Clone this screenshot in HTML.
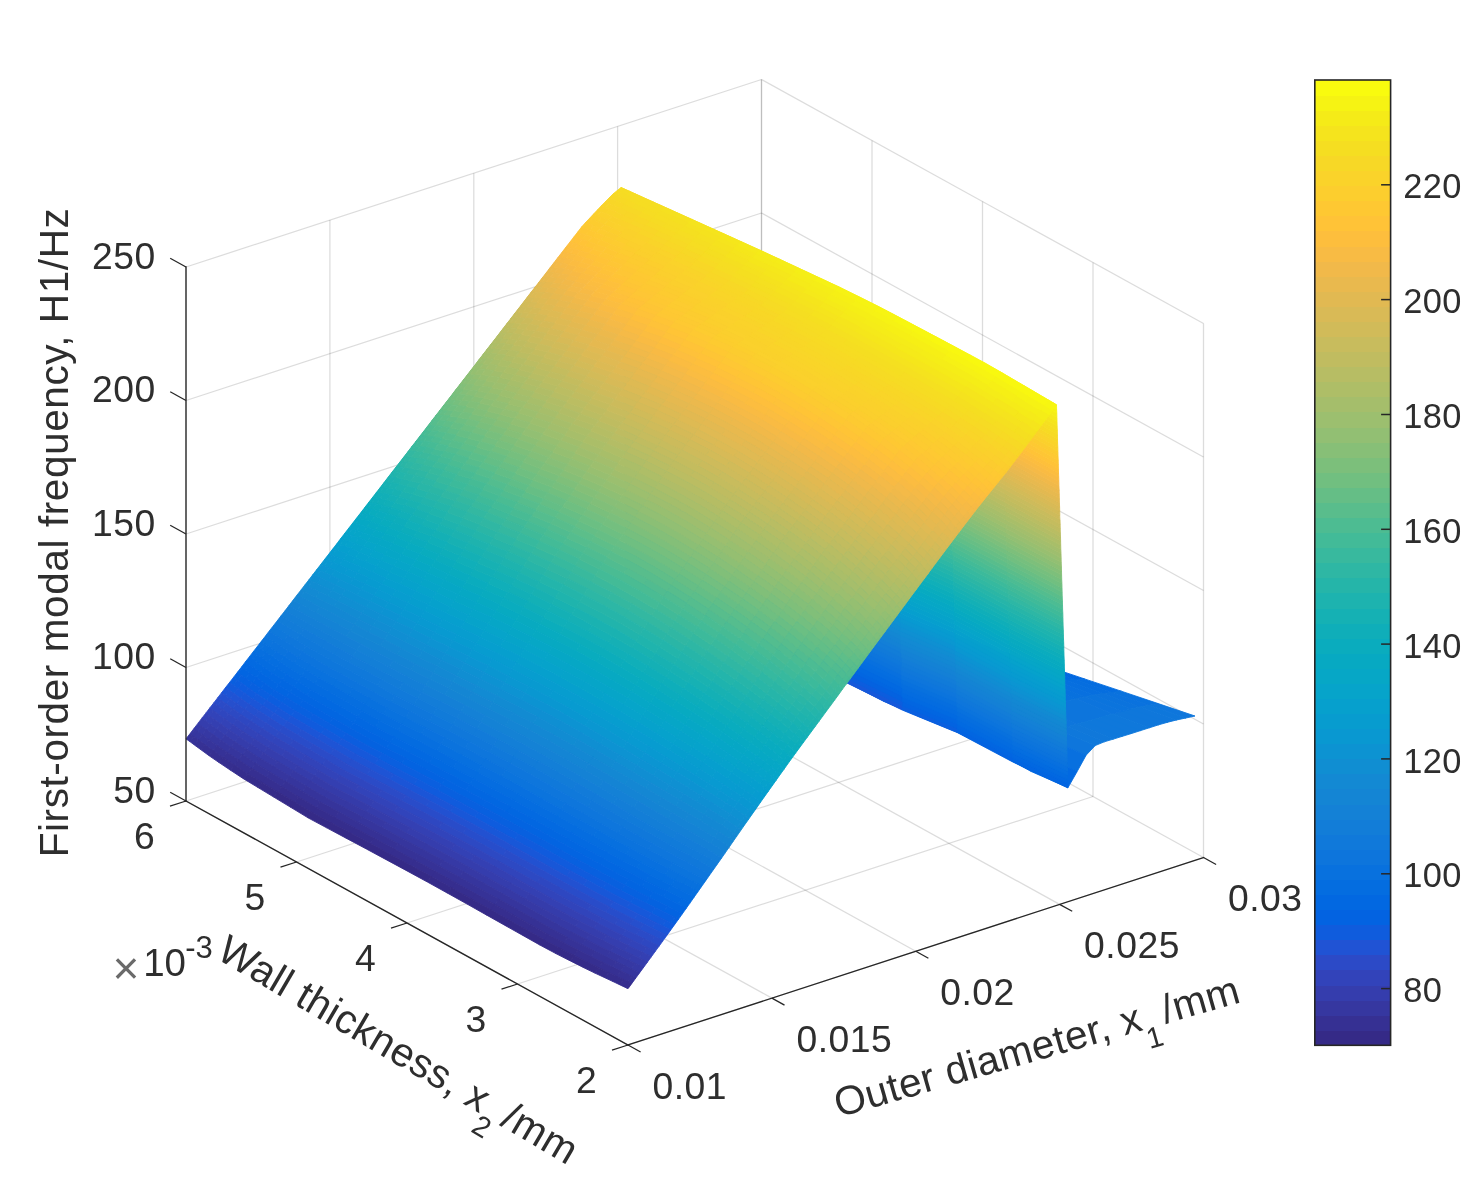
<!DOCTYPE html>
<html lang="en"><head><meta charset="utf-8"><title>First-order modal frequency surface</title>
<style>html,body{margin:0;padding:0;background:#fff}body{width:1483px;height:1185px;overflow:hidden}</style>
</head><body>
<svg width="1483" height="1185" viewBox="0 0 1483 1185" style="display:block" role="img" aria-label="3D surface plot of first-order modal frequency versus outer diameter and wall thickness">
<rect x="0" y="0" width="1483" height="1185" fill="#ffffff"/>
<g stroke="#262626" stroke-opacity="0.16" stroke-width="1.25" fill="none" stroke-linecap="butt">
<path d="M186.0 801.0L628.0 1045.0"/>
<path d="M186.0 801.0L761.5 613.5"/>
<path d="M186.0 801.0L186.0 267.0"/>
<path d="M761.5 613.5L761.5 79.5"/>
<path d="M329.9 754.1L771.9 998.1"/>
<path d="M296.5 862.0L872.0 674.5"/>
<path d="M329.9 754.1L329.9 220.1"/>
<path d="M186.0 667.5L761.5 480.0"/>
<path d="M872.0 674.5L872.0 140.5"/>
<path d="M761.5 480.0L1203.5 724.0"/>
<path d="M473.8 707.2L915.8 951.2"/>
<path d="M407.0 923.0L982.5 735.5"/>
<path d="M473.8 707.2L473.8 173.2"/>
<path d="M186.0 534.0L761.5 346.5"/>
<path d="M982.5 735.5L982.5 201.5"/>
<path d="M761.5 346.5L1203.5 590.5"/>
<path d="M617.6 660.4L1059.6 904.4"/>
<path d="M517.5 984.0L1093.0 796.5"/>
<path d="M617.6 660.4L617.6 126.4"/>
<path d="M186.0 400.5L761.5 213.0"/>
<path d="M1093.0 796.5L1093.0 262.5"/>
<path d="M761.5 213.0L1203.5 457.0"/>
<path d="M761.5 613.5L1203.5 857.5"/>
<path d="M628.0 1045.0L1203.5 857.5"/>
<path d="M761.5 613.5L761.5 79.5"/>
<path d="M186.0 267.0L761.5 79.5"/>
<path d="M1203.5 857.5L1203.5 323.5"/>
<path d="M761.5 79.5L1203.5 323.5"/>
</g>
<g stroke-width="0.9" stroke-linejoin="round">
<path d="M743.9 565.1l9.1 2.4l36.8 12.4l-9 -2.1z" fill="#352b89" stroke="#352b89"/>
<path d="M780.8 577.8l9 2.1l36.9 12.3l-9.1 -1.6z" fill="#363297" stroke="#363297"/>
<path d="M817.6 590.6l9.1 1.6l36.8 12.4l-9.1 -1.3zM716.7 558.7l9.1 1.9l36.8 13.4l-9.1 -1.5z" fill="#3639a5" stroke="#3639a5"/>
<path d="M854.4 603.3l9.1 1.3l36.8 12.4l-9 -1z" fill="#3440b3" stroke="#3440b3"/>
<path d="M891.3 616l9 1l36.9 12.4l-9.1 -0.6zM836.3 601l9.1 1l36.8 13.1l-9.1 -0.6zM626 577.6l9.1 -11.6l36.8 17.1l-9.1 12z" fill="#2e47c1" stroke="#2e47c1"/>
<path d="M928.1 628.8l9.1 0.6l36.8 12.4l-9.1 -0.3zM873.1 614.5l9.1 0.6l36.8 13.1l-9 -0.3zM818.1 599.8l9.1 0.4l36.8 13.8l-9 0.1zM763.2 584.1l9 0.8l36.9 14.6l-9.1 -0.5z" fill="#2450cf" stroke="#2450cf"/>
<path d="M964.9 641.5l9.1 0.3l36.8 12.3l-9 0.2zM745 582.4l9.1 0.9l36.8 15.3l-9 -0.5zM708.7 600.3l9.1 -12.8l36.8 16.8l-9 13.1z" fill="#135adb" stroke="#135adb"/>
<path d="M1001.8 654.3l9 -0.2l36.9 12.4l-9.1 0.5zM937.7 641.7l9.1 -0.3l36.8 13.7l-9.1 0.8zM772.8 597.5l9.1 0.6l36.8 15.6l-9.1 -0.2z" fill="#0462e0" stroke="#0462e0"/>
<path d="M1038.6 667l9.1 -0.5l36.8 12.4l-9.1 0.6zM892.9 687.1l9.1 -14.7l36.8 15.4l-9.1 14.9z" fill="#0268e1" stroke="#0268e1"/>
<path d="M1075.4 679.5l9.1 -0.6l36.8 12.3l-9 1.2zM1002.3 670.7l9.1 -1.4l36.8 13.2l-9.1 1.6zM929.2 661.5l9.1 -1l36.8 14.4l-9.1 1.2z" fill="#056de0" stroke="#056de0"/>
<path d="M1112.3 692.4l9 -1.2l36.9 12.4l-9.1 1.7zM1030.1 685.7l9 -1.6l36.9 14.7l-9.1 2.1zM957 677.4l9 -1.3l36.9 14.2l-9.1 1.4z" fill="#0972de" stroke="#0972de"/>
<path d="M1149.1 705.3l9.1 -1.7l36.8 12.4l-9.1 2zM1030.6 708.8l9.1 -1.9l36.8 17.4l-9 2.5zM1021.5 711.8l9.1 -3l36.9 18l-9.1 3.5zM1049.3 739.6l9.1 -9.3l36.8 15.3l-9.1 9.6z" fill="#0e76dc" stroke="#0e76dc"/>
<path d="M734.9 562.6l9 2.5l36.9 12.7l-9.1 -2.1z" fill="#363093" stroke="#363093"/>
<path d="M771.7 575.7l9.1 2.1l36.8 12.8l-9.1 -1.7z" fill="#3637a0" stroke="#3637a0"/>
<path d="M808.5 588.9l9.1 1.7l36.8 12.7l-9 -1.3zM707.6 557.2l9.1 1.5l36.8 13.8l-9 -1.1z" fill="#353dad" stroke="#353dad"/>
<path d="M845.4 602l9 1.3l36.9 12.7l-9.1 -0.9zM689.5 554.2l9.1 1.6l36.8 14.5l-9.1 -1.1z" fill="#3144bb" stroke="#3144bb"/>
<path d="M882.2 615.1l9.1 0.9l36.8 12.8l-9.1 -0.6zM827.2 600.2l9.1 0.8l36.8 13.5l-9.1 -0.5zM772.2 584.9l9.1 0.7l36.8 14.2l-9 -0.3z" fill="#294cc9" stroke="#294cc9"/>
<path d="M919 628.2l9.1 0.6l36.8 12.7l-9 -0.2zM864 614l9.1 0.5l36.9 13.4l-9.1 0zM754.1 583.3l9.1 0.8l36.8 14.9l-9.1 -0.4zM773.3 647.6l9.1 -13.1l36.8 17.2l-9 13.4z" fill="#1e54d5" stroke="#1e54d5"/>
<path d="M955.9 641.3l9 0.2l36.9 12.8l-9.1 0.3zM836.8 614l9.1 0.1l36.8 14.5l-9 0.3zM736 581.4l9 1l36.9 15.7l-9.1 -0.6zM745.6 617.4l9 -13.1l36.9 16.8l-9.1 13.4z" fill="#0c5dde" stroke="#0c5dde"/>
<path d="M992.7 654.6l9.1 -0.3l36.8 12.7l-9.1 0.4zM928.6 642.5l9.1 -0.8l36.8 14.2l-9 1.2zM754.6 604.3l9.1 -6.3l36.8 16.4l-9 6.7zM819.2 651.7l9.1 -13.9l36.8 16.8l-9 14.2zM920.7 717.2l9 -14.5l36.9 14.9l-9.1 14.7z" fill="#0364e1" stroke="#0364e1"/>
<path d="M1029.5 667.4l9.1 -0.4l36.8 12.5l-9 0.7zM956.4 658.3l9.1 -1.2l36.8 13.6l-9.1 1.5zM828.3 637.8l9.1 -7l36.8 16.4l-9.1 7.4z" fill="#026ae1" stroke="#026ae1"/>
<path d="M1066.4 680.2l9 -0.7l36.9 12.9l-9.1 1.1zM920.1 662.5l9.1 -1l36.8 14.6l-9 1.3z" fill="#066edf" stroke="#066edf"/>
<path d="M1103.2 693.5l9.1 -1.1l36.8 12.9l-9.1 1.7zM1021 687.3l9.1 -1.6l36.8 15.2l-9.1 2zM947.9 679.7l9.1 -2.3l36.8 14.3l-9.1 2.5z" fill="#0a72de" stroke="#0a72de"/>
<path d="M1140 707l9.1 -1.7l36.8 12.7l-9 1.9z" fill="#0e77db" stroke="#0e77db"/>
<path d="M725.8 560.6l9.1 2l36.8 13.1l-9.1 -1.7z" fill="#36359d" stroke="#36359d"/>
<path d="M762.6 574l9.1 1.7l36.8 13.2l-9 -1.4z" fill="#353ba9" stroke="#353ba9"/>
<path d="M799.5 587.5l9 1.4l36.9 13.1l-9.1 -1zM698.6 555.8l9 1.4l36.9 14.2l-9.1 -1.1z" fill="#3341b5" stroke="#3341b5"/>
<path d="M910 627.9l9 0.3l36.9 13.1l-9.1 0.1zM699.1 565.4l9.1 1.3l36.8 15.7l-9 -1zM653.2 548.8l9.1 0.6l36.8 16l-9.1 -0.2zM644.1 554l9.1 -5.2l36.8 16.4l-9 5.6zM810.2 665.1l9 -13.4l36.9 17.1l-9.1 13.8z" fill="#1658da" stroke="#1658da"/>
<path d="M946.8 641.4l9.1 -0.1l36.8 13.3l-9.1 0.5z" fill="#0860df" stroke="#0860df"/>
<path d="M983.6 655.1l9.1 -0.5l36.8 12.8l-9 0.9zM919.6 643.2l9 -0.7l36.9 14.6l-9.1 1.2zM809.6 613.5l9.1 0.2l36.8 15.7l-9 0.2zM791.5 621.1l9 -6.7l36.9 16.4l-9.1 7zM856.1 668.8l9 -14.2l36.9 17.8l-9.1 14.7zM957.5 732.3l9.1 -14.7l36.8 18.5l-9.1 15.2z" fill="#0266e1" stroke="#0266e1"/>
<path d="M1020.5 668.3l9 -0.9l36.9 12.8l-9.1 1zM947.3 659.4l9.1 -1.1l36.8 13.9l-9 1.3zM865.1 654.6l9.1 -7.4l36.8 17.4l-9 7.8z" fill="#036be0" stroke="#036be0"/>
<path d="M1057.3 681.2l9.1 -1l36.8 13.3l-9.1 1.5zM984.2 673.5l9 -1.3l36.9 13.5l-9.1 1.6zM911 664.6l9.1 -2.1l36.9 14.9l-9.1 2.3zM1003.4 736.1l9.1 -15.6l36.8 19.1l-9.1 16.2z" fill="#076fdf" stroke="#076fdf"/>
<path d="M1094.1 695l9.1 -1.5l36.8 13.5l-9 2.1zM1011.9 688.8l9.1 -1.5l36.8 15.6l-9 2.1zM975.6 702.5l9.1 -8.3l36.8 17.6l-9 8.7z" fill="#0b73dd" stroke="#0b73dd"/>
<path d="M1131 709.1l9 -2.1l36.9 12.9l-9.1 2.3zM1121.9 711.3l9.1 -2.2l36.8 13.1l-9.1 2.6zM1112.8 714l9.1 -2.7l36.8 13.5l-9.1 2.9z" fill="#0f77db" stroke="#0f77db"/>
<path d="M753.5 572.5l9.1 1.5l36.9 13.5l-9.1 -1.1z" fill="#343fb1" stroke="#343fb1"/>
<path d="M790.4 586.4l9.1 1.1l36.8 13.5l-9.1 -0.8z" fill="#3045bd" stroke="#3045bd"/>
<path d="M900.9 627.9l9.1 0l36.8 13.5l-9.1 0.3zM690 565.2l9.1 0.2l36.9 16l-9.1 0.2zM681 570.8l9 -5.6l36.9 16.4l-9.1 5.9z" fill="#0e5cde" stroke="#0e5cde"/>
<path d="M974.5 655.9l9.1 -0.8l36.9 13.2l-9.1 1zM910.5 643.9l9.1 -0.7l36.8 15.1l-9.1 1.1zM855.5 629.4l9.1 -0.2l36.8 15.3l-9 0.6zM800.5 614.4l9.1 -0.9l36.9 16.1l-9.1 1.2zM994.3 751.3l9.1 -15.2l36.8 19.7l-9 15.7z" fill="#0267e1" stroke="#0267e1"/>
<path d="M1011.4 669.3l9.1 -1l36.8 12.9l-9.1 1.3zM938.3 660.5l9 -1.1l36.9 14.1l-9.1 1.4zM883.3 645.6l9.1 -0.5l36.8 16.4l-9.1 1zM874.2 647.2l9.1 -1.6l36.8 16.9l-9.1 2.1zM929.7 702.7l9.1 -14.9l36.8 14.7l-9 15.1z" fill="#046ce0" stroke="#046ce0"/>
<path d="M1048.2 682.5l9.1 -1.3l36.8 13.8l-9.1 1.7zM966 676.1l9.1 -1.2l36.8 13.9l-9 1.5zM1040.2 755.8l9.1 -16.2l36.8 15.6l-9 16.4z" fill="#0870df" stroke="#0870df"/>
<path d="M1085 696.7l9.1 -1.7l36.9 14.1l-9.1 2.2zM1002.9 690.3l9 -1.5l36.9 16.2l-9.1 1.9z" fill="#0b74dd" stroke="#0b74dd"/>
<path d="M744.5 571.4l9 1.1l36.9 13.9l-9.1 -0.8z" fill="#3342b7" stroke="#3342b7"/>
<path d="M781.3 585.6l9.1 0.8l36.8 13.8l-9.1 -0.4zM680.4 552.7l9.1 1.5l36.8 15l-9 -1.2z" fill="#2d49c3" stroke="#2d49c3"/>
<path d="M855 614.1l9 -0.1l36.9 13.9l-9.1 0.4zM800 599l9.1 0.5l36.8 14.6l-9.1 -0.1z" fill="#1857d8" stroke="#1857d8"/>
<path d="M891.8 628.3l9.1 -0.4l36.8 13.8l-9.1 0.8zM781.9 598.1l9 0.5l36.9 15.3l-9.1 -0.2zM883.8 701.4l9.1 -14.3l36.8 15.6l-9 14.5z" fill="#0a5fdf" stroke="#0a5fdf"/>
<path d="M965.5 657.1l9 -1.2l36.9 13.4l-9.1 1.4zM901.4 644.5l9.1 -0.6l36.8 15.5l-9 1.1zM846.5 629.6l9 -0.2l36.9 15.7l-9.1 0.5zM1031.2 771.5l9 -15.7l36.9 15.8l-9.1 16z" fill="#0269e1" stroke="#0269e1"/>
<path d="M1039.1 684.1l9.1 -1.6l36.8 14.2l-9 2.1zM938.8 687.8l9.1 -8.1l36.8 14.5l-9.1 8.3z" fill="#0871de" stroke="#0871de"/>
<path d="M1076 698.8l9 -2.1l36.9 14.6l-9.1 2.7zM993.8 691.7l9.1 -1.4l36.8 16.6l-9.1 1.9zM1012.5 720.5l9 -8.7l36.9 18.5l-9.1 9.3z" fill="#0c74dd" stroke="#0c74dd"/>
<path d="M735.4 570.3l9.1 1.1l36.8 14.2l-9.1 -0.7z" fill="#2f46bf" stroke="#2f46bf"/>
<path d="M809.1 599.5l9 0.3l36.9 14.3l-9.1 0zM708.2 566.7l9.1 1.3l36.8 15.3l-9.1 -0.9zM662.3 549.4l9.1 1.6l36.8 15.7l-9.1 -1.3z" fill="#2053d4" stroke="#2053d4"/>
<path d="M845.9 614.1l9.1 0l36.8 14.2l-9.1 0.3zM790.9 598.6l9.1 0.4l36.8 15l-9 -0.1zM847 682.6l9.1 -13.8l36.8 18.3l-9.1 14.3z" fill="#105bdd" stroke="#105bdd"/>
<path d="M882.7 628.6l9.1 -0.3l36.8 14.2l-9 0.7zM827.8 613.9l9 0.1l36.9 14.9l-9.1 0.3zM726.9 581.6l9.1 -0.2l36.8 16.1l-9.1 0.5zM717.8 587.5l9.1 -5.9l36.8 16.4l-9.1 6.3zM782.4 634.5l9.1 -13.4l36.8 16.7l-9.1 13.9z" fill="#0661e0" stroke="#0661e0"/>
<path d="M993.2 672.2l9.1 -1.5l36.8 13.4l-9 1.6zM902 672.4l9 -7.8l36.9 15.1l-9.1 8.1zM966.6 717.6l9 -15.1l36.9 18l-9.1 15.6z" fill="#056ee0" stroke="#056ee0"/>
<path d="M1066.9 700.9l9.1 -2.1l36.8 15.2l-9.1 2.6zM1057.8 702.9l9.1 -2l36.8 15.7l-9 2.6zM1048.8 705l9 -2.1l36.9 16.3l-9.1 2.6zM1039.7 706.9l9.1 -1.9l36.8 16.8l-9.1 2.5zM984.7 694.2l9.1 -2.5l36.8 17.1l-9.1 3z" fill="#0d75dc" stroke="#0d75dc"/>
<path d="M1103.7 716.6l9.1 -2.6l36.8 13.7l-9 2.9zM1094.7 719.2l9 -2.6l36.9 14l-9.1 2.9zM1085.6 721.8l9.1 -2.6l36.8 14.3l-9.1 2.8zM1076.5 724.3l9.1 -2.5l36.8 14.5l-9 2.8zM1058.4 730.3l9.1 -3.5l36.8 15l-9.1 3.8z" fill="#0f78db" stroke="#0f78db"/>
<path d="M726.3 569.2l9.1 1.1l36.8 14.6l-9 -0.8zM662.8 595.1l9.1 -12l36.8 17.2l-9 12.3z" fill="#2c4ac5" stroke="#2c4ac5"/>
<path d="M873.7 628.9l9 -0.3l36.9 14.6l-9.1 0.7zM818.7 613.7l9.1 0.2l36.8 15.3l-9.1 0.2z" fill="#0363e1" stroke="#0363e1"/>
<path d="M717.3 568l9 1.2l36.9 14.9l-9.1 -0.8z" fill="#264fcd" stroke="#264fcd"/>
<path d="M864.6 629.2l9.1 -0.3l36.8 15l-9.1 0.6zM763.7 598l9.1 -0.5l36.8 16l-9.1 0.9z" fill="#0265e1" stroke="#0265e1"/>
<path d="M975.1 674.9l9.1 -1.4l36.8 13.8l-9.1 1.5z" fill="#0770df" stroke="#0770df"/>
<path d="M671.4 551l9 1.7l36.9 15.3l-9.1 -1.3zM699.7 612.6l9 -12.3l36.9 17.1l-9.1 12.7z" fill="#274dcb" stroke="#274dcb"/>
<path d="M892.4 645.1l9 -0.6l36.9 16l-9.1 1zM837.4 630.8l9.1 -1.2l36.8 16l-9.1 1.6z" fill="#036ae1" stroke="#036ae1"/>
<path d="M1067.5 726.8l9 -2.5l36.9 14.8l-9.1 2.7z" fill="#1078da" stroke="#1078da"/>
<path d="M635.1 566l9 -12l36.9 16.8l-9.1 12.3zM736.5 630.1l9.1 -12.7l36.8 17.1l-9.1 13.1z" fill="#2251d1" stroke="#2251d1"/>
<path d="M671.9 583.1l9.1 -12.3l36.8 16.7l-9.1 12.8z" fill="#1b55d7" stroke="#1b55d7"/>
<path d="M625.9 573.7l0.1 4.3l55.2 26.2l0 -4.3z" fill="#3045bd" stroke="#3045bd"/>
<path d="M681.2 599.9l0 4.3l55.3 26.3l-0.1 -4.4zM625.9 569.3l0 4.4l55.3 26.2l-0.1 -4.4z" fill="#2c4ac5" stroke="#2c4ac5"/>
<path d="M736.4 626.1l0.1 4.4l55.3 26.3l-0.1 -4.4zM681.1 595.5l0.1 4.4l55.2 26.2l0 -4.4zM625.8 565l0.1 4.3l55.2 26.2l0 -4.3z" fill="#264fcd" stroke="#264fcd"/>
<path d="M791.7 652.4l0.1 4.4l55.2 26.2l-0.1 -4.4zM736.4 621.7l0 4.4l55.3 26.3l-0.1 -4.4z" fill="#2053d4" stroke="#2053d4"/>
<path d="M846.9 678.6l0.1 4.4l55.2 27l-0.1 -4.4zM791.6 648l0.1 4.4l55.2 26.2l-0.1 -4.4zM736.3 617.4l0.1 4.3l55.2 26.3l-0.1 -4.4z" fill="#1658da" stroke="#1658da"/>
<path d="M902.1 705.6l0.1 4.4l55.3 22.7l-0.1 -4.3z" fill="#0a5fdf" stroke="#0a5fdf"/>
<path d="M957.4 728.4l0.1 4.3l55.3 29.3l-0.2 -4.4zM902 701.2l0.1 4.4l55.3 22.8l-0.1 -4.3z" fill="#0363e1" stroke="#0363e1"/>
<path d="M1012.6 757.6l0.2 4.4l55.2 26l-0.1 -4.3z" fill="#0265e1" stroke="#0265e1"/>
<path d="M846.8 674.2l0.1 4.4l55.2 27l-0.1 -4.4zM791.5 643.6l0.1 4.4l55.2 26.2l-0.1 -4.4zM736.2 613l0.1 4.4l55.2 26.2l-0.1 -4.4zM680.9 582.5l0.1 4.3l55.2 26.2l-0.1 -4.4zM625.7 552l0 4.3l55.2 26.2l0 -4.4z" fill="#0c5dde" stroke="#0c5dde"/>
<path d="M957.3 724.1l0.1 4.3l55.2 29.2l-0.1 -4.3zM901.9 696.8l0.1 4.4l55.3 22.9l-0.1 -4.4zM846.6 665.4l0.1 4.4l55.2 27l-0.1 -4.4zM791.3 634.8l0.1 4.4l55.2 26.2l-0.1 -4.4zM736.1 604.2l0 4.4l55.2 26.2l0 -4.4zM680.8 573.7l0.1 4.4l55.2 26.1l-0.1 -4.3zM625.6 543.3l0 4.3l55.2 26.1l-0.1 -4.3z" fill="#0266e1" stroke="#0266e1"/>
<path d="M1012.5 753.3l0.1 4.3l55.3 26.1l-0.2 -4.2z" fill="#0268e1" stroke="#0268e1"/>
<path d="M681.1 591.2l0 4.3l55.3 26.2l-0.1 -4.3zM625.8 560.6l0 4.4l55.3 26.2l-0.1 -4.4z" fill="#1e54d5" stroke="#1e54d5"/>
<path d="M846.7 669.8l0.1 4.4l55.2 27l-0.1 -4.4zM791.4 639.2l0.1 4.4l55.2 26.2l-0.1 -4.4zM736.1 608.6l0.1 4.4l55.2 26.2l-0.1 -4.4zM680.9 578.1l0 4.4l55.2 26.1l0 -4.4zM625.6 547.6l0.1 4.4l55.2 26.1l-0.1 -4.4z" fill="#0462e0" stroke="#0462e0"/>
<path d="M957.2 719.7l0.1 4.4l55.2 29.2l-0.1 -4.3zM901.8 692.4l0.1 4.4l55.3 22.9l-0.1 -4.3z" fill="#026ae1" stroke="#026ae1"/>
<path d="M1012.4 749l0.1 4.3l55.2 26.2l-0.1 -4.3z" fill="#036be0" stroke="#036be0"/>
<path d="M681 586.8l0.1 4.4l55.2 26.2l-0.1 -4.4zM625.7 556.3l0.1 4.3l55.2 26.2l-0.1 -4.3z" fill="#135adb" stroke="#135adb"/>
<path d="M957.1 715.4l0.1 4.3l55.2 29.3l-0.1 -4.3zM901.7 688l0.1 4.4l55.3 23l-0.1 -4.3zM846.5 656.6l0.1 4.4l55.2 27l-0.1 -4.4zM791.2 626l0.1 4.4l55.1 26.2l0 -4.4zM735.9 595.5l0.1 4.4l55.2 26.1l-0.1 -4.4zM680.7 565l0 4.4l55.2 26.1l-0.1 -4.4zM625.4 534.6l0.1 4.4l55.2 26l-0.1 -4.3z" fill="#046ce0" stroke="#046ce0"/>
<path d="M1012.3 744.7l0.1 4.3l55.2 26.2l-0.1 -4.2zM846.4 652.2l0 4.4l55.2 27l-0.1 -4.4z" fill="#056ee0" stroke="#056ee0"/>
<path d="M846.5 661l0.1 4.4l55.2 27l-0.1 -4.4zM791.3 630.4l0 4.4l55.2 26.2l-0.1 -4.4zM736 599.9l0.1 4.3l55.2 26.2l-0.1 -4.4zM680.7 569.4l0.1 4.3l55.2 26.2l-0.1 -4.4zM625.5 539l0.1 4.3l55.1 26.1l0 -4.4z" fill="#0269e1" stroke="#0269e1"/>
<path d="M957 711.1l0.1 4.3l55.2 29.3l-0.1 -4.4zM901.6 683.6l0.1 4.4l55.3 23.1l-0.2 -4.4zM791.1 621.6l0.1 4.4l55.2 26.2l-0.1 -4.4zM735.8 591.1l0.1 4.4l55.2 26.1l-0.1 -4.4zM680.6 560.7l0.1 4.3l55.1 26.1l0 -4.4zM625.4 530.3l0 4.3l55.2 26.1l-0.1 -4.4z" fill="#066edf" stroke="#066edf"/>
<path d="M1012.2 740.3l0.1 4.4l55.2 26.3l-0.1 -4.3zM846.3 647.8l0.1 4.4l55.1 27l-0.1 -4.3z" fill="#0870df" stroke="#0870df"/>
<path d="M956.8 706.7l0.2 4.4l55.2 29.2l-0.2 -4.3zM901.5 679.2l0.1 4.4l55.2 23.1l-0.1 -4.3zM791 617.2l0.1 4.4l55.2 26.2l-0.1 -4.4zM735.8 586.7l0 4.4l55.2 26.1l-0.1 -4.4zM680.5 556.3l0.1 4.4l55.2 26l-0.1 -4.3zM625.3 525.9l0.1 4.4l55.1 26l0 -4.3z" fill="#0871de" stroke="#0871de"/>
<path d="M1012 736l0.2 4.3l55.2 26.4l-0.2 -4.2zM846.2 643.4l0.1 4.4l55.1 27.1l-0.1 -4.4z" fill="#0b73dd" stroke="#0b73dd"/>
<path d="M956.7 702.4l0.1 4.3l55.2 29.3l-0.1 -4.3zM901.4 674.9l0.1 4.3l55.2 23.2l-0.1 -4.3zM790.9 612.8l0.1 4.4l55.2 26.2l-0.1 -4.4zM735.7 582.4l0.1 4.3l55.1 26.1l-0.1 -4.4zM680.5 552l0 4.3l55.2 26.1l-0.1 -4.4zM625.3 521.6l0 4.3l55.2 26.1l-0.1 -4.4z" fill="#0b74dd" stroke="#0b74dd"/>
<path d="M1011.9 731.7l0.1 4.3l55.2 26.5l-0.1 -4.3zM846.1 639l0.1 4.4l55.1 27.1l-0.1 -4.4z" fill="#0d75dc" stroke="#0d75dc"/>
<path d="M956.6 698.1l0.1 4.3l55.2 29.3l-0.1 -4.3zM901.3 670.5l0.1 4.4l55.2 23.2l-0.1 -4.4zM790.8 608.4l0.1 4.4l55.2 26.2l-0.1 -4.4zM735.6 578l0.1 4.4l55.1 26l0 -4.4zM680.4 547.6l0.1 4.4l55.1 26l-0.1 -4.4zM625.2 517.3l0.1 4.3l55.1 26l-0.1 -4.4z" fill="#0e76dc" stroke="#0e76dc"/>
<path d="M1011.8 727.4l0.1 4.3l55.2 26.5l-0.1 -4.3z" fill="#0f77db" stroke="#0f77db"/>
<path d="M956.5 693.7l0.1 4.4l55.2 29.3l-0.1 -4.3zM901.2 666.1l0.1 4.4l55.2 23.2l-0.1 -4.3zM790.8 604l0 4.4l55.2 26.2l-0.1 -4.4zM735.5 573.6l0.1 4.4l55.2 26l-0.1 -4.3zM680.3 543.2l0.1 4.4l55.1 26l0 -4.4z" fill="#1078da" stroke="#1078da"/>
<path d="M1011.7 723.1l0.1 4.3l55.2 26.5l-0.2 -4.2z" fill="#117ada" stroke="#117ada"/>
<path d="M956.4 689.4l0.1 4.3l55.2 29.4l-0.1 -4.4zM901.1 661.7l0.1 4.4l55.2 23.3l-0.1 -4.3zM790.7 599.7l0.1 4.3l55.1 26.2l-0.1 -4.4zM735.5 569.2l0 4.4l55.2 26.1l-0.1 -4.4zM680.3 538.9l0 4.3l55.2 26l-0.1 -4.4z" fill="#117bd9" stroke="#117bd9"/>
<path d="M1011.6 718.7l0.1 4.4l55.1 26.6l-0.1 -4.3z" fill="#127cd8" stroke="#127cd8"/>
<path d="M846 634.6l0.1 4.4l55.1 27.1l-0.1 -4.4zM625.2 512.9l0 4.4l55.1 25.9l0 -4.3z" fill="#0f78db" stroke="#0f78db"/>
<path d="M956.3 685.1l0.1 4.3l55.2 29.3l-0.2 -4.3zM901 657.3l0.1 4.4l55.2 23.4l-0.1 -4.3zM790.6 595.3l0.1 4.4l55.1 26.1l-0.1 -4.4zM735.4 564.8l0.1 4.4l55.1 26.1l-0.1 -4.4z" fill="#137dd8" stroke="#137dd8"/>
<path d="M1011.4 714.4l0.2 4.3l55.1 26.7l-0.1 -4.2zM845.7 621.4l0.1 4.4l55.1 27.1l-0.1 -4.4zM735.3 560.5l0.1 4.3l55.1 26.1l-0.1 -4.4zM680.2 530.2l0 4.3l55.1 26l-0.1 -4.4zM625 499.9l0.1 4.3l55.1 26l-0.1 -4.4z" fill="#137fd7" stroke="#137fd7"/>
<path d="M845.9 630.2l0.1 4.4l55.1 27.1l-0.1 -4.4zM625.1 508.6l0.1 4.3l55.1 26l-0.1 -4.4z" fill="#117ad9" stroke="#117ad9"/>
<path d="M956.2 680.8l0.1 4.3l55.1 29.3l-0.1 -4.3zM900.9 652.9l0.1 4.4l55.2 23.5l-0.1 -4.4zM790.5 590.9l0.1 4.4l55.1 26.1l-0.1 -4.4z" fill="#1480d6" stroke="#1480d6"/>
<path d="M1011.3 710.1l0.1 4.3l55.2 26.8l-0.1 -4.3z" fill="#1481d6" stroke="#1481d6"/>
<path d="M845.8 625.8l0.1 4.4l55.1 27.1l-0.1 -4.4zM680.2 534.5l0.1 4.4l55.1 25.9l-0.1 -4.3zM625.1 504.2l0 4.4l55.1 25.9l0 -4.3z" fill="#127dd8" stroke="#127dd8"/>
<path d="M956.1 676.4l0.1 4.4l55.1 29.3l-0.1 -4.3zM900.8 648.5l0.1 4.4l55.2 23.5l-0.1 -4.3zM845.6 617l0.1 4.4l55.1 27.1l-0.1 -4.4zM790.4 586.5l0.1 4.4l55.1 26.1l-0.1 -4.4zM735.2 556.1l0.1 4.4l55.1 26l-0.1 -4.4zM680.1 525.8l0.1 4.4l55 25.9l0 -4.4zM624.9 495.6l0.1 4.3l55.1 25.9l-0.1 -4.4z" fill="#1482d5" stroke="#1482d5"/>
<path d="M1011.2 705.8l0.1 4.3l55.2 26.8l-0.2 -4.3zM956 672.1l0.1 4.3l55.1 29.4l-0.1 -4.4zM845.5 612.6l0.1 4.4l55.1 27.1l-0.1 -4.4zM790.3 582.1l0.1 4.4l55.1 26.1l-0.1 -4.4zM735.2 551.7l0 4.4l55.1 26l0 -4.4zM680 521.4l0.1 4.4l55.1 25.9l-0.1 -4.4zM624.9 491.2l0 4.4l55.1 25.8l0 -4.3z" fill="#1484d4" stroke="#1484d4"/>
<path d="M1011.1 701.4l0.1 4.4l55.1 26.8l-0.1 -4.2z" fill="#1486d3" stroke="#1486d3"/>
<path d="M900.7 644.1l0.1 4.4l55.2 23.6l-0.1 -4.3z" fill="#1485d4" stroke="#1485d4"/>
<path d="M955.9 667.8l0.1 4.3l55.1 29.3l-0.1 -4.3zM845.4 608.2l0.1 4.4l55.1 27.1l-0.1 -4.4zM790.3 577.7l0 4.4l55.1 26.1l0 -4.4zM735.1 547.3l0.1 4.4l55.1 26l-0.1 -4.4zM680 517.1l0 4.3l55.1 25.9l-0.1 -4.3zM624.8 486.9l0.1 4.3l55.1 25.9l-0.1 -4.4z" fill="#1487d3" stroke="#1487d3"/>
<path d="M1011 697.1l0.1 4.3l55.1 27l-0.1 -4.3zM900.6 639.7l0.1 4.4l55.2 23.7l-0.2 -4.4z" fill="#1388d3" stroke="#1388d3"/>
<path d="M955.7 663.4l0.2 4.4l55.1 29.3l-0.2 -4.3zM900.5 635.3l0.1 4.4l55.1 23.7l-0.1 -4.3zM845.4 603.8l0 4.4l55.1 27.1l-0.1 -4.4zM790.2 573.3l0.1 4.4l55.1 26.1l-0.1 -4.4zM735 543l0.1 4.3l55.1 26l-0.1 -4.4zM679.9 512.7l0.1 4.4l55 25.9l0 -4.4zM624.8 482.5l0 4.4l55.1 25.8l-0.1 -4.3z" fill="#138ad3" stroke="#138ad3"/>
<path d="M1010.9 692.8l0.2 4.3l55.1 27l-0.1 -4.2z" fill="#128bd2" stroke="#128bd2"/>
<path d="M955.6 659.1l0.1 4.3l55.1 29.4l-0.1 -4.3zM900.4 630.9l0.1 4.4l55.1 23.8l-0.1 -4.3zM845.3 599.4l0.1 4.4l55 27.1l-0.1 -4.4zM790.1 568.9l0.1 4.4l55.1 26.1l-0.1 -4.4zM735 538.6l0 4.4l55.1 25.9l-0.1 -4.4zM679.8 508.4l0.1 4.3l55.1 25.9l-0.1 -4.4zM624.7 478.2l0.1 4.3l55 25.9l0 -4.4z" fill="#118dd2" stroke="#118dd2"/>
<path d="M1010.7 688.5l0.1 4.3l55.2 27.1l-0.2 -4.3z" fill="#108fd2" stroke="#108fd2"/>
<path d="M955.5 654.8l0.1 4.3l55.1 29.4l-0.1 -4.3zM900.3 626.5l0.1 4.4l55.1 23.9l-0.1 -4.4zM845.2 595l0.1 4.4l55 27.1l-0.1 -4.4zM790 564.5l0.1 4.4l55.1 26.1l-0.1 -4.4zM734.9 534.2l0.1 4.4l55 25.9l-0.1 -4.4zM679.8 504l0 4.4l55.1 25.8l-0.1 -4.4z" fill="#0f90d2" stroke="#0f90d2"/>
<path d="M1010.6 684.2l0.1 4.3l55.1 27.1l-0.1 -4.2z" fill="#0d92d2" stroke="#0d92d2"/>
<path d="M955.4 650.4l0.1 4.4l55.1 29.4l-0.1 -4.4zM900.2 622.1l0.1 4.4l55.1 23.9l-0.1 -4.3zM845.1 590.6l0.1 4.4l55 27.1l-0.1 -4.4zM789.9 560.1l0.1 4.4l55.1 26.1l-0.1 -4.4zM734.8 529.8l0.1 4.4l55 25.9l-0.1 -4.4zM679.7 499.7l0.1 4.3l55 25.8l-0.1 -4.3z" fill="#0c93d2" stroke="#0c93d2"/>
<path d="M1010.5 679.8l0.1 4.4l55.1 27.2l-0.1 -4.3z" fill="#0b95d2" stroke="#0b95d2"/>
<path d="M955.3 646.1l0.1 4.3l55.1 29.4l-0.1 -4.3zM900.1 617.7l0.1 4.4l55.1 24l-0.1 -4.3zM845 586.2l0.1 4.4l55 27.1l-0.1 -4.4zM789.8 555.7l0.1 4.4l55.1 26.1l-0.1 -4.4zM734.7 525.5l0.1 4.3l55 25.9l0 -4.4zM679.6 495.3l0.1 4.4l55 25.8l0 -4.4z" fill="#0a97d1" stroke="#0a97d1"/>
<path d="M1010.4 675.5l0.1 4.3l55.1 27.3l-0.2 -4.3z" fill="#0998d1" stroke="#0998d1"/>
<path d="M955.2 641.8l0.1 4.3l55.1 29.4l-0.1 -4.3zM900 613.3l0.1 4.4l55.1 24.1l-0.1 -4.3zM844.9 581.8l0.1 4.4l55 27.1l-0.1 -4.4zM789.8 551.3l0 4.4l55.1 26.1l-0.1 -4.4zM734.7 521.1l0 4.4l55.1 25.8l-0.1 -4.4zM679.6 490.9l0 4.4l55.1 25.8l-0.1 -4.4z" fill="#089ad1" stroke="#089ad1"/>
<path d="M1010.3 671.2l0.1 4.3l55 27.3l-0.1 -4.2z" fill="#079bd0" stroke="#079bd0"/>
<path d="M955.1 637.5l0.1 4.3l55.1 29.4l-0.2 -4.3zM899.9 608.9l0.1 4.4l55.1 24.2l-0.1 -4.4zM844.8 577.4l0.1 4.4l55 27.1l-0.1 -4.4zM789.7 546.9l0.1 4.4l55 26.1l-0.1 -4.4zM734.6 516.7l0.1 4.4l55 25.8l-0.1 -4.3zM679.5 486.6l0.1 4.3l55 25.8l-0.1 -4.4zM624.4 456.5l0.1 4.3l55 25.8l-0.1 -4.4z" fill="#079cd0" stroke="#079cd0"/>
<path d="M1010.1 666.9l0.2 4.3l55 27.4l-0.1 -4.3z" fill="#079dcf" stroke="#079dcf"/>
<path d="M955 633.1l0.1 4.4l55 29.4l-0.1 -4.4zM679.4 482.2l0.1 4.4l55 25.7l-0.1 -4.4zM624.4 452.2l0 4.3l55 25.7l0 -4.3z" fill="#069ece" stroke="#069ece"/>
<path d="M1010 662.5l0.1 4.4l55.1 27.4l-0.1 -4.2zM899.8 604.5l0.1 4.4l55.1 24.2l-0.1 -4.3zM844.7 573l0.1 4.4l55 27.1l-0.1 -4.4zM789.6 542.6l0.1 4.3l55 26.1l-0.1 -4.4zM734.5 512.3l0.1 4.4l55 25.9l-0.1 -4.4z" fill="#069fce" stroke="#069fce"/>
<path d="M624.7 473.9l0 4.3l55.1 25.8l-0.1 -4.3z" fill="#0f8fd2" stroke="#0f8fd2"/>
<path d="M954.9 628.8l0.1 4.3l55 29.4l-0.1 -4.3zM844.6 568.6l0.1 4.4l55 27.1l-0.1 -4.4zM679.4 477.9l0 4.3l55 25.7l0 -4.3zM624.3 447.8l0.1 4.4l55 25.7l-0.1 -4.4z" fill="#06a0cd" stroke="#06a0cd"/>
<path d="M1009.9 658.2l0.1 4.3l55.1 27.6l-0.2 -4.3z" fill="#06a2cc" stroke="#06a2cc"/>
<path d="M624.6 469.5l0.1 4.4l55 25.8l-0.1 -4.4z" fill="#0d93d2" stroke="#0d93d2"/>
<path d="M899.7 600.1l0.1 4.4l55.1 24.3l-0.1 -4.3zM789.5 538.2l0.1 4.4l55 26l-0.1 -4.4zM734.4 507.9l0.1 4.4l55 25.9l-0.1 -4.4z" fill="#06a1cc" stroke="#06a1cc"/>
<path d="M954.8 624.5l0.1 4.3l55 29.4l-0.1 -4.3zM844.5 564.2l0.1 4.4l55 27.1l-0.1 -4.4zM679.3 473.5l0.1 4.4l55 25.7l-0.1 -4.4zM624.3 443.5l0 4.3l55 25.7l-0.1 -4.3z" fill="#06a3cb" stroke="#06a3cb"/>
<path d="M1009.8 653.9l0.1 4.3l55 27.6l-0.1 -4.2z" fill="#06a4ca" stroke="#06a4ca"/>
<path d="M624.6 465.2l0 4.3l55 25.8l0 -4.4z" fill="#0a96d1" stroke="#0a96d1"/>
<path d="M899.6 595.7l0.1 4.4l55.1 24.4l-0.2 -4.4zM789.4 533.8l0.1 4.4l55 26l-0.1 -4.4zM734.4 503.6l0 4.3l55 25.9l0 -4.4z" fill="#06a3ca" stroke="#06a3ca"/>
<path d="M954.6 620.1l0.2 4.4l55 29.4l-0.1 -4.3zM844.4 559.8l0.1 4.4l55 27.1l-0.1 -4.4zM734.3 499.2l0.1 4.4l55 25.8l-0.1 -4.4zM679.2 469.2l0.1 4.3l55 25.7l-0.1 -4.4zM624.2 439.2l0.1 4.3l54.9 25.7l0 -4.4z" fill="#06a5c9" stroke="#06a5c9"/>
<path d="M1009.7 649.6l0.1 4.3l55 27.7l-0.1 -4.3zM624.2 434.8l0 4.4l55 25.6l-0.1 -4.4z" fill="#06a6c7" stroke="#06a6c7"/>
<path d="M624.5 460.9l0.1 4.4l55 25.7l-0.1 -4.3z" fill="#0899d1" stroke="#0899d1"/>
<path d="M899.5 591.3l0.1 4.4l55 24.4l-0.1 -4.3zM789.4 529.4l0 4.4l55 26l-0.1 -4.4z" fill="#06a5c8" stroke="#06a5c8"/>
<path d="M954.5 615.8l0.1 4.3l55.1 29.5l-0.2 -4.3zM844.3 555.4l0.1 4.4l55 27.1l-0.1 -4.4zM734.2 494.8l0.1 4.4l55 25.8l-0.1 -4.4zM679.2 464.8l0 4.4l55 25.6l-0.1 -4.4z" fill="#06a6c6" stroke="#06a6c6"/>
<path d="M1009.5 645.3l0.2 4.3l55 27.7l-0.1 -4.3z" fill="#06a7c5" stroke="#06a7c5"/>
<path d="M899.4 586.9l0.1 4.4l55 24.5l-0.1 -4.3zM789.3 525l0.1 4.4l54.9 26l-0.1 -4.4z" fill="#06a7c6" stroke="#06a7c6"/>
<path d="M954.4 611.5l0.1 4.3l55 29.5l-0.1 -4.4zM899.3 582.5l0.1 4.4l55 24.6l-0.1 -4.3zM844.2 551l0.1 4.4l55 27.1l-0.1 -4.4zM734.1 490.4l0.1 4.4l55 25.8l-0.1 -4.4zM679.1 460.4l0.1 4.4l54.9 25.6l0 -4.3zM624.1 430.5l0.1 4.3l54.9 25.6l0 -4.3z" fill="#06a8c4" stroke="#06a8c4"/>
<path d="M1009.4 640.9l0.1 4.4l55.1 27.7l-0.2 -4.2zM624.1 426.1l0 4.4l55 25.6l-0.1 -4.4z" fill="#07a9c2" stroke="#07a9c2"/>
<path d="M954.3 607.2l0.1 4.3l55 29.4l-0.1 -4.3zM899.2 578.1l0.1 4.4l55 24.7l-0.1 -4.4zM844.2 546.6l0 4.4l55 27.1l-0.1 -4.4zM734.1 486.1l0 4.3l55 25.8l-0.1 -4.4zM679.1 456.1l0 4.3l55 25.7l-0.1 -4.4z" fill="#07aac1" stroke="#07aac1"/>
<path d="M1009.3 636.6l0.1 4.3l55 27.9l-0.1 -4.3zM789.1 516.2l0.1 4.4l55 26l-0.1 -4.4z" fill="#08aac0" stroke="#08aac0"/>
<path d="M954.2 602.8l0.1 4.4l55 29.4l-0.1 -4.3zM899.1 573.7l0.1 4.4l55 24.7l-0.1 -4.3zM844.1 542.2l0.1 4.4l54.9 27.1l-0.1 -4.4zM789 511.8l0.1 4.4l55 26l-0.1 -4.4zM734 481.7l0.1 4.4l54.9 25.7l-0.1 -4.4zM679 451.7l0.1 4.4l54.9 25.6l-0.1 -4.4z" fill="#09acbe" stroke="#09acbe"/>
<path d="M1009.2 632.3l0.1 4.3l55 27.9l-0.1 -4.2z" fill="#0aacbe" stroke="#0aacbe"/>
<path d="M789.2 520.6l0.1 4.4l54.9 26l0 -4.4z" fill="#07a9c3" stroke="#07a9c3"/>
<path d="M954.1 598.5l0.1 4.3l55 29.5l-0.1 -4.3zM623.9 417.5l0.1 4.3l54.9 25.6l0 -4.4z" fill="#0badbc" stroke="#0badbc"/>
<path d="M1009.1 628l0.1 4.3l55 28l-0.2 -4.3z" fill="#0dadbb" stroke="#0dadbb"/>
<path d="M899 569.3l0.1 4.4l55 24.8l-0.1 -4.3zM844 537.8l0.1 4.4l54.9 27.1l-0.1 -4.4zM788.9 507.4l0.1 4.4l55 26l-0.1 -4.4zM733.9 477.3l0.1 4.4l54.9 25.7l0 -4.4zM678.9 447.4l0.1 4.3l54.9 25.6l-0.1 -4.4z" fill="#0cadbb" stroke="#0cadbb"/>
<path d="M954 594.2l0.1 4.3l55 29.5l-0.1 -4.4zM623.9 413.1l0 4.4l55 25.5l-0.1 -4.4z" fill="#0faeb9" stroke="#0faeb9"/>
<path d="M1009 623.6l0.1 4.4l54.9 28l-0.1 -4.2z" fill="#11afb8" stroke="#11afb8"/>
<path d="M898.9 564.9l0.1 4.4l55 24.9l-0.1 -4.4zM843.9 533.4l0.1 4.4l54.9 27.1l-0.1 -4.4zM788.9 503l0 4.4l55 26l-0.1 -4.4zM733.9 472.9l0.1 4.4l55 25.7l-0.1 -4.4zM678.9 443l0 4.4l54.9 25.5l0 -4.3z" fill="#10afb9" stroke="#10afb9"/>
<path d="M953.9 589.8l0.1 4.4l55 29.4l-0.2 -4.3zM678.8 438.6l0.1 4.4l54.9 25.6l-0.1 -4.4zM623.8 408.8l0.1 4.3l54.9 25.5l-0.1 -4.3z" fill="#13b0b6" stroke="#13b0b6"/>
<path d="M1008.8 619.3l0.2 4.3l54.9 28.2l-0.1 -4.3z" fill="#15b0b5" stroke="#15b0b5"/>
<path d="M898.8 560.5l0.1 4.4l55 24.9l-0.1 -4.3zM843.8 529l0.1 4.4l54.9 27.1l-0.1 -4.4zM788.8 498.6l0.1 4.4l54.9 26l-0.1 -4.4zM733.8 468.6l0 4.3l55 25.7l-0.1 -4.4z" fill="#14b0b5" stroke="#14b0b5"/>
<path d="M953.8 585.5l0.1 4.3l54.9 29.5l-0.1 -4.3zM678.7 434.3l0.1 4.3l54.9 25.6l-0.1 -4.4zM623.8 404.4l0 4.4l54.9 25.5l0 -4.4z" fill="#17b1b3" stroke="#17b1b3"/>
<path d="M1008.7 615l0.1 4.3l55 28.2l-0.1 -4.3z" fill="#19b2b1" stroke="#19b2b1"/>
<path d="M898.7 556.1l0.1 4.4l55 25l-0.1 -4.3zM843.7 524.6l0.1 4.4l54.9 27.1l-0.1 -4.4zM788.7 494.2l0.1 4.4l54.9 26l-0.1 -4.4zM733.7 464.2l0.1 4.4l54.9 25.6l-0.1 -4.3z" fill="#18b1b2" stroke="#18b1b2"/>
<path d="M953.7 581.2l0.1 4.3l54.9 29.5l-0.1 -4.3zM678.7 429.9l0 4.4l54.9 25.5l0 -4.4zM623.7 400.1l0.1 4.3l54.9 25.5l-0.1 -4.3z" fill="#1cb2b0" stroke="#1cb2b0"/>
<path d="M1008.6 610.7l0.1 4.3l55 28.2l-0.2 -4.2zM898.6 551.7l0.1 4.4l55 25.1l-0.1 -4.4zM843.6 520.2l0.1 4.4l54.9 27.1l-0.1 -4.4zM788.6 489.9l0.1 4.3l54.9 26l-0.1 -4.4zM733.6 459.8l0.1 4.4l54.9 25.7l-0.1 -4.4z" fill="#1db3af" stroke="#1db3af"/>
<path d="M624 421.8l0.1 4.3l54.9 25.6l-0.1 -4.3z" fill="#09abbf" stroke="#09abbf"/>
<path d="M953.5 576.8l0.1 4.4l54.9 29.5l-0.1 -4.3zM678.6 425.6l0.1 4.3l54.9 25.5l-0.1 -4.4z" fill="#21b4ac" stroke="#21b4ac"/>
<path d="M1008.5 606.4l0.1 4.3l54.9 28.3l-0.1 -4.3zM898.5 547.3l0.1 4.4l55 25.1l-0.2 -4.3zM843.5 515.8l0.1 4.4l54.9 27.1l-0.1 -4.4zM788.5 485.5l0.1 4.4l54.9 25.9l-0.1 -4.4zM733.6 455.4l0 4.4l54.9 25.7l-0.1 -4.4z" fill="#22b4ac" stroke="#22b4ac"/>
<path d="M953.4 572.5l0.2 4.3l54.9 29.6l-0.1 -4.4zM678.5 421.2l0.1 4.4l54.9 25.4l-0.1 -4.3z" fill="#26b5a9" stroke="#26b5a9"/>
<path d="M1008.4 602l0.1 4.4l54.9 28.3l-0.1 -4.2zM898.4 542.9l0.1 4.4l54.9 25.2l-0.1 -4.3zM843.4 511.4l0.1 4.4l54.9 27.1l-0.1 -4.4zM788.4 481.1l0.1 4.4l54.9 25.9l-0.1 -4.4zM733.5 451l0.1 4.4l54.8 25.7l0 -4.4z" fill="#27b5a8" stroke="#27b5a8"/>
<path d="M953.3 568.2l0.1 4.3l55 29.5l-0.2 -4.3zM678.5 416.9l0 4.3l54.9 25.5l-0.1 -4.4z" fill="#2bb6a5" stroke="#2bb6a5"/>
<path d="M1008.2 597.7l0.2 4.3l54.9 28.5l-0.2 -4.3zM898.3 538.5l0.1 4.4l54.9 25.3l-0.1 -4.3zM843.3 507l0.1 4.4l54.9 27.1l-0.1 -4.4zM788.4 476.7l0 4.4l54.9 25.9l-0.1 -4.4zM733.4 446.7l0.1 4.3l54.9 25.7l-0.1 -4.4z" fill="#2db7a5" stroke="#2db7a5"/>
<path d="M953.2 563.9l0.1 4.3l54.9 29.5l-0.1 -4.3zM678.4 412.5l0.1 4.4l54.8 25.4l0 -4.4z" fill="#31b8a2" stroke="#31b8a2"/>
<path d="M1008.1 593.4l0.1 4.3l54.9 28.5l-0.1 -4.3zM898.2 534.1l0.1 4.4l54.9 25.4l-0.1 -4.4zM843.2 502.6l0.1 4.4l54.9 27.1l-0.1 -4.4zM788.3 472.3l0.1 4.4l54.8 25.9l0 -4.4zM733.3 442.3l0.1 4.4l54.9 25.6l-0.1 -4.4z" fill="#33b8a1" stroke="#33b8a1"/>
<path d="M953.1 559.5l0.1 4.4l54.9 29.5l-0.1 -4.3zM623.4 378.4l0.1 4.4l54.8 25.3l0 -4.3z" fill="#36b99f" stroke="#36b99f"/>
<path d="M1008 589.1l0.1 4.3l54.9 28.5l-0.1 -4.2zM898.1 529.7l0.1 4.4l54.9 25.4l-0.1 -4.3zM843.1 498.2l0 4.4l54.9 27.1l-0.1 -4.4zM788.2 467.9l0.1 4.4l54.9 25.9l-0.1 -4.4z" fill="#39b99d" stroke="#39b99d"/>
<path d="M953 555.2l0.1 4.3l54.9 29.6l-0.1 -4.4zM623.4 374.1l0 4.3l54.9 25.4l-0.1 -4.4z" fill="#3cba9b" stroke="#3cba9b"/>
<path d="M1007.9 584.7l0.1 4.4l54.9 28.6l-0.1 -4.3zM843.1 493.8l0.1 4.4l54.8 27.1l-0.1 -4.4zM788.1 463.5l0.1 4.4l54.9 25.9l-0.1 -4.4z" fill="#3fba99" stroke="#3fba99"/>
<path d="M623.7 395.8l0 4.3l54.9 25.5l-0.1 -4.4z" fill="#1fb4ad" stroke="#1fb4ad"/>
<path d="M898 525.3l0.1 4.4l54.9 25.5l-0.1 -4.3zM733.2 433.5l0.1 4.4l54.8 25.6l-0.1 -4.4zM678.3 403.8l0 4.3l54.9 25.4l-0.1 -4.3z" fill="#3eba9a" stroke="#3eba9a"/>
<path d="M952.9 550.9l0.1 4.3l54.9 29.5l-0.1 -4.3zM623.3 369.7l0.1 4.4l54.8 25.3l0 -4.3z" fill="#43bb97" stroke="#43bb97"/>
<path d="M1007.8 580.4l0.1 4.3l54.9 28.7l-0.2 -4.2zM897.9 520.9l0.1 4.4l54.9 25.6l-0.1 -4.4zM843 489.4l0.1 4.4l54.8 27.1l-0.1 -4.4zM733.1 429.2l0.1 4.3l54.8 25.6l-0.1 -4.4zM678.2 399.4l0.1 4.4l54.8 25.4l-0.1 -4.4z" fill="#45bb96" stroke="#45bb96"/>
<path d="M623.6 391.4l0.1 4.4l54.8 25.4l0 -4.3z" fill="#24b5aa" stroke="#24b5aa"/>
<path d="M952.8 546.5l0.1 4.4l54.9 29.5l-0.2 -4.3zM623.3 365.4l0 4.3l54.9 25.4l-0.1 -4.4z" fill="#4abc93" stroke="#4abc93"/>
<path d="M1007.6 576.1l0.2 4.3l54.8 28.8l-0.1 -4.3zM897.8 516.5l0.1 4.4l54.9 25.6l-0.1 -4.3zM842.9 485l0.1 4.4l54.8 27.1l-0.1 -4.4zM733 424.8l0.1 4.4l54.8 25.5l0 -4.4zM678.1 395.1l0 4.3l54.8 25.4l0 -4.4z" fill="#4cbc93" stroke="#4cbc93"/>
<path d="M623.6 387.1l0 4.3l54.9 25.5l-0.1 -4.4z" fill="#2ab6a6" stroke="#2ab6a6"/>
<path d="M733.3 437.9l0 4.4l54.9 25.6l-0.1 -4.4zM678.3 408.1l0.1 4.4l54.9 25.4l-0.1 -4.4z" fill="#37b99e" stroke="#37b99e"/>
<path d="M952.7 542.2l0.1 4.3l54.8 29.6l-0.1 -4.3zM678.1 390.7l0.1 4.4l54.8 25.3l-0.1 -4.4zM623.2 361.1l0.1 4.3l54.8 25.3l-0.1 -4.3z" fill="#51bc90" stroke="#51bc90"/>
<path d="M1007.5 571.8l0.1 4.3l54.9 28.8l-0.1 -4.2zM897.7 512.1l0.1 4.4l54.9 25.7l-0.1 -4.3zM842.8 480.6l0.1 4.4l54.8 27.1l-0.1 -4.4zM733 420.4l0 4.4l54.9 25.5l-0.1 -4.4z" fill="#53bd8f" stroke="#53bd8f"/>
<path d="M623.5 382.8l0.1 4.3l54.8 25.4l-0.1 -4.4z" fill="#30b7a3" stroke="#30b7a3"/>
<path d="M788 459.1l0.1 4.4l54.9 25.9l-0.1 -4.4z" fill="#46bb95" stroke="#46bb95"/>
<path d="M952.6 537.9l0.1 4.3l54.8 29.6l-0.1 -4.3zM678 386.4l0.1 4.3l54.8 25.3l-0.1 -4.3zM623.2 356.7l0 4.4l54.8 25.3l0 -4.4z" fill="#58bd8c" stroke="#58bd8c"/>
<path d="M1007.4 567.5l0.1 4.3l54.9 28.9l-0.2 -4.3zM897.6 507.7l0.1 4.4l54.9 25.8l-0.1 -4.4zM842.7 476.2l0.1 4.4l54.8 27.1l-0.1 -4.4zM732.9 416l0.1 4.4l54.8 25.5l-0.1 -4.4z" fill="#5abd8b" stroke="#5abd8b"/>
<path d="M787.9 454.7l0.1 4.4l54.9 25.9l-0.1 -4.4z" fill="#4dbc92" stroke="#4dbc92"/>
<path d="M952.5 533.5l0.1 4.4l54.8 29.6l-0.1 -4.4zM678 382l0 4.4l54.8 25.3l-0.1 -4.4z" fill="#60be88" stroke="#60be88"/>
<path d="M1007.3 563.1l0.1 4.4l54.8 28.9l-0.1 -4.3zM897.5 503.3l0.1 4.4l54.9 25.8l-0.2 -4.3zM842.6 471.8l0.1 4.4l54.8 27.1l-0.1 -4.4zM732.8 411.7l0.1 4.3l54.8 25.5l-0.1 -4.4z" fill="#62be87" stroke="#62be87"/>
<path d="M787.9 450.3l0 4.4l54.9 25.9l-0.1 -4.4z" fill="#55bd8e" stroke="#55bd8e"/>
<path d="M952.3 529.2l0.2 4.3l54.8 29.6l-0.1 -4.3zM677.9 377.6l0.1 4.4l54.7 25.3l0 -4.4z" fill="#67be85" stroke="#67be85"/>
<path d="M1007.2 558.8l0.1 4.3l54.8 29l-0.1 -4.2zM897.4 498.9l0.1 4.4l54.8 25.9l-0.1 -4.3zM842.5 467.4l0.1 4.4l54.8 27.1l-0.1 -4.4zM787.6 437.1l0.1 4.4l54.8 25.9l-0.1 -4.4zM732.7 407.3l0.1 4.4l54.8 25.4l-0.1 -4.3z" fill="#69be84" stroke="#69be84"/>
<path d="M787.8 445.9l0.1 4.4l54.8 25.9l-0.1 -4.4z" fill="#5cbe8a" stroke="#5cbe8a"/>
<path d="M952.2 524.9l0.1 4.3l54.9 29.6l-0.2 -4.3zM623 343.7l0.1 4.3l54.7 25.3l0 -4.4z" fill="#6dbf82" stroke="#6dbf82"/>
<path d="M1007 554.5l0.2 4.3l54.8 29.1l-0.1 -4.3zM897.3 494.5l0.1 4.4l54.8 26l-0.1 -4.3zM842.4 463l0.1 4.4l54.8 27.1l-0.1 -4.4zM787.5 432.8l0.1 4.3l54.8 25.9l-0.1 -4.4zM732.7 402.9l0 4.4l54.8 25.5l0 -4.4z" fill="#71bf80" stroke="#71bf80"/>
<path d="M787.7 441.5l0.1 4.4l54.8 25.9l-0.1 -4.4z" fill="#64be86" stroke="#64be86"/>
<path d="M952.1 520.6l0.1 4.3l54.8 29.6l-0.1 -4.3zM622.9 339.4l0.1 4.3l54.8 25.2l-0.1 -4.3z" fill="#74bf7f" stroke="#74bf7f"/>
<path d="M1006.9 550.2l0.1 4.3l54.9 29.1l-0.2 -4.2zM677.8 368.9l0 4.4l54.8 25.2l-0.1 -4.4z" fill="#76bf7e" stroke="#76bf7e"/>
<path d="M897.2 490.1l0.1 4.4l54.8 26.1l-0.1 -4.4zM842.3 458.6l0.1 4.4l54.8 27.1l-0.1 -4.4zM787.5 428.4l0 4.4l54.8 25.8l-0.1 -4.4zM732.6 398.5l0.1 4.4l54.8 25.5l-0.1 -4.4z" fill="#78bf7d" stroke="#78bf7d"/>
<path d="M952 516.2l0.1 4.4l54.8 29.6l-0.1 -4.4zM622.9 335l0 4.4l54.8 25.2l-0.1 -4.4z" fill="#7cbf7c" stroke="#7cbf7c"/>
<path d="M1006.8 545.8l0.1 4.4l54.8 29.2l-0.1 -4.3zM677.7 364.6l0.1 4.3l54.7 25.2l0 -4.3z" fill="#7dbf7b" stroke="#7dbf7b"/>
<path d="M897.1 485.7l0.1 4.4l54.8 26.1l-0.1 -4.3zM842.2 454.2l0.1 4.4l54.8 27.1l-0.1 -4.4zM787.4 424l0.1 4.4l54.7 25.8l-0.1 -4.4zM732.5 394.1l0.1 4.4l54.8 25.5l-0.1 -4.4z" fill="#7fbf7a" stroke="#7fbf7a"/>
<path d="M951.9 511.9l0.1 4.3l54.8 29.6l-0.1 -4.3zM622.8 330.7l0.1 4.3l54.7 25.2l0 -4.4z" fill="#83bf79" stroke="#83bf79"/>
<path d="M1006.7 541.5l0.1 4.3l54.8 29.3l-0.1 -4.2zM677.6 360.2l0.1 4.4l54.8 25.2l-0.1 -4.4z" fill="#84bf78" stroke="#84bf78"/>
<path d="M623.1 352.4l0.1 4.3l54.8 25.3l-0.1 -4.4z" fill="#5ebe89" stroke="#5ebe89"/>
<path d="M897 481.3l0.1 4.4l54.8 26.2l-0.1 -4.3zM842.1 449.8l0.1 4.4l54.8 27.1l-0.1 -4.4zM787.3 419.6l0.1 4.4l54.7 25.8l-0.1 -4.5zM732.5 389.8l0 4.3l54.8 25.5l-0.1 -4.4z" fill="#86bf77" stroke="#86bf77"/>
<path d="M951.8 507.6l0.1 4.3l54.8 29.6l-0.1 -4.3zM622.8 326.3l0 4.4l54.8 25.1l-0.1 -4.3z" fill="#89bf76" stroke="#89bf76"/>
<path d="M1006.6 537.2l0.1 4.3l54.8 29.4l-0.1 -4.3zM677.6 355.8l0 4.4l54.8 25.2l-0.1 -4.4z" fill="#8bbf75" stroke="#8bbf75"/>
<path d="M623.1 348l0 4.4l54.8 25.2l-0.1 -4.3z" fill="#66be85" stroke="#66be85"/>
<path d="M677.8 373.3l0.1 4.3l54.8 25.3l-0.1 -4.4z" fill="#6fbf81" stroke="#6fbf81"/>
<path d="M896.9 476.9l0.1 4.4l54.8 26.3l-0.1 -4.4zM842 445.3l0.1 4.5l54.8 27.1l-0.1 -4.4zM787.2 415.2l0.1 4.4l54.7 25.7l0 -4.4zM732.4 385.4l0.1 4.4l54.7 25.4l-0.1 -4.4z" fill="#8dbf75" stroke="#8dbf75"/>
<path d="M951.7 503.2l0.1 4.4l54.8 29.6l-0.1 -4.3zM622.7 322l0.1 4.3l54.7 25.2l-0.1 -4.4z" fill="#90bf73" stroke="#90bf73"/>
<path d="M1006.5 532.9l0.1 4.3l54.8 29.4l-0.2 -4.3zM896.8 472.5l0.1 4.4l54.8 26.3l-0.1 -4.3zM677.5 351.5l0.1 4.3l54.7 25.2l-0.1 -4.4z" fill="#92bf73" stroke="#92bf73"/>
<path d="M951.6 498.9l0.1 4.3l54.8 29.7l-0.2 -4.4zM622.7 317.7l0 4.3l54.7 25.1l0 -4.3z" fill="#96bf71" stroke="#96bf71"/>
<path d="M1006.3 528.5l0.2 4.4l54.7 29.4l-0.1 -4.2zM896.7 468.1l0.1 4.4l54.8 26.4l-0.1 -4.3zM732.2 376.6l0.1 4.4l54.7 25.4l0 -4.4zM677.4 347.1l0.1 4.4l54.7 25.1l0 -4.3z" fill="#98bf70" stroke="#98bf70"/>
<path d="M842 440.9l0 4.4l54.8 27.2l-0.1 -4.4zM787.1 410.8l0.1 4.4l54.8 25.7l-0.1 -4.4zM732.3 381l0.1 4.4l54.7 25.4l-0.1 -4.4z" fill="#93bf72" stroke="#93bf72"/>
<path d="M951.5 494.6l0.1 4.3l54.7 29.6l-0.1 -4.3zM677.4 342.8l0 4.3l54.8 25.2l-0.1 -4.4z" fill="#9dbf6e" stroke="#9dbf6e"/>
<path d="M1006.2 524.2l0.1 4.3l54.8 29.6l-0.1 -4.3zM896.6 463.7l0.1 4.4l54.8 26.5l-0.1 -4.4zM732.2 372.3l0 4.3l54.8 25.4l-0.1 -4.4z" fill="#9ebe6e" stroke="#9ebe6e"/>
<path d="M841.9 436.5l0.1 4.4l54.7 27.2l-0.1 -4.4zM787 406.4l0.1 4.4l54.8 25.7l-0.1 -4.4z" fill="#99bf6f" stroke="#99bf6f"/>
<path d="M951.4 490.2l0.1 4.4l54.7 29.6l-0.1 -4.3zM1006.1 519.9l0.1 4.3l54.8 29.6l-0.2 -4.2zM677.3 338.4l0.1 4.4l54.7 25.1l-0.1 -4.4z" fill="#a3be6c" stroke="#a3be6c"/>
<path d="M841.8 432.1l0.1 4.4l54.7 27.2l-0.1 -4.3zM787 402l0 4.4l54.8 25.7l-0.1 -4.4z" fill="#a0be6d" stroke="#a0be6d"/>
<path d="M896.5 459.4l0.1 4.3l54.8 26.5l-0.2 -4.3zM732.1 367.9l0.1 4.4l54.7 25.3l-0.1 -4.4z" fill="#a4be6b" stroke="#a4be6b"/>
<path d="M951.2 485.9l0.2 4.3l54.7 29.7l-0.1 -4.3zM622.5 304.6l0.1 4.4l54.6 25.1l0 -4.4z" fill="#a7be6a" stroke="#a7be6a"/>
<path d="M1006 515.6l0.1 4.3l54.7 29.7l-0.1 -4.3zM677.2 334.1l0.1 4.3l54.7 25.1l-0.1 -4.4z" fill="#a8be69" stroke="#a8be69"/>
<path d="M841.7 427.7l0.1 4.4l54.7 27.3l-0.1 -4.4zM786.9 397.6l0.1 4.4l54.7 25.7l-0.1 -4.4z" fill="#a6be6b" stroke="#a6be6b"/>
<path d="M896.4 455l0.1 4.4l54.7 26.5l-0.1 -4.3zM732 363.5l0.1 4.4l54.7 25.3l-0.1 -4.4z" fill="#aabe69" stroke="#aabe69"/>
<path d="M951.1 481.6l0.1 4.3l54.8 29.7l-0.1 -4.3zM622.4 300.3l0.1 4.3l54.7 25.1l-0.1 -4.4z" fill="#adbe68" stroke="#adbe68"/>
<path d="M1005.9 511.3l0.1 4.3l54.7 29.7l-0.1 -4.3zM677.2 329.7l0 4.4l54.7 25l0 -4.4z" fill="#aebe67" stroke="#aebe67"/>
<path d="M841.6 423.3l0.1 4.4l54.7 27.3l-0.1 -4.4zM786.8 393.2l0.1 4.4l54.7 25.7l-0.1 -4.4z" fill="#abbe68" stroke="#abbe68"/>
<path d="M896.3 450.6l0.1 4.4l54.7 26.6l-0.1 -4.3zM731.9 359.1l0.1 4.4l54.7 25.3l-0.1 -4.4z" fill="#b0bd67" stroke="#b0bd67"/>
<path d="M951 477.3l0.1 4.3l54.8 29.7l-0.2 -4.4zM622.4 296l0 4.3l54.7 25l0 -4.3z" fill="#b2bd65" stroke="#b2bd65"/>
<path d="M1005.7 506.9l0.2 4.4l54.7 29.7l-0.1 -4.2zM677.1 325.3l0.1 4.4l54.7 25l-0.1 -4.3z" fill="#b4bd65" stroke="#b4bd65"/>
<path d="M841.5 418.9l0.1 4.4l54.7 27.3l-0.1 -4.4zM786.7 388.8l0.1 4.4l54.7 25.7l-0.1 -4.4z" fill="#b1bd66" stroke="#b1bd66"/>
<path d="M896.2 446.2l0.1 4.4l54.7 26.7l-0.1 -4.4zM731.9 354.7l0 4.4l54.7 25.3l-0.1 -4.4z" fill="#b5bd64" stroke="#b5bd64"/>
<path d="M950.9 472.9l0.1 4.4l54.7 29.6l-0.1 -4.3zM622.3 291.6l0.1 4.4l54.7 25l-0.1 -4.4z" fill="#b8bd63" stroke="#b8bd63"/>
<path d="M1005.6 502.6l0.1 4.3l54.8 29.9l-0.2 -4.3zM677.1 321l0 4.3l54.7 25.1l-0.1 -4.4z" fill="#b9bd63" stroke="#b9bd63"/>
<path d="M622.6 313.3l0.1 4.4l54.7 25.1l-0.1 -4.4z" fill="#9bbf6f" stroke="#9bbf6f"/>
<path d="M841.4 414.5l0.1 4.4l54.7 27.3l-0.1 -4.4zM786.6 384.4l0.1 4.4l54.7 25.7l-0.1 -4.4z" fill="#b7bd64" stroke="#b7bd64"/>
<path d="M896.1 441.8l0.1 4.4l54.7 26.7l-0.1 -4.3zM731.8 350.4l0.1 4.3l54.6 25.3l0 -4.3z" fill="#bbbd62" stroke="#bbbd62"/>
<path d="M950.8 468.6l0.1 4.3l54.7 29.7l-0.1 -4.3zM622.3 287.3l0 4.3l54.7 25l-0.1 -4.3z" fill="#bebc61" stroke="#bebc61"/>
<path d="M1005.5 498.3l0.1 4.3l54.7 29.9l-0.1 -4.2zM677 316.6l0.1 4.4l54.6 25l-0.1 -4.4z" fill="#bfbc60" stroke="#bfbc60"/>
<path d="M622.6 309l0 4.3l54.7 25.1l-0.1 -4.3z" fill="#a1be6c" stroke="#a1be6c"/>
<path d="M841.3 410.1l0.1 4.4l54.7 27.3l-0.1 -4.4zM786.5 380.1l0.1 4.4l54.7 25.7l-0.1 -4.4z" fill="#bcbd62" stroke="#bcbd62"/>
<path d="M896 437.4l0.1 4.4l54.7 26.8l-0.1 -4.3zM841.2 405.7l0.1 4.4l54.7 27.3l-0.1 -4.4zM731.7 346l0.1 4.4l54.7 25.3l-0.1 -4.4z" fill="#c0bc60" stroke="#c0bc60"/>
<path d="M950.7 464.3l0.1 4.3l54.7 29.7l-0.1 -4.3zM622.2 283l0.1 4.3l54.6 25l0 -4.4z" fill="#c3bc5f" stroke="#c3bc5f"/>
<path d="M1005.4 494l0.1 4.3l54.7 30l-0.1 -4.3zM676.9 312.3l0.1 4.3l54.6 25l0 -4.4z" fill="#c4bc5e" stroke="#c4bc5e"/>
<path d="M895.9 433l0.1 4.4l54.7 26.9l-0.1 -4.4zM841.1 401.3l0.1 4.4l54.7 27.3l-0.1 -4.4zM731.6 341.6l0.1 4.4l54.7 25.3l-0.1 -4.4z" fill="#c6bc5e" stroke="#c6bc5e"/>
<path d="M950.6 459.9l0.1 4.4l54.7 29.7l-0.1 -4.4zM1005.3 489.6l0.1 4.4l54.7 30l-0.1 -4.2zM622.2 278.6l0 4.4l54.7 24.9l-0.1 -4.3z" fill="#c8bc5d" stroke="#c8bc5d"/>
<path d="M786.5 375.7l0 4.3l54.7 25.7l-0.1 -4.4z" fill="#c2bc5f" stroke="#c2bc5f"/>
<path d="M895.8 428.6l0.1 4.4l54.7 26.9l-0.1 -4.3zM841 396.9l0.1 4.4l54.7 27.3l-0.1 -4.4zM731.6 337.2l0 4.4l54.7 25.3l-0.1 -4.4z" fill="#cbbb5c" stroke="#cbbb5c"/>
<path d="M950.5 455.6l0.1 4.3l54.7 29.7l-0.1 -4.3zM1005.1 485.3l0.1 4.3l54.7 30.2l-0.2 -4.3z" fill="#cebb5b" stroke="#cebb5b"/>
<path d="M786.4 371.3l0.1 4.4l54.6 25.6l-0.1 -4.4z" fill="#c7bc5d" stroke="#c7bc5d"/>
<path d="M895.7 424.2l0.1 4.4l54.7 27l-0.1 -4.3zM841 392.5l0 4.4l54.7 27.3l-0.1 -4.4zM786.2 362.5l0.1 4.4l54.7 25.6l-0.1 -4.4zM731.5 332.9l0.1 4.3l54.6 25.3l-0.1 -4.4z" fill="#d0bb59" stroke="#d0bb59"/>
<path d="M950.4 451.3l0.1 4.3l54.7 29.7l-0.2 -4.3zM1005 481l0.2 4.3l54.6 30.2l-0.1 -4.3z" fill="#d3bb58" stroke="#d3bb58"/>
<path d="M786.3 366.9l0.1 4.4l54.6 25.6l0 -4.4zM622.1 274.3l0.1 4.3l54.6 25l-0.1 -4.4z" fill="#ccbb5b" stroke="#ccbb5b"/>
<path d="M895.6 419.8l0.1 4.4l54.7 27.1l-0.1 -4.3zM676.7 299.2l0.1 4.4l54.6 24.9l-0.1 -4.4z" fill="#d4bb58" stroke="#d4bb58"/>
<path d="M950.3 447l0.1 4.3l54.6 29.7l-0.1 -4.3zM622 265.6l0.1 4.3l54.6 24.9l-0.1 -4.3z" fill="#d7ba57" stroke="#d7ba57"/>
<path d="M1004.9 476.7l0.1 4.3l54.7 30.2l-0.1 -4.2zM676.7 294.8l0 4.4l54.6 24.9l0 -4.4z" fill="#d8ba56" stroke="#d8ba56"/>
<path d="M840.9 388.1l0.1 4.4l54.6 27.3l-0.1 -4.4zM786.1 358.1l0.1 4.4l54.7 25.6l-0.1 -4.4zM731.4 328.5l0.1 4.4l54.6 25.2l-0.1 -4.4z" fill="#d5ba57" stroke="#d5ba57"/>
<path d="M895.5 415.4l0.1 4.4l54.7 27.2l-0.2 -4.4z" fill="#d9ba56" stroke="#d9ba56"/>
<path d="M950.1 442.6l0.2 4.4l54.6 29.7l-0.1 -4.3zM621.9 261.3l0.1 4.3l54.6 24.9l-0.1 -4.4z" fill="#dcba54" stroke="#dcba54"/>
<path d="M1004.8 472.4l0.1 4.3l54.7 30.3l-0.2 -4.3zM676.6 290.5l0.1 4.3l54.6 24.9l-0.1 -4.3z" fill="#ddba54" stroke="#ddba54"/>
<path d="M676.9 307.9l0 4.4l54.7 24.9l-0.1 -4.3z" fill="#cabb5c" stroke="#cabb5c"/>
<path d="M840.8 383.7l0.1 4.4l54.6 27.3l-0.1 -4.4zM786 353.7l0.1 4.4l54.7 25.6l-0.1 -4.4zM731.3 324.1l0.1 4.4l54.6 25.2l0 -4.4z" fill="#dbba55" stroke="#dbba55"/>
<path d="M895.4 411l0.1 4.4l54.6 27.2l-0.1 -4.3z" fill="#deba53" stroke="#deba53"/>
<path d="M950 438.3l0.1 4.3l54.7 29.8l-0.1 -4.4zM621.9 256.9l0 4.4l54.6 24.8l0 -4.3z" fill="#e1b952" stroke="#e1b952"/>
<path d="M1004.7 468l0.1 4.4l54.6 30.3l-0.1 -4.2zM676.5 286.1l0.1 4.4l54.6 24.9l-0.1 -4.4z" fill="#e2b951" stroke="#e2b951"/>
<path d="M676.8 303.6l0.1 4.3l54.6 25l-0.1 -4.4z" fill="#cfbb5a" stroke="#cfbb5a"/>
<path d="M840.7 379.3l0.1 4.4l54.6 27.3l-0.1 -4.4zM786 349.3l0 4.4l54.7 25.6l-0.1 -4.4zM731.3 319.7l0 4.4l54.7 25.2l-0.1 -4.4z" fill="#e0ba53" stroke="#e0ba53"/>
<path d="M895.3 406.6l0.1 4.4l54.6 27.3l-0.1 -4.3zM731.2 315.4l0.1 4.3l54.6 25.2l-0.1 -4.4z" fill="#e3b951" stroke="#e3b951"/>
<path d="M949.9 434l0.1 4.3l54.7 29.7l-0.1 -4.3zM621.8 252.6l0.1 4.3l54.6 24.9l-0.1 -4.4z" fill="#e6b950" stroke="#e6b950"/>
<path d="M1004.6 463.7l0.1 4.3l54.6 30.5l-0.1 -4.3zM676.5 281.8l0 4.3l54.6 24.9l0 -4.4z" fill="#e7b94f" stroke="#e7b94f"/>
<path d="M840.6 374.9l0.1 4.4l54.6 27.3l-0.1 -4.4zM785.9 344.9l0.1 4.4l54.6 25.6l-0.1 -4.4z" fill="#e5b950" stroke="#e5b950"/>
<path d="M895.2 402.2l0.1 4.4l54.6 27.4l-0.1 -4.4zM731.1 311l0.1 4.4l54.6 25.1l-0.1 -4.4z" fill="#e8b94e" stroke="#e8b94e"/>
<path d="M949.8 429.6l0.1 4.4l54.7 29.7l-0.2 -4.3zM1004.4 459.4l0.2 4.3l54.6 30.5l-0.1 -4.2zM621.8 248.2l0 4.4l54.6 24.8l-0.1 -4.4z" fill="#ebb94d" stroke="#ebb94d"/>
<path d="M622.1 269.9l0 4.4l54.6 24.9l0 -4.4z" fill="#d1bb59" stroke="#d1bb59"/>
<path d="M840.5 370.5l0.1 4.4l54.6 27.3l-0.1 -4.4zM785.8 340.5l0.1 4.4l54.6 25.6l-0.1 -4.4z" fill="#eab94e" stroke="#eab94e"/>
<path d="M895.1 397.8l0.1 4.4l54.6 27.4l-0.1 -4.3zM731.1 306.6l0 4.4l54.6 25.1l-0.1 -4.4z" fill="#edb94c" stroke="#edb94c"/>
<path d="M949.7 425.3l0.1 4.3l54.6 29.8l-0.1 -4.3zM1004.3 455.1l0.1 4.3l54.7 30.6l-0.2 -4.3zM621.7 243.9l0.1 4.3l54.5 24.8l0 -4.3z" fill="#f0b94a" stroke="#f0b94a"/>
<path d="M840.4 366.1l0.1 4.4l54.6 27.3l-0.1 -4.4zM785.7 336.1l0.1 4.4l54.6 25.6l-0.1 -4.4z" fill="#efb94b" stroke="#efb94b"/>
<path d="M895 393.4l0.1 4.4l54.6 27.5l-0.1 -4.3zM731 302.2l0.1 4.4l54.5 25.1l0 -4.4z" fill="#f2b949" stroke="#f2b949"/>
<path d="M949.6 421l0.1 4.3l54.6 29.8l-0.1 -4.4zM1004.2 450.7l0.1 4.4l54.6 30.6l-0.1 -4.3zM621.7 239.6l0 4.3l54.6 24.8l-0.1 -4.4z" fill="#f5ba47" stroke="#f5ba47"/>
<path d="M840.3 361.7l0.1 4.4l54.6 27.3l-0.1 -4.4zM785.6 331.7l0.1 4.4l54.6 25.6l-0.1 -4.4z" fill="#f4ba48" stroke="#f4ba48"/>
<path d="M894.9 389l0.1 4.4l54.6 27.6l-0.1 -4.4zM730.9 297.8l0.1 4.4l54.6 25.1l-0.1 -4.3z" fill="#f7ba45" stroke="#f7ba45"/>
<path d="M949.5 416.6l0.1 4.4l54.6 29.7l-0.1 -4.3zM1004.1 446.4l0.1 4.3l54.6 30.7l-0.1 -4.2z" fill="#f9bb43" stroke="#f9bb43"/>
<path d="M840.2 357.3l0.1 4.4l54.6 27.3l-0.1 -4.4zM785.6 327.3l0 4.4l54.6 25.6l-0.1 -4.4zM621.6 235.2l0.1 4.4l54.5 24.7l-0.1 -4.3z" fill="#f8ba44" stroke="#f8ba44"/>
<path d="M894.8 384.6l0.1 4.4l54.6 27.6l-0.1 -4.3zM730.8 293.5l0.1 4.3l54.6 25.2l-0.1 -4.4z" fill="#fbbc41" stroke="#fbbc41"/>
<path d="M949.4 412.3l0.1 4.3l54.6 29.8l-0.1 -4.3zM1004 442.1l0.1 4.3l54.6 30.8l-0.2 -4.3z" fill="#fcbd3f" stroke="#fcbd3f"/>
<path d="M676.4 277.4l0.1 4.4l54.6 24.8l-0.1 -4.4z" fill="#ecb94c" stroke="#ecb94c"/>
<path d="M840.1 352.9l0.1 4.4l54.6 27.3l-0.1 -4.4zM785.5 323l0.1 4.3l54.5 25.6l-0.1 -4.4zM621.6 230.9l0 4.3l54.5 24.8l0 -4.4z" fill="#fbbd40" stroke="#fbbd40"/>
<path d="M894.7 380.2l0.1 4.4l54.6 27.7l-0.1 -4.3zM730.8 289.1l0 4.4l54.6 25.1l-0.1 -4.4z" fill="#febe3d" stroke="#febe3d"/>
<path d="M949.3 408l0.1 4.3l54.6 29.8l-0.2 -4.3zM840 348.5l0.1 4.4l54.6 27.3l-0.1 -4.4zM785.4 318.6l0.1 4.4l54.5 25.5l-0.1 -4.4zM621.5 226.6l0.1 4.3l54.5 24.7l-0.1 -4.3z" fill="#febf3c" stroke="#febf3c"/>
<path d="M1003.8 437.8l0.2 4.3l54.5 30.8l-0.1 -4.2z" fill="#fec03b" stroke="#fec03b"/>
<path d="M676.3 273l0.1 4.4l54.6 24.8l-0.1 -4.4z" fill="#f1b949" stroke="#f1b949"/>
<path d="M894.6 375.8l0.1 4.4l54.6 27.8l-0.1 -4.3zM730.7 284.7l0.1 4.4l54.5 25.1l-0.1 -4.4z" fill="#fec239" stroke="#fec239"/>
<path d="M949.2 403.7l0.1 4.3l54.5 29.8l-0.1 -4.3zM839.9 344.1l0.1 4.4l54.6 27.3l-0.1 -4.4zM785.3 314.2l0.1 4.4l54.5 25.5l-0.1 -4.4zM621.4 222.2l0.1 4.4l54.5 24.7l0 -4.4z" fill="#ffc238" stroke="#ffc238"/>
<path d="M1003.7 433.5l0.1 4.3l54.6 30.9l-0.1 -4.3z" fill="#ffc337" stroke="#ffc337"/>
<path d="M676.3 268.7l0 4.3l54.6 24.8l-0.1 -4.3z" fill="#f6ba46" stroke="#f6ba46"/>
<path d="M894.5 371.4l0.1 4.4l54.6 27.9l-0.1 -4.4zM730.6 280.3l0.1 4.4l54.5 25.1l-0.1 -4.4z" fill="#fec535" stroke="#fec535"/>
<path d="M949.1 399.3l0.1 4.4l54.5 29.8l-0.1 -4.4zM1003.6 429.1l0.1 4.4l54.6 30.9l-0.1 -4.2zM839.9 339.7l0.1 4.4l54.6 27.3l-0.1 -4.4zM785.2 309.8l0.1 4.4l54.5 25.5l0 -4.4zM621.4 217.9l0 4.3l54.6 24.7l-0.1 -4.4z" fill="#fec635" stroke="#fec635"/>
<path d="M676.2 264.3l0.1 4.4l54.5 24.8l0 -4.4z" fill="#fabc42" stroke="#fabc42"/>
<path d="M894.4 367l0.1 4.4l54.6 27.9l-0.2 -4.3z" fill="#fec733" stroke="#fec733"/>
<path d="M948.9 395l0.2 4.3l54.5 29.8l-0.1 -4.3zM1003.5 424.8l0.1 4.3l54.6 31.1l-0.2 -4.3zM839.8 335.3l0 4.4l54.6 27.3l-0.1 -4.4zM785.1 305.4l0.1 4.4l54.6 25.5l-0.1 -4.4zM621.3 213.5l0.1 4.4l54.5 24.6l-0.1 -4.3z" fill="#fec932" stroke="#fec932"/>
<path d="M676.1 260l0.1 4.3l54.6 24.8l-0.1 -4.4z" fill="#fdbe3e" stroke="#fdbe3e"/>
<path d="M894.3 362.6l0.1 4.4l54.5 28l-0.1 -4.3z" fill="#fdcb30" stroke="#fdcb30"/>
<path d="M948.8 390.7l0.1 4.3l54.6 29.8l-0.1 -4.3zM1003.4 420.5l0.1 4.3l54.5 31.1l-0.1 -4.3zM839.7 330.9l0.1 4.4l54.5 27.3l-0.1 -4.4zM785.1 301l0 4.4l54.6 25.5l-0.1 -4.4zM621.3 209.2l0 4.3l54.5 24.7l0 -4.4z" fill="#fccc2f" stroke="#fccc2f"/>
<path d="M676.1 255.6l0 4.4l54.6 24.7l-0.1 -4.4z" fill="#fec13a" stroke="#fec13a"/>
<path d="M894.2 358.2l0.1 4.4l54.5 28.1l-0.1 -4.4z" fill="#fcce2d" stroke="#fcce2d"/>
<path d="M948.7 386.3l0.1 4.4l54.6 29.8l-0.2 -4.3zM1003.2 416.2l0.2 4.3l54.5 31.1l-0.1 -4.2zM839.6 326.5l0.1 4.4l54.5 27.3l-0.1 -4.4zM785 296.6l0.1 4.4l54.5 25.5l-0.1 -4.4zM621.2 204.9l0.1 4.3l54.5 24.6l-0.1 -4.3z" fill="#fbd02c" stroke="#fbd02c"/>
<path d="M676 251.3l0.1 4.3l54.5 24.7l-0.1 -4.3z" fill="#ffc436" stroke="#ffc436"/>
<path d="M730.5 276l0.1 4.3l54.5 25.1l0 -4.4z" fill="#fec832" stroke="#fec832"/>
<path d="M894.1 353.8l0.1 4.4l54.5 28.1l-0.1 -4.3z" fill="#fad12b" stroke="#fad12b"/>
<path d="M948.6 382l0.1 4.3l54.5 29.9l-0.1 -4.4zM1003.1 411.8l0.1 4.4l54.6 31.2l-0.2 -4.3zM784.9 292.2l0.1 4.4l54.5 25.5l-0.1 -4.4zM621.2 200.5l0 4.4l54.5 24.6l-0.1 -4.4z" fill="#fad32a" stroke="#fad32a"/>
<path d="M676 246.9l0 4.4l54.5 24.7l0 -4.4z" fill="#fec734" stroke="#fec734"/>
<path d="M730.5 271.6l0 4.4l54.6 25l-0.1 -4.4z" fill="#fdcc30" stroke="#fdcc30"/>
<path d="M839.5 322.1l0.1 4.4l54.5 27.3l-0.1 -4.4zM730.3 262.8l0.1 4.4l54.5 25l-0.1 -4.4z" fill="#fad22a" stroke="#fad22a"/>
<path d="M894 349.4l0.1 4.4l54.5 28.2l-0.1 -4.3z" fill="#f9d528" stroke="#f9d528"/>
<path d="M948.5 377.7l0.1 4.3l54.5 29.8l-0.1 -4.3zM1003 407.5l0.1 4.3l54.5 31.3l-0.1 -4.2z" fill="#f8d627" stroke="#f8d627"/>
<path d="M675.9 242.5l0.1 4.4l54.5 24.7l-0.1 -4.4z" fill="#fdca31" stroke="#fdca31"/>
<path d="M730.4 267.2l0.1 4.4l54.5 25l-0.1 -4.4z" fill="#fbcf2d" stroke="#fbcf2d"/>
<path d="M839.4 317.7l0.1 4.4l54.5 27.3l-0.1 -4.4zM784.8 287.8l0.1 4.4l54.5 25.5l-0.1 -4.4zM730.2 258.5l0.1 4.3l54.5 25l-0.1 -4.4zM621.1 196.2l0.1 4.3l54.4 24.6l0 -4.3z" fill="#f8d628" stroke="#f8d628"/>
<path d="M893.9 345l0.1 4.4l54.5 28.3l-0.1 -4.4zM730.2 254.1l0 4.4l54.5 24.9l-0.1 -4.4z" fill="#f7d826" stroke="#f7d826"/>
<path d="M948.4 373.3l0.1 4.4l54.5 29.8l-0.1 -4.3zM1002.9 403.2l0.1 4.3l54.5 31.4l-0.1 -4.3z" fill="#f7da24" stroke="#f7da24"/>
<path d="M675.8 238.2l0.1 4.3l54.5 24.7l-0.1 -4.4z" fill="#fccd2e" stroke="#fccd2e"/>
<path d="M839.3 313.3l0.1 4.4l54.5 27.3l-0.1 -4.4zM784.7 283.4l0.1 4.4l54.5 25.5l-0.1 -4.4zM621.1 191.8l0 4.4l54.5 24.6l-0.1 -4.4z" fill="#f7d925" stroke="#f7d925"/>
<path d="M893.8 340.6l0.1 4.4l54.5 28.3l-0.1 -4.3zM730.1 249.7l0.1 4.4l54.4 24.9l0 -4.4z" fill="#f6dc23" stroke="#f6dc23"/>
<path d="M948.3 369l0.1 4.3l54.5 29.9l-0.1 -4.3zM1002.8 398.9l0.1 4.3l54.5 31.4l-0.1 -4.3zM839.2 308.9l0.1 4.4l54.5 27.3l-0.1 -4.4zM784.6 279l0.1 4.4l54.5 25.5l-0.1 -4.4zM621 187.5l0.1 4.3l54.4 24.6l-0.1 -4.4z" fill="#f6dd22" stroke="#f6dd22"/>
<path d="M675.8 233.8l0 4.4l54.5 24.6l-0.1 -4.3z" fill="#fbd12c" stroke="#fbd12c"/>
<path d="M893.7 336.2l0.1 4.4l54.5 28.4l-0.1 -4.3zM730 245.3l0.1 4.4l54.5 24.9l-0.1 -4.4z" fill="#f5df20" stroke="#f5df20"/>
<path d="M948.2 364.7l0.1 4.3l54.5 29.9l-0.1 -4.3zM1002.7 394.6l0.1 4.3l54.5 31.4l-0.2 -4.2zM839.1 304.5l0.1 4.4l54.5 27.3l-0.1 -4.4zM784.6 274.6l0 4.4l54.5 25.5l-0.1 -4.4z" fill="#f5e020" stroke="#f5e020"/>
<path d="M675.7 229.5l0.1 4.3l54.4 24.7l0 -4.4z" fill="#f9d429" stroke="#f9d429"/>
<path d="M893.6 331.8l0.1 4.4l54.5 28.5l-0.1 -4.3zM729.9 240.9l0.1 4.4l54.5 24.9l-0.1 -4.3z" fill="#f5e31e" stroke="#f5e31e"/>
<path d="M948.1 360.4l0.1 4.3l54.5 29.9l-0.2 -4.4zM1002.5 390.2l0.2 4.4l54.4 31.5l-0.1 -4.3zM839 300.1l0.1 4.4l54.5 27.3l-0.1 -4.4zM784.5 270.2l0.1 4.4l54.4 25.5l-0.1 -4.4z" fill="#f5e41d" stroke="#f5e41d"/>
<path d="M675.6 225.1l0.1 4.4l54.5 24.6l-0.1 -4.4z" fill="#f8d726" stroke="#f8d726"/>
<path d="M893.5 327.4l0.1 4.4l54.5 28.6l-0.1 -4.4zM729.9 236.6l0 4.3l54.5 25l-0.1 -4.4z" fill="#f5e71b" stroke="#f5e71b"/>
<path d="M948 356l0.1 4.4l54.4 29.8l-0.1 -4.3zM1002.4 385.9l0.1 4.3l54.5 31.6l-0.1 -4.2zM838.9 295.7l0.1 4.4l54.5 27.3l-0.1 -4.4zM784.4 265.9l0.1 4.3l54.4 25.5l-0.1 -4.4z" fill="#f5e91a" stroke="#f5e91a"/>
<path d="M675.6 220.8l0 4.3l54.5 24.6l-0.1 -4.4z" fill="#f6db24" stroke="#f6db24"/>
<path d="M893.4 323l0.1 4.4l54.5 28.6l-0.2 -4.3z" fill="#f5ec18" stroke="#f5ec18"/>
<path d="M947.8 351.7l0.2 4.3l54.4 29.9l-0.1 -4.3zM1002.3 381.6l0.1 4.3l54.5 31.7l-0.1 -4.3zM838.8 291.3l0.1 4.4l54.5 27.3l-0.1 -4.4zM784.3 261.5l0.1 4.4l54.4 25.4l0 -4.4z" fill="#f5ed17" stroke="#f5ed17"/>
<path d="M675.5 216.4l0.1 4.4l54.4 24.5l-0.1 -4.4z" fill="#f5de21" stroke="#f5de21"/>
<path d="M893.3 318.6l0.1 4.4l54.4 28.7l-0.1 -4.3z" fill="#f6f115" stroke="#f6f115"/>
<path d="M947.7 347.4l0.1 4.3l54.5 29.9l-0.1 -4.3zM1002.2 377.3l0.1 4.3l54.5 31.7l-0.2 -4.2zM838.8 286.9l0 4.4l54.5 27.3l-0.1 -4.4z" fill="#f6f214" stroke="#f6f214"/>
<path d="M675.4 212l0.1 4.4l54.4 24.5l0 -4.3z" fill="#f5e21e" stroke="#f5e21e"/>
<path d="M893.2 314.2l0.1 4.4l54.4 28.8l-0.1 -4.4z" fill="#f7f412" stroke="#f7f412"/>
<path d="M947.6 343l0.1 4.4l54.5 29.9l-0.1 -4.4zM1002.1 372.9l0.1 4.4l54.4 31.8l-0.1 -4.3z" fill="#f8f710" stroke="#f8f710"/>
<path d="M617 190.7l4 -3.2l0.9 0.4l-3.9 3.2zM618 191.1l3.9 -3.2l2.8 1.3l-3.9 3.1zM620.8 192.3l3.9 -3.1l4.6 2l-3.9 3.2zM627.8 200.4l4 -3.1l8.1 3.6l-4 3.2zM641.8 212.3l3.9 -3.8l11.4 5.1l-4 3.9zM662 227.1l4 -3.8l14.2 6.4l-3.9 3.8zM700.5 255.9l3.9 -4l17.6 8.1l-3.9 4zM714.1 268l4 -4l18.4 8.5l-4 4zM747.7 289.6l3.9 -4.1l19.6 9.5l-3.9 4zM1017 441.2l3.9 -5.2l4.6 3.1l-3.9 5.2zM1021.6 444.3l3.9 -5.2l2.8 2l-3.9 5.2zM964.5 414.2l3.9 -4.6l12.9 8.3l-3.9 4.7zM799.5 324.8l3.9 -2.4l20.1 10.3l-3.9 2.5zM896.7 378.9l3.9 -3l17.6 10.2l-3.9 3.2zM914.3 389.3l3.9 -3.2l16.6 9.7l-3.9 3.4zM930.9 399.2l3.9 -3.4l15.5 9.3l-3.9 3.5zM815.7 337.9l3.9 -2.7l20 10.7l-4 2.8zM835.6 348.7l4 -2.8l19.6 11.2l-3.9 2.8z" fill="#f6dc23" stroke="#f6dc23"/>
<path d="M625.4 194.4l3.9 -3.2l6.4 2.9l-3.9 3.2zM631.8 197.3l3.9 -3.2l8.1 3.7l-3.9 3.1zM639.9 200.9l3.9 -3.1l9.8 4.4l-3.9 3.1zM635.9 204.1l4 -3.2l9.8 4.4l-4 3.2zM645.7 208.5l4 -3.2l11.3 5.2l-3.9 3.1zM653.1 217.5l4 -3.9l12.8 5.8l-3.9 3.9zM666 223.3l3.9 -3.9l14.3 6.5l-4 3.8zM676.3 233.5l3.9 -3.8l15.5 7l-3.9 3.8zM687.8 244.4l4 -3.9l16.6 7.6l-4 3.8zM718.1 264l3.9 -4l18.4 8.5l-3.9 4zM732.5 276.5l4 -4l19.1 9l-4 4zM767.3 299l3.9 -4l20 9.7l-4 4zM992.7 425.2l3.9 -4.9l9.8 6.2l-3.9 5.1zM1002.5 431.6l3.9 -5.1l8.1 5.3l-3.9 5.1zM1010.6 436.9l3.9 -5.1l6.4 4.2l-3.9 5.2zM783.3 312.5l3.9 -3.8l20.1 9.9l-3.9 3.8zM803.4 322.4l3.9 -3.8l20.2 10.3l-4 3.8zM823.5 332.7l4 -3.8l19.9 10.6l-3.9 3.8zM900.6 375.9l3.9 -4.1l17.6 10.1l-3.9 4.2zM918.2 386.1l3.9 -4.2l16.6 9.6l-3.9 4.3zM934.8 395.8l3.9 -4.3l15.5 9.1l-3.9 4.5zM950.3 405.1l3.9 -4.5l14.2 9l-3.9 4.6zM819.6 335.2l3.9 -2.5l20 10.6l-3.9 2.6zM839.6 345.9l3.9 -2.6l19.6 11.1l-3.9 2.7zM859.2 357.1l3.9 -2.7l19.1 10.9l-3.9 2.8zM878.3 368.1l3.9 -2.8l18.4 10.6l-3.9 3z" fill="#f6dd22" stroke="#f6dd22"/>
<path d="M649.7 205.3l3.9 -3.1l11.4 5.1l-4 3.2zM657.1 213.6l3.9 -3.1l12.9 5.8l-4 3.1zM691.8 240.5l3.9 -3.8l16.6 7.6l-3.9 3.8zM704.4 251.9l4 -3.8l17.5 8.1l-3.9 3.8zM751.6 285.5l4 -4l19.6 9.5l-4 4zM1025.5 439.1l3.9 -5.2l2.8 1.9l-3.9 5.3zM1028.3 441.1l3.9 -5.3l0.9 0.7l-3.9 5.3zM787.2 308.7l4 -4l20.1 9.8l-4 4.1zM968.4 409.6l3.9 -4.7l12.9 8.1l-3.9 4.9zM981.3 417.9l3.9 -4.9l11.4 7.3l-3.9 4.9zM843.5 343.3l3.9 -3.8l19.6 11l-3.9 3.9zM863.1 354.4l3.9 -3.9l19.1 10.8l-3.9 4zM882.2 365.3l3.9 -4l18.4 10.5l-3.9 4.1z" fill="#f5de21" stroke="#f5de21"/>
<path d="M661 210.5l4 -3.2l12.8 5.8l-3.9 3.2zM695.7 236.7l3.9 -3.8l16.6 7.6l-3.9 3.8zM708.4 248.1l3.9 -3.8l17.6 8l-4 3.9zM755.6 281.5l3.9 -4l19.6 9.4l-3.9 4.1zM791.2 304.7l3.9 -4.1l20.1 9.8l-3.9 4.1zM996.6 420.3l3.9 -5l9.8 6.2l-3.9 5zM1006.4 426.5l3.9 -5l8.1 5.2l-3.9 5.1zM827.5 328.9l3.9 -4.2l19.9 10.5l-3.9 4.3zM847.4 339.5l3.9 -4.3l19.6 11l-3.9 4.3zM867 350.5l3.9 -4.3l19.1 10.7l-3.9 4.4zM886.1 361.3l3.9 -4.4l18.4 10.4l-3.9 4.5zM904.5 371.8l3.9 -4.5l17.6 10l-3.9 4.6zM922.1 381.9l3.9 -4.6l16.6 9.5l-3.9 4.7zM938.7 391.5l3.9 -4.7l15.5 9.1l-3.9 4.7z" fill="#f5e020" stroke="#f5e020"/>
<path d="M673.9 216.3l3.9 -3.2l14.3 6.4l-4 3.2zM684.2 225.9l3.9 -3.2l15.5 7l-4 3.2zM740.4 268.5l3.9 -3.9l19.1 9l-3.9 3.9zM1032.2 435.8l3.9 -5.2l0.9 0.6l-3.9 5.3zM985.2 413l3.9 -4.9l11.4 7.2l-3.9 5z" fill="#f5e11f" stroke="#f5e11f"/>
<path d="M688.1 222.7l4 -3.2l15.4 7l-3.9 3.2zM744.3 264.6l4 -3.9l19.1 9.1l-4 3.8zM795.1 300.6l3.9 -4.1l20.1 9.8l-3.9 4.1zM1000.5 415.3l3.9 -4.9l9.8 6.1l-3.9 5zM1010.3 421.5l3.9 -5l8.1 5.2l-3.9 5zM831.4 324.7l3.9 -4.1l19.9 10.4l-3.9 4.2zM851.3 335.2l3.9 -4.2l19.6 10.9l-3.9 4.3zM870.9 346.2l3.9 -4.3l19.1 10.6l-3.9 4.4zM890 356.9l3.9 -4.4l18.4 10.4l-3.9 4.4zM908.4 367.3l3.9 -4.4l17.6 9.9l-3.9 4.5zM926 377.3l3.9 -4.5l16.6 9.4l-3.9 4.6zM942.6 386.8l3.9 -4.6l15.5 9l-3.9 4.7z" fill="#f5e31e" stroke="#f5e31e"/>
<path d="M703.6 229.7l3.9 -3.2l16.6 7.5l-3.9 3.2zM716.2 240.5l4 -3.3l17.6 8l-4 3.3zM729.9 252.3l3.9 -3.8l18.4 8.4l-3.9 3.8zM779.1 286.9l3.9 -3.9l19.9 9.6l-3.9 3.9zM815.2 310.4l3.9 -4.1l20.1 10.1l-3.9 4.2zM989.1 408.1l3.9 -4.8l11.4 7.1l-3.9 4.9z" fill="#f5e41d" stroke="#f5e41d"/>
<path d="M720.2 237.2l3.9 -3.2l17.6 7.9l-3.9 3.3zM733.8 248.5l4 -3.3l18.4 8.3l-4 3.4zM748.3 260.7l3.9 -3.8l19.1 9l-3.9 3.9zM783 283l3.9 -3.9l20 9.5l-4 4zM1014.2 416.5l3.9 -5l8.1 5.1l-3.9 5.1zM1022.3 421.7l3.9 -5.1l6.4 4l-3.9 5.1zM855.2 331l4 -4.2l19.6 10.8l-4 4.3zM874.8 341.9l4 -4.3l19 10.6l-3.9 4.3zM893.9 352.5l3.9 -4.3l18.5 10.2l-4 4.5zM912.3 362.9l4 -4.5l17.5 9.8l-3.9 4.6zM929.9 372.8l3.9 -4.6l16.6 9.4l-3.9 4.6zM946.5 382.2l3.9 -4.6l15.5 8.9l-3.9 4.7z" fill="#f5e61b" stroke="#f5e61b"/>
<path d="M737.8 245.2l3.9 -3.3l18.4 8.3l-3.9 3.3zM752.2 256.9l4 -3.4l19 8.9l-3.9 3.5zM802.9 292.6l4 -4l20.1 9.6l-4 4.1zM839.2 316.4l4 -4.1l19.9 10.3l-3.9 4.2zM859.2 326.8l3.9 -4.2l19.6 10.7l-3.9 4.3zM878.8 337.6l3.9 -4.3l19.1 10.5l-4 4.4zM965.9 386.5l3.9 -4.7l14.3 8.7l-3.9 4.8zM980.2 395.3l3.9 -4.8l12.8 7.9l-3.9 4.9z" fill="#f5e91a" stroke="#f5e91a"/>
<path d="M756.2 253.5l3.9 -3.3l19.1 8.9l-4 3.3zM806.9 288.6l3.9 -4l20.1 9.6l-3.9 4zM843.2 312.3l3.9 -4.1l19.9 10.3l-3.9 4.1zM1008.3 405.4l3.9 -4.9l9.8 6l-3.9 5zM1018.1 411.5l3.9 -5l8.1 5l-3.9 5.1z" fill="#f5eb18" stroke="#f5eb18"/>
<path d="M775.2 262.4l4 -3.3l19.5 9.1l-3.9 3.5zM790.9 275.2l3.9 -3.5l19.9 9.4l-3.9 3.5zM863.1 322.6l3.9 -4.1l19.6 10.6l-3.9 4.2zM882.7 333.3l3.9 -4.2l19.1 10.4l-3.9 4.3zM901.8 343.8l3.9 -4.3l18.4 10.1l-3.9 4.4zM984.1 390.5l3.9 -4.8l12.8 7.8l-3.9 4.9zM996.9 398.4l3.9 -4.9l11.4 7l-3.9 4.9z" fill="#f5ec18" stroke="#f5ec18"/>
<path d="M794.8 271.7l3.9 -3.5l20 9.3l-4 3.6zM847.1 308.2l3.9 -4.1l19.9 10.2l-3.9 4.2zM867 318.5l3.9 -4.2l19.6 10.6l-3.9 4.2zM1012.2 400.5l3.9 -5l9.8 5.9l-3.9 5.1zM1022 406.5l3.9 -5.1l8.1 5l-3.9 5.1zM1030.1 411.5l3.9 -5.1l6.4 3.9l-3.9 5.1z" fill="#f5ee16" stroke="#f5ee16"/>
<path d="M814.7 281.1l4 -3.6l20.1 9.4l-4 3.7zM851 304.1l3.9 -3.7l19.9 10l-3.9 3.9zM941.7 359.3l3.9 -4.5l16.6 9l-3.9 4.6zM958.3 368.4l3.9 -4.6l15.4 8.6l-3.9 4.7zM973.7 377.1l3.9 -4.7l14.3 8.5l-3.9 4.8z" fill="#f6f115" stroke="#f6f115"/>
<path d="M834.8 290.6l4 -3.7l20 9.7l-3.9 3.8zM870.9 314.3l3.9 -3.9l19.6 10.5l-3.9 4zM890.5 324.9l3.9 -4l19.1 10.2l-3.9 4.1zM1025.9 401.4l3.9 -5l8.1 4.9l-3.9 5.1zM1034 406.4l3.9 -5.1l6.4 3.8l-3.9 5.2zM1040.4 410.3l3.9 -5.2l4.6 2.8l-3.9 5.2zM1045 413.1l3.9 -5.2l2.8 1.6l-3.9 5.3zM1047.8 414.8l3.9 -5.3l0.9 0.6l-3.9 5.3z" fill="#f6f214" stroke="#f6f214"/>
<path d="M854.9 300.4l3.9 -3.8l20 10l-4 3.8zM909.6 335.2l3.9 -4.1l18.4 9.9l-3.9 4.2zM928 345.2l3.9 -4.2l17.6 9.4l-3.9 4.4zM991.9 380.9l3.9 -4.7l12.8 7.7l-3.9 4.8zM1004.7 388.7l3.9 -4.8l11.4 6.7l-3.9 4.9zM1016.1 395.5l3.9 -4.9l9.8 5.8l-3.9 5z" fill="#f6f313" stroke="#f6f313"/>
<path d="M874.8 310.4l4 -3.8l19.5 10.3l-3.9 4zM945.6 354.8l3.9 -4.4l16.6 8.9l-3.9 4.5zM962.2 363.8l3.9 -4.5l15.4 8.5l-3.9 4.6zM977.6 372.4l3.9 -4.6l14.3 8.4l-3.9 4.7z" fill="#f7f412" stroke="#f7f412"/>
<path d="M894.4 320.9l3.9 -4l19.1 10.1l-3.9 4.1zM913.5 331.1l3.9 -4.1l18.4 9.8l-3.9 4.2zM1044.3 405.1l3.9 -5.2l4.6 2.7l-3.9 5.3zM1048.9 407.9l3.9 -5.3l2.8 1.7l-3.9 5.2zM1051.7 409.5l3.9 -5.2l0.9 0.5l-3.9 5.3z" fill="#f7f611" stroke="#f7f611"/>
<path d="M931.9 341l3.9 -4.2l17.6 9.3l-3.9 4.3zM949.5 350.4l3.9 -4.3l16.6 8.8l-3.9 4.4zM995.8 376.2l3.9 -4.7l12.8 7.6l-3.9 4.8zM1008.6 383.9l3.9 -4.8l11.4 6.6l-3.9 4.9zM1020 390.6l3.9 -4.9l9.8 5.7l-3.9 5zM1029.8 396.4l3.9 -5l8.1 4.8l-3.9 5.1zM1037.9 401.3l3.9 -5.1l6.4 3.7l-3.9 5.2z" fill="#f8f710" stroke="#f8f710"/>
<path d="M966.1 359.3l3.9 -4.4l15.4 8.3l-3.9 4.6zM981.5 367.8l3.9 -4.6l14.3 8.3l-3.9 4.7z" fill="#f8f80f" stroke="#f8f80f"/>
<path d="M613.1 193.9l3.9 -3.2l1 0.4l-4 3.2zM614 194.3l4 -3.2l2.8 1.2l-4 3.2zM623.8 204.3l4 -3.9l8.1 3.7l-3.9 3.9zM637.8 216.2l4 -3.9l11.3 5.2l-3.9 3.8zM658.1 230.9l3.9 -3.8l14.3 6.4l-4 3.8zM696.5 259.9l4 -4l17.6 8.1l-4 4zM743.8 293.2l3.9 -3.6l19.6 9.4l-3.9 3.7zM998.6 436.5l3.9 -4.9l8.1 5.3l-3.9 5zM759.4 305.2l4 -2.5l19.9 9.8l-3.9 2.4zM960.6 418l3.9 -3.8l12.9 8.4l-3.9 4zM775.5 317.6l3.9 -2.7l20.1 9.9l-3.9 2.8zM910.4 392.5l3.9 -3.2l16.6 9.9l-3.9 3.4zM927 402.6l3.9 -3.4l15.5 9.4l-3.9 3.6zM791.6 330.2l4 -2.6l20.1 10.3l-3.9 2.7zM811.8 340.6l3.9 -2.7l19.9 10.8l-3.9 2.7zM831.7 351.4l3.9 -2.7l19.7 11.2l-4 2.8zM851.3 362.7l4 -2.8l19.1 11.2l-4 2.9zM870.4 374l4 -2.9l18.4 10.8l-3.9 3.1z" fill="#f7da24" stroke="#f7da24"/>
<path d="M616.8 195.5l4 -3.2l4.6 2.1l-4 3.2zM621.4 197.6l4 -3.2l6.4 2.9l-4 3.1zM632 208l3.9 -3.9l9.8 4.4l-3.9 3.8zM649.2 221.3l3.9 -3.8l12.9 5.8l-4 3.8zM672.3 237.3l4 -3.8l15.5 7l-4 3.9zM683.9 248.3l3.9 -3.9l16.6 7.5l-3.9 4zM728.6 280.5l3.9 -4l19.1 9l-3.9 4.1zM1024.4 446.3l3.9 -5.2l0.9 0.7l-3.9 5.2zM763.4 302.7l3.9 -3.7l19.9 9.7l-3.9 3.8zM977.4 422.6l3.9 -4.7l11.4 7.3l-3.9 4.8zM988.8 430l3.9 -4.8l9.8 6.4l-3.9 4.9zM779.4 314.9l3.9 -2.4l20.1 9.9l-3.9 2.4zM946.4 408.6l3.9 -3.5l14.2 9.1l-3.9 3.8zM795.6 327.6l3.9 -2.8l20.1 10.4l-3.9 2.7zM855.3 359.9l3.9 -2.8l19.1 11l-3.9 3zM874.4 371.1l3.9 -3l18.4 10.8l-3.9 3zM892.8 381.9l3.9 -3l17.6 10.4l-3.9 3.2z" fill="#f6db24" stroke="#f6db24"/>
<path d="M669.9 219.4l4 -3.1l14.2 6.4l-3.9 3.2zM680.2 229.7l4 -3.8l15.4 7l-3.9 3.8zM722 260l3.9 -3.8l18.4 8.4l-3.9 3.9zM736.5 272.5l3.9 -4l19.1 9l-3.9 4zM771.2 295l4 -4l19.9 9.6l-3.9 4.1zM1014.5 431.8l3.9 -5.1l6.4 4.2l-3.9 5.1zM1020.9 436l3.9 -5.1l4.6 3l-3.9 5.2zM807.3 318.6l4 -4.1l20.1 10.2l-3.9 4.2zM954.2 400.6l3.9 -4.7l14.2 9l-3.9 4.7z" fill="#f5df20" stroke="#f5df20"/>
<path d="M699.6 232.9l4 -3.2l16.6 7.5l-4 3.3zM712.3 244.3l3.9 -3.8l17.6 8l-3.9 3.8zM725.9 256.2l4 -3.9l18.4 8.4l-4 3.9zM759.5 277.5l3.9 -3.9l19.6 9.4l-3.9 3.9zM775.2 291l3.9 -4.1l19.9 9.6l-3.9 4.1zM1018.4 426.7l3.9 -5l6.4 4l-3.9 5.2zM1024.8 430.9l3.9 -5.2l4.6 3l-3.9 5.2zM1029.4 433.9l3.9 -5.2l2.8 1.9l-3.9 5.2zM811.3 314.5l3.9 -4.1l20.1 10.2l-3.9 4.1zM958.1 395.9l3.9 -4.7l14.3 8.9l-4 4.8zM972.3 404.9l4 -4.8l12.8 8l-3.9 4.9z" fill="#f5e21e" stroke="#f5e21e"/>
<path d="M771.3 265.9l3.9 -3.5l19.6 9.3l-3.9 3.5zM786.9 279.1l4 -3.9l19.9 9.4l-3.9 4zM823 302.3l4 -4.1l20.1 10l-3.9 4.1zM1026.2 416.6l3.9 -5.1l6.4 3.9l-3.9 5.2zM1032.6 420.6l3.9 -5.2l4.6 2.9l-3.9 5.2zM1037.2 423.5l3.9 -5.2l2.8 1.8l-3.9 5.2zM1040 425.3l3.9 -5.2l0.9 0.6l-3.9 5.3zM897.8 348.2l4 -4.4l18.4 10.2l-3.9 4.4zM916.3 358.4l3.9 -4.4l17.5 9.8l-3.9 4.4zM933.8 368.2l3.9 -4.4l16.6 9.2l-3.9 4.6zM950.4 377.6l3.9 -4.6l15.5 8.8l-3.9 4.7z" fill="#f5ea19" stroke="#f5ea19"/>
<path d="M810.8 284.6l3.9 -3.5l20.1 9.5l-3.9 3.6zM827 298.2l3.9 -4l20.1 9.9l-3.9 4.1zM1036.5 415.4l3.9 -5.1l4.6 2.8l-3.9 5.2zM1041.1 418.3l3.9 -5.2l2.8 1.7l-3.9 5.3zM1043.9 420.1l3.9 -5.3l0.9 0.6l-3.9 5.3zM920.2 354l3.9 -4.4l17.6 9.7l-4 4.5zM937.7 363.8l4 -4.5l16.6 9.1l-4 4.6zM954.3 373l4 -4.6l15.4 8.7l-3.9 4.7zM969.8 381.8l3.9 -4.7l14.3 8.6l-3.9 4.8z" fill="#f5ed17" stroke="#f5ed17"/>
<path d="M830.9 294.2l3.9 -3.6l20.1 9.8l-3.9 3.7zM886.6 329.1l3.9 -4.2l19.1 10.3l-3.9 4.3zM905.7 339.5l3.9 -4.3l18.4 10l-3.9 4.4zM924.1 349.6l3.9 -4.4l17.6 9.6l-3.9 4.5zM988 385.7l3.9 -4.8l12.8 7.8l-3.9 4.8zM1000.8 393.5l3.9 -4.8l11.4 6.8l-3.9 5z" fill="#f6ef15" stroke="#f6ef15"/>
<path d="M609.1 197.9l4 -4l0.9 0.4l-3.9 4zM610.1 198.3l3.9 -4l2.8 1.2l-4 4zM612.8 199.5l4 -4l4.6 2.1l-3.9 3.9zM619.9 208.2l3.9 -3.9l8.2 3.7l-4 3.8zM628 211.8l4 -3.8l9.8 4.3l-4 3.9zM654.1 234.9l4 -4l14.2 6.4l-3.9 4zM679.9 252.3l4 -4l16.6 7.6l-4 4zM724.7 284.1l3.9 -3.6l19.1 9.1l-3.9 3.6zM1017.7 449.5l3.9 -5.2l2.8 2l-3.9 5.2zM1020.5 451.5l3.9 -5.2l0.9 0.7l-3.9 5.3zM739.8 295.7l4 -2.5l19.6 9.5l-4 2.5zM984.9 434.2l3.9 -4.2l9.8 6.5l-3.9 4.4zM755.5 307.9l3.9 -2.7l20 9.7l-3.9 2.7zM906.5 395.6l3.9 -3.1l16.6 10.1l-3.9 3.3zM923.1 405.9l3.9 -3.3l15.5 9.6l-3.9 3.5zM787.7 332.9l3.9 -2.7l20.2 10.4l-3.9 2.7zM866.5 376.8l3.9 -2.8l18.5 11l-3.9 2.9zM803.9 345.9l4 -2.6l19.9 10.8l-3.9 2.7zM823.9 356.8l3.9 -2.7l19.6 11.4l-3.9 2.7z" fill="#f7d826" stroke="#f7d826"/>
<path d="M617.5 201.5l3.9 -3.9l6.4 2.8l-4 3.9zM645.2 225.1l4 -3.8l12.8 5.8l-3.9 3.8zM668.4 241.3l3.9 -4l15.5 7.1l-3.9 3.9zM710.2 272l3.9 -4l18.4 8.5l-3.9 4zM1006.7 441.9l3.9 -5l6.4 4.3l-3.9 5.1zM1013.1 446.3l3.9 -5.1l4.6 3.1l-3.9 5.2zM973.5 426.6l3.9 -4l11.4 7.4l-3.9 4.2zM942.5 412.2l3.9 -3.6l14.2 9.4l-3.9 3.8zM771.5 320.3l4 -2.7l20.1 10l-4 2.6zM888.9 385l3.9 -3.1l17.6 10.6l-3.9 3.1zM807.9 343.3l3.9 -2.7l19.9 10.8l-3.9 2.7zM827.8 354.1l3.9 -2.7l19.6 11.3l-3.9 2.8zM847.4 365.5l3.9 -2.8l19.1 11.3l-3.9 2.8z" fill="#f7d925" stroke="#f7d925"/>
<path d="M767.4 269.8l3.9 -3.9l19.6 9.3l-4 3.9zM819.1 306.3l3.9 -4l20.2 10l-4 4.1zM993 403.3l3.9 -4.9l11.4 7l-3.9 5zM1004.4 410.4l3.9 -5l9.8 6.1l-3.9 5z" fill="#f5e71b" stroke="#f5e71b"/>
<path d="M605.2 201.9l3.9 -4l1 0.4l-4 3.9zM615.9 212.1l4 -3.9l8.1 3.6l-3.9 3.9zM629.9 224.1l4 -4.1l11.3 5.1l-3.9 4zM650.2 238.9l3.9 -4l14.3 6.4l-4 4zM688.7 267.6l3.9 -3.7l17.6 8.1l-4 3.7zM702.3 278.4l3.9 -2.7l18.5 8.4l-4 2.6zM1009.2 451.1l3.9 -4.8l4.6 3.2l-3.9 4.9zM1013.8 454.4l3.9 -4.9l2.8 2l-3.9 5.1zM981 438.4l3.9 -4.2l9.8 6.7l-3.9 4.3zM952.8 425.5l3.9 -3.7l12.9 8.7l-3.9 3.9zM743.7 316.1l3.9 -2.7l20 9.6l-3.9 2.6zM898.6 401.9l4 -3.1l16.6 10.4l-3.9 3.3zM759.7 328.3l4 -2.7l20.1 9.9l-3.9 2.6zM858.7 382.4l3.9 -2.8l18.4 11.3l-3.9 2.9zM776 340.7l3.9 -2.6l20.1 10.4l-3.9 2.6zM796.1 351.1l3.9 -2.6l20 10.9l-4 2.6zM816 362l4 -2.6l19.6 11.5l-3.9 2.7zM835.7 373.6l3.9 -2.7l19.1 11.5l-3.9 2.8z" fill="#f8d628" stroke="#f8d628"/>
<path d="M606.1 202.2l4 -3.9l2.7 1.2l-3.9 3.9zM608.9 203.4l3.9 -3.9l4.7 2l-4 3.9zM624.1 215.7l3.9 -3.9l9.8 4.4l-3.9 3.8zM641.3 229.1l3.9 -4l12.9 5.8l-4 4zM676 256.3l3.9 -4l16.6 7.6l-3.9 4zM1002.8 446.5l3.9 -4.6l6.4 4.4l-3.9 4.8zM716.8 289.7l3.9 -3l19.1 9l-3.9 2.9zM969.6 430.5l3.9 -3.9l11.4 7.6l-3.9 4.2zM732 301.4l3.9 -2.8l19.6 9.3l-3.9 2.8zM938.6 415.7l3.9 -3.5l14.2 9.6l-3.9 3.7zM747.6 313.4l4 -2.7l19.9 9.6l-3.9 2.7zM919.2 409.2l3.9 -3.3l15.5 9.8l-3.9 3.5zM763.7 325.6l3.9 -2.6l20.1 9.9l-3.9 2.6zM881 390.9l4 -3l17.6 10.9l-4 3.1zM779.9 338.1l3.9 -2.6l20.1 10.4l-3.9 2.6zM839.6 370.9l3.9 -2.7l19.1 11.4l-3.9 2.8z" fill="#f8d627" stroke="#f8d627"/>
<path d="M613.5 205.4l4 -3.9l6.3 2.8l-3.9 3.9zM633.9 220l3.9 -3.8l11.4 5.1l-4 3.8zM664.4 245.3l4 -4l15.5 7l-4 4zM692.6 263.9l3.9 -4l17.6 8.1l-3.9 4zM706.2 275.7l4 -3.7l18.4 8.5l-3.9 3.6zM720.7 286.7l4 -2.6l19.1 9.1l-4 2.5zM994.7 440.9l3.9 -4.4l8.1 5.4l-3.9 4.6zM735.9 298.6l3.9 -2.9l19.6 9.5l-3.9 2.7zM956.7 421.8l3.9 -3.8l12.9 8.6l-3.9 3.9zM751.6 310.7l3.9 -2.8l20 9.7l-4 2.7zM767.6 323l3.9 -2.7l20.1 9.9l-3.9 2.7zM885 387.9l3.9 -2.9l17.6 10.6l-3.9 3.2zM902.6 398.8l3.9 -3.2l16.6 10.3l-3.9 3.3zM783.8 335.5l3.9 -2.6l20.2 10.4l-4 2.6zM843.5 368.2l3.9 -2.7l19.1 11.3l-3.9 2.8zM862.6 379.6l3.9 -2.8l18.5 11.1l-4 3zM800 348.5l3.9 -2.6l20 10.9l-3.9 2.6zM820 359.4l3.9 -2.6l19.6 11.4l-3.9 2.7z" fill="#f8d726" stroke="#f8d726"/>
<path d="M763.4 273.6l4 -3.8l19.5 9.3l-3.9 3.9zM799 296.5l3.9 -3.9l20.1 9.7l-3.9 4zM1028.7 425.7l3.9 -5.1l4.6 2.9l-3.9 5.2zM1033.3 428.7l3.9 -5.2l2.8 1.8l-3.9 5.3zM1036.1 430.6l3.9 -5.3l0.9 0.7l-3.9 5.2zM835.3 320.6l3.9 -4.2l20 10.4l-4 4.2zM962 391.2l3.9 -4.7l14.3 8.8l-3.9 4.8zM976.3 400.1l3.9 -4.8l12.8 8l-3.9 4.8z" fill="#f5e51c" stroke="#f5e51c"/>
<path d="M601.2 205.9l4 -4l0.9 0.3l-3.9 4zM602.2 206.2l3.9 -4l2.8 1.2l-4 4zM612 216.2l3.9 -4.1l8.2 3.6l-4 4.1zM646.3 242.9l3.9 -4l14.2 6.4l-3.9 4zM684.7 270.4l4 -2.8l17.5 8.1l-3.9 2.7zM998.9 451.1l3.9 -4.6l6.4 4.6l-3.9 4.7zM708.9 295.6l4 -3l19.1 8.8l-4 2.8zM948.9 429.1l3.9 -3.6l12.9 8.9l-3.9 3.9zM724.1 307l3.9 -2.8l19.6 9.2l-3.9 2.7zM739.8 318.8l3.9 -2.7l20 9.5l-4 2.7zM894.7 404.9l3.9 -3l16.7 10.6l-3.9 3.2zM873.2 396.7l3.9 -2.9l17.6 11.1l-3.9 3.1zM831.8 376.3l3.9 -2.7l19.1 11.6l-3.9 2.8zM788.2 356.3l4 -2.6l19.9 11l-3.9 2.6zM808.2 367.3l3.9 -2.6l19.7 11.6l-4 2.7z" fill="#f9d429" stroke="#f9d429"/>
<path d="M604.9 207.4l4 -4l4.6 2l-4 3.9zM609.5 209.3l4 -3.9l6.4 2.8l-4 3.9zM620.1 219.8l4 -4.1l9.8 4.3l-4 4.1zM637.3 233.2l4 -4.1l12.8 5.8l-3.9 4zM660.5 249.3l3.9 -4l15.5 7l-3.9 4zM672 260l4 -3.7l16.6 7.6l-3.9 3.7zM1016.6 456.6l3.9 -5.1l0.9 0.8l-3.9 5.1zM698.4 281.5l3.9 -3.1l18.4 8.3l-3.9 3zM990.8 445.2l3.9 -4.3l8.1 5.6l-3.9 4.6zM712.9 292.6l3.9 -2.9l19.1 8.9l-3.9 2.8zM965.7 434.4l3.9 -3.9l11.4 7.9l-3.9 4.1zM728 304.2l4 -2.8l19.6 9.3l-4 2.7zM934.7 419.2l3.9 -3.5l14.2 9.8l-3.9 3.6zM915.3 412.5l3.9 -3.3l15.5 10l-3.9 3.4zM877.1 393.8l3.9 -2.9l17.6 11l-3.9 3zM755.8 330.9l3.9 -2.6l20.2 9.8l-3.9 2.6zM854.8 385.2l3.9 -2.8l18.4 11.4l-3.9 2.9zM772 343.3l4 -2.6l20.1 10.4l-3.9 2.6zM792.2 353.7l3.9 -2.6l19.9 10.9l-3.9 2.7zM812.1 364.7l3.9 -2.7l19.7 11.6l-3.9 2.7z" fill="#f9d528" stroke="#f9d528"/>
<path d="M597.3 210.1l3.9 -4.2l1 0.3l-4 4.2zM598.2 210.4l4 -4.2l2.7 1.2l-3.9 4.1zM601 211.5l3.9 -4.1l4.6 1.9l-3.9 4.1zM616.2 223.8l3.9 -4l9.8 4.3l-3.9 4zM633.4 237.2l3.9 -4l12.9 5.7l-3.9 4zM1009.9 459.3l3.9 -4.9l2.8 2.2l-3.9 5zM1012.7 461.6l3.9 -5l0.9 0.8l-3.9 5.1zM986.9 449.5l3.9 -4.3l8.1 5.9l-3.9 4.5zM690.5 287.6l3.9 -3.1l18.5 8.1l-4 3zM961.8 438.3l3.9 -3.9l11.4 8.1l-3.9 4zM705 298.5l3.9 -2.9l19.1 8.6l-3.9 2.8zM945 432.7l3.9 -3.6l12.9 9.2l-3.9 3.8zM731.9 324.2l4 -2.7l19.9 9.4l-3.9 2.6zM869.3 399.6l3.9 -2.9l17.6 11.3l-3.9 3zM748 336.2l3.9 -2.7l20.1 9.8l-3.9 2.6zM847 390.8l3.9 -2.8l18.4 11.6l-3.9 2.9zM764.2 348.5l3.9 -2.6l20.1 10.4l-3.9 2.7zM823.9 381.8l3.9 -2.8l19.2 11.8l-4 2.8zM780.4 361.6l3.9 -2.6l20 11l-3.9 2.7z" fill="#fad22a" stroke="#fad22a"/>
<path d="M605.6 213.4l3.9 -4.1l6.4 2.8l-3.9 4.1zM626 228.1l3.9 -4l11.4 5l-4 4.1zM656.5 253.1l4 -3.8l15.5 7l-4 3.7zM668.1 263l3.9 -3l16.7 7.6l-4 2.8zM680.8 273.6l3.9 -3.2l17.6 8l-3.9 3.1zM1005.3 455.8l3.9 -4.7l4.6 3.3l-3.9 4.9zM694.4 284.5l4 -3l18.4 8.2l-3.9 2.9zM977.1 442.5l3.9 -4.1l9.8 6.8l-3.9 4.3zM930.8 422.6l3.9 -3.4l14.2 9.9l-3.9 3.6zM720.2 309.8l3.9 -2.8l19.6 9.1l-3.9 2.7zM911.4 415.7l3.9 -3.2l15.5 10.1l-3.9 3.4zM735.9 321.5l3.9 -2.7l19.9 9.5l-3.9 2.6zM890.8 408l3.9 -3.1l16.7 10.8l-3.9 3.2zM751.9 333.5l3.9 -2.6l20.2 9.8l-4 2.6zM850.9 388l3.9 -2.8l18.4 11.5l-3.9 2.9zM768.1 345.9l3.9 -2.6l20.2 10.4l-4 2.6zM827.8 379l4 -2.7l19.1 11.7l-3.9 2.8zM784.3 359l3.9 -2.7l20 11l-3.9 2.7zM804.3 370l3.9 -2.7l19.6 11.7l-3.9 2.8z" fill="#fad32a" stroke="#fad32a"/>
<path d="M593.3 214.3l4 -4.2l0.9 0.3l-4 4.2zM594.2 214.6l4 -4.2l2.8 1.1l-4 4.2zM604.1 224.4l3.9 -4.1l8.2 3.5l-4 4.1zM618.1 236.1l3.9 -3.9l11.4 5l-4 3.9zM638.4 250l3.9 -3.3l14.2 6.4l-3.9 3.1zM648.7 259.8l3.9 -3.6l15.5 6.8l-3.9 3.4zM660.2 269.8l4 -3.4l16.6 7.2l-4 3.3zM1006 464.1l3.9 -4.8l2.8 2.3l-3.9 4.9zM1008.8 466.5l3.9 -4.9l0.9 0.9l-3.8 5zM983 453.8l3.9 -4.3l8.1 6.1l-3.9 4.4zM682.6 293.7l4 -3l18.4 7.8l-3.9 2.9zM941.1 436.3l3.9 -3.6l12.9 9.4l-3.9 3.7zM697.1 304.3l4 -2.9l19.1 8.4l-4 2.8zM923 429.4l3.9 -3.4l14.2 10.3l-3.9 3.6zM903.6 422.1l3.9 -3.2l15.5 10.5l-3.9 3.4zM708.4 318.2l3.9 -2.8l19.6 8.8l-3.9 2.7zM883 414.1l3.9 -3.1l16.7 11.1l-4 3.2zM861.5 405.5l3.9 -3l17.6 11.6l-3.9 3.1zM839.1 396.5l3.9 -2.9l18.5 11.9l-3.9 2.9zM736.2 344.2l3.9 -2.7l20.1 9.7l-3.9 2.7zM816.1 387.3l3.9 -2.8l19.1 12l-3.9 2.9zM772.6 367l3.9 -2.7l20 11.1l-4 2.8zM792.5 378.2l4 -2.8l19.6 11.9l-3.9 2.9z" fill="#fbd02c" stroke="#fbd02c"/>
<path d="M597 215.7l4 -4.2l4.6 1.9l-4 4.2zM601.6 217.6l4 -4.2l6.4 2.8l-4 4.1zM612.2 227.9l4 -4.1l9.8 4.3l-4 4.1zM629.4 241.1l4 -3.9l12.9 5.7l-4 3.8zM1001.4 460.5l3.9 -4.7l4.6 3.5l-3.9 4.8zM672.9 280.1l3.9 -3.2l17.6 7.6l-3.9 3.1zM686.6 290.7l3.9 -3.1l18.4 8l-3.9 2.9zM957.9 442.1l3.9 -3.8l11.4 8.2l-3.9 4zM712.3 315.4l3.9 -2.8l19.7 8.9l-4 2.7zM724.1 329.6l3.9 -2.7l20 9.3l-4 2.6zM740.1 341.5l3.9 -2.7l20.2 9.7l-4 2.7zM820 384.5l3.9 -2.7l19.1 11.8l-3.9 2.9zM756.3 353.9l3.9 -2.7l20.2 10.4l-3.9 2.7zM776.5 364.3l3.9 -2.7l20 11.1l-3.9 2.7zM796.5 375.4l3.9 -2.7l19.6 11.8l-3.9 2.8z" fill="#fbd12c" stroke="#fbd12c"/>
<path d="M608 220.3l4 -4.1l8.1 3.6l-3.9 4zM622 232.2l4 -4.1l11.3 5.1l-3.9 4zM642.3 246.7l4 -3.8l14.2 6.4l-4 3.8zM652.6 256.2l3.9 -3.1l15.5 6.9l-3.9 3zM664.2 266.4l3.9 -3.4l16.6 7.4l-3.9 3.2zM676.8 276.9l4 -3.3l17.6 7.9l-4 3zM995 455.6l3.9 -4.5l6.4 4.7l-3.9 4.7zM973.2 446.5l3.9 -4l9.8 7l-3.9 4.3zM701.1 301.4l3.9 -2.9l19.1 8.5l-3.9 2.8zM926.9 426l3.9 -3.4l14.2 10.1l-3.9 3.6zM716.2 312.6l4 -2.8l19.6 9l-3.9 2.7zM907.5 418.9l3.9 -3.2l15.5 10.3l-3.9 3.4zM886.9 411l3.9 -3l16.7 10.9l-3.9 3.2zM728 326.9l3.9 -2.7l20 9.3l-3.9 2.7zM865.4 402.5l3.9 -2.9l17.6 11.4l-3.9 3.1zM744 338.8l4 -2.6l20.1 9.7l-3.9 2.6zM843 393.6l4 -2.8l18.4 11.7l-3.9 3zM760.2 351.2l4 -2.7l20.1 10.5l-3.9 2.6zM800.4 372.7l3.9 -2.7l19.6 11.8l-3.9 2.7z" fill="#fad12b" stroke="#fad12b"/>
<path d="M589.4 218.5l3.9 -4.2l0.9 0.3l-3.9 4.2zM600.1 228.4l4 -4l8.1 3.5l-3.9 4zM621.5 248.5l4 -4l12.9 5.5l-4 3.8zM1002.1 468.9l3.9 -4.8l2.8 2.4l-3.9 4.9zM652.3 276.6l4 -3.4l16.6 6.9l-3.9 3.2zM665 286.5l4 -3.2l17.6 7.4l-4 3zM965.4 454.5l3.9 -4l9.8 7.5l-3.9 4.1zM674.7 299.8l4 -3l18.4 7.5l-3.9 2.9zM895.7 428.6l3.9 -3.3l15.6 10.9l-3.9 3.5zM700.5 323.8l3.9 -2.8l19.7 8.6l-4 2.7zM875.2 420.3l3.9 -3.1l16.6 11.4l-3.9 3.3zM853.7 411.5l3.9 -3.1l17.6 11.9l-3.9 3.2zM712.3 337.9l3.9 -2.8l20 9.1l-4 2.7zM831.3 402.3l3.9 -2.9l18.5 12.1l-4 3zM748.5 361.7l3.9 -5.1l20.2 10.4l-4 5.2zM788.6 383.3l3.9 -5.1l19.7 12l-3.9 5.1z" fill="#fccd2e" stroke="#fccd2e"/>
<path d="M590.3 218.8l3.9 -4.2l2.8 1.1l-3.9 4.1zM593.1 219.8l3.9 -4.1l4.6 1.9l-3.9 4.1zM608.3 231.9l3.9 -4l9.8 4.3l-3.9 3.9zM614.1 239.7l4 -3.6l11.3 5l-3.9 3.4zM644.7 263.4l4 -3.6l15.5 6.6l-4 3.4zM997.5 465.1l3.9 -4.6l4.6 3.6l-3.9 4.8zM979.1 458l3.9 -4.2l8.1 6.2l-3.9 4.4zM678.7 296.8l3.9 -3.1l18.5 7.7l-4 2.9zM937.2 439.9l3.9 -3.6l12.9 9.5l-3.9 3.8zM919.1 432.8l3.9 -3.4l14.2 10.5l-3.9 3.6zM689.2 310.1l4 -2.9l19.1 8.2l-3.9 2.8zM716.2 335.1l3.9 -2.8l20 9.2l-3.9 2.7zM732.2 346.9l4 -2.7l20.1 9.7l-3.9 2.7zM768.6 372.2l4 -5.2l19.9 11.2l-3.9 5.1z" fill="#fcce2d" stroke="#fcce2d"/>
<path d="M597.7 221.7l3.9 -4.1l6.4 2.7l-3.9 4.1zM625.5 244.5l3.9 -3.4l12.9 5.6l-3.9 3.3zM634.4 253.8l4 -3.8l14.2 6.2l-3.9 3.6zM656.3 273.2l3.9 -3.4l16.6 7.1l-3.9 3.2zM991.1 460l3.9 -4.4l6.4 4.9l-3.9 4.6zM669 283.3l3.9 -3.2l17.6 7.5l-3.9 3.1zM969.3 450.5l3.9 -4l9.8 7.3l-3.9 4.2zM954 445.8l3.9 -3.7l11.4 8.4l-3.9 4zM693.2 307.2l3.9 -2.9l19.1 8.3l-3.9 2.8zM899.6 425.3l4 -3.2l15.5 10.7l-3.9 3.4zM704.4 321l4 -2.8l19.6 8.7l-3.9 2.7zM879.1 417.2l3.9 -3.1l16.6 11.2l-3.9 3.3zM720.1 332.3l4 -2.7l19.9 9.2l-3.9 2.7zM857.6 408.4l3.9 -2.9l17.6 11.7l-3.9 3.1zM835.2 399.4l3.9 -2.9l18.5 11.9l-3.9 3.1zM752.4 356.6l3.9 -2.7l20.2 10.4l-3.9 2.7zM812.2 390.2l3.9 -2.9l19.1 12.1l-3.9 2.9z" fill="#fbcf2d" stroke="#fbcf2d"/>
<path d="M585.4 222.7l4 -4.2l0.9 0.3l-4 4.1zM586.3 222.9l4 -4.1l2.8 1l-4 4.1zM596.2 232.4l3.9 -4l8.2 3.5l-4 3.8zM610.2 243.9l3.9 -4.2l11.4 4.8l-4 4zM617.6 252.5l3.9 -4l12.9 5.3l-3.9 3.8zM993.6 469.6l3.9 -4.5l4.6 3.8l-3.9 4.7zM648.4 279.9l3.9 -3.3l16.7 6.7l-4 3.2zM975.2 462.1l3.9 -4.1l8.1 6.4l-3.9 4.3zM670.8 302.8l3.9 -3l18.5 7.4l-4 2.9zM681.4 315.9l3.9 -2.9l19.1 8l-3.9 2.8zM891.8 431.9l3.9 -3.3l15.6 11.1l-4 3.4zM871.3 423.5l3.9 -3.2l16.6 11.6l-3.9 3.3zM692.6 329.5l4 -2.9l19.6 8.5l-3.9 2.8zM849.7 414.5l4 -3l17.6 12l-3.9 3.2zM827.4 407.5l3.9 -5.2l18.4 12.2l-3.9 5.2z" fill="#fdcc30" stroke="#fdcc30"/>
<path d="M589.1 223.9l4 -4.1l4.6 1.9l-4 4.1zM593.7 225.8l4 -4.1l6.4 2.7l-4 4zM604.3 235.7l4 -3.8l9.8 4.2l-4 3.6zM630.5 257.6l3.9 -3.8l14.3 6l-4 3.6zM640.8 266.9l3.9 -3.5l15.5 6.4l-3.9 3.4zM1004.9 471.4l3.9 -4.9l1 1l-3.9 5zM987.2 464.4l3.9 -4.4l6.4 5.1l-3.9 4.5zM661.1 289.7l3.9 -3.2l17.6 7.2l-3.9 3.1zM950.1 449.6l3.9 -3.8l11.4 8.7l-3.9 3.9zM933.3 443.5l3.9 -3.6l12.9 9.7l-3.9 3.8zM915.2 436.2l3.9 -3.4l14.2 10.7l-3.9 3.6zM685.3 313l3.9 -2.9l19.2 8.1l-4 2.8zM696.6 326.6l3.9 -2.8l19.6 8.5l-3.9 2.8zM728.3 352.1l3.9 -5.2l20.2 9.7l-3.9 5.1zM808.3 395.3l3.9 -5.1l19.1 12.1l-3.9 5.2z" fill="#fccc2f" stroke="#fccc2f"/>
<path d="M581.5 227.1l3.9 -4.4l0.9 0.2l-3.9 4.4zM592.2 237l4 -4.6l8.1 3.3l-3.9 4.4zM613.7 256.5l3.9 -4l12.9 5.1l-4 3.8zM622.6 265.2l3.9 -3.8l14.3 5.5l-4 3.6zM632.9 274.1l3.9 -3.6l15.5 6.1l-3.9 3.3zM989.7 474.1l3.9 -4.5l4.6 4l-3.8 4.7zM971.3 466.3l3.9 -4.2l8.1 6.6l-3.9 4.3zM957.6 462.4l3.9 -4l9.8 7.9l-3.9 4.1zM653.2 296.1l3.9 -3.2l17.6 6.9l-3.9 3zM942.3 457.1l3.9 -3.7l11.4 9l-3.9 4zM925.5 450.7l3.9 -3.6l12.9 10l-3.9 3.8zM662.9 309l4 -3.1l18.4 7.1l-3.9 2.9zM907.3 443.1l4 -3.4l14.2 11l-3.9 3.6zM673.5 321.9l3.9 -3l19.2 7.7l-4 2.9zM688.7 334.6l3.9 -5.1l19.7 8.4l-4 5.1z" fill="#fec932" stroke="#fec932"/>
<path d="M582.4 227.3l3.9 -4.4l2.8 1l-3.9 4.3zM585.2 228.2l3.9 -4.3l4.6 1.9l-3.9 4.1zM606.2 248.1l4 -4.2l11.3 4.6l-3.9 4zM1001 476.2l3.9 -4.8l1 1.1l-3.9 4.8zM983.3 468.7l3.9 -4.3l6.4 5.2l-3.9 4.5zM644.4 283.3l4 -3.4l16.6 6.6l-3.9 3.2zM677.4 318.9l4 -3l19.1 7.9l-3.9 2.8zM887.9 435.2l3.9 -3.3l15.5 11.2l-3.9 3.6zM867.4 426.7l3.9 -3.2l16.6 11.7l-3.9 3.4zM845.8 419.7l3.9 -5.2l17.7 12.2l-3.9 5.1zM724.4 357.2l3.9 -5.1l20.2 9.6l-3.9 5.2zM804.3 400.5l4 -5.2l19.1 12.2l-3.9 5.1z" fill="#fdca31" stroke="#fdca31"/>
<path d="M589.8 229.9l3.9 -4.1l6.4 2.6l-3.9 4zM600.4 240.1l3.9 -4.4l9.8 4l-3.9 4.2zM626.5 261.4l4 -3.8l14.2 5.8l-3.9 3.5zM636.8 270.5l4 -3.6l15.5 6.3l-4 3.4zM998.2 473.6l3.9 -4.7l2.8 2.5l-3.9 4.8zM961.5 458.4l3.9 -3.9l9.8 7.6l-3.9 4.2zM657.1 292.9l4 -3.2l17.6 7.1l-4 3zM946.2 453.4l3.9 -3.8l11.4 8.8l-3.9 4zM929.4 447.1l3.9 -3.6l12.9 9.9l-3.9 3.7zM666.9 305.9l3.9 -3.1l18.4 7.3l-3.9 2.9zM911.3 439.7l3.9 -3.5l14.2 10.9l-3.9 3.6zM708.3 343l4 -5.1l19.9 9l-3.9 5.2zM744.5 366.9l3.9 -5.2l20.1 10.5l-3.9 5.1zM764.7 377.3l3.9 -5.1l20 11.1l-3.9 5.2zM784.7 388.5l3.9 -5.2l19.7 12l-4 5.2z" fill="#fdcb30" stroke="#fdcb30"/>
<path d="M577.5 232.3l4 -5.2l0.9 0.2l-4 5.1zM985.8 478.6l3.9 -4.5l4.7 4.2l-3.9 4.6zM625 281.2l3.9 -3.5l15.5 5.6l-3.9 3.4zM953.7 466.4l3.9 -4l9.8 8l-3.9 4.2zM938.4 460.9l3.9 -3.8l11.4 9.3l-3.9 4zM645.3 302.5l3.9 -3.2l17.7 6.6l-4 3.1zM655.1 315.2l3.9 -3.1l18.4 6.8l-3.9 3zM684.8 339.8l3.9 -5.2l19.6 8.4l-3.9 5.2zM841.9 424.8l3.9 -5.1l17.7 12.1l-3.9 5.2zM720.5 362.4l3.9 -5.2l20.2 9.7l-4 5.2zM800.4 405.6l3.9 -5.1l19.2 12.1l-3.9 5.2z" fill="#fec734" stroke="#fec734"/>
<path d="M578.4 232.4l4 -5.1l2.8 0.9l-4 5zM581.2 233.2l4 -5l4.6 1.7l-4 4.8zM588.3 241.6l3.9 -4.6l8.2 3.1l-4 4.4zM602.3 252.3l3.9 -4.2l11.4 4.4l-3.9 4zM609.7 260.5l4 -4l12.8 4.9l-3.9 3.8zM618.6 268.9l4 -3.7l14.2 5.3l-3.9 3.6zM997.1 481l3.9 -4.8l1 1.1l-3.9 4.9zM967.4 470.4l3.9 -4.1l8.1 6.7l-3.9 4.4zM636.6 290.1l3.9 -3.4l16.6 6.2l-3.9 3.2zM921.6 454.3l3.9 -3.6l12.9 10.2l-3.9 3.9zM903.4 446.7l3.9 -3.6l14.3 11.2l-3.9 3.7zM669.6 327l3.9 -5.1l19.1 7.6l-3.9 5.1zM740.6 372.1l4 -5.2l20.1 10.4l-3.9 5.2zM780.8 393.7l3.9 -5.2l19.6 12l-3.9 5.1z" fill="#fec733" stroke="#fec733"/>
<path d="M585.8 234.7l4 -4.8l6.4 2.5l-4 4.6zM596.4 244.5l4 -4.4l9.8 3.8l-4 4.2zM994.4 478.3l3.8 -4.7l2.8 2.6l-3.9 4.8zM628.9 277.7l4 -3.6l15.5 5.8l-4 3.4zM979.4 473l3.9 -4.3l6.4 5.4l-3.9 4.5zM640.5 286.7l3.9 -3.4l16.7 6.4l-4 3.2zM649.2 299.3l4 -3.2l17.6 6.7l-3.9 3.1zM659 312.1l3.9 -3.1l18.5 6.9l-4 3zM884 438.6l3.9 -3.4l15.5 11.5l-3.9 3.5zM863.5 431.8l3.9 -5.1l16.6 11.9l-3.9 5.2zM704.4 348.2l3.9 -5.2l20 9.1l-3.9 5.1zM823.5 412.6l3.9 -5.1l18.4 12.2l-3.9 5.1zM760.8 382.5l3.9 -5.2l20 11.2l-3.9 5.2z" fill="#fec832" stroke="#fec832"/>
<path d="M573.5 237.4l4 -5.1l0.9 0.1l-3.9 5zM574.5 237.4l3.9 -5l2.8 0.8l-3.9 4.9zM588.5 253.3l4 -4.4l9.8 3.4l-4 4.2zM610.7 276.5l4 -3.8l14.2 5l-3.9 3.5zM981.9 483.1l3.9 -4.5l4.7 4.3l-3.9 4.7zM628.7 296.9l3.9 -3.4l16.6 5.8l-3.9 3.2zM637.4 309l4 -3.2l17.6 6.3l-3.9 3.1zM651.1 320.3l4 -5.1l18.4 6.7l-3.9 5.1zM665.6 332.2l4 -5.2l19.1 7.6l-3.9 5.2zM838 430l3.9 -5.2l17.7 12.2l-4 5.2zM716.5 367.5l4 -5.1l20.1 9.7l-3.9 5.1zM796.5 410.8l3.9 -5.2l19.2 12.2l-4 5.2z" fill="#ffc436" stroke="#ffc436"/>
<path d="M577.3 238.1l3.9 -4.9l4.6 1.5l-3.9 4.7zM584.3 246.2l4 -4.6l8.1 2.9l-3.9 4.4zM993.2 485.8l3.9 -4.8l1 1.2l-3.9 4.9zM621 284.8l4 -3.6l15.5 5.5l-3.9 3.4zM963.5 474.6l3.9 -4.2l8.1 7l-3.9 4.3zM949.8 470.4l3.9 -4l9.8 8.2l-3.9 4.2zM934.5 464.8l3.9 -3.9l11.4 9.5l-3.9 4zM641.4 305.8l3.9 -3.3l17.6 6.5l-3.9 3.1zM917.7 458l3.9 -3.7l12.9 10.5l-3.9 3.9zM859.6 437l3.9 -5.2l16.6 12l-3.9 5.1zM700.5 353.3l3.9 -5.1l20 9l-3.9 5.2zM736.7 377.2l3.9 -5.1l20.2 10.4l-3.9 5.2zM756.9 387.7l3.9 -5.2l20 11.2l-3.9 5.1zM776.9 398.8l3.9 -5.1l19.6 11.9l-3.9 5.2z" fill="#fec535" stroke="#fec535"/>
<path d="M581.9 239.4l3.9 -4.7l6.4 2.3l-3.9 4.6zM592.5 248.9l3.9 -4.4l9.8 3.6l-3.9 4.2zM598.3 256.5l4 -4.2l11.4 4.2l-4 4zM605.8 264.4l3.9 -3.9l12.9 4.7l-4 3.7zM614.7 272.7l3.9 -3.8l14.3 5.2l-4 3.6zM990.5 482.9l3.9 -4.6l2.7 2.7l-3.9 4.8zM975.5 477.4l3.9 -4.4l6.4 5.6l-3.9 4.5zM632.6 293.5l4 -3.4l16.6 6l-4 3.2zM899.5 450.2l3.9 -3.5l14.3 11.3l-3.9 3.8zM880.1 443.8l3.9 -5.2l15.5 11.6l-3.9 5.2zM819.6 417.8l3.9 -5.2l18.4 12.2l-3.9 5.2z" fill="#fec635" stroke="#fec635"/>
<path d="M569.6 242.5l3.9 -5.1l1 0l-4 5.1zM574 249l3.9 -4.8l6.4 2l-3.9 4.5zM982.7 492.2l3.9 -4.6l2.7 3l-3.8 4.8zM967.7 486.1l3.9 -4.4l6.4 5.9l-3.8 4.6zM955.7 483l3.9 -4.2l8.1 7.3l-3.9 4.4zM942 478.5l3.9 -4.1l9.8 8.6l-3.9 4.3zM620.8 303.7l3.9 -3.4l16.7 5.5l-4 3.2zM926.7 472.7l3.9 -4l11.4 9.8l-3.9 4.2zM909.9 466.9l3.9 -5.1l12.9 10.9l-3.9 5.1zM891.7 460.6l3.9 -5.2l14.3 11.5l-3.9 5.2zM676.9 350.1l3.9 -5.1l19.7 8.3l-4 5.2zM712.6 372.7l3.9 -5.2l20.2 9.7l-3.9 5.2zM792.6 416l3.9 -5.2l19.1 12.2l-3.9 5.1z" fill="#fec13a" stroke="#fec13a"/>
<path d="M570.5 242.5l4 -5.1l2.8 0.7l-4 4.9zM584.6 257.7l3.9 -4.4l9.8 3.2l-3.9 4.2zM590.4 264.9l4 -4.2l11.4 3.7l-4 4zM597.9 272.4l3.9 -4l12.9 4.3l-4 3.8zM978 487.6l3.9 -4.5l4.7 4.5l-3.9 4.6zM613.2 292l3.9 -3.6l15.5 5.1l-3.9 3.4zM633.5 314.2l3.9 -5.2l17.7 6.2l-4 5.1zM647.2 325.5l3.9 -5.2l18.5 6.7l-4 5.2zM661.7 337.3l3.9 -5.1l19.2 7.6l-4 5.2zM834.1 435.2l3.9 -5.2l17.6 12.2l-3.9 5.1zM732.8 382.4l3.9 -5.2l20.2 10.5l-4 5.1zM772.9 404l4 -5.2l19.6 12l-3.9 5.2z" fill="#fec239" stroke="#fec239"/>
<path d="M573.3 243l4 -4.9l4.6 1.3l-4 4.8zM580.4 250.7l3.9 -4.5l8.2 2.7l-4 4.4zM989.3 490.6l3.9 -4.8l1 1.3l-3.9 4.8zM606.8 280.3l3.9 -3.8l14.3 4.7l-4 3.6zM959.6 478.8l3.9 -4.2l8.1 7.1l-3.9 4.4zM945.9 474.4l3.9 -4l9.8 8.4l-3.9 4.2zM624.7 300.3l4 -3.4l16.6 5.6l-3.9 3.3zM855.6 442.2l4 -5.2l16.6 11.9l-3.9 5.2zM696.5 358.5l4 -5.2l20 9.1l-4 5.1zM815.6 423l4 -5.2l18.4 12.2l-3.9 5.2zM752.9 392.8l4 -5.1l20 11.1l-4 5.2z" fill="#ffc238" stroke="#ffc238"/>
<path d="M577.9 244.2l4 -4.8l6.4 2.2l-4 4.6zM594.4 260.7l3.9 -4.2l11.4 4l-3.9 3.9zM601.8 268.4l4 -4l12.8 4.5l-3.9 3.8zM986.6 487.6l3.9 -4.7l2.7 2.9l-3.9 4.8zM971.6 481.7l3.9 -4.3l6.4 5.7l-3.9 4.5zM617.1 288.4l3.9 -3.6l15.6 5.3l-4 3.4zM930.6 468.7l3.9 -3.9l11.4 9.6l-3.9 4.1zM913.8 461.8l3.9 -3.8l12.9 10.7l-3.9 4zM895.6 455.4l3.9 -5.2l14.3 11.6l-3.9 5.1zM876.2 448.9l3.9 -5.1l15.5 11.6l-3.9 5.2zM680.8 345l4 -5.2l19.6 8.4l-3.9 5.1z" fill="#ffc337" stroke="#ffc337"/>
<path d="M565.6 247.6l4 -5.1l0.9 0l-3.9 5zM570 253.7l4 -4.7l6.4 1.7l-4 4.6zM598.9 287.8l3.9 -3.7l14.3 4.3l-3.9 3.6zM963.8 490.5l3.9 -4.4l6.5 6.1l-3.9 4.6zM951.8 487.3l3.9 -4.3l8.1 7.5l-3.9 4.5zM605.3 299.2l3.9 -3.6l15.5 4.7l-3.9 3.4zM938.1 482.7l3.9 -4.2l9.8 8.8l-3.9 4.4zM922.8 477.8l3.9 -5.1l11.4 10l-3.9 5.1zM906 472.1l3.9 -5.2l12.9 10.9l-3.9 5.2zM887.8 465.7l3.9 -5.1l14.3 11.5l-3.9 5.2zM657.8 342.5l3.9 -5.2l19.1 7.7l-3.9 5.1zM830.2 440.4l3.9 -5.2l17.6 12.1l-3.9 5.2zM708.7 377.9l3.9 -5.2l20.2 9.7l-4 5.2zM788.7 421.2l3.9 -5.2l19.1 12.1l-3.9 5.2z" fill="#febe3d" stroke="#febe3d"/>
<path d="M566.6 247.5l3.9 -5l2.8 0.5l-3.9 4.9zM580.6 262l4 -4.3l9.8 3l-4 4.2zM586.5 269.1l3.9 -4.2l11.4 3.5l-3.9 4zM985.5 495.4l3.8 -4.8l1 1.3l-3.9 4.9zM974.2 492.2l3.8 -4.6l4.7 4.6l-3.9 4.7zM616.8 308.8l4 -5.1l16.6 5.3l-3.9 5.2zM629.5 319.3l4 -5.1l17.6 6.1l-3.9 5.2zM643.2 330.7l4 -5.2l18.4 6.7l-3.9 5.1zM851.7 447.3l3.9 -5.1l16.7 11.9l-3.9 5.2zM692.6 363.7l3.9 -5.2l20 9l-3.9 5.2zM728.8 387.6l4 -5.2l20.1 10.4l-3.9 5.2zM749 398l3.9 -5.2l20 11.2l-3.9 5.2zM769 409.2l3.9 -5.2l19.7 12l-3.9 5.2z" fill="#febf3c" stroke="#febf3c"/>
<path d="M569.4 247.9l3.9 -4.9l4.6 1.2l-3.9 4.8zM576.4 255.3l4 -4.6l8.1 2.6l-3.9 4.4zM593.9 276.4l4 -4l12.8 4.1l-3.9 3.8zM602.8 284.1l4 -3.8l14.2 4.5l-3.9 3.6zM609.2 295.6l4 -3.6l15.5 4.9l-4 3.4zM872.3 454.1l3.9 -5.2l15.5 11.7l-3.9 5.1zM811.7 428.1l3.9 -5.1l18.5 12.2l-3.9 5.2z" fill="#fec03b" stroke="#fec03b"/>
<path d="M561.7 252.7l3.9 -5.1l1 -0.1l-4 5zM562.6 252.5l4 -5l2.8 0.4l-4 4.9zM566.1 258.5l3.9 -4.8l6.4 1.6l-3.9 4.6zM586 284.4l4 -4l12.8 3.7l-3.9 3.7zM959.9 495l3.9 -4.5l6.5 6.3l-3.9 4.6zM947.9 491.7l3.9 -4.4l8.1 7.7l-3.8 4.5zM601.3 304.3l4 -5.1l15.5 4.5l-4 5.1zM934.2 487.8l3.9 -5.1l9.8 9l-3.9 5.1zM612.9 314l3.9 -5.2l16.7 5.4l-4 5.1zM918.9 483l3.9 -5.2l11.4 10l-3.9 5.1zM625.6 324.5l3.9 -5.2l17.7 6.2l-4 5.2zM639.3 335.8l3.9 -5.1l18.5 6.6l-3.9 5.2zM653.8 347.7l4 -5.2l19.1 7.6l-3.9 5.2zM826.3 445.5l3.9 -5.1l17.6 12.1l-3.9 5.2zM724.9 392.8l3.9 -5.2l20.2 10.4l-3.9 5.2zM765.1 414.4l3.9 -5.2l19.7 12l-4 5.1z" fill="#fbbd40" stroke="#fbbd40"/>
<path d="M565.4 252.8l4 -4.9l4.6 1.1l-4 4.7zM572.5 259.9l3.9 -4.6l8.2 2.4l-4 4.3zM576.7 266.4l3.9 -4.4l9.8 2.9l-3.9 4.2zM582.5 273.3l4 -4.2l11.4 3.3l-4 4zM590 280.4l3.9 -4l12.9 3.9l-4 3.8zM978.8 496.9l3.9 -4.7l2.8 3.2l-3.9 4.8zM868.4 459.3l3.9 -5.2l15.5 11.6l-3.9 5.2zM673 355.3l3.9 -5.2l19.6 8.4l-3.9 5.2z" fill="#fdbe3e" stroke="#fdbe3e"/>
<path d="M557.7 257.8l4 -5.1l0.9 -0.2l-3.9 5.1zM564.6 269.1l3.9 -4.6l8.2 1.9l-4 4.4zM568.8 275.2l3.9 -4.4l9.8 2.5l-3.9 4.2zM971 506.5l3.9 -4.8l2.8 3.4l-3.9 4.9zM587.1 300.6l3.9 -5.1l14.3 3.7l-4 5.1zM930.3 492.9l3.9 -5.1l9.8 9l-3.9 5.1zM915 488.1l3.9 -5.1l11.4 9.9l-3.9 5.2zM898.2 482.4l3.9 -5.1l12.9 10.8l-3.9 5.2zM880 476.1l3.9 -5.2l14.3 11.5l-3.9 5.2zM649.9 352.9l3.9 -5.2l19.2 7.6l-4 5.2zM822.4 450.7l3.9 -5.2l17.6 12.2l-3.9 5.2zM700.8 388.2l4 -5.1l20.1 9.7l-3.9 5.1zM780.8 431.5l3.9 -5.2l19.2 12.2l-3.9 5.2z" fill="#f8ba44" stroke="#f8ba44"/>
<path d="M558.7 257.6l3.9 -5.1l2.8 0.3l-4 4.9zM562.1 263.3l4 -4.8l6.4 1.4l-4 4.6zM574.6 281.7l4 -4.2l11.4 2.9l-4 4zM956.1 499.5l3.8 -4.5l6.5 6.4l-3.9 4.8zM944 496.8l3.9 -5.1l8.2 7.8l-3.9 5.2zM597.4 309.5l3.9 -5.2l15.5 4.5l-3.9 5.2zM609 319.1l3.9 -5.1l16.6 5.3l-3.9 5.2zM621.7 329.7l3.9 -5.2l17.6 6.2l-3.9 5.1zM635.4 341l3.9 -5.2l18.5 6.7l-4 5.2zM843.9 457.7l3.9 -5.2l16.7 12l-3.9 5.2zM721 397.9l3.9 -5.1l20.2 10.4l-3.9 5.2zM741.2 408.4l3.9 -5.2l20 11.2l-3.9 5.2zM761.2 419.6l3.9 -5.2l19.6 11.9l-3.9 5.2z" fill="#f9bb43" stroke="#f9bb43"/>
<path d="M561.4 257.7l4 -4.9l4.6 0.9l-3.9 4.8zM977.7 505.1l3.9 -4.9l0.9 1.5l-3.9 4.9zM582.1 288.4l3.9 -4l12.9 3.4l-4 3.8zM966.4 501.4l3.9 -4.6l4.6 4.9l-3.9 4.8zM864.5 464.5l3.9 -5.2l15.5 11.6l-3.9 5.2zM684.8 374l3.9 -5.2l20 9.1l-3.9 5.2zM803.9 438.5l3.9 -5.2l18.5 12.2l-3.9 5.2z" fill="#fabc42" stroke="#fabc42"/>
<path d="M553.8 262.9l3.9 -5.1l1 -0.2l-4 5zM967.1 511.4l3.9 -4.9l2.8 3.5l-3.9 5zM583.1 305.7l4 -5.1l14.2 3.7l-3.9 5.2zM940.1 501.9l3.9 -5.1l8.2 7.9l-3.9 5.1zM593.4 314.6l4 -5.1l15.5 4.5l-3.9 5.1zM926.4 498.1l3.9 -5.2l9.8 9l-3.9 5.2zM605 324.3l4 -5.2l16.6 5.4l-3.9 5.2zM911.1 493.3l3.9 -5.2l11.4 10l-3.9 5.2zM617.7 334.8l4 -5.1l17.6 6.1l-3.9 5.2zM631.4 346.2l4 -5.2l18.4 6.7l-3.9 5.2zM646 358l3.9 -5.1l19.1 7.6l-3.9 5.1zM818.5 455.9l3.9 -5.2l17.6 12.2l-3.9 5.2zM717.1 403.1l3.9 -5.2l20.2 10.5l-3.9 5.2zM757.3 424.8l3.9 -5.2l19.6 11.9l-3.9 5.2z" fill="#f5ba47" stroke="#f5ba47"/>
<path d="M554.7 262.6l4 -5l2.7 0.1l-3.9 5zM558.2 268l3.9 -4.7l6.4 1.2l-3.9 4.6zM560.6 273.7l4 -4.6l8.1 1.7l-3.9 4.4zM564.8 279.6l4 -4.4l9.8 2.3l-4 4.2zM570.7 285.9l3.9 -4.2l11.4 2.7l-3.9 4zM952.2 504.7l3.9 -5.2l6.4 6.7l-3.9 5.1zM840 462.9l3.9 -5.2l16.7 12l-3.9 5.2zM680.8 379.2l4 -5.2l20 9.1l-4 5.1zM800 443.7l3.9 -5.2l18.5 12.2l-3.9 5.2zM737.3 413.6l3.9 -5.2l20 11.2l-3.9 5.2z" fill="#f6ba46" stroke="#f6ba46"/>
<path d="M557.5 262.7l3.9 -5l4.7 0.8l-4 4.8zM973.8 510l3.9 -4.9l0.9 1.5l-3.9 5zM578.1 292.4l4 -4l12.8 3.2l-3.9 3.9zM962.5 506.2l3.9 -4.8l4.6 5.1l-3.9 4.9zM860.6 469.7l3.9 -5.2l15.5 11.6l-3.9 5.2zM665.1 365.6l3.9 -5.1l19.7 8.3l-3.9 5.2z" fill="#f7ba45" stroke="#f7ba45"/>
<path d="M568.5 264.5l4 -4.6l8.1 2.1l-3.9 4.4zM572.7 270.8l4 -4.4l9.8 2.7l-4 4.2zM578.6 277.5l3.9 -4.2l11.4 3.1l-3.9 4zM974.9 501.7l3.9 -4.8l2.8 3.3l-3.9 4.9zM591 295.5l3.9 -3.9l14.3 4l-3.9 3.6zM902.1 477.3l3.9 -5.2l12.9 10.9l-3.9 5.1zM883.9 470.9l3.9 -5.2l14.3 11.6l-3.9 5.1zM669 360.5l4 -5.2l19.6 8.4l-3.9 5.1zM704.8 383.1l3.9 -5.2l20.1 9.7l-3.9 5.2zM784.7 426.3l4 -5.1l19.1 12.1l-3.9 5.2z" fill="#fbbc41" stroke="#fbbc41"/>
<path d="M549.8 268l4 -5.1l0.9 -0.3l-4 5.1zM549.6 272.5l3.9 -4.9l4.7 0.4l-4 4.8zM562.8 295.2l3.9 -5.1l11.4 2.3l-3.9 5.1zM570.2 302.6l4 -5.1l12.9 3.1l-4 5.1zM579.2 310.9l3.9 -5.2l14.3 3.8l-4 5.1zM907.2 498.5l3.9 -5.2l11.4 10l-3.9 5.1zM890.4 492.8l3.9 -5.2l12.9 10.9l-3.9 5.2zM872.2 486.5l3.9 -5.2l14.3 11.5l-3.9 5.2zM642 363.2l4 -5.2l19.1 7.6l-3.9 5.2zM814.5 461.2l4 -5.3l17.6 12.2l-3.9 5.2zM693 398.6l3.9 -5.2l20.2 9.7l-3.9 5.2zM773 442l3.9 -5.3l19.2 12.2l-3.9 5.2z" fill="#f0b94a" stroke="#f0b94a"/>
<path d="M550.7 267.7l4 -5.1l2.8 0.1l-4 4.9zM963.2 516.5l3.9 -5.1l2.8 3.6l-3.9 5.1zM936.2 507.1l3.9 -5.2l8.2 7.9l-3.9 5.1zM589.5 319.8l3.9 -5.2l15.6 4.5l-4 5.2zM922.5 503.3l3.9 -5.2l9.8 9l-3.9 5.1zM601.1 329.5l3.9 -5.2l16.7 5.4l-4 5.1zM613.8 340l3.9 -5.2l17.7 6.2l-4 5.2zM627.5 351.4l3.9 -5.2l18.5 6.7l-3.9 5.1zM836.1 468.1l3.9 -5.2l16.7 12l-3.9 5.2zM713.2 408.3l3.9 -5.2l20.2 10.5l-4 5.2zM733.3 418.8l4 -5.2l20 11.2l-4 5.2zM753.3 430l4 -5.2l19.6 11.9l-3.9 5.3z" fill="#f1b949" stroke="#f1b949"/>
<path d="M553.5 267.6l4 -4.9l4.6 0.6l-3.9 4.7zM566.7 290.1l4 -4.2l11.4 2.5l-4 4zM574.2 297.5l3.9 -5.1l12.9 3.1l-3.9 5.1zM958.6 511.3l3.9 -5.1l4.6 5.2l-3.9 5.1zM894.3 487.6l3.9 -5.2l12.9 10.9l-3.9 5.2zM876.1 481.3l3.9 -5.2l14.3 11.5l-3.9 5.2zM661.2 370.8l3.9 -5.2l19.7 8.4l-4 5.2zM696.9 393.4l3.9 -5.2l20.2 9.7l-3.9 5.2zM776.9 436.7l3.9 -5.2l19.2 12.2l-3.9 5.2z" fill="#f4ba48" stroke="#f4ba48"/>
<path d="M545.9 273.2l3.9 -5.2l0.9 -0.3l-3.9 5zM545.6 277.4l4 -4.9l4.6 0.3l-4 4.8zM959.3 521.7l3.9 -5.2l2.8 3.6l-3.9 5.2zM566.3 307.8l3.9 -5.2l12.9 3.1l-3.9 5.2zM575.2 316l4 -5.1l14.2 3.7l-3.9 5.2zM585.5 324.9l4 -5.1l15.5 4.5l-3.9 5.2zM918.6 508.4l3.9 -5.1l9.8 8.9l-3.9 5.2zM597.1 334.6l4 -5.1l16.6 5.3l-3.9 5.2zM903.3 503.7l3.9 -5.2l11.4 9.9l-3.9 5.2zM609.8 345.2l4 -5.2l17.6 6.2l-3.9 5.2zM623.5 356.5l4 -5.1l18.5 6.6l-4 5.2zM638.1 368.4l3.9 -5.2l19.2 7.6l-4 5.2zM810.6 466.4l3.9 -5.2l17.7 12.1l-3.9 5.3zM709.2 413.5l4 -5.2l20.1 10.5l-3.9 5.2zM749.4 435.2l3.9 -5.2l19.7 12l-3.9 5.2z" fill="#ecb94c" stroke="#ecb94c"/>
<path d="M546.8 272.7l3.9 -5l2.8 -0.1l-3.9 4.9zM944.4 514.9l3.9 -5.1l6.4 6.6l-3.9 5.2zM932.3 512.2l3.9 -5.1l8.2 7.8l-3.9 5.2zM832.2 473.3l3.9 -5.2l16.7 12l-3.9 5.2zM673 389.6l3.9 -5.2l20 9l-3.9 5.2zM792.2 454.1l3.9 -5.2l18.4 12.3l-3.9 5.2zM729.4 424l3.9 -5.2l20 11.2l-3.9 5.2z" fill="#edb94c" stroke="#edb94c"/>
<path d="M554.2 272.8l4 -4.8l6.4 1.1l-4 4.6zM556.7 278.3l3.9 -4.6l8.2 1.5l-4 4.4zM560.8 284l4 -4.4l9.8 2.1l-3.9 4.2zM969.9 515l3.9 -5l0.9 1.6l-3.9 5.1zM948.3 509.8l3.9 -5.1l6.4 6.6l-3.9 5.1zM856.7 474.9l3.9 -5.2l15.5 11.6l-3.9 5.2zM676.9 384.4l3.9 -5.2l20 9l-3.9 5.2zM796.1 448.9l3.9 -5.2l18.5 12.2l-4 5.3z" fill="#f2b949" stroke="#f2b949"/>
<path d="M981.6 500.2l3.9 -4.8l0.9 1.4l-3.9 4.9zM970.3 496.8l3.9 -4.6l4.6 4.7l-3.9 4.8zM594.9 291.6l4 -3.8l14.3 4.2l-4 3.6zM847.8 452.5l3.9 -5.2l16.7 12l-3.9 5.2zM688.7 368.8l3.9 -5.1l20 9l-3.9 5.2zM807.8 433.3l3.9 -5.2l18.5 12.3l-3.9 5.1zM745.1 403.2l3.9 -5.2l20 11.2l-3.9 5.2z" fill="#fcbd3f" stroke="#fcbd3f"/>
<path d="M541.9 278.3l4 -5.1l0.9 -0.5l-4 5.1zM541.7 282.4l3.9 -5l4.6 0.2l-3.9 4.7zM955.4 526.8l3.9 -5.1l2.8 3.6l-3.9 5.1zM928.4 517.4l3.9 -5.2l8.2 7.9l-3.9 5.2zM581.6 330.1l3.9 -5.2l15.6 4.6l-4 5.1zM914.7 513.6l3.9 -5.2l9.8 9l-3.9 5.2zM593.2 339.8l3.9 -5.2l16.7 5.4l-4 5.2zM605.9 350.3l3.9 -5.1l17.7 6.2l-4 5.1zM619.6 361.7l3.9 -5.2l18.5 6.7l-3.9 5.2zM828.3 478.6l3.9 -5.3l16.7 12l-4 5.3zM705.3 418.8l3.9 -5.3l20.2 10.5l-3.9 5.2zM725.5 429.2l3.9 -5.2l20 11.2l-3.9 5.2zM745.5 440.4l3.9 -5.2l19.7 12l-3.9 5.2z" fill="#e8b94e" stroke="#e8b94e"/>
<path d="M542.8 277.8l4 -5.1l2.8 -0.2l-4 4.9zM940.5 520.1l3.9 -5.2l6.4 6.7l-3.9 5.1zM848.9 485.3l3.9 -5.2l15.5 11.6l-3.9 5.3zM669 394.7l4 -5.1l20 9l-4 5.2zM788.2 459.4l4 -5.3l18.4 12.3l-3.9 5.2z" fill="#eab94e" stroke="#eab94e"/>
<path d="M550.2 277.6l4 -4.8l6.4 0.9l-3.9 4.6zM552.7 282.9l4 -4.6l8.1 1.3l-4 4.4zM556.9 288.5l3.9 -4.5l9.9 1.9l-4 4.2zM966 520.1l3.9 -5.1l0.9 1.7l-3.9 5.1zM954.7 516.4l3.9 -5.1l4.6 5.2l-3.9 5.2zM852.8 480.1l3.9 -5.2l15.5 11.6l-3.9 5.2zM657.2 376l4 -5.2l19.6 8.4l-3.9 5.2z" fill="#efb94b" stroke="#efb94b"/>
<path d="M538 283.4l3.9 -5.1l0.9 -0.5l-3.9 5zM537.7 287.3l4 -4.9l4.6 -0.1l-4 4.8zM538.4 292.2l3.9 -5.1l6.4 0.4l-3.9 5.1zM550.9 310.6l4 -5.1l11.4 2.3l-4 5.1zM951.5 531.9l3.9 -5.1l2.8 3.6l-3.9 5.2zM558.4 318.1l3.9 -5.2l12.9 3.1l-3.9 5.2zM567.3 326.3l4 -5.1l14.2 3.7l-3.9 5.2zM577.7 335.2l3.9 -5.1l15.5 4.5l-3.9 5.2zM910.8 518.8l3.9 -5.2l9.8 9l-3.9 5.2zM895.5 514.1l3.9 -5.3l11.4 10l-3.9 5.2zM602 355.5l3.9 -5.2l17.6 6.2l-3.9 5.2zM615.7 366.9l3.9 -5.2l18.5 6.7l-4 5.2zM630.2 378.8l3.9 -5.2l19.2 7.6l-3.9 5.2zM701.4 424l3.9 -5.2l20.2 10.4l-3.9 5.2zM741.6 445.6l3.9 -5.2l19.7 12l-4 5.2z" fill="#e3b951" stroke="#e3b951"/>
<path d="M538.9 282.8l3.9 -5l2.8 -0.4l-3.9 5zM958.2 530.4l3.9 -5.1l0.9 1.6l-3.9 5.2zM946.9 526.7l3.9 -5.1l4.6 5.2l-3.9 5.1zM844.9 490.6l4 -5.3l15.5 11.7l-3.9 5.2zM649.4 386.4l3.9 -5.2l19.7 8.4l-4 5.1z" fill="#e6b950" stroke="#e6b950"/>
<path d="M546.3 282.3l3.9 -4.7l6.5 0.7l-4 4.6zM548.7 287.5l4 -4.6l8.1 1.1l-3.9 4.5zM552.9 293.6l4 -5.1l9.8 1.6l-3.9 5.1zM558.8 300.3l4 -5.1l11.4 2.3l-4 5.1zM962.1 525.3l3.9 -5.2l0.9 1.7l-3.9 5.1zM950.8 521.6l3.9 -5.2l4.6 5.3l-3.9 5.1zM886.5 498l3.9 -5.2l12.9 10.9l-3.9 5.1zM868.3 491.7l3.9 -5.2l14.3 11.5l-3.9 5.2zM653.3 381.2l3.9 -5.2l19.7 8.4l-3.9 5.2zM689 403.8l4 -5.2l20.2 9.7l-4 5.2zM769.1 447.2l3.9 -5.2l19.2 12.1l-4 5.3z" fill="#ebb94d" stroke="#ebb94d"/>
<path d="M534 288.5l4 -5.1l0.9 -0.6l-4 5.1zM533.8 292.4l3.9 -5.1l4.6 -0.2l-3.9 5.1zM947.6 537.1l3.9 -5.2l2.8 3.7l-3.9 5.1zM563.4 331.5l3.9 -5.2l14.3 3.8l-3.9 5.1zM920.6 527.8l3.9 -5.2l8.2 7.8l-3.9 5.2zM573.7 340.4l4 -5.2l15.5 4.6l-4 5.1zM906.9 524l3.9 -5.2l9.8 9l-3.9 5.2zM585.3 350.1l3.9 -5.2l16.7 5.4l-3.9 5.2zM598 360.7l4 -5.2l17.6 6.2l-3.9 5.2zM611.7 372.1l4 -5.2l18.4 6.7l-3.9 5.2zM820.5 489l3.9 -5.2l16.6 12l-3.9 5.3zM697.5 429.2l4 -5.2l20.2 10.4l-4 5.3zM717.6 439.7l4 -5.3l20 11.2l-3.9 5.3zM737.7 450.9l3.9 -5.3l19.6 12l-3.9 5.2z" fill="#e0ba53" stroke="#e0ba53"/>
<path d="M534.9 287.9l4 -5.1l2.8 -0.4l-4 4.9zM932.7 530.4l3.9 -5.1l6.4 6.6l-3.9 5.2zM841 495.8l3.9 -5.2l15.6 11.6l-3.9 5.2zM661.2 405.1l3.9 -5.2l20 9.1l-3.9 5.2zM780.4 469.8l3.9 -5.2l18.5 12.2l-3.9 5.3z" fill="#e1b952" stroke="#e1b952"/>
<path d="M542.3 287.1l4 -4.8l6.4 0.6l-4 4.6zM544.8 292.6l3.9 -5.1l8.2 1l-4 5.1zM549 298.7l3.9 -5.1l9.9 1.6l-4 5.1zM554.9 305.5l3.9 -5.2l11.4 2.3l-3.9 5.2zM562.3 312.9l4 -5.1l12.9 3.1l-4 5.1zM571.3 321.2l3.9 -5.2l14.3 3.8l-4 5.1zM899.4 508.8l3.9 -5.1l11.4 9.9l-3.9 5.2zM882.6 503.2l3.9 -5.2l12.9 10.8l-3.9 5.3zM864.4 497l3.9 -5.3l14.3 11.5l-3.9 5.3zM634.1 373.6l4 -5.2l19.1 7.6l-3.9 5.2zM806.7 471.6l3.9 -5.2l17.7 12.2l-3.9 5.2zM685.1 409l3.9 -5.2l20.2 9.7l-3.9 5.3zM765.2 452.4l3.9 -5.2l19.1 12.2l-3.9 5.2z" fill="#e7b94f" stroke="#e7b94f"/>
<path d="M530 293.6l4 -5.1l0.9 -0.6l-3.9 5.1zM530.5 302.4l3.9 -5.1l6.4 0.4l-3.9 5.1zM532.9 307.9l4 -5.1l8.1 1l-3.9 5.2zM537.1 314.1l4 -5.1l9.8 1.6l-3.9 5.1zM543 320.9l4 -5.2l11.4 2.4l-4 5.1zM943.7 542.3l3.9 -5.2l2.8 3.6l-3.9 5.2zM550.5 328.4l3.9 -5.2l12.9 3.1l-3.9 5.2zM559.4 336.6l4 -5.1l14.3 3.7l-4 5.2zM569.8 345.5l3.9 -5.1l15.5 4.5l-3.9 5.2zM903 529.2l3.9 -5.2l9.8 9l-3.9 5.2zM887.7 524.5l3.9 -5.2l11.4 9.9l-3.9 5.2zM607.8 377.3l3.9 -5.2l18.5 6.7l-3.9 5.2zM622.3 389.2l4 -5.2l19.1 7.6l-3.9 5.2zM693.5 434.4l3.9 -5.2l20.2 10.5l-3.9 5.2zM733.7 456.1l4 -5.2l19.6 11.9l-3.9 5.3z" fill="#dbba55" stroke="#dbba55"/>
<path d="M531 293l3.9 -5.1l2.8 -0.6l-3.9 5.1zM950.4 540.7l3.9 -5.1l0.9 1.6l-3.9 5.2zM939.1 537.1l3.9 -5.2l4.6 5.2l-3.9 5.2zM837.1 501.1l3.9 -5.3l15.6 11.6l-3.9 5.3zM641.5 396.8l3.9 -5.2l19.7 8.3l-3.9 5.2z" fill="#ddba54" stroke="#ddba54"/>
<path d="M526.1 298.7l3.9 -5.1l1 -0.6l-4 5.1zM525.9 302.6l3.9 -5.1l4.6 -0.2l-3.9 5.1zM526.5 307.6l4 -5.2l6.4 0.4l-4 5.1zM939.8 547.5l3.9 -5.2l2.8 3.6l-3.9 5.2zM555.5 341.8l3.9 -5.2l14.3 3.8l-3.9 5.1zM912.8 538.2l3.9 -5.2l8.2 7.8l-3.9 5.2zM565.8 350.7l4 -5.2l15.5 4.6l-3.9 5.2zM899.1 534.4l3.9 -5.2l9.8 9l-3.9 5.2zM577.4 360.5l4 -5.2l16.6 5.4l-3.9 5.2zM590.1 371l4 -5.1l17.6 6.2l-3.9 5.2zM603.9 382.5l3.9 -5.2l18.5 6.7l-4 5.2zM812.6 499.5l3.9 -5.2l16.7 12l-3.9 5.3zM689.6 439.6l3.9 -5.2l20.2 10.5l-3.9 5.2zM709.8 450.1l3.9 -5.2l20 11.2l-3.9 5.2zM729.8 461.3l3.9 -5.2l19.7 12l-3.9 5.2z" fill="#d7ba57" stroke="#d7ba57"/>
<path d="M527 298.1l4 -5.1l2.8 -0.6l-4 5.1zM946.5 545.9l3.9 -5.2l0.9 1.7l-3.9 5.2zM935.2 542.3l3.9 -5.2l4.6 5.2l-3.9 5.2zM870.9 518.9l3.9 -5.2l12.9 10.8l-3.9 5.2zM852.7 512.7l3.9 -5.3l14.3 11.5l-3.9 5.3zM637.6 402l3.9 -5.2l19.7 8.3l-4 5.2zM795 487.3l3.9 -5.2l17.6 12.2l-3.9 5.2zM673.3 424.6l4 -5.2l20.1 9.8l-3.9 5.2zM753.4 468.1l3.9 -5.3l19.2 12.2l-3.9 5.3z" fill="#d9ba56" stroke="#d9ba56"/>
<path d="M529.8 297.5l4 -5.1l4.6 -0.2l-4 5.1zM928.8 535.6l3.9 -5.2l6.4 6.7l-3.9 5.2zM916.7 533l3.9 -5.2l8.2 7.8l-3.9 5.2zM581.4 355.3l3.9 -5.2l16.7 5.4l-4 5.2zM594.1 365.9l3.9 -5.2l17.7 6.2l-4 5.2zM816.5 494.3l4 -5.3l16.6 12.1l-3.9 5.2zM657.2 410.3l4 -5.2l20 9.1l-3.9 5.2zM776.5 475l3.9 -5.2l18.5 12.3l-3.9 5.2zM713.7 444.9l3.9 -5.2l20.1 11.2l-4 5.2z" fill="#dcba54" stroke="#dcba54"/>
<path d="M534.4 297.3l4 -5.1l6.4 0.4l-4 5.1zM536.9 302.8l3.9 -5.1l8.2 1l-4 5.1zM541.1 309l3.9 -5.2l9.9 1.7l-4 5.1zM547 315.7l3.9 -5.1l11.4 2.3l-3.9 5.2zM554.4 323.2l4 -5.1l12.9 3.1l-4 5.1zM891.6 519.3l3.9 -5.2l11.4 9.9l-3.9 5.2zM874.8 513.7l3.9 -5.2l12.9 10.8l-3.9 5.2zM856.6 507.4l3.9 -5.2l14.3 11.5l-3.9 5.2zM626.3 384l3.9 -5.2l19.2 7.6l-4 5.2zM798.9 482.1l3.9 -5.3l17.7 12.2l-4 5.3zM677.3 419.4l3.9 -5.2l20.2 9.8l-4 5.2zM757.3 462.8l3.9 -5.2l19.2 12.2l-3.9 5.2z" fill="#deba53" stroke="#deba53"/>
<path d="M540.8 297.7l4 -5.1l8.1 1l-3.9 5.1zM545 303.8l4 -5.1l9.8 1.6l-3.9 5.2zM954.3 535.6l3.9 -5.2l0.9 1.7l-3.9 5.1zM943 531.9l3.9 -5.2l4.6 5.2l-3.9 5.2zM878.7 508.5l3.9 -5.3l12.9 10.9l-3.9 5.2zM860.5 502.2l3.9 -5.2l14.3 11.5l-3.9 5.2zM645.4 391.6l4 -5.2l19.6 8.3l-3.9 5.2zM802.8 476.8l3.9 -5.2l17.7 12.2l-3.9 5.2zM681.2 414.2l3.9 -5.2l20.2 9.8l-3.9 5.2zM761.2 457.6l4 -5.2l19.1 12.2l-3.9 5.2z" fill="#e2b951" stroke="#e2b951"/>
<path d="M522.1 303.9l4 -5.2l0.9 -0.6l-3.9 5.1zM521.9 307.7l4 -5.1l4.6 -0.2l-4 5.2zM921 546l3.9 -5.2l6.4 6.6l-3.9 5.3zM908.9 543.4l3.9 -5.2l8.2 7.8l-3.9 5.2zM561.9 355.9l3.9 -5.2l15.6 4.6l-4 5.2zM573.5 365.6l3.9 -5.1l16.7 5.4l-4 5.1zM586.2 376.2l3.9 -5.2l17.7 6.3l-3.9 5.2zM808.7 504.8l3.9 -5.3l16.7 12.1l-3.9 5.2zM649.4 420.7l3.9 -5.2l20 9.1l-3.9 5.2zM768.7 485.5l3.9 -5.2l18.5 12.3l-3.9 5.2zM705.9 455.3l3.9 -5.2l20 11.2l-3.9 5.2z" fill="#d3bb58" stroke="#d3bb58"/>
<path d="M523.1 303.2l3.9 -5.1l2.8 -0.6l-3.9 5.1zM942.6 551.1l3.9 -5.2l0.9 1.7l-3.9 5.2zM931.3 547.4l3.9 -5.1l4.6 5.2l-3.9 5.2zM848.8 518l3.9 -5.3l14.3 11.5l-3.9 5.2zM829.3 511.6l3.9 -5.3l15.6 11.7l-3.9 5.2z" fill="#d4bb58" stroke="#d4bb58"/>
<path d="M518.2 309l3.9 -5.1l1 -0.7l-4 5.1zM518.6 317.8l4 -5.1l6.4 0.4l-4 5.1zM932 557.9l3.9 -5.2l2.8 3.6l-3.9 5.2zM538.6 343.8l4 -5.2l12.9 3.2l-4 5.2zM547.6 352.1l3.9 -5.1l14.3 3.7l-3.9 5.2zM905 548.6l3.9 -5.2l8.2 7.8l-3.9 5.3zM557.9 361l4 -5.1l15.5 4.6l-3.9 5.1zM891.3 544.9l3.9 -5.2l9.8 8.9l-3.9 5.3zM569.5 370.8l4 -5.2l16.6 5.4l-3.9 5.2zM582.3 381.4l3.9 -5.2l17.7 6.3l-4 5.2zM596 392.9l3.9 -5.2l18.5 6.7l-3.9 5.2zM804.8 510l3.9 -5.2l16.7 12l-3.9 5.3zM681.8 450l3.9 -5.2l20.2 10.5l-3.9 5.2zM702 460.5l3.9 -5.2l20 11.2l-3.9 5.3zM722 471.8l3.9 -5.3l19.7 12l-3.9 5.3z" fill="#cebb5b" stroke="#cebb5b"/>
<path d="M519.1 308.3l4 -5.1l2.8 -0.6l-4 5.1zM938.7 556.3l3.9 -5.2l0.9 1.7l-3.9 5.2zM927.4 552.7l3.9 -5.3l4.6 5.3l-3.9 5.2zM863.1 529.4l3.9 -5.2l12.9 10.8l-3.9 5.2zM844.9 523.2l3.9 -5.2l14.3 11.4l-3.9 5.3zM629.7 412.4l3.9 -5.2l19.7 8.3l-3.9 5.2zM787.2 497.8l3.9 -5.2l17.6 12.2l-3.9 5.2zM665.5 435.1l3.9 -5.3l20.2 9.8l-3.9 5.2zM745.6 478.5l3.9 -5.2l19.2 12.2l-3.9 5.2z" fill="#d0bb59" stroke="#d0bb59"/>
<path d="M514.2 314.1l4 -5.1l0.9 -0.7l-3.9 5.1zM514 318l3.9 -5.1l4.7 -0.2l-4 5.1zM913.2 556.5l3.9 -5.3l6.4 6.7l-3.9 5.2zM901.1 553.9l3.9 -5.3l8.2 7.9l-3.9 5.2zM554 366.2l3.9 -5.2l15.6 4.6l-4 5.2zM565.6 376l3.9 -5.2l16.7 5.4l-3.9 5.2zM578.3 386.6l4 -5.2l17.6 6.3l-3.9 5.2zM800.9 515.3l3.9 -5.3l16.7 12.1l-3.9 5.2zM641.5 431.2l4 -5.3l20 9.2l-4 5.2zM760.8 496l4 -5.3l18.4 12.3l-3.9 5.3zM698 465.8l4 -5.3l20 11.3l-3.9 5.2z" fill="#cabb5c" stroke="#cabb5c"/>
<path d="M515.2 313.4l3.9 -5.1l2.8 -0.6l-4 5.2zM934.8 561.5l3.9 -5.2l0.9 1.7l-3.9 5.2zM923.5 557.9l3.9 -5.2l4.6 5.2l-3.9 5.2zM841 528.5l3.9 -5.3l14.3 11.5l-3.9 5.2zM821.5 522.1l3.9 -5.3l15.6 11.7l-3.9 5.2z" fill="#cbbb5c" stroke="#cbbb5c"/>
<path d="M517.9 312.9l4 -5.2l4.6 -0.1l-3.9 5.1zM917.1 551.2l3.9 -5.2l6.4 6.7l-3.9 5.2zM825.4 516.8l3.9 -5.2l15.6 11.6l-3.9 5.3zM645.5 425.9l3.9 -5.2l20 9.1l-3.9 5.3zM764.8 490.7l3.9 -5.2l18.5 12.3l-4 5.2z" fill="#cfbb5a" stroke="#cfbb5a"/>
<path d="M522.6 312.7l3.9 -5.1l6.4 0.3l-3.9 5.2zM525 318.2l4 -5.1l8.1 1l-3.9 5.1zM529.2 324.3l4 -5.1l9.8 1.7l-3.9 5.1zM535.1 331.1l4 -5.1l11.4 2.4l-4 5.1zM935.9 552.7l3.9 -5.2l2.8 3.6l-3.9 5.2zM542.6 338.6l3.9 -5.1l12.9 3.1l-3.9 5.2zM551.5 347l4 -5.2l14.3 3.7l-4 5.2zM895.2 539.7l3.9 -5.3l9.8 9l-3.9 5.2zM879.9 535l3.9 -5.3l11.4 10l-3.9 5.2zM599.9 387.7l4 -5.2l18.4 6.7l-3.9 5.2zM614.5 399.6l3.9 -5.2l19.2 7.6l-4 5.2zM685.7 444.8l3.9 -5.2l20.2 10.5l-3.9 5.2zM725.9 466.5l3.9 -5.2l19.7 12l-3.9 5.2z" fill="#d1bb59" stroke="#d1bb59"/>
<path d="M529 313.1l3.9 -5.2l8.2 1.1l-4 5.1zM533.2 319.2l3.9 -5.1l9.9 1.6l-4 5.2zM539.1 326l3.9 -5.1l11.4 2.3l-3.9 5.2zM546.5 333.5l4 -5.1l12.9 3.1l-4 5.1zM883.8 529.7l3.9 -5.2l11.4 9.9l-3.9 5.3zM867 524.2l3.9 -5.3l12.9 10.8l-3.9 5.3zM618.4 394.4l3.9 -5.2l19.2 7.6l-3.9 5.2zM633.6 407.2l4 -5.2l19.6 8.3l-3.9 5.2zM791.1 492.6l3.9 -5.3l17.6 12.2l-3.9 5.3zM669.4 429.8l3.9 -5.2l20.2 9.8l-3.9 5.2zM749.5 473.3l3.9 -5.2l19.2 12.2l-3.9 5.2z" fill="#d5ba57" stroke="#d5ba57"/>
<path d="M936.6 525.3l3.9 -5.2l6.4 6.6l-3.9 5.2zM924.5 522.6l3.9 -5.2l8.2 7.9l-3.9 5.1zM589.2 344.9l4 -5.1l16.6 5.4l-3.9 5.1zM824.4 483.8l3.9 -5.2l16.6 12l-3.9 5.2zM665.1 399.9l3.9 -5.2l20 9.1l-3.9 5.2zM784.3 464.6l3.9 -5.2l18.5 12.2l-3.9 5.2zM721.6 434.4l3.9 -5.2l20 11.2l-3.9 5.2z" fill="#e5b950" stroke="#e5b950"/>
<path d="M510.3 319.2l3.9 -5.1l1 -0.7l-4 5.2zM510.7 328l4 -5.1l6.4 0.4l-4 5.1zM513.2 333.5l3.9 -5.1l8.2 1.1l-4 5.1zM924.2 568.3l3.9 -5.2l2.8 3.6l-3.9 5.3zM530.7 354.1l4 -5.2l12.9 3.2l-4 5.2zM539.7 362.4l3.9 -5.1l14.3 3.7l-3.9 5.2zM897.2 559.1l3.9 -5.2l8.2 7.8l-3.9 5.3zM550 371.4l4 -5.2l15.5 4.6l-3.9 5.2zM561.6 381.1l4 -5.1l16.7 5.4l-4 5.2zM574.4 391.8l3.9 -5.2l17.7 6.3l-4 5.2zM588.1 403.3l3.9 -5.2l18.5 6.7l-3.9 5.2zM797 520.5l3.9 -5.2l16.7 12l-3.9 5.3zM673.9 460.5l3.9 -5.3l20.2 10.6l-3.9 5.2zM694.1 471l3.9 -5.2l20.1 11.2l-4 5.2zM714.1 482.2l4 -5.2l19.6 12l-3.9 5.2z" fill="#c4bc5e" stroke="#c4bc5e"/>
<path d="M511.2 318.6l4 -5.2l2.7 -0.5l-3.9 5.1zM930.9 566.7l3.9 -5.2l0.9 1.7l-3.9 5.2zM919.6 563.1l3.9 -5.2l4.6 5.2l-3.9 5.2zM855.3 539.9l3.9 -5.2l12.9 10.8l-3.9 5.2zM837.1 533.7l3.9 -5.2l14.3 11.4l-4 5.3zM621.8 422.8l4 -5.2l19.7 8.3l-4 5.3zM779.3 508.3l3.9 -5.3l17.7 12.3l-3.9 5.2zM657.6 445.5l3.9 -5.2l20.3 9.7l-4 5.2zM737.7 489l4 -5.2l19.1 12.2l-3.9 5.2z" fill="#c7bc5d" stroke="#c7bc5d"/>
<path d="M506.3 324.3l4 -5.1l0.9 -0.6l-3.9 5.1zM506.1 328.2l3.9 -5.1l4.7 -0.2l-4 5.1zM506.8 333.1l3.9 -5.1l6.4 0.4l-3.9 5.1zM905.4 567l3.9 -5.3l6.4 6.6l-3.9 5.3zM893.3 564.3l3.9 -5.2l8.2 7.9l-3.9 5.2zM546.1 376.5l3.9 -5.1l15.6 4.6l-4 5.1zM557.7 386.3l3.9 -5.2l16.7 5.5l-3.9 5.2zM570.4 397l4 -5.2l17.6 6.3l-3.9 5.2zM633.7 441.6l3.9 -5.2l20 9.1l-3.9 5.2zM753 506.5l3.9 -5.3l18.5 12.3l-3.9 5.3zM690.2 476.2l3.9 -5.2l20 11.2l-3.9 5.3z" fill="#c0bc60" stroke="#c0bc60"/>
<path d="M507.3 323.7l3.9 -5.1l2.8 -0.6l-4 5.1zM517.4 339.7l3.9 -5.1l9.9 1.7l-4 5.1zM523.3 346.6l3.9 -5.2l11.4 2.4l-3.9 5.1zM883.5 555.4l3.9 -5.2l9.8 8.9l-3.9 5.2zM868.2 550.7l3.9 -5.2l11.4 9.9l-3.9 5.3zM851.3 545.2l4 -5.3l12.9 10.8l-3.9 5.3zM602.7 415.2l3.9 -5.2l19.2 7.6l-4 5.2zM617.9 428l3.9 -5.2l19.7 8.4l-3.9 5.2zM775.4 513.5l3.9 -5.2l17.7 12.2l-3.9 5.3zM653.7 450.7l3.9 -5.2l20.2 9.7l-3.9 5.3zM733.8 494.2l3.9 -5.2l19.2 12.2l-3.9 5.3z" fill="#c3bc5f" stroke="#c3bc5f"/>
<path d="M510 323.1l4 -5.1l4.6 -0.2l-3.9 5.1zM909.3 561.7l3.9 -5.2l6.4 6.6l-3.9 5.2zM817.6 527.3l3.9 -5.2l15.6 11.6l-4 5.3zM637.6 436.4l3.9 -5.2l20 9.1l-3.9 5.2zM756.9 501.2l3.9 -5.2l18.5 12.3l-3.9 5.2z" fill="#c6bc5e" stroke="#c6bc5e"/>
<path d="M514.7 322.9l3.9 -5.1l6.4 0.4l-3.9 5.1zM517.1 328.4l4 -5.1l8.1 1l-3.9 5.2zM521.3 334.6l4 -5.1l9.8 1.6l-3.9 5.2zM527.2 341.4l4 -5.1l11.4 2.3l-4 5.2zM928.1 563.1l3.9 -5.2l2.8 3.6l-3.9 5.2zM534.7 348.9l3.9 -5.1l12.9 3.2l-3.9 5.1zM543.6 357.3l4 -5.2l14.3 3.8l-4 5.1zM887.4 550.2l3.9 -5.3l9.8 9l-3.9 5.2zM872.1 545.5l3.9 -5.3l11.4 10l-3.9 5.2zM592 398.1l4 -5.2l18.5 6.7l-4 5.2zM606.6 410l3.9 -5.2l19.2 7.6l-3.9 5.2zM677.8 455.2l4 -5.2l20.2 10.5l-4 5.3zM718.1 477l3.9 -5.2l19.7 12l-4 5.2z" fill="#c8bc5d" stroke="#c8bc5d"/>
<path d="M521.1 323.3l3.9 -5.1l8.2 1l-4 5.1zM525.3 329.5l3.9 -5.2l9.9 1.7l-4 5.1zM531.2 336.3l3.9 -5.2l11.4 2.4l-3.9 5.1zM876 540.2l3.9 -5.2l11.4 9.9l-3.9 5.3zM859.2 534.7l3.9 -5.3l12.9 10.8l-3.9 5.3zM610.5 404.8l4 -5.2l19.1 7.6l-3.9 5.2zM625.8 417.6l3.9 -5.2l19.7 8.3l-3.9 5.2zM783.2 503l4 -5.2l17.6 12.2l-3.9 5.3zM661.5 440.3l4 -5.2l20.2 9.7l-3.9 5.2zM741.7 483.8l3.9 -5.3l19.2 12.2l-4 5.3z" fill="#ccbb5b" stroke="#ccbb5b"/>
<path d="M502.4 329.4l3.9 -5.1l1 -0.6l-4 5.1zM502.1 333.3l4 -5.1l4.6 -0.2l-3.9 5.1zM901.5 572.2l3.9 -5.2l6.4 6.6l-3.9 5.2zM809.8 537.9l3.9 -5.3l15.5 11.7l-3.9 5.2zM629.7 446.8l4 -5.2l20 9.1l-3.9 5.2zM749.1 511.7l3.9 -5.2l18.5 12.3l-3.9 5.2z" fill="#bcbd62" stroke="#bcbd62"/>
<path d="M503.3 328.8l4 -5.1l2.7 -0.6l-3.9 5.1zM923.1 577.2l3.9 -5.2l1 1.7l-3.9 5.2zM911.8 573.6l3.9 -5.3l4.6 5.3l-3.9 5.2zM864.3 556l3.9 -5.3l11.4 10l-3.9 5.2zM847.4 550.4l3.9 -5.2l13 10.8l-3.9 5.2zM829.2 544.3l3.9 -5.3l14.3 11.4l-3.9 5.3zM614 433.2l3.9 -5.2l19.7 8.4l-3.9 5.2zM771.5 518.8l3.9 -5.3l17.7 12.3l-3.9 5.2zM649.8 455.9l3.9 -5.2l20.2 9.8l-3.9 5.2zM729.9 499.5l3.9 -5.3l19.2 12.3l-3.9 5.2z" fill="#bebc61" stroke="#bebc61"/>
<path d="M924.9 540.8l3.9 -5.2l6.4 6.7l-3.9 5.1zM833.2 506.3l3.9 -5.2l15.6 11.6l-3.9 5.3zM653.3 415.5l3.9 -5.2l20.1 9.1l-4 5.2zM772.6 480.3l3.9 -5.3l18.5 12.3l-3.9 5.3z" fill="#d8ba56" stroke="#d8ba56"/>
<path d="M498.4 334.6l4 -5.2l0.9 -0.6l-4 5.1zM498.2 338.4l3.9 -5.1l4.7 -0.2l-4 5.2zM498.8 343.4l4 -5.1l6.4 0.4l-3.9 5.1zM897.6 577.4l3.9 -5.2l6.4 6.6l-3.9 5.3zM527.9 377.9l3.9 -5.1l14.3 3.7l-4 5.2zM538.2 386.9l3.9 -5.2l15.6 4.6l-3.9 5.2zM549.8 396.7l4 -5.2l16.6 5.5l-3.9 5.2zM562.6 407.3l3.9 -5.1l17.7 6.3l-4 5.2zM805.9 543.1l3.9 -5.2l15.5 11.6l-3.9 5.3zM625.8 452l3.9 -5.2l20.1 9.1l-4 5.2zM745.2 517l3.9 -5.3l18.5 12.3l-3.9 5.3z" fill="#b7bd64" stroke="#b7bd64"/>
<path d="M499.3 333.9l4 -5.1l2.8 -0.6l-4 5.1zM875.7 565.9l3.9 -5.2l9.8 8.9l-3.9 5.2zM860.4 561.2l3.9 -5.2l11.4 9.9l-3.9 5.3zM843.5 555.7l3.9 -5.3l13 10.8l-3.9 5.3zM594.8 425.6l3.9 -5.2l19.2 7.6l-3.9 5.2zM610 438.4l4 -5.2l19.7 8.4l-4 5.2zM767.6 524l3.9 -5.2l17.7 12.2l-3.9 5.3zM645.8 461.1l4 -5.2l20.2 9.8l-4 5.2zM726 504.7l3.9 -5.2l19.2 12.2l-3.9 5.3z" fill="#b9bd63" stroke="#b9bd63"/>
<path d="M494.5 339.7l3.9 -5.1l0.9 -0.7l-3.9 5.1zM494.2 343.6l4 -5.2l4.6 -0.1l-4 5.1zM893.7 582.7l3.9 -5.3l6.4 6.7l-3.9 5.2zM802 548.4l3.9 -5.3l15.5 11.7l-3.9 5.3z" fill="#b2bd65" stroke="#b2bd65"/>
<path d="M495.4 339l3.9 -5.1l2.8 -0.6l-3.9 5.1zM915.3 587.7l3.9 -5.2l1 1.6l-3.9 5.3zM904 584.1l3.9 -5.3l4.6 5.3l-3.9 5.2zM856.5 566.5l3.9 -5.3l11.4 10l-3.9 5.2zM839.6 561l3.9 -5.3l13 10.8l-3.9 5.3zM821.4 554.8l3.9 -5.3l14.3 11.5l-3.9 5.2zM606.1 443.6l3.9 -5.2l19.7 8.4l-3.9 5.2zM763.7 529.3l3.9 -5.3l17.7 12.3l-3.9 5.3zM641.9 466.8l3.9 -5.7l20.2 9.8l-3.9 5.8zM722.1 510.5l3.9 -5.8l19.2 12.3l-3.9 5.7z" fill="#b4bd65" stroke="#b4bd65"/>
<path d="M502.8 338.3l4 -5.2l6.4 0.4l-4 5.2zM505.3 343.8l3.9 -5.1l8.2 1l-4 5.2zM509.5 350l3.9 -5.1l9.9 1.7l-4 5.1zM515.4 356.8l3.9 -5.1l11.4 2.4l-3.9 5.1zM916.4 578.8l3.9 -5.2l2.8 3.6l-3.9 5.3zM522.8 364.4l4 -5.2l12.9 3.2l-4 5.2zM531.8 372.8l3.9 -5.2l14.3 3.8l-3.9 5.1zM889.4 569.6l3.9 -5.3l8.2 7.9l-3.9 5.2zM542.1 381.7l4 -5.2l15.5 4.6l-3.9 5.2zM553.8 391.5l3.9 -5.2l16.7 5.5l-4 5.2zM566.5 402.2l3.9 -5.2l17.7 6.3l-3.9 5.2zM580.2 413.7l4 -5.2l18.5 6.7l-4 5.2zM789.2 531l3.9 -5.2l16.7 12.1l-3.9 5.2zM666 470.9l4 -5.2l20.2 10.5l-3.9 5.2zM686.3 481.4l3.9 -5.2l20 11.3l-3.9 5.2zM706.3 492.7l3.9 -5.2l19.7 12l-3.9 5.2z" fill="#bbbd62" stroke="#bbbd62"/>
<path d="M509.2 338.7l4 -5.2l8.1 1.1l-3.9 5.1zM513.4 344.9l4 -5.2l9.8 1.7l-3.9 5.2zM519.3 351.7l4 -5.1l11.4 2.3l-4 5.2zM920.3 573.6l3.9 -5.3l2.8 3.7l-3.9 5.2zM526.8 359.2l3.9 -5.1l12.9 3.2l-3.9 5.1zM535.7 367.6l4 -5.2l14.3 3.8l-4 5.2zM879.6 560.7l3.9 -5.3l9.8 8.9l-3.9 5.3zM584.2 408.5l3.9 -5.2l18.5 6.7l-3.9 5.2zM598.7 420.4l4 -5.2l19.1 7.6l-3.9 5.2zM793.1 525.8l3.9 -5.3l16.7 12.1l-3.9 5.3zM670 465.7l3.9 -5.2l20.2 10.5l-3.9 5.2zM710.2 487.5l3.9 -5.3l19.7 12l-3.9 5.3z" fill="#bfbc60" stroke="#bfbc60"/>
<path d="M490.5 344.8l4 -5.1l0.9 -0.7l-4 5.1zM490.9 353.6l4 -5.1l6.4 0.4l-3.9 5.1zM889.8 587.9l3.9 -5.2l6.4 6.6l-3.9 5.3zM520 388.2l3.9 -5.1l14.3 3.8l-3.9 5.1zM530.3 397.2l4 -5.2l15.5 4.7l-3.9 5.1zM541.9 407l4 -5.2l16.7 5.5l-4 5.2zM554.7 417.7l3.9 -5.2l17.7 6.4l-4 5.2zM798.1 553.7l3.9 -5.3l15.5 11.7l-3.9 5.3z" fill="#adbe68" stroke="#adbe68"/>
<path d="M491.4 344.1l4 -5.1l2.8 -0.6l-4 5.2zM867.9 576.4l3.9 -5.2l9.8 8.9l-3.9 5.2zM852.6 571.8l3.9 -5.3l11.4 9.9l-3.9 5.3zM586.9 436l4 -5.2l19.1 7.6l-3.9 5.2zM658.2 482.4l3.9 -5.7l20.2 10.5l-3.9 5.8zM678.4 493l3.9 -5.8l20.1 11.2l-3.9 5.8zM698.5 504.2l3.9 -5.8l19.7 12.1l-3.9 5.7z" fill="#b0bd67" stroke="#b0bd67"/>
<path d="M927 572l3.9 -5.3l0.9 1.7l-3.8 5.3zM915.7 568.3l3.9 -5.2l4.6 5.2l-3.9 5.3zM833.1 539l4 -5.3l14.2 11.5l-3.9 5.2zM813.7 532.6l3.9 -5.3l15.5 11.7l-3.9 5.3z" fill="#c2bc5f" stroke="#c2bc5f"/>
<path d="M486.5 349.9l4 -5.1l0.9 -0.7l-3.9 5.2zM486.3 353.8l4 -5.1l4.6 -0.2l-4 5.1zM885.9 593.2l3.9 -5.3l6.4 6.7l-3.9 5.2zM813.6 565.4l3.9 -5.3l14.3 11.4l-3.9 5.3zM794.1 559.3l4 -5.6l15.5 11.7l-3.9 5.6zM598.2 455l4 -5.7l19.7 8.4l-4 5.7zM755.9 540.7l3.9 -5.7l17.7 12.2l-4 5.7zM634.1 478.3l3.9 -5.7l20.2 9.8l-3.9 5.8zM714.2 521.9l4 -5.7l19.2 12.2l-4 5.7z" fill="#a8be69" stroke="#a8be69"/>
<path d="M487.5 349.3l3.9 -5.2l2.8 -0.5l-3.9 5.1zM907.5 598.2l3.9 -5.2l1 1.6l-3.9 5.3zM896.2 594.6l3.9 -5.3l4.6 5.3l-3.8 5.2zM848.7 577l3.9 -5.2l11.4 9.9l-3.9 5.2zM831.8 571.5l3.9 -5.3l13 10.8l-3.9 5.3zM654.3 488.2l3.9 -5.8l20.2 10.6l-3.9 5.7zM674.5 498.7l3.9 -5.7l20.1 11.2l-4 5.8zM694.5 510l4 -5.8l19.7 12l-4 5.7z" fill="#aabe69" stroke="#aabe69"/>
<path d="M490.3 348.7l3.9 -5.1l4.6 -0.2l-3.9 5.1zM911.4 593l3.9 -5.3l1 1.7l-3.9 5.2zM900.1 589.3l3.9 -5.2l4.6 5.2l-3.9 5.3zM835.7 566.2l3.9 -5.2l13 10.8l-3.9 5.2zM817.5 560.1l3.9 -5.3l14.3 11.4l-3.9 5.3zM602.2 449.3l3.9 -5.7l19.7 8.4l-3.9 5.7zM759.8 535l3.9 -5.7l17.7 12.3l-3.9 5.6zM638 472.6l3.9 -5.8l20.2 9.9l-3.9 5.7zM718.2 516.2l3.9 -5.7l19.2 12.2l-3.9 5.7z" fill="#aebe67" stroke="#aebe67"/>
<path d="M494.9 348.5l3.9 -5.1l6.5 0.4l-4 5.1zM497.4 354l3.9 -5.1l8.2 1.1l-4 5.1zM501.6 360.3l3.9 -5.2l9.9 1.7l-4 5.2zM507.5 367.1l3.9 -5.1l11.4 2.4l-3.9 5.1zM908.6 589.3l3.9 -5.2l2.8 3.6l-3.9 5.3zM514.9 374.7l4 -5.2l12.9 3.3l-3.9 5.1zM523.9 383.1l4 -5.2l14.2 3.8l-3.9 5.2zM881.6 580.1l3.9 -5.3l8.2 7.9l-3.9 5.2zM534.3 392l3.9 -5.1l15.6 4.6l-4 5.2zM545.9 401.8l3.9 -5.1l16.7 5.5l-3.9 5.1zM558.6 412.5l4 -5.2l17.6 6.4l-3.9 5.2zM572.3 424.1l4 -5.2l18.5 6.7l-3.9 5.2zM781.4 541.6l3.9 -5.3l16.7 12.1l-3.9 5.3zM621.9 457.7l3.9 -5.7l20 9.1l-3.9 5.7zM741.3 522.7l3.9 -5.7l18.5 12.3l-3.9 5.7z" fill="#b1bd66" stroke="#b1bd66"/>
<path d="M501.3 348.9l4 -5.1l8.1 1.1l-3.9 5.1zM505.5 355.1l4 -5.1l9.8 1.7l-3.9 5.1zM511.4 362l4 -5.2l11.4 2.4l-4 5.2zM912.5 584.1l3.9 -5.3l2.8 3.7l-3.9 5.2zM518.9 369.5l3.9 -5.1l12.9 3.2l-3.9 5.2zM885.5 574.8l3.9 -5.2l8.2 7.8l-3.9 5.3zM871.8 571.2l3.9 -5.3l9.8 8.9l-3.9 5.3zM576.3 418.9l3.9 -5.2l18.5 6.7l-3.9 5.2zM590.9 430.8l3.9 -5.2l19.2 7.6l-4 5.2zM785.3 536.3l3.9 -5.3l16.7 12.1l-3.9 5.3zM662.1 476.7l3.9 -5.8l20.3 10.5l-4 5.8zM682.3 487.2l4 -5.8l20 11.3l-3.9 5.7zM702.4 498.4l3.9 -5.7l19.7 12l-3.9 5.8z" fill="#b5bd64" stroke="#b5bd64"/>
<path d="M482.6 355l3.9 -5.1l1 -0.6l-4 5.1zM482.4 358.9l3.9 -5.1l4.6 -0.2l-3.9 5.1zM903.6 603.5l3.9 -5.3l1 1.7l-3.9 5.3zM892.3 599.8l3.9 -5.2l4.7 5.2l-3.9 5.3zM827.9 576.8l3.9 -5.3l13 10.8l-3.9 5.3zM809.7 571l3.9 -5.6l14.3 11.4l-3.9 5.6zM650.4 493.9l3.9 -5.7l20.2 10.5l-3.9 5.8zM670.6 504.5l3.9 -5.8l20 11.3l-3.9 5.7zM690.6 515.7l3.9 -5.7l19.7 11.9l-3.9 5.8z" fill="#a4be6b" stroke="#a4be6b"/>
<path d="M483.5 354.4l4 -5.1l2.8 -0.6l-4 5.1zM900.9 599.8l3.8 -5.2l2.8 3.6l-3.9 5.3zM860.1 586.9l3.9 -5.2l9.8 8.9l-3.9 5.3zM844.8 582.3l3.9 -5.3l11.4 9.9l-3.9 5.3zM579 447.3l4 -5.6l19.2 7.6l-4 5.7zM773.5 552.9l4 -5.7l16.6 12.1l-3.9 5.7zM733.4 534.1l4 -5.7l18.5 12.3l-3.9 5.7z" fill="#a6be6b" stroke="#a6be6b"/>
<path d="M919.2 582.5l3.9 -5.3l1 1.7l-3.9 5.2zM907.9 578.8l3.9 -5.2l4.6 5.2l-3.9 5.3zM825.3 549.5l3.9 -5.2l14.3 11.4l-3.9 5.3z" fill="#b8bd63" stroke="#b8bd63"/>
<path d="M478.6 360.1l4 -5.1l0.9 -0.6l-3.9 5.1zM478.4 364l4 -5.1l4.6 -0.2l-4 5.2zM479.1 369l3.9 -5.1l6.5 0.4l-4 5.1zM899.7 608.7l3.9 -5.2l1 1.7l-3.9 5.2zM888.4 605.1l3.9 -5.3l4.7 5.3l-3.9 5.2zM805.8 576.6l3.9 -5.6l14.3 11.4l-3.9 5.5zM748 552.1l4 -5.7l17.6 12.2l-3.9 5.7zM646.4 499.7l4 -5.8l20.2 10.6l-3.9 5.7zM666.7 510.2l3.9 -5.7l20 11.2l-3.9 5.8zM686.7 521.5l3.9 -5.8l19.7 12l-3.9 5.7z" fill="#9ebe6e" stroke="#9ebe6e"/>
<path d="M479.6 359.5l3.9 -5.1l2.8 -0.6l-3.9 5.1zM489.7 375.7l4 -5.2l9.8 1.8l-3.9 5.1zM495.6 382.5l4 -5.1l11.4 2.4l-4 5.2zM897 605.1l3.9 -5.3l2.7 3.7l-3.9 5.2zM869.9 595.9l3.9 -5.3l8.2 7.9l-3.9 5.2zM856.2 592.2l3.9 -5.3l9.8 9l-3.9 5.2zM560.5 440.6l4 -5.7l18.5 6.8l-4 5.6zM610.1 474.9l3.9 -5.7l20.1 9.1l-4 5.8z" fill="#a1be6c" stroke="#a1be6c"/>
<path d="M487 358.7l3.9 -5.1l6.5 0.4l-4 5.2zM489.5 364.3l3.9 -5.1l8.2 1.1l-4 5.1zM493.7 370.5l3.9 -5.1l9.9 1.7l-4 5.2zM499.6 377.4l3.9 -5.1l11.4 2.4l-3.9 5.1zM507 385l4 -5.2l12.9 3.3l-3.9 5.1zM516 393.4l4 -5.2l14.3 3.8l-4 5.2zM873.8 590.6l3.9 -5.3l8.2 7.9l-3.9 5.3zM526.4 402.4l3.9 -5.2l15.6 4.6l-4 5.2zM538 412.2l3.9 -5.2l16.7 5.5l-3.9 5.2zM550.7 422.9l4 -5.2l17.6 6.4l-3.9 5.2zM564.5 434.9l3.9 -5.6l18.5 6.7l-3.9 5.7zM614 469.2l3.9 -5.8l20.1 9.2l-3.9 5.7z" fill="#a7be6a" stroke="#a7be6a"/>
<path d="M493.4 359.2l4 -5.2l8.1 1.1l-3.9 5.2zM497.6 365.4l4 -5.1l9.8 1.7l-3.9 5.1zM503.5 372.3l4 -5.2l11.4 2.4l-4 5.2zM904.7 594.6l3.9 -5.3l2.8 3.7l-3.9 5.2zM511 379.8l3.9 -5.1l13 3.2l-4 5.2zM877.7 585.3l3.9 -5.2l8.2 7.8l-3.9 5.3zM864 581.7l3.9 -5.3l9.8 8.9l-3.9 5.3zM568.4 429.3l3.9 -5.2l18.6 6.7l-4 5.2zM583 441.7l3.9 -5.7l19.2 7.6l-3.9 5.7zM777.5 547.2l3.9 -5.6l16.7 12.1l-4 5.6zM617.9 463.4l4 -5.7l20 9.1l-3.9 5.8zM737.4 528.4l3.9 -5.7l18.5 12.3l-3.9 5.7z" fill="#abbe68" stroke="#abbe68"/>
<path d="M474.7 365.3l3.9 -5.2l1 -0.6l-4 5.1zM474.5 369.1l3.9 -5.1l4.6 -0.1l-3.9 5.1zM895.9 614l3.8 -5.3l1 1.7l-3.9 5.3zM884.5 610.3l3.9 -5.2l4.7 5.2l-3.9 5.3zM820.1 587.9l3.9 -5.5l13 10.7l-3.9 5.5zM571.2 458.7l3.9 -5.7l19.2 7.7l-3.9 5.7zM765.7 564.3l3.9 -5.7l16.7 12l-3.9 5.7zM725.6 545.6l3.9 -5.7l18.5 12.2l-3.9 5.7z" fill="#99bf6f" stroke="#99bf6f"/>
<path d="M475.6 364.6l4 -5.1l2.8 -0.6l-4 5.1zM893.1 610.3l3.9 -5.2l2.7 3.6l-3.8 5.3zM852.3 597.5l3.9 -5.3l9.8 8.9l-3.9 5.3zM837 593.1l3.9 -5.5l11.4 9.9l-3.9 5.4zM556.6 446.2l3.9 -5.6l18.5 6.7l-3.9 5.7zM606.1 480.6l4 -5.7l20 9.2l-3.9 5.7z" fill="#9bbf6f" stroke="#9bbf6f"/>
<path d="M483 363.9l4 -5.2l6.4 0.5l-3.9 5.1zM485.5 369.4l4 -5.1l8.1 1.1l-3.9 5.1zM503.1 390.1l3.9 -5.1l13 3.2l-4 5.2zM882 598.5l3.9 -5.3l6.4 6.6l-3.9 5.3zM512.1 398.6l3.9 -5.2l14.3 3.8l-3.9 5.2zM522.4 407.5l4 -5.1l15.5 4.6l-3.9 5.2zM534 417.4l4 -5.2l16.7 5.5l-4 5.2zM546.8 428.5l3.9 -5.6l17.7 6.4l-3.9 5.6zM790.2 565l3.9 -5.7l15.6 11.7l-3.9 5.6zM594.3 460.7l3.9 -5.7l19.7 8.4l-3.9 5.8zM752 546.4l3.9 -5.7l17.6 12.2l-3.9 5.7zM630.1 484.1l4 -5.8l20.2 9.9l-3.9 5.7zM710.3 527.7l3.9 -5.8l19.2 12.2l-3.9 5.8z" fill="#a3be6c" stroke="#a3be6c"/>
<path d="M470.7 370.4l4 -5.1l0.9 -0.7l-3.9 5.1zM471.2 379.2l3.9 -5.1l6.5 0.4l-4 5.2zM892 619.3l3.9 -5.3l0.9 1.7l-3.9 5.3zM880.6 615.6l3.9 -5.3l4.7 5.3l-3.9 5.2zM816.2 593.5l3.9 -5.6l13 10.7l-3.9 5.5zM567.2 464.4l4 -5.7l19.2 7.7l-4 5.7zM761.8 570l3.9 -5.7l16.7 12l-3.9 5.6z" fill="#93bf72" stroke="#93bf72"/>
<path d="M471.7 369.7l3.9 -5.1l2.8 -0.6l-3.9 5.1zM889.2 615.6l3.9 -5.3l2.8 3.7l-3.9 5.3zM862.1 606.4l3.9 -5.3l8.2 7.9l-3.9 5.2zM538.9 439.7l4 -5.6l17.6 6.5l-3.9 5.6zM782.4 576.3l3.9 -5.7l15.6 11.6l-3.9 5.6zM622.3 495.6l3.9 -5.8l20.2 9.9l-3.9 5.7zM702.5 539.2l3.9 -5.8l19.2 12.2l-3.9 5.7z" fill="#96bf71" stroke="#96bf71"/>
<path d="M466.8 375.5l3.9 -5.1l1 -0.7l-4 5.1zM466.5 379.4l4 -5.2l4.6 -0.1l-3.9 5.1zM888.1 624.5l3.9 -5.2l0.9 1.7l-3.9 5.2zM876.7 620.9l3.9 -5.3l4.7 5.2l-3.9 5.3zM829.2 604.1l3.9 -5.5l11.4 9.8l-3.9 5.5zM548.7 457.5l4 -5.6l18.5 6.8l-4 5.7zM757.9 575.7l3.9 -5.7l16.7 11.9l-3.9 5.7zM598.3 492.1l3.9 -5.8l20.1 9.3l-4 5.7zM717.8 557.1l3.9 -5.8l18.5 12.2l-3.9 5.7z" fill="#8ebf74" stroke="#8ebf74"/>
<path d="M467.7 374.8l4 -5.1l2.8 -0.6l-4 5.1zM885.3 620.8l3.9 -5.2l2.8 3.7l-3.9 5.2zM844.5 608.4l3.9 -5.5l9.8 8.9l-3.9 5.4zM535 445.3l3.9 -5.6l17.7 6.5l-3.9 5.7zM778.5 581.9l3.9 -5.6l15.6 11.5l-3.9 5.6zM618.3 501.3l4 -5.7l20.2 9.8l-3.9 5.8zM698.6 544.9l3.9 -5.7l19.2 12.1l-3.9 5.8z" fill="#90bf73" stroke="#90bf73"/>
<path d="M470.5 374.2l4 -5.1l4.6 -0.1l-4 5.1zM848.4 602.9l3.9 -5.4l9.8 8.9l-3.9 5.4zM833.1 598.6l3.9 -5.5l11.4 9.8l-3.9 5.5zM552.7 451.9l3.9 -5.7l18.5 6.8l-3.9 5.7zM602.2 486.3l3.9 -5.7l20.1 9.2l-3.9 5.8zM721.7 551.3l3.9 -5.7l18.5 12.2l-3.9 5.7z" fill="#95bf71" stroke="#95bf71"/>
<path d="M475.1 374.1l4 -5.1l6.4 0.4l-3.9 5.1zM477.6 379.7l4 -5.2l8.1 1.2l-3.9 5.1zM481.8 385.9l4 -5.1l9.8 1.7l-3.9 5.2zM487.7 392.8l4 -5.1l11.4 2.4l-4 5.2zM495.2 400.4l3.9 -5.1l13 3.3l-4 5.1zM874.2 609l3.9 -5.3l6.4 6.6l-3.9 5.3zM504.2 408.9l3.9 -5.2l14.3 3.8l-3.9 5.2zM514.5 418.2l4 -5.5l15.5 4.7l-3.9 5.5zM526.2 428.5l3.9 -5.6l16.7 5.6l-3.9 5.6zM801.9 582.2l3.9 -5.6l14.3 11.3l-3.9 5.6zM586.4 472.1l4 -5.7l19.7 8.5l-4 5.7zM744.1 557.8l3.9 -5.7l17.7 12.2l-3.9 5.7zM642.5 505.4l3.9 -5.7l20.3 10.5l-4 5.8zM662.7 516l4 -5.8l20 11.3l-3.9 5.7zM682.8 527.2l3.9 -5.7l19.7 11.9l-3.9 5.8z" fill="#98bf70" stroke="#98bf70"/>
<path d="M481.6 374.5l3.9 -5.1l8.2 1.1l-4 5.2zM485.8 380.8l3.9 -5.1l9.9 1.7l-4 5.1zM491.7 387.7l3.9 -5.2l11.4 2.5l-3.9 5.1zM499.1 395.3l4 -5.2l12.9 3.3l-3.9 5.2zM878.1 603.7l3.9 -5.2l6.4 6.6l-3.9 5.2zM508.1 403.7l4 -5.1l14.3 3.8l-4 5.1zM866 601.1l3.9 -5.2l8.2 7.8l-3.9 5.3zM518.5 412.7l3.9 -5.2l15.6 4.7l-4 5.2zM530.1 422.9l3.9 -5.5l16.7 5.5l-3.9 5.6zM542.9 434.1l3.9 -5.6l17.7 6.4l-4 5.7zM786.3 570.6l3.9 -5.6l15.6 11.6l-3.9 5.6zM590.4 466.4l3.9 -5.7l19.7 8.5l-3.9 5.7zM626.2 489.8l3.9 -5.7l20.3 9.8l-4 5.8zM706.4 533.4l3.9 -5.7l19.2 12.2l-3.9 5.7z" fill="#9dbf6e" stroke="#9dbf6e"/>
<path d="M462.8 380.6l4 -5.1l0.9 -0.7l-3.9 5.2zM462.6 384.5l3.9 -5.1l4.7 -0.2l-4 5.1zM840.6 613.9l3.9 -5.5l9.8 8.8l-3.9 5.5zM531 450.9l4 -5.6l17.7 6.6l-4 5.6zM774.6 587.6l3.9 -5.7l15.6 11.5l-3.9 5.7zM614.4 507l3.9 -5.7l20.3 9.9l-4 5.7zM694.7 550.7l3.9 -5.8l19.2 12.2l-3.9 5.7z" fill="#89bf76" stroke="#89bf76"/>
<path d="M463.8 380l3.9 -5.2l2.8 -0.6l-4 5.2zM881.4 626.1l3.9 -5.3l2.8 3.7l-3.9 5.3zM496.3 419.8l3.9 -5.5l14.3 3.9l-3.9 5.5zM854.3 617.2l3.9 -5.4l8.2 7.8l-3.9 5.4zM506.6 429.2l4 -5.5l15.6 4.8l-4 5.5zM518.3 439.6l3.9 -5.6l16.7 5.7l-3.9 5.6zM794.1 593.4l3.9 -5.6l14.3 11.3l-3.9 5.5zM578.6 483.5l3.9 -5.7l19.7 8.5l-3.9 5.8zM736.3 569.2l3.9 -5.7l17.7 12.2l-3.9 5.7zM634.6 516.9l4 -5.7l20.2 10.5l-3.9 5.8zM654.9 527.5l3.9 -5.8l20.1 11.3l-4 5.7zM674.9 538.7l4 -5.7l19.7 11.9l-3.9 5.8z" fill="#8bbf75" stroke="#8bbf75"/>
<path d="M458.9 385.7l3.9 -5.1l1 -0.6l-4 5.1zM458.6 389.6l4 -5.1l4.6 -0.2l-3.9 5.2zM459.3 394.6l4 -5.1l6.4 0.4l-4 5.1zM880.3 635.1l3.9 -5.3l0.9 1.7l-3.9 5.3zM868.9 631.6l3.9 -5.4l4.7 5.2l-3.9 5.3zM836.7 619.4l3.9 -5.5l9.8 8.8l-3.9 5.4zM527.1 456.5l3.9 -5.6l17.7 6.6l-3.9 5.7zM770.7 593.3l3.9 -5.7l15.6 11.5l-3.9 5.6zM610.5 512.8l3.9 -5.8l20.2 9.9l-3.9 5.8zM690.7 556.4l4 -5.7l19.2 12.1l-3.9 5.7z" fill="#83bf79" stroke="#83bf79"/>
<path d="M459.8 385.1l4 -5.1l2.7 -0.6l-3.9 5.1zM470 401.3l3.9 -5.1l9.9 1.8l-4 5.1zM475.9 408.5l3.9 -5.4l11.4 2.5l-3.9 5.4zM483.3 416.4l4 -5.4l12.9 3.3l-3.9 5.5zM862.5 625l3.9 -5.4l6.4 6.6l-3.9 5.4zM492.3 425.3l4 -5.5l14.3 3.9l-4 5.5zM502.7 434.7l3.9 -5.5l15.6 4.8l-3.9 5.6zM808.4 604.6l3.9 -5.5l12.9 10.6l-3.9 5.5zM559.4 475.8l3.9 -5.7l19.2 7.7l-3.9 5.7z" fill="#86bf77" stroke="#86bf77"/>
<path d="M467.2 384.3l4 -5.1l6.4 0.5l-4 5.1zM469.7 389.9l3.9 -5.1l8.2 1.1l-3.9 5.2zM473.9 396.2l4 -5.1l9.8 1.7l-3.9 5.2zM479.8 403.1l4 -5.1l11.4 2.4l-4 5.2zM487.3 411l3.9 -5.4l13 3.3l-4 5.4zM866.4 619.6l3.9 -5.4l6.4 6.7l-3.9 5.3zM812.3 599.1l3.9 -5.6l13 10.6l-4 5.6zM563.3 470.1l3.9 -5.7l19.2 7.7l-3.9 5.7z" fill="#8dbf75" stroke="#8dbf75"/>
<path d="M473.6 384.8l4 -5.1l8.2 1.1l-4 5.1zM477.9 391.1l3.9 -5.2l9.9 1.8l-4 5.1zM483.8 398l3.9 -5.2l11.4 2.5l-3.9 5.1zM491.2 405.6l4 -5.2l12.9 3.3l-3.9 5.2zM870.3 614.2l3.9 -5.2l6.4 6.6l-3.9 5.3zM500.2 414.3l4 -5.4l14.3 3.8l-4 5.5zM858.2 611.8l3.9 -5.4l8.2 7.8l-3.9 5.4zM510.6 423.7l3.9 -5.5l15.6 4.7l-3.9 5.6zM522.2 434l4 -5.5l16.7 5.6l-4 5.6zM798 587.8l3.9 -5.6l14.3 11.3l-3.9 5.6zM582.5 477.8l3.9 -5.7l19.7 8.5l-3.9 5.7zM740.2 563.5l3.9 -5.7l17.7 12.2l-3.9 5.7zM638.6 511.2l3.9 -5.8l20.2 10.6l-3.9 5.7zM658.8 521.7l3.9 -5.7l20.1 11.2l-3.9 5.8zM678.9 533l3.9 -5.8l19.7 12l-3.9 5.7z" fill="#92bf73" stroke="#92bf73"/>
<path d="M454.9 390.8l4 -5.1l0.9 -0.6l-4 5.1zM454.7 394.7l3.9 -5.1l4.7 -0.1l-4 5.1zM846.5 628.1l3.9 -5.4l8.2 7.7l-3.9 5.4zM832.8 624.9l3.9 -5.5l9.8 8.7l-3.9 5.4zM510.4 450.7l3.9 -5.5l16.7 5.7l-3.9 5.6zM570.7 495l3.9 -5.8l19.8 8.6l-4 5.7zM728.5 580.7l3.9 -5.8l17.7 12.1l-3.9 5.7zM626.8 528.5l3.9 -5.8l20.3 10.6l-4 5.7zM647 539l4 -5.7l20 11.2l-3.9 5.8zM667.1 550.3l3.9 -5.8l19.7 11.9l-3.9 5.8z" fill="#7dbf7b" stroke="#7dbf7b"/>
<path d="M455.8 390.2l4 -5.1l2.8 -0.6l-4 5.1zM873.6 636.7l3.9 -5.3l2.8 3.7l-3.9 5.3zM479.4 421.8l3.9 -5.4l13 3.4l-4 5.5zM858.6 630.4l3.9 -5.4l6.4 6.6l-3.9 5.3zM488.4 430.7l3.9 -5.4l14.3 3.9l-3.9 5.5zM498.8 440.2l3.9 -5.5l15.6 4.9l-4 5.6zM786.3 604.7l3.9 -5.6l14.3 11.1l-3.9 5.6zM555.4 481.4l4 -5.6l19.2 7.7l-4 5.7z" fill="#7fbf7a" stroke="#7fbf7a"/>
<path d="M463.3 389.5l3.9 -5.2l6.4 0.5l-3.9 5.1zM465.7 395l4 -5.1l8.2 1.2l-4 5.1zM884.2 629.8l3.9 -5.3l0.9 1.7l-3.9 5.3zM872.8 626.2l3.9 -5.3l4.7 5.2l-3.9 5.3zM825.2 609.7l4 -5.6l11.4 9.8l-3.9 5.5zM544.8 463.2l3.9 -5.7l18.5 6.9l-3.9 5.7zM754 581.4l3.9 -5.7l16.7 11.9l-3.9 5.7zM594.4 497.8l3.9 -5.7l20 9.2l-3.9 5.7zM713.9 562.8l3.9 -5.7l18.5 12.1l-3.9 5.7z" fill="#88bf77" stroke="#88bf77"/>
<path d="M451 396l3.9 -5.2l0.9 -0.6l-3.9 5.1zM451.4 404.9l4 -5.2l6.4 0.5l-4 5.2zM828.9 630.3l3.9 -5.4l9.8 8.6l-3.9 5.5zM506.4 456.3l4 -5.6l16.7 5.8l-3.9 5.6zM519.2 467.7l4 -5.6l17.6 6.7l-3.9 5.7zM566.8 500.7l3.9 -5.7l19.7 8.5l-3.9 5.8zM724.6 586.4l3.9 -5.7l17.7 12l-3.9 5.7zM622.9 534.2l3.9 -5.7l20.2 10.5l-3.9 5.8zM643.1 544.8l3.9 -5.8l20.1 11.3l-3.9 5.7zM663.2 556l3.9 -5.7l19.7 11.9l-3.9 5.7z" fill="#76bf7e" stroke="#76bf7e"/>
<path d="M451.9 395.3l3.9 -5.1l2.8 -0.6l-3.9 5.1zM462.1 411.9l3.9 -5.3l9.9 1.9l-4 5.3zM468 419.2l3.9 -5.4l11.4 2.6l-3.9 5.4zM475.5 427.2l3.9 -5.4l12.9 3.5l-3.9 5.4zM854.7 635.8l3.9 -5.4l6.4 6.5l-3.8 5.4zM800.6 615.8l3.9 -5.6l12.9 10.5l-3.9 5.6zM536.9 474.5l3.9 -5.7l18.6 7l-4 5.6zM746.2 592.7l3.9 -5.7l16.7 11.9l-3.9 5.7zM586.5 509.3l3.9 -5.8l20.1 9.3l-3.9 5.7zM706 574.2l4 -5.7l18.5 12.2l-3.9 5.7z" fill="#7abf7c" stroke="#7abf7c"/>
<path d="M447 401.1l4 -5.1l0.9 -0.7l-4 5.1zM446.8 405l3.9 -5.2l4.7 -0.1l-4 5.2zM865.8 647.4l3.9 -5.3l2.8 3.6l-3.9 5.3zM838.7 639l3.9 -5.5l8.2 7.7l-3.9 5.4zM490.9 451.2l3.9 -5.5l15.6 5l-4 5.6zM502.5 461.8l3.9 -5.5l16.8 5.8l-4 5.6zM778.5 616l3.9 -5.7l14.3 11.1l-3.9 5.6zM547.6 492.8l3.9 -5.7l19.2 7.9l-3.9 5.7z" fill="#71bf80" stroke="#71bf80"/>
<path d="M447.9 400.4l4 -5.1l2.8 -0.6l-4 5.1zM464 424.5l4 -5.3l11.4 2.6l-3.9 5.4zM471.5 432.6l4 -5.4l12.9 3.5l-4 5.5zM850.8 641.2l3.9 -5.4l6.5 6.5l-3.9 5.3zM480.5 441.6l3.9 -5.4l14.4 4l-4 5.5zM796.7 621.4l3.9 -5.6l12.9 10.5l-3.9 5.5zM742.3 598.4l3.9 -5.7l16.7 11.9l-3.9 5.6zM582.6 515l3.9 -5.7l20.1 9.2l-4 5.8zM702.1 580l3.9 -5.8l18.6 12.2l-3.9 5.7z" fill="#73bf80" stroke="#73bf80"/>
<path d="M450.7 399.8l4 -5.1l4.6 -0.1l-3.9 5.1zM869.7 642.1l3.9 -5.4l2.8 3.7l-3.9 5.3zM484.4 436.2l4 -5.5l14.3 4l-3.9 5.5zM842.6 633.5l3.9 -5.4l8.2 7.7l-3.9 5.4zM494.8 445.7l4 -5.5l15.5 5l-3.9 5.5zM782.4 610.3l3.9 -5.6l14.3 11.1l-3.9 5.6zM551.5 487.1l3.9 -5.7l19.2 7.8l-3.9 5.8z" fill="#78bf7d" stroke="#78bf7d"/>
<path d="M455.4 399.7l3.9 -5.1l6.4 0.4l-3.9 5.2zM457.8 405.4l4 -5.2l8.2 1.1l-4 5.3zM876.4 640.4l3.9 -5.3l0.9 1.7l-3.9 5.2zM865 636.9l3.9 -5.3l4.7 5.1l-3.9 5.4zM817.4 620.7l3.9 -5.5l11.5 9.7l-3.9 5.4zM523.2 462.1l3.9 -5.6l17.7 6.7l-4 5.6zM766.8 598.9l3.9 -5.6l15.6 11.4l-3.9 5.6zM606.6 518.5l3.9 -5.7l20.2 9.9l-3.9 5.8zM686.8 562.2l3.9 -5.8l19.3 12.1l-4 5.7z" fill="#7cbf7c" stroke="#7cbf7c"/>
<path d="M461.8 400.2l3.9 -5.2l8.2 1.2l-3.9 5.1zM466 406.6l4 -5.3l9.8 1.8l-3.9 5.4zM471.9 413.8l4 -5.3l11.4 2.5l-4 5.4zM821.3 615.2l3.9 -5.5l11.5 9.7l-3.9 5.5zM804.5 610.2l3.9 -5.6l12.9 10.6l-3.9 5.5zM540.8 468.8l4 -5.6l18.5 6.9l-3.9 5.7zM750.1 587l3.9 -5.6l16.7 11.9l-3.9 5.6zM590.4 503.5l4 -5.7l20 9.2l-3.9 5.8zM710 568.5l3.9 -5.7l18.5 12.1l-3.9 5.8z" fill="#81bf79" stroke="#81bf79"/>
<path d="M840.9 587.6l3.9 -5.3l11.4 9.9l-3.9 5.3zM824 582.4l3.9 -5.6l13 10.8l-3.9 5.5zM575.1 453l3.9 -5.7l19.2 7.7l-3.9 5.7zM769.6 558.6l3.9 -5.7l16.7 12.1l-3.9 5.6zM729.5 539.9l3.9 -5.8l18.6 12.3l-4 5.7z" fill="#a0be6d" stroke="#a0be6d"/>
<path d="M443 406.2l4 -5.1l0.9 -0.7l-3.9 5.1zM443.5 415.3l4 -5.2l6.4 0.5l-4 5.3zM834.8 644.4l3.9 -5.4l8.2 7.6l-3.9 5.4zM486.9 456.8l4 -5.6l15.5 5.1l-3.9 5.5zM498.6 467.4l3.9 -5.6l16.7 5.9l-3.9 5.6zM774.6 621.6l3.9 -5.6l14.3 11l-3.9 5.5zM543.6 498.5l4 -5.7l19.2 7.9l-4 5.7z" fill="#69be84" stroke="#69be84"/>
<path d="M444 405.5l3.9 -5.1l2.8 -0.6l-3.9 5.2zM454.2 422.5l3.9 -5.3l9.9 2l-4 5.3zM460.1 429.8l3.9 -5.3l11.5 2.7l-4 5.4zM809.6 631.8l3.9 -5.5l11.5 9.5l-3.9 5.5zM529 485.8l4 -5.7l18.5 7l-3.9 5.7zM598.7 530l3.9 -5.7l20.3 9.9l-3.9 5.8zM679 573.7l3.9 -5.8l19.2 12.1l-3.9 5.7z" fill="#6dbf82" stroke="#6dbf82"/>
<path d="M877.5 631.4l3.9 -5.3l2.8 3.7l-3.9 5.3zM850.4 622.7l3.9 -5.5l8.2 7.8l-3.9 5.4zM514.3 445.2l4 -5.6l16.7 5.7l-4 5.6zM790.2 599.1l3.9 -5.7l14.3 11.2l-3.9 5.6zM574.6 489.2l4 -5.7l19.7 8.6l-3.9 5.7zM732.4 574.9l3.9 -5.7l17.7 12.2l-3.9 5.6zM630.7 522.7l3.9 -5.8l20.3 10.6l-3.9 5.8zM651 533.3l3.9 -5.8l20 11.2l-3.9 5.8zM671 544.5l3.9 -5.8l19.8 12l-4 5.7z" fill="#84bf78" stroke="#84bf78"/>
<path d="M439.1 411.3l3.9 -5.1l1 -0.7l-4 5.2zM438.9 415.3l3.9 -5.2l4.7 0l-4 5.2zM858 658l3.9 -5.3l2.8 3.6l-3.9 5.3zM463.6 443.4l4 -5.4l12.9 3.6l-4 5.5zM472.6 452.5l3.9 -5.4l14.4 4.1l-4 5.6zM830.9 649.9l3.9 -5.5l8.2 7.6l-3.9 5.4zM483 462.3l3.9 -5.5l15.6 5l-3.9 5.6zM788.9 632.5l3.9 -5.5l12.9 10.3l-3.9 5.6zM539.7 504.2l3.9 -5.7l19.2 7.9l-3.9 5.7zM734.5 609.8l3.9 -5.7l16.7 11.8l-3.9 5.7zM574.7 526.4l3.9 -5.7l20.1 9.3l-3.9 5.8zM694.3 591.4l3.9 -5.7l18.5 12.1l-3.9 5.7z" fill="#64be86" stroke="#64be86"/>
<path d="M440 410.7l4 -5.2l2.8 -0.5l-4 5.1zM446 421.1l3.9 -5.2l8.2 1.3l-3.9 5.3zM864.7 656.3l3.9 -5.3l0.9 1.6l-3.9 5.3zM853.4 653l3.9 -5.4l4.6 5.1l-3.9 5.3zM821.1 641.3l3.9 -5.5l9.8 8.6l-3.9 5.5zM511.3 478.9l4 -5.6l17.7 6.8l-4 5.7zM755.1 615.9l3.9 -5.7l15.6 11.4l-3.9 5.6zM558.9 512.1l3.9 -5.7l19.8 8.6l-4 5.7zM716.7 597.8l4 -5.7l17.7 12l-3.9 5.7zM615 545.7l4 -5.7l20.2 10.6l-3.9 5.7zM635.3 556.3l3.9 -5.7l20.1 11.2l-4 5.7zM655.3 567.5l4 -5.7l19.7 11.9l-3.9 5.7z" fill="#67be85" stroke="#67be85"/>
<path d="M442.8 410.1l4 -5.1l4.6 -0.1l-3.9 5.2zM861.9 652.7l3.9 -5.3l2.8 3.6l-3.9 5.3zM467.6 438l3.9 -5.4l12.9 3.6l-3.9 5.4zM846.9 646.6l3.9 -5.4l6.5 6.4l-3.9 5.4zM476.5 447.1l4 -5.5l14.3 4.1l-3.9 5.5zM792.8 627l3.9 -5.6l12.9 10.4l-3.9 5.5zM738.4 604.1l3.9 -5.7l16.7 11.8l-3.9 5.7zM578.6 520.7l4 -5.7l20 9.3l-3.9 5.7zM698.2 585.7l3.9 -5.7l18.6 12.1l-4 5.7z" fill="#6bbf83" stroke="#6bbf83"/>
<path d="M447.5 410.1l3.9 -5.2l6.4 0.5l-3.9 5.2zM449.9 415.9l4 -5.3l8.2 1.3l-4 5.3zM868.6 651l3.9 -5.3l0.9 1.6l-3.9 5.3zM857.3 647.6l3.9 -5.3l4.6 5.1l-3.9 5.3zM825 635.8l3.9 -5.5l9.8 8.7l-3.9 5.4zM515.3 473.3l3.9 -5.6l17.7 6.8l-3.9 5.6zM759 610.2l3.9 -5.6l15.6 11.4l-3.9 5.6zM562.8 506.4l4 -5.7l19.7 8.6l-3.9 5.7zM720.7 592.1l3.9 -5.7l17.7 12l-3.9 5.7zM619 540l3.9 -5.8l20.2 10.6l-3.9 5.8zM639.2 550.6l3.9 -5.8l20.1 11.2l-3.9 5.8zM659.3 561.8l3.9 -5.8l19.7 11.9l-3.9 5.8z" fill="#6fbf81" stroke="#6fbf81"/>
<path d="M453.9 410.6l3.9 -5.2l8.2 1.2l-3.9 5.3zM458.1 417.2l4 -5.3l9.8 1.9l-3.9 5.4zM872.5 645.7l3.9 -5.3l0.9 1.6l-3.9 5.3zM861.2 642.3l3.8 -5.4l4.7 5.2l-3.9 5.3zM813.5 626.3l3.9 -5.6l11.5 9.6l-3.9 5.5zM533 480.1l3.9 -5.6l18.5 6.9l-3.9 5.7zM762.9 604.6l3.9 -5.7l15.6 11.4l-3.9 5.7zM602.6 524.3l4 -5.8l20.2 10l-3.9 5.7zM682.9 567.9l3.9 -5.7l19.2 12l-3.9 5.8z" fill="#74bf7f" stroke="#74bf7f"/>
<path d="M435.1 416.4l4 -5.1l0.9 -0.6l-3.9 5.1zM434.9 420.5l4 -5.2l4.6 0l-4 5.2zM452.2 440.5l3.9 -5.3l11.5 2.8l-4 5.4zM854.1 663.4l3.9 -5.4l2.8 3.6l-3.9 5.3zM459.7 448.8l3.9 -5.4l12.9 3.7l-3.9 5.4zM839.1 657.4l3.9 -5.4l6.5 6.3l-3.9 5.4zM521.2 497.1l3.9 -5.7l18.5 7.1l-3.9 5.7zM590.9 541.5l3.9 -5.7l20.2 9.9l-3.9 5.8zM671.2 585.2l3.9 -5.8l19.2 12l-3.9 5.8z" fill="#5ebe89" stroke="#5ebe89"/>
<path d="M436.1 415.8l3.9 -5.1l2.8 -0.6l-3.9 5.2zM442 426.4l4 -5.3l8.2 1.4l-4 5.3zM446.3 433.1l3.9 -5.3l9.9 2l-4 5.4zM849.5 658.3l3.9 -5.3l4.6 5l-3.9 5.4zM801.8 642.9l3.9 -5.6l11.5 9.5l-3.9 5.5zM507.4 484.6l3.9 -5.7l17.7 6.9l-3.9 5.6zM751.2 621.6l3.9 -5.7l15.6 11.3l-3.9 5.6zM555 517.8l3.9 -5.7l19.7 8.6l-3.9 5.7zM712.8 603.5l3.9 -5.7l17.8 12l-4 5.7zM611.1 551.5l3.9 -5.8l20.3 10.6l-4 5.8zM631.3 562.1l4 -5.8l20 11.2l-3.9 5.8zM651.4 573.3l3.9 -5.8l19.8 11.9l-3.9 5.8z" fill="#60be88" stroke="#60be88"/>
<path d="M431.2 421.5l3.9 -5.1l1 -0.6l-4 5.1zM431 425.6l3.9 -5.1l4.6 0l-3.9 5.2zM850.2 668.7l3.9 -5.3l2.8 3.5l-3.9 5.3zM455.7 454.2l4 -5.4l12.9 3.7l-4 5.5zM835.2 662.8l3.9 -5.4l6.5 6.3l-3.9 5.3zM464.7 463.4l3.9 -5.4l14.4 4.3l-4 5.5zM781.1 643.7l3.9 -5.6l12.9 10.3l-3.9 5.5zM517.2 502.7l4 -5.6l18.5 7.1l-3.9 5.7zM586.9 547.3l4 -5.8l20.2 10l-3.9 5.8zM667.2 590.9l4 -5.7l19.2 12l-3.9 5.7z" fill="#57bd8d" stroke="#57bd8d"/>
<path d="M432.1 420.9l4 -5.1l2.8 -0.5l-4 5.2zM438.1 431.6l3.9 -5.2l8.2 1.4l-3.9 5.3zM856.9 666.9l3.9 -5.3l0.9 1.6l-3.9 5.3zM845.6 663.7l3.9 -5.4l4.6 5.1l-3.9 5.3zM813.3 652.3l3.9 -5.5l9.8 8.5l-3.9 5.4zM490.7 478.5l3.9 -5.6l16.7 6l-3.9 5.7zM766.8 632.8l3.9 -5.6l14.3 10.9l-3.9 5.6z" fill="#5abd8b" stroke="#5abd8b"/>
<path d="M439.5 420.5l4 -5.2l6.4 0.6l-3.9 5.2zM860.8 661.6l3.9 -5.3l0.9 1.6l-3.9 5.3zM817.2 646.8l3.9 -5.5l9.8 8.6l-3.9 5.4zM494.6 472.9l4 -5.5l16.7 5.9l-4 5.6zM770.7 627.2l3.9 -5.6l14.3 10.9l-3.9 5.6z" fill="#62be87" stroke="#62be87"/>
<path d="M427.2 426.7l4 -5.2l0.9 -0.6l-3.9 5.2zM427 430.8l4 -5.2l4.6 0.1l-4 5.2zM444.3 451.2l3.9 -5.3l11.5 2.9l-4 5.4zM831.3 668.2l3.9 -5.4l6.5 6.2l-3.9 5.4zM794 653.9l3.9 -5.5l11.5 9.4l-3.9 5.5zM499.5 495.8l3.9 -5.6l17.8 6.9l-4 5.6zM743.4 632.9l3.9 -5.7l15.6 11.3l-3.9 5.6zM547.1 529.2l3.9 -5.7l19.8 8.7l-4 5.7zM705 614.9l3.9 -5.7l17.7 12l-3.9 5.7zM603.2 563l4 -5.7l20.2 10.6l-3.9 5.7zM643.6 584.8l3.9 -5.7l19.7 11.8l-3.9 5.8z" fill="#51bc90" stroke="#51bc90"/>
<path d="M428.2 426.1l3.9 -5.2l2.8 -0.4l-3.9 5.1zM434.1 436.8l4 -5.2l8.2 1.5l-4 5.3zM438.4 443.7l3.9 -5.3l9.9 2.1l-4 5.4zM841.7 669l3.9 -5.3l4.6 5l-3.9 5.3zM809.4 657.8l3.9 -5.5l9.8 8.4l-3.8 5.5zM486.7 484.1l4 -5.6l16.7 6.1l-4 5.6zM762.9 638.5l3.9 -5.7l14.3 10.9l-3.9 5.6zM623.5 573.6l3.9 -5.7l20.1 11.2l-3.9 5.7z" fill="#53bd8f" stroke="#53bd8f"/>
<path d="M435.6 425.7l3.9 -5.2l6.5 0.6l-4 5.3zM468.6 458l4 -5.5l14.3 4.3l-3.9 5.5zM827 655.3l3.9 -5.4l8.2 7.5l-3.9 5.4zM479 467.8l4 -5.5l15.6 5.1l-4 5.5zM785 638.1l3.9 -5.6l12.9 10.4l-3.9 5.5zM535.8 509.9l3.9 -5.7l19.2 7.9l-3.9 5.7zM730.5 615.5l4 -5.7l16.7 11.8l-3.9 5.6zM570.8 532.2l3.9 -5.8l20.1 9.4l-3.9 5.7zM690.4 597.2l3.9 -5.8l18.5 12.1l-3.9 5.7z" fill="#5cbe8a" stroke="#5cbe8a"/>
<path d="M450.2 427.8l4 -5.3l9.8 2l-3.9 5.3zM456.1 435.2l4 -5.4l11.4 2.8l-3.9 5.4zM843 652l3.9 -5.4l6.5 6.4l-3.9 5.3zM805.7 637.3l3.9 -5.5l11.5 9.5l-3.9 5.5zM525.1 491.4l3.9 -5.6l18.6 7l-4 5.7zM594.8 535.8l3.9 -5.8l20.3 10l-4 5.7zM675.1 579.4l3.9 -5.7l19.2 12l-3.9 5.7z" fill="#66be85" stroke="#66be85"/>
<path d="M423.3 431.8l3.9 -5.1l1 -0.6l-4 5.1zM423.1 435.9l3.9 -5.1l4.6 0.1l-3.9 5.2zM440.3 456.6l4 -5.4l11.4 3l-3.9 5.4zM842.4 679.3l3.9 -5.3l2.8 3.5l-3.9 5.3zM447.8 465l4 -5.4l12.9 3.8l-3.9 5.5zM827.4 673.5l3.9 -5.3l6.5 6.2l-3.9 5.4zM790.1 659.5l3.9 -5.6l11.5 9.4l-3.9 5.4zM495.6 501.4l3.9 -5.6l17.7 6.9l-3.9 5.7zM739.4 638.6l4 -5.7l15.6 11.2l-4 5.6zM543.2 534.9l3.9 -5.7l19.7 8.7l-3.9 5.7zM701.1 620.7l3.9 -5.8l17.7 12l-3.9 5.7zM599.3 569.1l3.9 -6.1l20.3 10.6l-3.9 6.1zM619.6 579.7l3.9 -6.1l20.1 11.2l-3.9 6.1zM639.7 590.9l3.9 -6.1l19.7 11.9l-3.9 6.1z" fill="#4abc93" stroke="#4abc93"/>
<path d="M424.2 431.2l4 -5.1l2.8 -0.5l-4 5.2zM430.2 442.1l3.9 -5.3l8.2 1.6l-3.9 5.3zM849.1 677.5l3.9 -5.3l0.9 1.6l-3.9 5.3zM837.8 674.4l3.9 -5.4l4.6 5l-3.9 5.3zM471.1 478.8l4 -5.5l15.6 5.2l-4 5.6zM759 644.1l3.9 -5.6l14.3 10.8l-3.9 5.6zM527.9 521.2l3.9 -5.7l19.2 8l-3.9 5.7zM722.7 626.9l3.9 -5.7l16.8 11.7l-4 5.7zM562.9 543.6l3.9 -5.7l20.1 9.4l-3.9 5.7zM682.6 608.7l3.9 -5.8l18.5 12l-3.9 5.8z" fill="#4dbc92" stroke="#4dbc92"/>
<path d="M431.6 430.9l4 -5.2l6.4 0.7l-3.9 5.2zM853 672.2l3.9 -5.3l0.9 1.6l-3.9 5.3zM823.1 660.7l3.9 -5.4l8.2 7.5l-3.9 5.4zM475.1 473.3l3.9 -5.5l15.6 5.1l-3.9 5.6zM531.8 515.5l4 -5.6l19.2 7.9l-4 5.7zM726.6 621.2l3.9 -5.7l16.8 11.7l-3.9 5.7zM566.8 537.9l4 -5.7l20.1 9.3l-4 5.8zM686.5 602.9l3.9 -5.7l18.5 12l-3.9 5.7z" fill="#55bd8e" stroke="#55bd8e"/>
<path d="M419.3 436.9l4 -5.1l0.9 -0.6l-3.9 5.1zM419.1 441.1l4 -5.2l4.6 0.2l-4 5.1zM430.5 454.3l3.9 -5.3l9.9 2.2l-4 5.4zM436.4 461.9l3.9 -5.3l11.5 3l-4 5.4zM823.5 678.9l3.9 -5.4l6.5 6.3l-3.9 5.3z" fill="#45bb96" stroke="#45bb96"/>
<path d="M420.3 436.3l3.9 -5.1l2.8 -0.4l-3.9 5.1zM426.2 447.3l4 -5.2l8.2 1.6l-4 5.3zM845.2 682.8l3.9 -5.3l0.9 1.6l-3.9 5.2zM833.9 679.8l3.9 -5.4l4.6 4.9l-3.9 5.4zM467.2 484.3l3.9 -5.5l15.6 5.3l-3.9 5.5zM801.6 668.7l3.9 -5.4l9.9 8.3l-3.9 5.5zM478.8 495.2l4 -5.6l16.7 6.2l-3.9 5.6zM755 649.7l4 -5.6l14.3 10.8l-3.9 5.5zM523.9 526.9l4 -5.7l19.2 8l-3.9 5.7zM718.8 632.6l3.9 -5.7l16.7 11.7l-3.9 5.6zM559 549.7l3.9 -6.1l20.1 9.4l-3.9 6.1zM678.6 614.7l4 -6l18.5 12l-3.9 6z" fill="#46bb95" stroke="#46bb95"/>
<path d="M427.7 436.1l3.9 -5.2l6.5 0.7l-4 5.2zM846.3 674l3.9 -5.3l2.8 3.5l-3.9 5.3zM451.8 459.6l3.9 -5.4l12.9 3.8l-3.9 5.4zM460.8 468.9l3.9 -5.5l14.3 4.4l-3.9 5.5zM819.3 666.2l3.8 -5.5l8.2 7.5l-3.9 5.3zM777.2 649.3l3.9 -5.6l12.9 10.2l-3.9 5.6zM513.3 508.4l3.9 -5.7l18.6 7.2l-4 5.6zM583 553l3.9 -5.7l20.3 10l-4 5.7zM663.3 596.7l3.9 -5.8l19.3 12l-3.9 5.8z" fill="#4fbc91" stroke="#4fbc91"/>
<path d="M442.3 438.4l4 -5.3l9.8 2.1l-3.9 5.3zM448.2 445.9l4 -5.4l11.4 2.9l-3.9 5.4zM797.9 648.4l3.9 -5.5l11.5 9.4l-3.9 5.5zM503.4 490.2l4 -5.6l17.7 6.8l-3.9 5.7zM747.3 627.2l3.9 -5.6l15.6 11.2l-3.9 5.7zM551 523.5l4 -5.7l19.7 8.6l-3.9 5.8zM708.9 609.2l3.9 -5.7l17.7 12l-3.9 5.7zM607.2 557.3l3.9 -5.8l20.2 10.6l-3.9 5.8zM627.4 567.9l3.9 -5.8l20.1 11.2l-3.9 5.8zM647.5 579.1l3.9 -5.8l19.8 11.9l-4 5.7z" fill="#58bd8c" stroke="#58bd8c"/>
<path d="M415.4 442l3.9 -5.1l1 -0.6l-4 5.2zM426.5 459.5l4 -5.2l9.8 2.3l-3.9 5.3zM830 685.1l3.9 -5.3l4.6 4.9l-3.9 5.3zM797.7 674.2l3.9 -5.5l9.9 8.4l-3.9 5.4zM474.9 500.7l3.9 -5.5l16.8 6.2l-4 5.6zM751.1 655.4l3.9 -5.7l14.4 10.7l-3.9 5.6zM520 532.9l3.9 -6l19.3 8l-4 6.1zM714.9 638.5l3.9 -5.9l16.7 11.6l-3.9 5.9z" fill="#3fba99" stroke="#3fba99"/>
<path d="M416.3 441.5l4 -5.2l2.8 -0.4l-4 5.2zM422.3 452.6l3.9 -5.3l8.2 1.7l-3.9 5.3zM841.3 688.1l3.9 -5.3l0.9 1.5l-3.9 5.3zM452.9 479.8l3.9 -5.4l14.3 4.4l-3.9 5.5zM811.5 677.1l3.9 -5.5l8.1 7.3l-3.9 5.4zM463.2 489.8l4 -5.5l15.6 5.3l-4 5.6zM769.4 660.4l3.9 -5.5l12.9 10.1l-3.9 5.5zM505.4 519.7l3.9 -5.7l18.6 7.2l-4 5.7zM575.1 565.5l4 -6.4l20.2 10l-3.9 6.5zM655.5 609.2l3.9 -6.4l19.2 11.9l-3.9 6.4z" fill="#41ba98" stroke="#41ba98"/>
<path d="M423.7 441.2l4 -5.1l6.4 0.7l-3.9 5.3zM456.8 474.4l4 -5.5l14.3 4.4l-4 5.5zM815.4 671.6l3.9 -5.4l8.1 7.3l-3.9 5.4zM773.3 654.9l3.9 -5.6l12.9 10.2l-3.9 5.5zM509.3 514l4 -5.6l18.5 7.1l-3.9 5.7zM579.1 559.1l3.9 -6.1l20.2 10l-3.9 6.1zM659.4 602.8l3.9 -6.1l19.3 12l-4 6z" fill="#48bb94" stroke="#48bb94"/>
<path d="M411.4 447.1l4 -5.1l0.9 -0.5l-4 5.1zM411.2 451.4l3.9 -5.2l4.7 0.2l-4 5.2zM422.5 464.8l4 -5.3l9.9 2.4l-4 5.4zM793.8 679.7l3.9 -5.5l9.9 8.3l-3.9 5.4zM471 506.3l3.9 -5.6l16.7 6.3l-3.9 5.6zM747.2 661.2l3.9 -5.8l14.4 10.6l-3.9 5.8zM711 644.8l3.9 -6.3l16.7 11.6l-3.9 6.2zM571.2 572l3.9 -6.5l20.3 10.1l-3.9 6.4zM651.6 615.6l3.9 -6.4l19.2 11.9l-3.9 6.3z" fill="#39b99d" stroke="#39b99d"/>
<path d="M412.3 446.6l4 -5.1l2.8 -0.4l-4 5.1zM418.3 457.8l4 -5.2l8.2 1.7l-4 5.2zM837.4 693.4l3.9 -5.3l0.9 1.5l-3.8 5.3zM826.1 690.5l3.9 -5.4l4.6 4.9l-3.9 5.3zM459.3 495.3l3.9 -5.5l15.6 5.4l-3.9 5.5zM765.5 666l3.9 -5.6l12.9 10.1l-3.9 5.6zM501.5 525.6l3.9 -5.9l18.5 7.2l-3.9 6zM591.5 582l3.9 -6.4l20.3 10.6l-4 6.4zM611.7 592.6l4 -6.4l20 11.2l-3.9 6.4zM631.8 603.8l3.9 -6.4l19.8 11.8l-3.9 6.4z" fill="#3bb99c" stroke="#3bb99c"/>
<path d="M415.1 446.2l4 -5.1l4.6 0.1l-3.9 5.2zM432.4 467.3l4 -5.4l11.4 3.1l-3.9 5.4zM819.6 684.3l3.9 -5.4l6.5 6.2l-3.9 5.4zM782.3 670.5l3.9 -5.5l11.5 9.2l-3.9 5.5zM487.7 512.6l3.9 -5.6l17.7 7l-3.9 5.7zM555.1 556.1l3.9 -6.4l20.1 9.4l-4 6.4zM674.7 621.1l3.9 -6.4l18.6 12l-3.9 6.3z" fill="#3eba9a" stroke="#3eba9a"/>
<path d="M419.8 446.4l3.9 -5.2l6.5 0.9l-4 5.2zM838.5 684.7l3.9 -5.4l2.8 3.5l-3.9 5.3zM443.9 470.4l3.9 -5.4l13 3.9l-4 5.5zM786.2 665l3.9 -5.5l11.5 9.2l-3.9 5.5zM491.6 507l4 -5.6l17.7 7l-4 5.6zM735.5 644.2l3.9 -5.6l15.6 11.1l-3.9 5.7zM539.2 541l4 -6.1l19.7 8.7l-3.9 6.1zM697.2 626.7l3.9 -6l17.7 11.9l-3.9 5.9zM595.4 575.6l3.9 -6.5l20.3 10.6l-3.9 6.5zM615.7 586.2l3.9 -6.5l20.1 11.2l-4 6.5zM635.7 597.4l4 -6.5l19.7 11.9l-3.9 6.4z" fill="#43bb97" stroke="#43bb97"/>
<path d="M434.4 449l4 -5.3l9.8 2.2l-3.9 5.3zM805.5 663.3l3.9 -5.5l9.9 8.4l-3.9 5.4zM482.8 489.6l3.9 -5.5l16.7 6.1l-3.9 5.6z" fill="#4cbc93" stroke="#4cbc93"/>
<path d="M407.5 452.2l3.9 -5.1l0.9 -0.5l-3.9 5.1zM418.6 470.1l3.9 -5.3l9.9 2.5l-3.9 5.3zM822.2 695.8l3.9 -5.3l4.6 4.8l-3.9 5.3zM455.4 500.8l3.9 -5.5l15.6 5.4l-3.9 5.6zM497.5 531.9l4 -6.3l18.5 7.3l-3.9 6.3zM531.4 553.7l3.9 -6.4l19.8 8.8l-4 6.4zM689.4 639.3l3.9 -6.3l17.7 11.8l-3.9 6.2zM607.8 599.1l3.9 -6.5l20.1 11.2l-3.9 6.4z" fill="#34b8a0" stroke="#34b8a0"/>
<path d="M408.4 451.7l3.9 -5.1l2.8 -0.4l-3.9 5.2zM414.4 463l3.9 -5.2l8.2 1.7l-4 5.3zM833.5 698.7l3.9 -5.3l1 1.5l-3.9 5.3zM445 490.7l3.9 -5.4l14.3 4.5l-3.9 5.5zM803.7 687.9l3.9 -5.4l8.1 7.2l-3.9 5.4zM761.6 671.8l3.9 -5.8l12.9 10.1l-3.9 5.7zM727.7 656.3l3.9 -6.2l15.6 11.1l-3.9 6.1z" fill="#36b99f" stroke="#36b99f"/>
<path d="M415.8 451.6l4 -5.2l6.4 0.9l-3.9 5.3zM834.6 690l3.9 -5.3l2.8 3.4l-3.9 5.3zM439.9 475.8l4 -5.4l12.9 4l-3.9 5.4zM448.9 485.3l4 -5.5l14.3 4.5l-4 5.5zM807.6 682.5l3.9 -5.4l8.1 7.2l-3.9 5.4zM731.6 650.1l3.9 -5.9l15.6 11.2l-3.9 5.8zM535.3 547.3l3.9 -6.3l19.8 8.7l-3.9 6.4zM693.3 633l3.9 -6.3l17.7 11.8l-3.9 6.3z" fill="#3cba9b" stroke="#3cba9b"/>
<path d="M403.5 457.4l4 -5.2l0.9 -0.5l-4 5.1zM403.3 461.7l3.9 -5.1l4.7 0.2l-4 5.2zM414.6 475.4l4 -5.3l9.9 2.5l-4 5.3zM818.3 701.2l3.9 -5.4l4.6 4.8l-3.9 5.4zM451.4 506.5l4 -5.7l15.6 5.5l-4 5.8zM786 690.8l3.9 -5.6l9.9 8.2l-3.9 5.5zM757.7 677.8l3.9 -6l12.9 10l-3.9 5.8zM685.5 645.6l3.9 -6.3l17.7 11.7l-3.9 6.2z" fill="#2eb7a4" stroke="#2eb7a4"/>
<path d="M404.4 456.8l4 -5.1l2.8 -0.3l-4 5.2zM407.9 462l4 -5.2l6.4 1l-3.9 5.2zM826.8 700.6l3.9 -5.3l2.8 3.4l-3.9 5.3zM432 486.6l4 -5.4l12.9 4.1l-3.9 5.4zM774.5 681.8l3.9 -5.7l11.5 9.1l-3.9 5.6zM512.1 545.5l4 -6.3l19.2 8.1l-3.9 6.4z" fill="#31b8a2" stroke="#31b8a2"/>
<path d="M407.2 456.6l4 -5.2l4.6 0.2l-3.9 5.2zM424.5 477.9l4 -5.3l11.4 3.2l-3.9 5.4zM811.8 695.1l3.9 -5.4l6.5 6.1l-3.9 5.4zM789.9 685.2l3.9 -5.5l9.9 8.2l-3.9 5.5zM467 512.1l4 -5.8l16.7 6.3l-4 5.9zM743.3 667.3l3.9 -6.1l14.4 10.6l-3.9 6zM707.1 651l3.9 -6.2l16.7 11.5l-3.9 6.2zM567.3 578.4l3.9 -6.4l20.3 10l-3.9 6.5zM587.5 588.5l3.9 -6.5l20.2 10.6l-3.9 6.5zM627.9 610.2l3.9 -6.4l19.8 11.8l-3.9 6.4zM647.7 622l3.9 -6.4l19.2 11.8l-3.9 6.4z" fill="#33b8a1" stroke="#33b8a1"/>
<path d="M411.9 456.8l3.9 -5.2l6.5 1l-4 5.2zM428.5 472.6l3.9 -5.3l11.5 3.1l-4 5.4zM830.7 695.3l3.9 -5.3l2.8 3.4l-3.9 5.3zM436 481.2l3.9 -5.4l13 4l-4 5.5zM815.7 689.7l3.9 -5.4l6.5 6.2l-3.9 5.3zM778.4 676.1l3.9 -5.6l11.5 9.2l-3.9 5.5zM483.7 518.5l4 -5.9l17.7 7.1l-3.9 5.9zM516.1 539.2l3.9 -6.3l19.2 8.1l-3.9 6.3zM551.1 562.5l4 -6.4l20 9.4l-3.9 6.5zM670.8 627.4l3.9 -6.3l18.6 11.9l-3.9 6.3z" fill="#37b99e" stroke="#37b99e"/>
<path d="M399.5 462.5l4 -5.1l0.9 -0.6l-3.9 5.2zM399.3 466.9l4 -5.2l4.6 0.3l-3.9 5.2zM825.7 709.3l3.9 -5.3l1 1.5l-3.9 5.3zM814.4 706.6l3.9 -5.4l4.6 4.8l-3.9 5.3zM437.1 501.8l3.9 -5.6l14.4 4.6l-4 5.7zM795.9 698.9l3.9 -5.5l8.1 7.2l-3.8 5.4zM475.9 530.8l3.9 -6.2l17.7 7.3l-3.9 6.2zM508.2 551.8l3.9 -6.3l19.3 8.2l-4 6.3zM543.3 575.3l3.9 -6.4l20.1 9.5l-3.9 6.4zM663 640.1l3.9 -6.3l18.6 11.8l-4 6.3z" fill="#2ab6a6" stroke="#2ab6a6"/>
<path d="M400.5 462l3.9 -5.2l2.8 -0.2l-3.9 5.1zM406.5 473.5l3.9 -5.2l8.2 1.8l-4 5.3zM428.1 492l3.9 -5.4l13 4.1l-4 5.5zM770.6 687.6l3.9 -5.8l11.5 9l-3.9 5.8zM703.2 657.2l3.9 -6.2l16.7 11.5l-3.9 6.1zM563.4 584.8l3.9 -6.4l20.3 10.1l-4 6.4zM643.7 628.4l4 -6.4l19.2 11.8l-3.9 6.3z" fill="#2bb6a5" stroke="#2bb6a5"/>
<path d="M395.6 467.6l3.9 -5.1l1 -0.5l-4 5.1zM395.4 472l3.9 -5.1l4.7 0.3l-4 5.2zM406.7 486l4 -5.3l9.9 2.6l-4 5.3zM810.5 712l3.9 -5.4l4.6 4.7l-3.9 5.4zM433.1 507.7l4 -5.9l14.3 4.7l-3.9 6zM471.9 536.9l4 -6.1l17.7 7.3l-4 6.3zM504.3 558.1l3.9 -6.3l19.2 8.2l-3.9 6.4zM559.4 591.3l4 -6.5l20.2 10.1l-3.9 6.5zM639.8 634.8l3.9 -6.4l19.3 11.7l-3.9 6.4z" fill="#24b5aa" stroke="#24b5aa"/>
<path d="M396.5 467.1l4 -5.1l2.8 -0.3l-4 5.2zM400 472.4l4 -5.2l6.4 1.1l-3.9 5.2zM819 711.3l3.9 -5.3l2.8 3.3l-3.9 5.3zM424.1 497.5l4 -5.5l12.9 4.2l-3.9 5.6zM804.1 706l3.8 -5.4l6.5 6l-3.9 5.4zM459.1 524.2l4 -6.1l16.7 6.5l-3.9 6.2zM489.6 544.4l4 -6.3l18.5 7.4l-3.9 6.3zM523.5 566.4l3.9 -6.4l19.8 8.9l-3.9 6.4zM681.5 651.9l4 -6.3l17.7 11.6l-3.9 6.3z" fill="#27b5a8" stroke="#27b5a8"/>
<path d="M404 467.2l3.9 -5.2l6.5 1l-4 5.3zM420.6 483.3l3.9 -5.4l11.5 3.3l-4 5.4zM822.9 706l3.9 -5.4l2.8 3.4l-3.9 5.3zM807.9 700.6l3.9 -5.5l6.5 6.1l-3.9 5.4zM463.1 518.1l3.9 -6l16.7 6.4l-3.9 6.1zM493.6 538.1l3.9 -6.2l18.6 7.3l-4 6.3zM739.4 673.3l3.9 -6l14.4 10.5l-3.9 5.9zM527.4 560l4 -6.3l19.7 8.8l-3.9 6.4zM583.6 594.9l4 -6.4l20.2 10.6l-3.9 6.4zM603.9 605.5l3.9 -6.4l20.1 11.1l-3.9 6.5zM624 616.7l3.9 -6.5l19.8 11.8l-4 6.4z" fill="#2db7a5" stroke="#2db7a5"/>
<path d="M410.4 468.3l4 -5.3l8.1 1.8l-3.9 5.3zM829.6 704l3.9 -5.3l1 1.5l-3.9 5.3zM441 496.2l4 -5.5l14.3 4.6l-3.9 5.5zM799.8 693.4l3.9 -5.5l8.1 7.2l-3.9 5.5zM479.8 524.6l3.9 -6.1l17.8 7.1l-4 6.3zM723.8 662.5l3.9 -6.2l15.6 11l-3.9 6zM547.2 568.9l3.9 -6.4l20.1 9.5l-3.9 6.4zM666.9 633.8l3.9 -6.4l18.6 11.9l-3.9 6.3z" fill="#30b7a3" stroke="#30b7a3"/>
<path d="M391.6 472.7l4 -5.1l0.9 -0.5l-3.9 5.1zM391.4 477.2l4 -5.2l4.6 0.4l-3.9 5.2zM398.6 484l3.9 -5.2l8.2 1.9l-4 5.3zM817.9 719.9l3.9 -5.3l1 1.5l-3.9 5.3zM788.1 710.2l3.9 -5.6l8.2 7l-3.9 5.5zM455.2 530.2l3.9 -6l16.8 6.6l-4 6.1zM762.8 699.4l3.9 -5.9l11.5 8.9l-3.9 5.7zM485.7 550.6l3.9 -6.2l18.6 7.4l-3.9 6.3zM731.6 685.5l3.9 -6.1l14.4 10.3l-3.9 6zM519.6 572.8l3.9 -6.4l19.8 8.9l-4 6.4zM575.8 607.8l3.9 -6.4l20.3 10.6l-4 6.5zM596 618.5l4 -6.5l20.1 11.1l-3.9 6.5zM616.2 629.6l3.9 -6.5l19.7 11.7l-3.9 6.4z" fill="#21b4ac" stroke="#21b4ac"/>
<path d="M392.6 472.2l3.9 -5.1l2.8 -0.2l-3.9 5.1zM815.1 716.7l3.9 -5.4l2.8 3.3l-3.9 5.3zM420.2 503.3l3.9 -5.8l13 4.3l-4 5.9zM800.2 711.6l3.9 -5.6l6.4 6l-3.9 5.5zM677.6 658.2l3.9 -6.3l17.8 11.6l-3.9 6.2z" fill="#22b4ac" stroke="#22b4ac"/>
<path d="M387.7 477.8l3.9 -5.1l1 -0.5l-4 5.2zM394.6 489.3l4 -5.3l8.1 2l-3.9 5.4zM814 725.3l3.9 -5.4l1 1.5l-3.9 5.3zM416.2 509l4 -5.7l12.9 4.4l-3.9 5.8zM535.4 588.1l3.9 -6.4l20.1 9.6l-3.9 6.4zM673.7 664.5l3.9 -6.3l17.8 11.5l-4 6.3z" fill="#1db3af" stroke="#1db3af"/>
<path d="M388.6 477.4l4 -5.2l2.8 -0.2l-4 5.2zM392.1 482.8l4 -5.2l6.4 1.2l-3.9 5.2zM408.7 499.7l4 -5.6l11.4 3.4l-3.9 5.8zM811.2 722.1l3.9 -5.4l2.8 3.2l-3.9 5.4zM796.3 717.1l3.9 -5.5l6.4 5.9l-3.9 5.4zM439.6 524.4l3.9 -6l15.6 5.8l-3.9 6zM774.3 708.1l3.9 -5.7l9.9 7.8l-3.9 5.7zM468 543l3.9 -6.1l17.7 7.5l-3.9 6.2zM746 695.7l3.9 -6l12.9 9.7l-3.9 5.8zM500.3 564.5l4 -6.4l19.2 8.3l-3.9 6.4zM712.1 681l3.9 -6.2l15.6 10.7l-3.9 6.1zM655.2 652.9l3.9 -6.4l18.5 11.7l-3.9 6.3z" fill="#1eb3ae" stroke="#1eb3ae"/>
<path d="M396.1 477.6l3.9 -5.2l6.5 1.1l-4 5.3zM412.7 494.1l3.9 -5.5l11.5 3.4l-4 5.5zM443.5 518.4l4 -5.9l15.6 5.6l-4 6.1zM778.2 702.4l3.9 -5.8l9.9 8l-3.9 5.6zM749.9 689.7l3.9 -6l12.9 9.8l-3.9 5.9zM716 674.8l3.9 -6.2l15.6 10.8l-3.9 6.1zM539.3 581.7l4 -6.4l20.1 9.5l-4 6.5zM659.1 646.5l3.9 -6.4l18.5 11.8l-3.9 6.3z" fill="#23b5ab" stroke="#23b5ab"/>
<path d="M402.5 478.8l4 -5.3l8.1 1.9l-3.9 5.3zM821.8 714.6l3.9 -5.3l1 1.5l-3.9 5.3zM792 704.6l3.9 -5.7l8.2 7.1l-3.9 5.6zM766.7 693.5l3.9 -5.9l11.5 9l-3.9 5.8zM735.5 679.4l3.9 -6.1l14.4 10.4l-3.9 6zM699.3 663.5l3.9 -6.3l16.7 11.4l-3.9 6.2zM579.7 601.4l3.9 -6.5l20.3 10.6l-3.9 6.5zM600 612l3.9 -6.5l20.1 11.2l-3.9 6.4zM620.1 623.1l3.9 -6.4l19.7 11.7l-3.9 6.4z" fill="#26b5a9" stroke="#26b5a9"/>
<path d="M410.7 480.7l3.9 -5.3l9.9 2.5l-3.9 5.4zM416.6 488.6l4 -5.3l11.4 3.3l-3.9 5.4zM447.5 512.5l3.9 -6l15.6 5.6l-3.9 6zM782.1 696.6l3.9 -5.8l9.9 8.1l-3.9 5.7zM753.8 683.7l3.9 -5.9l12.9 9.8l-3.9 5.9zM719.9 668.6l3.9 -6.1l15.6 10.8l-3.9 6.1z" fill="#29b6a7" stroke="#29b6a7"/>
<path d="M383.7 483l4 -5.2l0.9 -0.4l-3.9 5.1zM383.5 487.5l4 -5.2l4.6 0.5l-3.9 5.2zM390.6 494.7l4 -5.4l8.2 2.1l-4 5.5zM810.1 730.6l3.9 -5.3l1 1.4l-3.9 5.3zM412.3 514.7l3.9 -5.7l13 4.5l-4 5.9zM708.2 687.1l3.9 -6.1l15.6 10.6l-3.9 6.1zM531.5 594.6l3.9 -6.5l20.1 9.6l-3.9 6.5zM651.2 659.3l4 -6.4l18.5 11.6l-3.9 6.4z" fill="#18b1b2" stroke="#18b1b2"/>
<path d="M384.7 482.5l3.9 -5.1l2.8 -0.2l-3.9 5.1zM404.8 505.3l3.9 -5.6l11.5 3.6l-4 5.7zM807.3 727.5l3.9 -5.4l2.8 3.2l-3.9 5.3zM792.4 722.7l3.9 -5.6l6.4 5.8l-3.9 5.5zM435.6 530.3l4 -5.9l15.6 5.8l-4 6.1zM770.4 713.9l3.9 -5.8l9.9 7.8l-3.9 5.7zM464 549.2l4 -6.2l17.7 7.6l-3.9 6.2zM742.1 701.7l3.9 -6l12.9 9.5l-3.9 5.9zM496.4 570.8l3.9 -6.3l19.3 8.3l-4 6.3zM551.6 604.2l3.9 -6.5l20.3 10.1l-4 6.5zM632 647.6l3.9 -6.4l19.3 11.7l-4 6.4z" fill="#19b2b1" stroke="#19b2b1"/>
<path d="M387.5 482.3l3.9 -5.1l4.7 0.4l-4 5.2zM398.8 496.9l4 -5.5l9.9 2.7l-4 5.6zM802.7 722.9l3.9 -5.4l4.6 4.6l-3.9 5.4zM784.2 715.9l3.9 -5.7l8.2 6.9l-3.9 5.6zM451.2 536.3l4 -6.1l16.7 6.7l-3.9 6.1zM758.9 705.2l3.9 -5.8l11.5 8.7l-3.9 5.8zM481.8 556.8l3.9 -6.2l18.6 7.5l-4 6.4zM727.7 691.6l3.9 -6.1l14.4 10.2l-3.9 6zM515.6 579.1l4 -6.3l19.7 8.9l-3.9 6.4z" fill="#1cb2b0" stroke="#1cb2b0"/>
<path d="M379.8 488.1l3.9 -5.1l1 -0.5l-4 5.1zM386.7 500.1l3.9 -5.4l8.2 2.2l-3.9 5.5zM400.8 510.9l4 -5.6l11.4 3.7l-3.9 5.7zM788.5 728.3l3.9 -5.6l6.4 5.7l-3.9 5.5zM766.5 719.6l3.9 -5.7l9.9 7.7l-3.9 5.6zM738.2 707.7l3.9 -6l12.9 9.4l-3.9 5.9zM567.9 620.8l3.9 -6.5l20.3 10.6l-3.9 6.5zM608.3 642.5l3.9 -6.5l19.8 11.6l-3.9 6.5zM628.1 654.1l3.9 -6.5l19.2 11.7l-3.9 6.4z" fill="#15b0b5" stroke="#15b0b5"/>
<path d="M380.7 487.6l4 -5.1l2.8 -0.2l-4 5.2zM384.2 493.3l4 -5.3l6.4 1.3l-4 5.4zM803.5 732.8l3.8 -5.3l2.8 3.1l-3.8 5.3zM421.3 525.2l3.9 -5.8l14.4 5l-4 5.9zM511.7 585.5l3.9 -6.4l19.8 9l-3.9 6.5zM687.5 682.3l3.9 -6.3l16.8 11.1l-3.9 6.2zM588.2 631.4l3.9 -6.5l20.1 11.1l-3.9 6.5z" fill="#16b1b4" stroke="#16b1b4"/>
<path d="M388.2 488l3.9 -5.2l6.5 1.2l-4 5.3zM425.2 519.4l4 -5.9l14.3 4.9l-3.9 6zM691.4 676l4 -6.3l16.7 11.3l-3.9 6.1zM571.9 614.3l4 -6.5l20.2 10.7l-3.9 6.4zM592.1 624.9l3.9 -6.4l20.2 11.1l-4 6.4zM612.2 636l4 -6.4l19.7 11.6l-3.9 6.4z" fill="#1ab2b1" stroke="#1ab2b1"/>
<path d="M402.8 491.4l3.9 -5.4l9.9 2.6l-3.9 5.5zM806.6 717.5l3.9 -5.5l4.6 4.7l-3.9 5.4zM429.2 513.5l3.9 -5.8l14.4 4.8l-4 5.9zM695.4 669.7l3.9 -6.2l16.7 11.3l-3.9 6.2zM555.5 597.7l3.9 -6.4l20.3 10.1l-3.9 6.4zM635.9 641.2l3.9 -6.4l19.3 11.7l-3.9 6.4z" fill="#1fb4ad" stroke="#1fb4ad"/>
<path d="M375.8 493.2l4 -5.1l0.9 -0.5l-3.9 5.2zM375.6 498l4 -5.3l4.6 0.6l-4 5.3zM382.7 505.5l4 -5.4l8.2 2.3l-4 5.5zM396.9 516.5l3.9 -5.6l11.5 3.8l-4 5.7zM802.4 741.3l3.9 -5.4l0.9 1.4l-3.9 5.3zM784.6 733.8l3.9 -5.5l6.4 5.6l-3.9 5.4zM762.6 725.4l3.9 -5.8l9.9 7.6l-3.9 5.7zM734.3 713.7l3.9 -6l12.9 9.3l-3.9 5.9zM683.6 688.6l3.9 -6.3l16.8 11l-3.9 6.3zM564 627.3l3.9 -6.5l20.3 10.6l-3.9 6.6zM584.3 638l3.9 -6.6l20.1 11.1l-3.9 6.6zM604.4 649.1l3.9 -6.6l19.8 11.6l-3.9 6.5z" fill="#11afb8" stroke="#11afb8"/>
<path d="M376.8 492.8l3.9 -5.2l2.8 -0.1l-3.9 5.2zM390.9 507.9l4 -5.5l9.9 2.9l-4 5.6zM794.9 733.9l3.9 -5.5l4.7 4.4l-3.9 5.4zM776.4 727.2l3.9 -5.6l8.2 6.7l-3.9 5.5zM751.1 717l3.9 -5.9l11.5 8.5l-3.9 5.8zM527.5 601l4 -6.4l20.1 9.6l-4 6.5zM665.9 677.3l3.9 -6.4l17.7 11.4l-3.9 6.3z" fill="#13b0b6" stroke="#13b0b6"/>
<path d="M379.6 492.7l3.9 -5.2l4.7 0.5l-4 5.3zM806.3 735.9l3.8 -5.3l1 1.4l-3.9 5.3zM408.3 520.4l4 -5.7l12.9 4.7l-3.9 5.8zM431.7 536.3l3.9 -6l15.6 6l-3.9 6zM460.1 555.4l3.9 -6.2l17.8 7.6l-4 6.3zM492.5 577.1l3.9 -6.3l19.2 8.3l-3.9 6.4zM704.3 693.3l3.9 -6.2l15.6 10.6l-3.9 6.1zM547.6 610.7l4 -6.5l20.2 10.1l-3.9 6.5zM647.3 665.7l3.9 -6.4l18.6 11.6l-3.9 6.4z" fill="#14b0b5" stroke="#14b0b5"/>
<path d="M371.9 498.3l3.9 -5.1l1 -0.4l-4 5.1zM795.7 743.6l3.9 -5.4l2.8 3.1l-3.9 5.3zM413.4 536.9l3.9 -5.9l14.4 5.3l-4 5.9zM780.7 739.4l3.9 -5.6l6.4 5.5l-3.9 5.5zM439.4 554.4l4 -6l16.7 7l-3.9 6.1zM470 575.6l3.9 -6.3l18.6 7.8l-4 6.3zM716 710l3.9 -6.2l14.4 9.9l-3.9 6zM662 683.6l3.9 -6.3l17.7 11.3l-3.9 6.3z" fill="#0eaeba" stroke="#0eaeba"/>
<path d="M372.8 497.9l4 -5.1l2.8 -0.1l-4 5.3zM376.3 503.9l3.9 -5.3l6.5 1.5l-4 5.4zM387 513.4l3.9 -5.5l9.9 3l-3.9 5.6zM772.5 732.9l3.9 -5.7l8.2 6.6l-3.9 5.6zM747.2 722.9l3.9 -5.9l11.5 8.4l-3.9 5.8zM523.6 607.5l3.9 -6.5l20.1 9.7l-3.9 6.5zM643.4 672.2l3.9 -6.5l18.6 11.6l-3.9 6.3z" fill="#0faeb9" stroke="#0faeb9"/>
<path d="M380.2 498.6l4 -5.3l6.4 1.4l-3.9 5.4zM799.6 738.2l3.9 -5.4l2.8 3.1l-3.9 5.4zM417.3 531l4 -5.8l14.3 5.1l-3.9 6zM443.4 548.4l3.9 -6.1l16.7 6.9l-3.9 6.2zM473.9 569.3l3.9 -6.2l18.6 7.7l-3.9 6.3zM719.9 703.8l3.9 -6.1l14.4 10l-3.9 6zM507.8 591.9l3.9 -6.4l19.8 9.1l-4 6.4z" fill="#12afb7" stroke="#12afb7"/>
<path d="M394.9 502.4l3.9 -5.5l9.9 2.8l-3.9 5.6zM798.8 728.4l3.9 -5.5l4.6 4.6l-3.8 5.3zM780.3 721.6l3.9 -5.7l8.2 6.8l-3.9 5.6zM447.3 542.3l3.9 -6l16.8 6.7l-4 6.2zM755 711.1l3.9 -5.9l11.5 8.7l-3.9 5.7zM477.8 563.1l4 -6.3l18.5 7.7l-3.9 6.3zM723.8 697.7l3.9 -6.1l14.4 10.1l-3.9 6zM669.8 670.9l3.9 -6.4l17.7 11.5l-3.9 6.3z" fill="#17b1b3" stroke="#17b1b3"/>
<path d="M367.9 503.4l4 -5.1l0.9 -0.4l-4 5.2zM372.3 509.2l4 -5.3l6.4 1.6l-3.9 5.4zM383 518.9l4 -5.5l9.9 3.1l-4 5.7zM791.8 749.1l3.9 -5.5l2.8 3l-3.9 5.4zM768.6 738.6l3.9 -5.7l8.2 6.5l-3.9 5.6zM743.3 728.9l3.9 -6l11.5 8.3l-3.9 5.9zM484.6 589.8l3.9 -6.4l19.3 8.5l-4 6.4zM696.5 705.9l3.9 -6.3l15.6 10.4l-3.9 6.1zM539.8 623.7l3.9 -6.5l20.3 10.1l-3.9 6.6zM620.2 667.1l4 -6.5l19.2 11.6l-3.9 6.4zM639.5 678.6l3.9 -6.4l18.6 11.4l-3.9 6.5z" fill="#0badbc" stroke="#0badbc"/>
<path d="M368.8 503.1l4 -5.2l2.8 0.1l-4 5.2zM400.4 531.9l4 -5.7l12.9 4.8l-3.9 5.9zM787.1 744.8l3.9 -5.5l4.7 4.3l-3.9 5.5zM423.8 548.2l3.9 -6l15.7 6.2l-4 6zM452.2 567.7l4 -6.2l17.7 7.8l-3.9 6.3zM730.4 719.7l3.9 -6l12.9 9.2l-3.9 6zM560.1 633.9l3.9 -6.6l20.3 10.7l-3.9 6.5zM580.4 644.5l3.9 -6.5l20.1 11.1l-3.9 6.5zM600.5 655.6l3.9 -6.5l19.8 11.5l-4 6.5z" fill="#0cadbb" stroke="#0cadbb"/>
<path d="M371.6 503.2l4 -5.2l4.6 0.6l-3.9 5.3zM378.8 510.9l3.9 -5.4l8.2 2.4l-3.9 5.5zM392.9 522.2l4 -5.7l11.4 3.9l-3.9 5.8zM798.5 746.6l3.9 -5.3l0.9 1.3l-3.9 5.3zM758.7 731.2l3.9 -5.8l9.9 7.5l-3.9 5.7zM503.8 598.3l4 -6.4l19.7 9.1l-3.9 6.5zM679.7 694.9l3.9 -6.3l16.8 11l-3.9 6.3z" fill="#0dadbb" stroke="#0dadbb"/>
<path d="M364 508.5l3.9 -5.1l0.9 -0.3l-3.9 5.1zM787.9 754.5l3.9 -5.4l2.8 2.9l-3.9 5.4zM764.7 744.4l3.9 -5.8l8.2 6.4l-3.9 5.7zM448.3 573.9l3.9 -6.2l17.8 7.9l-4 6.3zM739.4 734.9l3.9 -6l11.5 8.2l-3.9 5.9zM480.7 596.1l3.9 -6.3l19.2 8.5l-3.9 6.5zM692.6 712.1l3.9 -6.2l15.6 10.2l-3.9 6.2zM556.1 640.4l3.9 -6.5l20.3 10.6l-4 6.6zM596.6 662.1l3.9 -6.5l19.7 11.5l-3.9 6.5zM616.3 673.6l3.9 -6.5l19.3 11.5l-3.9 6.5z" fill="#09abbf" stroke="#09abbf"/>
<path d="M364.9 508.2l3.9 -5.1l2.8 0.1l-3.9 5.2zM368.4 514.5l3.9 -5.3l6.5 1.7l-4 5.4zM379.1 524.4l3.9 -5.5l9.9 3.3l-3.9 5.6zM396.5 537.6l3.9 -5.7l13 5l-4 5.8zM783.2 750.4l3.9 -5.6l4.7 4.3l-3.9 5.4zM419.9 554.1l3.9 -5.9l15.6 6.2l-3.9 6.1zM726.4 725.8l4 -6.1l12.9 9.2l-3.9 6zM675.8 701.3l3.9 -6.4l16.8 11l-3.9 6.2zM576.4 651.1l4 -6.6l20.1 11.1l-3.9 6.5z" fill="#09acbe" stroke="#09acbe"/>
<path d="M367.7 508.4l3.9 -5.2l4.7 0.7l-4 5.3zM389 527.8l3.9 -5.6l11.5 4l-4 5.7zM794.6 752l3.9 -5.4l0.9 1.3l-3.9 5.3zM409.4 542.7l4 -5.8l14.3 5.3l-3.9 6zM776.8 745l3.9 -5.6l6.4 5.4l-3.9 5.6zM435.5 560.5l3.9 -6.1l16.8 7.1l-4 6.2zM712.1 716.1l3.9 -6.1l14.4 9.7l-4 6.1zM519.7 613.9l3.9 -6.4l20.1 9.7l-3.9 6.5zM658.1 690.1l3.9 -6.5l17.7 11.3l-3.9 6.4z" fill="#0bacbd" stroke="#0bacbd"/>
<path d="M360 513.7l4 -5.2l0.9 -0.3l-4 5.2zM364.4 519.8l4 -5.3l6.4 1.8l-3.9 5.3zM375.1 529.9l4 -5.5l9.9 3.4l-4 5.6zM392.5 543.3l4 -5.7l12.9 5.1l-3.9 5.9zM779.3 755.9l3.9 -5.5l4.7 4.1l-3.9 5.5zM415.9 560.1l4 -6l15.6 6.4l-4 6.1zM722.5 731.9l3.9 -6.1l13 9.1l-3.9 6zM496 611.2l3.9 -6.4l19.8 9.1l-4 6.5zM671.9 707.6l3.9 -6.3l16.8 10.8l-3.9 6.3z" fill="#07aac1" stroke="#07aac1"/>
<path d="M360.9 513.4l4 -5.2l2.8 0.2l-4 5.2zM431.5 566.6l4 -6.1l16.7 7.2l-3.9 6.2zM750.9 743l3.9 -5.9l9.9 7.3l-3.9 5.7zM462.1 588.2l3.9 -6.3l18.6 7.9l-3.9 6.3zM708.2 722.3l3.9 -6.2l14.3 9.7l-3.9 6.1zM515.7 620.4l4 -6.5l20.1 9.8l-3.9 6.5zM654.2 696.5l3.9 -6.4l17.7 11.2l-3.9 6.3z" fill="#08aac0" stroke="#08aac0"/>
<path d="M363.7 513.6l4 -5.2l4.6 0.8l-3.9 5.3zM370.9 521.6l3.9 -5.3l8.2 2.6l-3.9 5.5zM385 533.4l4 -5.6l11.4 4.1l-3.9 5.7zM790.7 757.4l3.9 -5.4l0.9 1.2l-3.9 5.4zM405.5 548.6l3.9 -5.9l14.4 5.5l-3.9 5.9zM772.9 750.7l3.9 -5.7l6.4 5.4l-3.9 5.5zM535.9 630.2l3.9 -6.5l20.3 10.2l-3.9 6.5zM635.6 685.1l3.9 -6.5l18.6 11.5l-3.9 6.4z" fill="#08abc0" stroke="#08abc0"/>
<path d="M374.8 516.3l4 -5.4l8.2 2.5l-4 5.5zM754.8 737.1l3.9 -5.9l9.9 7.4l-3.9 5.8zM466 581.9l4 -6.3l18.5 7.8l-3.9 6.4zM499.9 604.8l3.9 -6.5l19.8 9.2l-3.9 6.4z" fill="#0aacbe" stroke="#0aacbe"/>
<path d="M404.4 526.2l3.9 -5.8l13 4.8l-4 5.8zM791 739.3l3.9 -5.4l4.7 4.3l-3.9 5.4zM427.7 542.2l4 -5.9l15.6 6l-3.9 6.1zM456.2 561.5l3.9 -6.1l17.7 7.7l-3.9 6.2zM488.5 583.4l4 -6.3l19.2 8.4l-3.9 6.4zM700.4 699.6l3.9 -6.3l15.6 10.5l-3.9 6.2zM543.7 617.2l3.9 -6.5l20.3 10.1l-3.9 6.5zM624.2 660.6l3.9 -6.5l19.2 11.6l-3.9 6.5z" fill="#10afb9" stroke="#10afb9"/>
<path d="M356 518.8l4 -5.1l0.9 -0.3l-3.9 5.1zM355.8 524l4 -5.2l4.6 1l-3.9 5.3zM360.5 525.1l3.9 -5.3l6.5 1.8l-4 5.4zM371.2 535.4l3.9 -5.5l9.9 3.5l-3.9 5.6zM388.6 549.1l3.9 -5.8l13 5.3l-3.9 5.8zM780.1 765.5l3.9 -5.5l2.8 2.8l-3.9 5.5zM782.9 768.3l3.9 -5.5l0.9 1.2l-3.9 5.5zM412 566.1l3.9 -6l15.6 6.5l-3.9 6.1zM756.9 756l3.9 -5.9l8.2 6.3l-3.9 5.7zM458.1 594.4l4 -6.2l18.6 7.9l-4 6.4zM718.6 738.1l3.9 -6.2l13 9l-3.9 6zM492 617.6l4 -6.4l19.7 9.2l-3.9 6.5zM650.2 702.9l4 -6.4l17.7 11.1l-3.9 6.4zM668 714l3.9 -6.4l16.8 10.8l-4 6.4z" fill="#06a8c4" stroke="#06a8c4"/>
<path d="M357 518.5l3.9 -5.1l2.8 0.2l-3.9 5.2zM401.6 554.4l3.9 -5.8l14.4 5.5l-4 6zM775.4 761.5l3.9 -5.6l4.7 4.1l-3.9 5.5zM427.6 572.7l3.9 -6.1l16.8 7.3l-4 6.1zM747 748.9l3.9 -5.9l9.9 7.1l-3.9 5.9zM704.3 728.6l3.9 -6.3l14.3 9.6l-3.9 6.2zM511.8 626.9l3.9 -6.5l20.2 9.8l-4 6.5zM631.7 691.6l3.9 -6.5l18.6 11.4l-4 6.4z" fill="#07a9c3" stroke="#07a9c3"/>
<path d="M359.8 518.8l3.9 -5.2l4.7 0.9l-4 5.3zM366.9 527l4 -5.4l8.2 2.8l-4 5.5zM381.1 539l3.9 -5.6l11.5 4.2l-4 5.7zM784 760l3.9 -5.5l2.8 2.9l-3.9 5.4zM786.8 762.8l3.9 -5.4l0.9 1.2l-3.9 5.4zM760.8 750.1l3.9 -5.7l8.2 6.3l-3.9 5.7zM769 756.4l3.9 -5.7l6.4 5.2l-3.9 5.6zM444.3 580l4 -6.1l17.7 8l-3.9 6.3zM735.5 740.9l3.9 -6l11.5 8.1l-3.9 5.9zM476.7 602.5l4 -6.4l19.2 8.7l-3.9 6.4zM688.7 718.4l3.9 -6.3l15.6 10.2l-3.9 6.3zM531.9 636.7l4 -6.5l20.3 10.2l-4 6.6zM552.2 647l4 -6.6l20.2 10.7l-3.9 6.5zM572.5 657.6l3.9 -6.5l20.2 11l-4 6.6zM592.6 668.7l4 -6.6l19.7 11.5l-3.9 6.6zM612.4 680.2l3.9 -6.6l19.3 11.5l-3.9 6.5z" fill="#07a9c2" stroke="#07a9c2"/>
<path d="M352.1 523.9l3.9 -5.1l1 -0.3l-4 5.2zM356.5 530.4l4 -5.3l6.4 1.9l-3.9 5.4zM397.6 560.3l4 -5.9l14.3 5.7l-3.9 6zM771.5 767.2l3.9 -5.7l4.7 4l-3.9 5.6zM423.6 578.8l4 -6.1l16.7 7.3l-3.9 6.2zM743.1 754.8l3.9 -5.9l9.9 7.1l-3.9 5.8zM700.4 734.8l3.9 -6.2l14.3 9.5l-3.9 6.1zM528 643.2l3.9 -6.5l20.3 10.3l-3.9 6.5zM627.8 698.1l3.9 -6.5l18.5 11.3l-3.9 6.5z" fill="#06a7c6" stroke="#06a7c6"/>
<path d="M353 523.7l4 -5.2l2.8 0.3l-4 5.2zM363 532.4l3.9 -5.4l8.2 2.9l-3.9 5.5zM377.1 544.6l4 -5.6l11.4 4.3l-3.9 5.8zM765.1 762.1l3.9 -5.7l6.4 5.1l-3.9 5.7zM440.4 586.2l3.9 -6.2l17.8 8.2l-4 6.2zM731.6 746.9l3.9 -6l11.5 8l-3.9 5.9zM472.8 608.9l3.9 -6.4l19.3 8.7l-4 6.4zM684.7 724.8l4 -6.4l15.6 10.2l-3.9 6.2zM548.3 653.5l3.9 -6.5l20.3 10.6l-3.9 6.6zM568.6 664.2l3.9 -6.6l20.1 11.1l-3.9 6.5zM588.7 675.2l3.9 -6.5l19.8 11.5l-3.9 6.5zM608.5 686.7l3.9 -6.5l19.3 11.4l-3.9 6.5z" fill="#06a7c5" stroke="#06a7c5"/>
<path d="M348.1 529l4 -5.1l0.9 -0.2l-3.9 5.1zM352.6 535.7l3.9 -5.3l6.5 2l-4 5.4zM393.7 566.1l3.9 -5.8l14.4 5.8l-4 6zM767.6 772.8l3.9 -5.6l4.7 3.9l-3.9 5.6zM419.7 584.8l3.9 -6l16.8 7.4l-3.9 6.2zM739.2 760.7l3.9 -5.9l9.9 7l-3.9 5.8zM468.8 615.2l4 -6.3l19.2 8.7l-3.9 6.5zM680.8 731.1l3.9 -6.3l15.7 10l-3.9 6.2zM544.4 660.1l3.9 -6.6l20.3 10.7l-3.9 6.5zM564.7 670.7l3.9 -6.5l20.1 11l-3.9 6.6zM584.8 681.8l3.9 -6.6l19.8 11.5l-3.9 6.5zM604.6 693.2l3.9 -6.5l19.3 11.4l-4 6.5z" fill="#06a5c8" stroke="#06a5c8"/>
<path d="M349.1 528.8l3.9 -5.1l2.8 0.3l-3.9 5.2zM351.9 529.2l3.9 -5.2l4.7 1.1l-4 5.3zM359 537.8l4 -5.4l8.2 3l-4 5.5zM373.2 550.2l3.9 -5.6l11.5 4.5l-4 5.7zM779 773.8l3.9 -5.5l0.9 1.2l-3.9 5.4zM408 572.1l4 -6l15.6 6.6l-4 6.1zM753 761.8l3.9 -5.8l8.2 6.1l-3.9 5.7zM761.2 767.8l3.9 -5.7l6.4 5.1l-3.9 5.6zM436.5 592.4l3.9 -6.2l17.7 8.2l-3.9 6.3zM714.7 744.2l3.9 -6.1l13 8.8l-3.9 6zM727.7 752.9l3.9 -6l11.5 7.9l-3.9 5.9zM488.1 624.1l3.9 -6.5l19.8 9.3l-3.9 6.5zM664.1 720.4l3.9 -6.4l16.7 10.8l-3.9 6.3z" fill="#06a6c7" stroke="#06a6c7"/>
<path d="M344.2 534.1l3.9 -5.1l1 -0.2l-4 5.2zM348.6 541l4 -5.3l6.4 2.1l-3.9 5.4zM369.2 555.9l4 -5.7l11.4 4.6l-3.9 5.8zM757.3 773.5l3.9 -5.7l6.4 5l-3.9 5.7zM432.5 598.6l4 -6.2l17.7 8.3l-3.9 6.3zM723.8 759l3.9 -6.1l11.5 7.8l-3.9 6zM484.2 630.5l3.9 -6.4l19.8 9.3l-3.9 6.5zM660.2 726.8l3.9 -6.4l16.7 10.7l-3.9 6.3z" fill="#06a4ca" stroke="#06a4ca"/>
<path d="M345.1 534l4 -5.2l2.8 0.4l-4 5.2zM355.1 543.2l3.9 -5.4l8.2 3.1l-3.9 5.5zM775.1 779.3l3.9 -5.5l0.9 1.1l-3.9 5.5zM404.1 578l3.9 -5.9l15.6 6.7l-3.9 6zM749.1 767.6l3.9 -5.8l8.2 6l-3.9 5.7zM450.3 607l3.9 -6.3l18.6 8.2l-4 6.3zM710.8 750.3l3.9 -6.1l13 8.7l-3.9 6.1zM504 639.9l3.9 -6.5l20.1 9.8l-3.9 6.6zM642.4 715.8l3.9 -6.4l17.8 11l-3.9 6.4z" fill="#06a4c9" stroke="#06a4c9"/>
<path d="M347.9 534.4l4 -5.2l4.6 1.2l-3.9 5.3zM363.3 546.4l3.9 -5.5l9.9 3.7l-3.9 5.6zM380.7 560.6l3.9 -5.8l13 5.5l-3.9 5.8zM772.3 776.7l3.9 -5.6l2.8 2.7l-3.9 5.5zM696.5 741l3.9 -6.2l14.3 9.4l-3.9 6.1zM524.1 649.8l3.9 -6.6l20.3 10.3l-3.9 6.6zM623.8 704.6l4 -6.5l18.5 11.3l-3.9 6.4z" fill="#06a5c9" stroke="#06a5c9"/>
<path d="M367.2 540.9l4 -5.5l9.9 3.6l-4 5.6zM384.6 554.8l4 -5.7l13 5.3l-4 5.9zM776.2 771.1l3.9 -5.6l2.8 2.8l-3.9 5.5zM454.2 600.7l3.9 -6.3l18.6 8.1l-3.9 6.4zM507.9 633.4l3.9 -6.5l20.1 9.8l-3.9 6.5zM646.3 709.4l3.9 -6.5l17.8 11.1l-3.9 6.4z" fill="#06a6c6" stroke="#06a6c6"/>
<path d="M340.2 539.2l4 -5.1l0.9 -0.1l-3.9 5.1zM341.2 539.1l3.9 -5.1l2.8 0.4l-3.9 5.2zM351.1 548.6l4 -5.4l8.2 3.2l-4 5.5zM376.7 566.3l4 -5.7l13 5.5l-4 5.9zM771.2 784.8l3.9 -5.5l0.9 1.1l-3.9 5.5zM400.1 584l4 -6l15.6 6.8l-3.9 6.1zM745.2 773.5l3.9 -5.9l8.2 5.9l-3.9 5.8zM446.3 613.3l4 -6.3l18.5 8.2l-3.9 6.4zM706.9 756.5l3.9 -6.2l13 8.7l-3.9 6zM500 646.4l4 -6.5l20.1 9.9l-3.9 6.5zM638.5 722.3l3.9 -6.5l17.8 11l-3.9 6.4z" fill="#06a2cb" stroke="#06a2cb"/>
<path d="M344 539.6l3.9 -5.2l4.7 1.3l-4 5.3zM359.3 551.9l4 -5.5l9.9 3.8l-4 5.7zM768.4 782.2l3.9 -5.5l2.8 2.6l-3.9 5.5zM415.8 590.9l3.9 -6.1l16.8 7.6l-4 6.2zM692.6 747.3l3.9 -6.3l14.3 9.3l-3.9 6.2zM520.2 656.3l3.9 -6.5l20.3 10.3l-4 6.5zM540.5 666.6l4 -6.5l20.3 10.6l-4 6.6zM600.7 699.8l3.9 -6.6l19.2 11.4l-3.9 6.5zM619.9 711.1l3.9 -6.5l18.6 11.2l-3.9 6.5z" fill="#06a3cb" stroke="#06a3cb"/>
<path d="M336.3 544.4l3.9 -5.2l1 -0.1l-4 5.2zM337.2 544.3l4 -5.2l2.8 0.5l-4 5.3zM347.2 554l3.9 -5.4l8.2 3.3l-3.9 5.5zM372.8 572l3.9 -5.7l13 5.7l-3.9 5.9zM764.5 787.8l3.9 -5.6l2.8 2.6l-3.9 5.5zM767.3 790.3l3.9 -5.5l0.9 1.1l-3.9 5.5zM411.8 597l4 -6.1l16.7 7.7l-3.9 6.2zM731.4 772.6l3.9 -5.9l9.9 6.8l-3.9 5.8zM741.3 779.3l3.9 -5.8l8.2 5.8l-3.9 5.8zM461 628l3.9 -6.4l19.3 8.9l-4 6.4zM688.7 753.5l3.9 -6.2l14.3 9.2l-3.9 6.1zM516.2 662.8l4 -6.5l20.2 10.3l-3.9 6.6zM536.5 673.2l3.9 -6.6l20.3 10.7l-3.9 6.6zM556.8 683.9l3.9 -6.6l20.2 11l-3.9 6.6zM577 694.9l3.9 -6.6l19.8 11.5l-4 6.5zM596.7 706.3l4 -6.5l19.2 11.3l-3.9 6.5zM616 717.6l3.9 -6.5l18.6 11.2l-3.9 6.4z" fill="#06a0cd" stroke="#06a0cd"/>
<path d="M340 544.9l4 -5.3l4.6 1.4l-3.9 5.3zM355.4 557.4l3.9 -5.5l9.9 4l-3.9 5.6zM385.8 577.9l3.9 -5.9l14.4 6l-4 6zM759.8 784.1l3.9 -5.6l4.7 3.7l-3.9 5.6zM428.6 604.8l3.9 -6.2l17.8 8.4l-4 6.3zM480.2 636.9l4 -6.4l19.8 9.4l-4 6.5zM673 743.7l3.9 -6.3l15.7 9.9l-3.9 6.2z" fill="#06a1cc" stroke="#06a1cc"/>
<path d="M344.7 546.3l3.9 -5.3l6.5 2.2l-4 5.4zM365.3 561.5l3.9 -5.6l11.5 4.7l-4 5.7zM753.4 779.3l3.9 -5.8l6.4 5l-3.9 5.6zM719.9 765l3.9 -6l11.5 7.7l-3.9 5.9zM656.3 733.2l3.9 -6.4l16.7 10.6l-3.9 6.3z" fill="#06a2cc" stroke="#06a2cc"/>
<path d="M332.3 549.5l4 -5.1l0.9 -0.1l-3.9 5.1zM333.3 549.4l3.9 -5.1l2.8 0.6l-3.9 5.2zM343.2 559.4l4 -5.4l8.2 3.4l-4 5.5zM760.6 793.4l3.9 -5.6l2.8 2.5l-3.9 5.6zM763.4 795.9l3.9 -5.6l0.9 1.1l-3.9 5.5zM407.9 603.1l3.9 -6.1l16.8 7.8l-4 6.2zM727.5 778.6l3.9 -6l9.9 6.7l-3.9 5.9zM669.1 750.1l3.9 -6.4l15.7 9.8l-3.9 6.3z" fill="#069ece" stroke="#069ece"/>
<path d="M336.1 550.1l3.9 -5.2l4.7 1.4l-4 5.3zM340.7 551.6l4 -5.3l6.4 2.3l-3.9 5.4zM351.4 562.9l4 -5.5l9.9 4.1l-4 5.6zM361.3 567.1l4 -5.6l11.4 4.8l-3.9 5.7zM381.8 583.7l4 -5.8l14.3 6.1l-3.9 6zM396.2 590l3.9 -6l15.7 6.9l-4 6.1zM749.5 785.1l3.9 -5.8l6.4 4.8l-3.9 5.7zM755.9 789.8l3.9 -5.7l4.7 3.7l-3.9 5.6zM424.6 611l4 -6.2l17.7 8.5l-3.9 6.3zM442.4 619.6l3.9 -6.3l18.6 8.3l-3.9 6.4zM703 762.6l3.9 -6.1l13 8.5l-3.9 6.1zM716 771.1l3.9 -6.1l11.5 7.6l-3.9 6zM476.3 643.4l3.9 -6.5l19.8 9.5l-3.9 6.4zM496.1 652.8l3.9 -6.4l20.2 9.9l-4 6.5zM634.6 728.7l3.9 -6.4l17.8 10.9l-3.9 6.4zM652.4 739.6l3.9 -6.4l16.7 10.5l-3.9 6.4z" fill="#069fce" stroke="#069fce"/>
<path d="M389.7 572l4 -5.9l14.3 6l-3.9 5.9zM763.7 778.5l3.9 -5.7l4.7 3.9l-3.9 5.5zM735.3 766.7l3.9 -6l9.9 6.9l-3.9 5.9zM464.9 621.6l3.9 -6.4l19.3 8.9l-3.9 6.4zM676.9 737.4l3.9 -6.3l15.7 9.9l-3.9 6.3zM560.7 677.3l4 -6.6l20.1 11.1l-3.9 6.5zM580.9 688.3l3.9 -6.5l19.8 11.4l-3.9 6.6z" fill="#06a3ca" stroke="#06a3ca"/>
<path d="M328.4 554.6l3.9 -5.1l1 -0.1l-4 5.2zM329.3 554.6l4 -5.2l2.8 0.7l-4 5.2zM339.3 564.8l3.9 -5.4l8.2 3.5l-3.9 5.5zM347.5 568.4l3.9 -5.5l9.9 4.2l-3.9 5.6zM377.9 589.6l3.9 -5.9l14.4 6.3l-4 6zM752 795.5l3.9 -5.7l4.7 3.6l-3.9 5.6zM756.7 799l3.9 -5.6l2.8 2.5l-3.9 5.5zM759.5 801.4l3.9 -5.5l0.9 1l-3.9 5.5zM420.7 617.2l3.9 -6.2l17.8 8.6l-3.9 6.3zM712.1 777.1l3.9 -6l11.5 7.5l-3.9 5.9zM723.6 784.5l3.9 -5.9l9.9 6.6l-3.9 5.8zM472.4 649.8l3.9 -6.4l19.8 9.4l-3.9 6.5zM492.2 659.3l3.9 -6.5l20.1 10l-3.9 6.5zM630.7 735.2l3.9 -6.5l17.8 10.9l-4 6.4zM648.4 746l4 -6.4l16.7 10.5l-3.9 6.3zM665.2 756.4l3.9 -6.3l15.7 9.7l-4 6.2z" fill="#079cd0" stroke="#079cd0"/>
<path d="M332.1 555.3l4 -5.2l4.6 1.5l-3.9 5.3zM336.8 556.9l3.9 -5.3l6.5 2.4l-4 5.4zM357.4 572.7l3.9 -5.6l11.5 4.9l-4 5.8zM368.8 577.8l4 -5.8l13 5.9l-4 5.8zM392.2 596l4 -6l15.6 7l-3.9 6.1zM737.4 785.2l3.9 -5.9l8.2 5.8l-3.9 5.7zM745.6 790.8l3.9 -5.7l6.4 4.7l-3.9 5.7zM438.5 625.9l3.9 -6.3l18.6 8.4l-4 6.4zM457 634.4l4 -6.4l19.2 8.9l-3.9 6.5zM684.8 759.8l3.9 -6.3l14.3 9.1l-3.9 6.2zM699.1 768.8l3.9 -6.2l13 8.5l-3.9 6zM512.3 669.3l3.9 -6.5l20.3 10.4l-3.9 6.5zM532.6 679.7l3.9 -6.5l20.3 10.7l-3.9 6.5zM552.9 690.4l3.9 -6.5l20.2 11l-4 6.6zM573 701.5l4 -6.6l19.7 11.4l-3.9 6.5zM592.8 712.8l3.9 -6.5l19.3 11.3l-3.9 6.5zM612.1 724.1l3.9 -6.5l18.6 11.1l-3.9 6.5z" fill="#079dcf" stroke="#079dcf"/>
<path d="M324.4 559.7l4 -5.1l0.9 0l-4 5.1zM325.3 559.7l4 -5.1l2.8 0.7l-3.9 5.2zM343.5 573.9l4 -5.5l9.9 4.3l-4 5.7zM373.9 595.5l4 -5.9l14.3 6.4l-3.9 5.9zM748.2 801.1l3.8 -5.6l4.7 3.5l-3.9 5.6zM752.8 804.6l3.9 -5.6l2.8 2.4l-3.9 5.5zM434.5 632.2l4 -6.3l18.5 8.5l-3.9 6.3zM708.2 783.2l3.9 -6.1l11.5 7.4l-3.9 6zM488.2 665.8l4 -6.5l20.1 10l-3.9 6.6zM626.8 741.7l3.9 -6.5l17.7 10.8l-3.9 6.4z" fill="#089ad1" stroke="#089ad1"/>
<path d="M328.2 560.5l3.9 -5.2l4.7 1.6l-4 5.3zM353.4 578.4l4 -5.7l11.4 5.1l-3.9 5.7zM388.3 601.9l3.9 -5.9l15.7 7.1l-4 6.1zM741.7 796.6l3.9 -5.8l6.4 4.7l-3.8 5.6zM695.2 774.9l3.9 -6.1l13 8.3l-3.9 6.1zM508.4 675.9l3.9 -6.6l20.3 10.4l-3.9 6.6zM528.7 686.3l3.9 -6.6l20.3 10.7l-3.9 6.6zM588.9 719.4l3.9 -6.6l19.3 11.3l-3.9 6.5zM608.2 730.6l3.9 -6.5l18.6 11.1l-3.9 6.5z" fill="#089ad0" stroke="#089ad0"/>
<path d="M332.8 562.2l4 -5.3l6.4 2.5l-3.9 5.4zM364.9 583.5l3.9 -5.7l13 5.9l-3.9 5.9zM403.9 609.2l4 -6.1l16.7 7.9l-3.9 6.2zM733.5 791l3.9 -5.8l8.2 5.6l-3.9 5.8zM453.1 640.7l3.9 -6.3l19.3 9l-3.9 6.4zM680.8 766l4 -6.2l14.3 9l-3.9 6.1zM549 697l3.9 -6.6l20.1 11.1l-3.9 6.5zM569.1 708l3.9 -6.5l19.8 11.3l-3.9 6.6z" fill="#079bd0" stroke="#079bd0"/>
<path d="M320.5 564.8l3.9 -5.1l0.9 0l-3.9 5.2zM331.4 575.6l3.9 -5.4l8.2 3.7l-3.9 5.5zM339.6 579.4l3.9 -5.5l9.9 4.5l-3.9 5.6zM748.9 810.2l3.9 -5.6l2.8 2.3l-3.9 5.6zM430.6 638.5l3.9 -6.3l18.6 8.5l-3.9 6.4zM704.3 789.3l3.9 -6.1l11.5 7.3l-3.9 6zM504.4 682.4l4 -6.5l20.3 10.4l-3.9 6.6zM585 726l3.9 -6.6l19.3 11.2l-3.9 6.6zM604.3 737.2l3.9 -6.6l18.6 11.1l-3.9 6.5z" fill="#0a97d1" stroke="#0a97d1"/>
<path d="M321.4 564.9l3.9 -5.2l2.9 0.8l-4 5.2zM349.5 584l3.9 -5.6l11.5 5.1l-4 5.8zM384.4 607.9l3.9 -6l15.6 7.3l-3.9 6.1zM737.8 802.3l3.9 -5.7l6.5 4.5l-3.9 5.7zM744.3 806.8l3.9 -5.7l4.6 3.5l-3.9 5.6zM449.2 647.1l3.9 -6.4l19.3 9.1l-4 6.5zM676.9 772.3l3.9 -6.3l14.4 8.9l-3.9 6.2zM691.3 781.1l3.9 -6.2l13 8.3l-3.9 6.1zM524.8 692.9l3.9 -6.6l20.3 10.7l-3.9 6.6zM545.1 703.6l3.9 -6.6l20.1 11l-3.9 6.6zM565.2 714.6l3.9 -6.6l19.8 11.4l-3.9 6.6z" fill="#0997d1" stroke="#0997d1"/>
<path d="M324.2 565.7l4 -5.2l4.6 1.7l-3.9 5.3zM360.9 589.3l4 -5.8l13 6.1l-4 5.9zM400 615.3l3.9 -6.1l16.8 8l-3.9 6.2zM729.6 796.9l3.9 -5.9l8.2 5.6l-3.9 5.7zM661.3 762.7l3.9 -6.3l15.6 9.6l-3.9 6.3z" fill="#0998d1" stroke="#0998d1"/>
<path d="M328.9 567.5l3.9 -5.3l6.5 2.6l-4 5.4zM335.3 570.2l4 -5.4l8.2 3.6l-4 5.5zM755.6 806.9l3.9 -5.5l0.9 1l-3.8 5.5zM416.8 623.4l3.9 -6.2l17.8 8.7l-4 6.3zM719.7 790.5l3.9 -6l9.9 6.5l-3.9 5.9zM468.4 656.3l4 -6.5l19.8 9.5l-4 6.5zM644.5 752.4l3.9 -6.4l16.8 10.4l-3.9 6.3z" fill="#0899d1" stroke="#0899d1"/>
<path d="M316.5 569.9l4 -5.1l0.9 0.1l-4 5.1zM335.6 584.9l4 -5.5l9.9 4.6l-4 5.6zM345.5 589.6l4 -5.6l11.4 5.3l-3.9 5.7zM733.9 808.1l3.9 -5.8l6.5 4.5l-3.9 5.7zM740.4 812.5l3.9 -5.7l4.6 3.4l-3.9 5.6zM445.2 653.5l4 -6.4l19.2 9.2l-3.9 6.4zM673 778.6l3.9 -6.3l14.4 8.8l-3.9 6.2z" fill="#0c94d2" stroke="#0c94d2"/>
<path d="M317.4 570l4 -5.1l2.8 0.8l-4 5.2zM320.2 570.9l4 -5.2l4.7 1.8l-4 5.3zM357 595l3.9 -5.7l13 6.2l-3.9 5.8zM396 621.4l4 -6.1l16.8 8.1l-4 6.2zM725.7 802.7l3.9 -5.8l8.2 5.4l-3.9 5.8zM464.5 662.7l3.9 -6.4l19.8 9.5l-3.9 6.6zM640.6 758.9l3.9 -6.5l16.8 10.3l-3.9 6.4zM657.4 769.1l3.9 -6.4l15.6 9.6l-3.9 6.3z" fill="#0b95d2" stroke="#0b95d2"/>
<path d="M324.9 572.8l4 -5.3l6.4 2.7l-3.9 5.4zM370 601.3l3.9 -5.8l14.4 6.4l-3.9 6zM751.7 812.5l3.9 -5.6l1 1l-3.9 5.5zM412.8 629.6l4 -6.2l17.7 8.8l-3.9 6.3zM715.8 796.5l3.9 -6l9.9 6.4l-3.9 5.8zM484.3 672.4l3.9 -6.6l20.2 10.1l-4 6.5zM622.9 748.2l3.9 -6.5l17.7 10.7l-3.9 6.5z" fill="#0a96d1" stroke="#0a96d1"/>
<path d="M312.5 575.1l4 -5.2l0.9 0.1l-3.9 5.2zM313.5 575.2l3.9 -5.2l2.8 0.9l-3.9 5.2zM341.6 595.2l3.9 -5.6l11.5 5.4l-4 5.8zM353 600.8l4 -5.8l13 6.3l-4 5.9zM408.9 635.8l3.9 -6.2l17.8 8.9l-4 6.3zM721.8 808.7l3.9 -6l8.2 5.4l-3.9 5.8zM480.4 678.9l3.9 -6.5l20.1 10l-3.9 6.6zM636.7 765.3l3.9 -6.4l16.8 10.2l-3.9 6.4z" fill="#0d92d2" stroke="#0d92d2"/>
<path d="M316.3 576.1l3.9 -5.2l4.7 1.9l-4 5.3zM320.9 578.1l4 -5.3l6.5 2.8l-4 5.4zM366 607.2l4 -5.9l14.4 6.6l-4 6zM426.6 644.8l4 -6.3l18.6 8.6l-4 6.4zM700.4 795.4l3.9 -6.1l11.5 7.2l-3.9 6zM711.9 802.5l3.9 -6l9.9 6.2l-3.9 6zM500.5 689l3.9 -6.6l20.4 10.5l-4 6.6zM600.3 743.7l4 -6.5l18.6 11l-3.9 6.5zM619 754.7l3.9 -6.5l17.7 10.7l-3.9 6.4z" fill="#0d93d2" stroke="#0d93d2"/>
<path d="M327.4 581l4 -5.4l8.2 3.8l-4 5.5zM380.4 613.9l4 -6l15.6 7.4l-4 6.1zM745 815.8l3.9 -5.6l2.8 2.3l-3.9 5.6zM747.8 818.1l3.9 -5.6l1 0.9l-3.9 5.6zM687.4 787.3l3.9 -6.2l13 8.2l-3.9 6.1zM520.8 699.5l4 -6.6l20.3 10.7l-4 6.6zM541.1 710.2l4 -6.6l20.1 11l-3.9 6.7zM561.3 721.3l3.9 -6.7l19.8 11.4l-3.9 6.6zM581.1 732.6l3.9 -6.6l19.3 11.2l-4 6.5z" fill="#0c93d2" stroke="#0c93d2"/>
<path d="M308.6 580.2l3.9 -5.1l1 0.1l-4 5.1zM337.6 600.9l4 -5.7l11.4 5.6l-3.9 5.7zM349.1 606.5l3.9 -5.7l13 6.4l-3.9 5.9zM404.9 642l4 -6.2l17.7 9l-3.9 6.3zM717.9 814.6l3.9 -5.9l8.2 5.2l-3.9 5.9zM476.4 685.4l4 -6.5l20.1 10.1l-3.9 6.6zM615 761.2l4 -6.5l17.7 10.6l-3.9 6.5z" fill="#108fd2" stroke="#108fd2"/>
<path d="M309.5 580.3l4 -5.1l2.8 0.9l-4 5.3zM312.3 581.4l4 -5.3l4.6 2l-3.9 5.3zM362.1 613.1l3.9 -5.9l14.4 6.7l-3.9 6zM422.7 651.1l3.9 -6.3l18.6 8.7l-3.9 6.4zM696.5 801.5l3.9 -6.1l11.5 7.1l-3.9 6zM708 808.5l3.9 -6l9.9 6.2l-3.9 5.9zM496.6 695.6l3.9 -6.6l20.3 10.5l-3.9 6.6zM516.9 706.1l3.9 -6.6l20.3 10.7l-3.9 6.6zM537.2 716.8l3.9 -6.6l20.2 11.1l-3.9 6.6zM557.4 727.9l3.9 -6.6l19.8 11.3l-3.9 6.6zM577.2 739.2l3.9 -6.6l19.2 11.1l-3.9 6.6zM596.4 750.3l3.9 -6.6l18.7 11l-4 6.5z" fill="#0f8fd2" stroke="#0f8fd2"/>
<path d="M317 583.4l3.9 -5.3l6.5 2.9l-3.9 5.4zM323.5 586.4l3.9 -5.4l8.2 3.9l-3.9 5.6zM376.5 619.9l3.9 -6l15.6 7.5l-3.9 6.1zM741.1 821.5l3.9 -5.7l2.8 2.3l-3.9 5.6zM743.9 823.7l3.9 -5.6l1 0.9l-3.9 5.5zM441.3 659.9l3.9 -6.4l19.3 9.2l-3.9 6.5zM669.1 784.9l3.9 -6.3l14.4 8.7l-3.9 6.2zM683.5 793.5l3.9 -6.2l13 8.1l-3.9 6.1z" fill="#0f90d2" stroke="#0f90d2"/>
<path d="M331.7 590.5l3.9 -5.6l9.9 4.7l-3.9 5.6zM392.1 627.5l3.9 -6.1l16.8 8.2l-3.9 6.2zM730 813.9l3.9 -5.8l6.5 4.4l-3.9 5.7zM736.5 818.2l3.9 -5.7l4.6 3.3l-3.9 5.7zM460.6 669.2l3.9 -6.5l19.8 9.7l-3.9 6.5zM653.5 775.5l3.9 -6.4l15.6 9.5l-3.9 6.3z" fill="#0e91d2" stroke="#0e91d2"/>
<path d="M304.6 585.3l4 -5.1l0.9 0.1l-3.9 5.2zM305.6 585.5l3.9 -5.2l2.8 1.1l-3.9 5.2zM358.1 619l4 -5.9l14.4 6.8l-4 6zM437.4 666.3l3.9 -6.4l19.3 9.3l-4 6.5zM679.6 799.8l3.9 -6.3l13 8l-3.9 6.1zM692.6 807.6l3.9 -6.1l11.5 7l-3.9 6zM533.3 723.5l3.9 -6.7l20.2 11.1l-4 6.6zM553.4 734.5l4 -6.6l19.8 11.3l-4 6.6z" fill="#118cd2" stroke="#118cd2"/>
<path d="M308.4 586.6l3.9 -5.2l4.7 2l-4 5.3zM313 588.7l4 -5.3l6.5 3l-4 5.4zM319.5 591.8l4 -5.4l8.2 4.1l-4 5.5zM372.5 625.9l4 -6l15.6 7.6l-3.9 6.1zM737.2 827.2l3.9 -5.7l2.8 2.2l-3.9 5.6zM740 829.3l3.9 -5.6l1 0.8l-3.9 5.6zM665.2 791.2l3.9 -6.3l14.4 8.6l-3.9 6.3z" fill="#118dd2" stroke="#118dd2"/>
<path d="M327.7 596l4 -5.5l9.9 4.7l-4 5.7zM388.2 633.6l3.9 -6.1l16.8 8.3l-4 6.2zM726.1 819.8l3.9 -5.9l6.5 4.3l-3.9 5.8zM732.6 824l3.9 -5.8l4.6 3.3l-3.9 5.7zM456.6 675.7l4 -6.5l19.8 9.7l-4 6.5zM632.8 771.8l3.9 -6.5l16.8 10.2l-3.9 6.4zM649.6 781.9l3.9 -6.4l15.6 9.4l-3.9 6.3z" fill="#108ed2" stroke="#108ed2"/>
<path d="M300.7 590.4l3.9 -5.1l1 0.2l-4 5.1zM354.2 624.8l3.9 -5.8l14.4 6.9l-3.9 6zM433.4 672.7l4 -6.4l19.2 9.4l-3.9 6.4zM675.7 806l3.9 -6.2l13 7.8l-3.9 6.2zM688.7 813.8l3.9 -6.2l11.5 6.9l-3.9 6.1z" fill="#1389d3" stroke="#1389d3"/>
<path d="M301.6 590.6l4 -5.1l2.8 1.1l-4 5.2zM304.4 591.8l4 -5.2l4.6 2.1l-3.9 5.3zM309.1 594l3.9 -5.3l6.5 3.1l-4 5.4zM368.6 631.9l3.9 -6l15.7 7.7l-4 6.1zM733.3 832.9l3.9 -5.7l2.8 2.1l-3.9 5.6zM736.1 834.9l3.9 -5.6l1 0.8l-3.9 5.6zM452.7 682.1l3.9 -6.4l19.8 9.7l-3.9 6.5zM645.7 788.3l3.9 -6.4l15.6 9.3l-3.9 6.4zM661.3 797.6l3.9 -6.4l14.4 8.6l-3.9 6.2z" fill="#138ad3" stroke="#138ad3"/>
<path d="M315.5 597.2l4 -5.4l8.2 4.2l-3.9 5.5zM323.8 601.5l3.9 -5.5l9.9 4.9l-3.9 5.6zM384.2 639.7l4 -6.1l16.7 8.4l-3.9 6.3zM401 648.3l3.9 -6.3l17.8 9.1l-3.9 6.4zM722.2 825.6l3.9 -5.8l6.5 4.2l-3.9 5.8zM728.7 829.8l3.9 -5.8l4.6 3.2l-3.9 5.7zM472.5 691.9l3.9 -6.5l20.2 10.2l-3.9 6.6zM611.1 767.7l3.9 -6.5l17.8 10.6l-3.9 6.5zM628.9 778.3l3.9 -6.5l16.8 10.1l-3.9 6.4z" fill="#128bd3" stroke="#128bd3"/>
<path d="M333.7 606.5l3.9 -5.6l11.5 5.6l-4 5.8zM345.1 612.3l4 -5.8l13 6.6l-4 5.9zM418.8 657.5l3.9 -6.4l18.6 8.8l-3.9 6.4zM704.1 814.5l3.9 -6l9.9 6.1l-3.9 5.9zM714 820.5l3.9 -5.9l8.2 5.2l-3.9 5.8zM492.7 702.2l3.9 -6.6l20.3 10.5l-3.9 6.6zM513 712.7l3.9 -6.6l20.3 10.7l-3.9 6.7zM573.2 745.8l4 -6.6l19.2 11.1l-3.9 6.6zM592.5 756.9l3.9 -6.6l18.6 10.9l-3.9 6.5z" fill="#128bd2" stroke="#128bd2"/>
<path d="M296.7 595.5l4 -5.1l0.9 0.2l-3.9 5.2zM297.7 595.8l3.9 -5.2l2.8 1.2l-3.9 5.2zM380.3 645.8l3.9 -6.1l16.8 8.6l-3.9 6.2zM729.4 838.6l3.9 -5.7l2.8 2l-3.9 5.7zM732.2 840.6l3.9 -5.7l1 0.8l-3.9 5.6zM468.6 698.5l3.9 -6.6l20.2 10.3l-4 6.5zM625 784.7l3.9 -6.4l16.8 10l-3.9 6.4zM641.8 794.7l3.9 -6.4l15.6 9.3l-3.9 6.3z" fill="#1487d3" stroke="#1487d3"/>
<path d="M300.5 597l3.9 -5.2l4.7 2.2l-4 5.3zM305.1 599.3l4 -5.3l6.4 3.2l-3.9 5.4zM311.6 602.6l3.9 -5.4l8.3 4.3l-4 5.5zM319.8 607l4 -5.5l9.9 5l-4 5.6zM329.7 612.1l4 -5.6l11.4 5.8l-3.9 5.7zM341.2 618l3.9 -5.7l13 6.7l-3.9 5.8zM397.1 654.5l3.9 -6.2l17.8 9.2l-4 6.3zM414.8 663.8l4 -6.3l18.6 8.8l-4 6.4zM700.2 820.6l3.9 -6.1l9.9 6l-3.9 6zM710.1 826.5l3.9 -6l8.2 5.1l-3.9 5.9zM718.3 831.5l3.9 -5.9l6.5 4.2l-3.9 5.7zM724.8 835.5l3.9 -5.7l4.6 3.1l-3.9 5.7zM488.7 708.7l4 -6.5l20.3 10.5l-4 6.6zM509.1 719.3l4 -6.6l20.3 10.8l-3.9 6.6zM529.4 730.1l3.9 -6.6l20.1 11l-3.9 6.6zM549.5 741.1l3.9 -6.6l19.8 11.3l-3.9 6.6zM569.3 752.4l3.9 -6.6l19.3 11.1l-3.9 6.5zM588.6 763.4l3.9 -6.5l18.6 10.8l-3.9 6.6zM607.2 774.3l3.9 -6.6l17.8 10.6l-3.9 6.4z" fill="#1388d3" stroke="#1388d3"/>
<path d="M292.8 600.6l3.9 -5.1l1 0.3l-4 5.1zM346.3 636.6l3.9 -5.9l14.4 7.2l-3.9 6zM360.7 643.9l3.9 -6l15.7 7.9l-4 6.1zM376.3 651.9l4 -6.1l16.8 8.7l-4 6.2zM393.1 660.7l4 -6.2l17.7 9.3l-3.9 6.3zM728.3 846.2l3.9 -5.6l1 0.7l-3.9 5.7zM444.8 695.1l4 -6.5l19.8 9.9l-3.9 6.5zM464.7 705l3.9 -6.5l20.1 10.2l-3.9 6.6zM484.8 715.3l3.9 -6.6l20.3 10.6l-3.9 6.6zM584.7 770l3.9 -6.6l18.6 10.9l-3.9 6.5zM603.3 780.8l3.9 -6.5l17.8 10.4l-3.9 6.5zM621.1 791.2l3.9 -6.5l16.8 10l-3.9 6.4zM637.9 801.1l3.9 -6.4l15.6 9.2l-3.9 6.3zM653.5 810.2l3.9 -6.3l14.4 8.4l-3.9 6.2z" fill="#1484d4" stroke="#1484d4"/>
<path d="M293.7 600.9l4 -5.1l2.8 1.2l-4 5.2zM296.5 602.2l4 -5.2l4.6 2.3l-3.9 5.3zM301.2 604.6l3.9 -5.3l6.5 3.3l-4 5.4zM307.6 608l4 -5.4l8.2 4.4l-3.9 5.5zM410.9 670.1l3.9 -6.3l18.6 8.9l-3.9 6.4zM714.4 837.3l3.9 -5.8l6.5 4l-3.9 5.8zM720.9 841.3l3.9 -5.8l4.6 3.1l-3.9 5.7zM725.5 844.3l3.9 -5.7l2.8 2l-3.9 5.6zM505.1 725.9l3.9 -6.6l20.4 10.8l-4 6.6zM525.4 736.7l4 -6.6l20.1 11l-3.9 6.6zM545.6 747.7l3.9 -6.6l19.8 11.3l-3.9 6.6zM565.4 759l3.9 -6.6l19.3 11l-3.9 6.6z" fill="#1485d4" stroke="#1485d4"/>
<path d="M315.9 612.5l3.9 -5.5l9.9 5.1l-3.9 5.6zM325.8 617.7l3.9 -5.6l11.5 5.9l-4 5.8zM337.2 623.8l4 -5.8l13 6.8l-4 5.9zM429.5 679.1l3.9 -6.4l19.3 9.4l-3.9 6.5zM684.8 819.9l3.9 -6.1l11.5 6.8l-3.9 6zM696.3 826.6l3.9 -6l9.9 5.9l-3.9 5.9zM706.2 832.4l3.9 -5.9l8.2 5l-3.9 5.8z" fill="#1486d4" stroke="#1486d4"/>
<path d="M350.2 630.7l4 -5.9l14.4 7.1l-4 6zM364.6 637.9l4 -6l15.6 7.8l-3.9 6.1zM448.8 688.6l3.9 -6.5l19.8 9.8l-3.9 6.6zM657.4 803.9l3.9 -6.3l14.4 8.4l-3.9 6.3zM671.8 812.3l3.9 -6.3l13 7.8l-3.9 6.1z" fill="#1486d3" stroke="#1486d3"/>
<path d="M288.8 605.8l4 -5.2l0.9 0.3l-3.9 5.2zM289.8 606.1l3.9 -5.2l2.8 1.3l-3.9 5.2zM292.6 607.4l3.9 -5.2l4.7 2.4l-4 5.3zM389.2 666.9l3.9 -6.2l17.8 9.4l-4 6.3zM406.9 676.4l4 -6.3l18.6 9l-3.9 6.4zM710.5 843.2l3.9 -5.9l6.5 4l-3.9 5.8zM717 847.1l3.9 -5.8l4.6 3l-3.9 5.7zM721.6 850l3.9 -5.7l2.8 1.9l-3.9 5.6zM724.4 851.8l3.9 -5.6l1 0.8l-3.9 5.6zM480.9 721.9l3.9 -6.6l20.3 10.6l-3.9 6.6zM501.2 732.5l3.9 -6.6l20.3 10.8l-3.9 6.6zM521.5 743.3l3.9 -6.6l20.2 11l-3.9 6.6zM541.7 754.3l3.9 -6.6l19.8 11.3l-3.9 6.5zM561.5 765.5l3.9 -6.5l19.3 11l-3.9 6.6zM580.8 776.6l3.9 -6.6l18.6 10.8l-3.9 6.5z" fill="#1482d5" stroke="#1482d5"/>
<path d="M297.2 609.9l4 -5.3l6.4 3.4l-3.9 5.4zM303.7 613.4l3.9 -5.4l8.3 4.5l-4 5.5zM311.9 618l4 -5.5l9.9 5.2l-4 5.7zM321.8 623.4l4 -5.7l11.4 6.1l-3.9 5.7zM333.3 629.5l3.9 -5.7l13 6.9l-3.9 5.9zM425.6 685.5l3.9 -6.4l19.3 9.5l-4 6.5zM667.9 818.5l3.9 -6.2l13 7.6l-3.9 6.2zM680.9 826.1l3.9 -6.2l11.5 6.7l-3.9 6.1zM692.4 832.7l3.9 -6.1l9.9 5.8l-3.9 6zM702.3 838.4l3.9 -6l8.2 4.9l-3.9 5.9z" fill="#1483d5" stroke="#1483d5"/>
<path d="M284.9 610.9l3.9 -5.1l1 0.3l-4 5.1zM285.8 611.2l4 -5.1l2.8 1.3l-4 5.2zM288.6 612.6l4 -5.2l4.6 2.5l-3.9 5.3zM293.3 615.2l3.9 -5.3l6.5 3.5l-4 5.4zM299.7 618.8l4 -5.4l8.2 4.6l-3.9 5.5zM308 623.5l3.9 -5.5l9.9 5.4l-3.9 5.6zM317.9 629l3.9 -5.6l11.5 6.1l-3.9 5.8zM329.4 635.3l3.9 -5.8l13 7.1l-4 5.9zM342.3 642.5l4 -5.9l14.4 7.3l-4 6zM421.6 691.9l4 -6.4l19.2 9.6l-3.9 6.4zM440.9 701.5l3.9 -6.4l19.9 9.9l-4 6.5zM634 807.5l3.9 -6.4l15.6 9.1l-3.9 6.4zM649.6 816.6l3.9 -6.4l14.4 8.3l-3.9 6.2zM664 824.7l3.9 -6.2l13 7.6l-3.9 6.1zM677 832.2l3.9 -6.1l11.5 6.6l-3.9 6zM688.5 838.7l3.9 -6l9.9 5.7l-3.9 5.9zM698.4 844.3l3.9 -5.9l8.2 4.8l-3.9 5.8zM706.6 849l3.9 -5.8l6.5 3.9l-3.9 5.7zM713.1 852.8l3.9 -5.7l4.6 2.9l-3.9 5.7zM717.7 855.7l3.9 -5.7l2.8 1.8l-3.8 5.7z" fill="#1480d6" stroke="#1480d6"/>
<path d="M356.7 649.9l4 -6l15.6 8l-3.9 6.1zM372.4 658l3.9 -6.1l16.8 8.8l-3.9 6.2zM460.7 711.5l4 -6.5l20.1 10.3l-3.9 6.6zM599.4 787.3l3.9 -6.5l17.8 10.4l-3.9 6.5zM617.2 797.7l3.9 -6.5l16.8 9.9l-3.9 6.4z" fill="#1481d6" stroke="#1481d6"/>
<path d="M280.9 616l4 -5.1l0.9 0.3l-4 5.2zM281.8 616.4l4 -5.2l2.8 1.4l-3.9 5.3zM284.7 617.9l3.9 -5.3l4.7 2.6l-4 5.3zM289.3 620.5l4 -5.3l6.4 3.6l-3.9 5.4zM295.8 624.2l3.9 -5.4l8.3 4.7l-4 5.5zM304 629l4 -5.5l9.9 5.5l-4 5.6zM313.9 634.6l4 -5.6l11.5 6.3l-4 5.7zM325.4 641l4 -5.7l12.9 7.2l-3.9 5.8zM338.4 648.3l3.9 -5.8l14.4 7.4l-3.9 6zM456.8 718l3.9 -6.5l20.2 10.4l-4 6.5zM613.3 804.1l3.9 -6.4l16.8 9.8l-4 6.4zM630 813.9l4 -6.4l15.6 9.1l-3.9 6.3zM645.7 822.9l3.9 -6.3l14.4 8.1l-3.9 6.2zM660.1 830.9l3.9 -6.2l13 7.5l-3.9 6.1z" fill="#137ed7" stroke="#137ed7"/>
<path d="M352.8 655.9l3.9 -6l15.7 8.1l-4 6.2zM368.4 664.2l4 -6.2l16.8 8.9l-4 6.2zM385.2 673.1l4 -6.2l17.7 9.5l-3.9 6.4zM403 682.8l3.9 -6.4l18.7 9.1l-4 6.4zM720.6 857.5l3.8 -5.7l1 0.8l-3.9 5.6zM476.9 728.4l4 -6.5l20.3 10.6l-3.9 6.6zM497.3 739.1l3.9 -6.6l20.3 10.8l-3.9 6.6zM517.6 749.9l3.9 -6.6l20.2 11l-3.9 6.6zM537.8 760.9l3.9 -6.6l19.8 11.2l-3.9 6.6zM557.6 772.1l3.9 -6.6l19.3 11.1l-3.9 6.5zM576.9 783.1l3.9 -6.5l18.6 10.7l-3.9 6.5zM595.5 793.8l3.9 -6.5l17.8 10.4l-3.9 6.4z" fill="#137fd7" stroke="#137fd7"/>
<path d="M277 621.1l3.9 -5.1l0.9 0.4l-3.9 5.1zM277.9 621.5l3.9 -5.1l2.9 1.5l-4 5.2zM280.7 623.1l4 -5.2l4.6 2.6l-3.9 5.3zM285.4 625.8l3.9 -5.3l6.5 3.7l-4 5.4zM291.8 629.6l4 -5.4l8.2 4.8l-3.9 5.6zM348.8 661.9l4 -6l15.6 8.3l-3.9 6.1zM364.5 670.3l3.9 -6.1l16.8 8.9l-3.9 6.2zM381.3 679.3l3.9 -6.2l17.8 9.7l-3.9 6.3zM493.4 745.7l3.9 -6.6l20.3 10.8l-3.9 6.6zM513.7 756.5l3.9 -6.6l20.2 11l-4 6.6zM533.8 767.5l4 -6.6l19.8 11.2l-3.9 6.6zM553.7 778.7l3.9 -6.6l19.3 11l-4 6.5z" fill="#127cd8" stroke="#127cd8"/>
<path d="M300.1 634.6l3.9 -5.6l9.9 5.6l-3.9 5.7zM310 640.3l3.9 -5.7l11.5 6.4l-3.9 5.8zM321.5 646.8l3.9 -5.8l13 7.3l-3.9 5.9zM334.5 654.2l3.9 -5.9l14.4 7.6l-4 6zM452.9 724.5l3.9 -6.5l20.1 10.4l-3.9 6.6zM473 735l3.9 -6.6l20.4 10.7l-3.9 6.6zM572.9 789.6l4 -6.5l18.6 10.7l-3.9 6.5zM591.6 800.3l3.9 -6.5l17.8 10.3l-4 6.4zM609.3 810.5l4 -6.4l16.7 9.8l-3.9 6.4z" fill="#127bd9" stroke="#127bd9"/>
<path d="M399.1 689.1l3.9 -6.3l18.6 9.1l-3.9 6.4z" fill="#127dd8" stroke="#127dd8"/>
<path d="M417.7 698.3l3.9 -6.4l19.3 9.6l-3.9 6.5zM437 708l3.9 -6.5l19.8 10l-3.9 6.5zM673.1 838.3l3.9 -6.1l11.5 6.5l-3.9 6zM684.6 844.7l3.9 -6l9.9 5.6l-3.9 5.9zM694.5 850.2l3.9 -5.9l8.2 4.7l-3.9 5.8zM702.7 854.8l3.9 -5.8l6.5 3.8l-3.9 5.8zM709.2 858.6l3.9 -5.8l4.6 2.9l-3.9 5.6zM713.8 861.3l3.9 -5.6l2.9 1.8l-3.9 5.6zM716.7 863.1l3.9 -5.6l0.9 0.7l-3.9 5.5z" fill="#137dd8" stroke="#137dd8"/>
<path d="M273 626.2l4 -5.1l0.9 0.4l-4 5.2zM273.9 626.7l4 -5.2l2.8 1.6l-3.9 5.2zM276.8 628.3l3.9 -5.2l4.7 2.7l-4 5.3zM281.4 631.1l4 -5.3l6.4 3.8l-3.9 5.4zM287.9 635l3.9 -5.4l8.3 5l-4 5.5zM377.4 685.6l3.9 -6.3l17.8 9.8l-4 6.3zM395.1 695.4l4 -6.3l18.6 9.2l-3.9 6.4z" fill="#117ada" stroke="#117ada"/>
<path d="M296.1 640.1l4 -5.5l9.9 5.7l-4 5.6zM306 645.9l4 -5.6l11.5 6.5l-4 5.7zM317.5 652.5l4 -5.7l13 7.4l-4 5.9zM330.5 660.1l4 -5.9l14.3 7.7l-3.9 5.9zM344.9 667.8l3.9 -5.9l15.7 8.4l-3.9 6.1zM360.6 676.4l3.9 -6.1l16.8 9l-3.9 6.3zM489.4 752.2l4 -6.5l20.3 10.8l-3.9 6.6zM509.8 763.1l3.9 -6.6l20.1 11l-3.9 6.6zM529.9 774.1l3.9 -6.6l19.9 11.2l-4 6.5zM549.7 785.2l4 -6.5l19.2 10.9l-3.9 6.6zM569 796.2l3.9 -6.6l18.7 10.7l-3.9 6.5z" fill="#1079da" stroke="#1079da"/>
<path d="M413.8 704.7l3.9 -6.4l19.3 9.7l-4 6.5z" fill="#117ad9" stroke="#117ad9"/>
<path d="M433 714.5l4 -6.5l19.8 10l-3.9 6.5zM626.1 820.3l3.9 -6.4l15.7 9l-3.9 6.2zM641.8 829.1l3.9 -6.2l14.4 8l-3.9 6.2zM656.2 837.1l3.9 -6.2l13 7.4l-3.9 6.1zM669.2 844.4l3.9 -6.1l11.5 6.4l-3.9 6zM680.7 850.7l3.9 -6l9.9 5.5l-3.9 5.9zM690.6 856.1l3.9 -5.9l8.2 4.6l-3.9 5.8zM698.8 860.6l3.9 -5.8l6.5 3.8l-3.9 5.7zM705.3 864.3l3.9 -5.7l4.6 2.7l-3.9 5.7zM709.9 867l3.9 -5.7l2.9 1.8l-3.9 5.6zM712.8 868.7l3.9 -5.6l0.9 0.6l-3.9 5.6z" fill="#117bd9" stroke="#117bd9"/>
<path d="M269 631.3l4 -5.1l0.9 0.5l-3.9 5.1zM270 631.8l3.9 -5.1l2.9 1.6l-4 5.2zM272.8 633.5l4 -5.2l4.6 2.8l-3.9 5.3zM277.5 636.4l3.9 -5.3l6.5 3.9l-4 5.4zM429.1 720.9l3.9 -6.4l19.9 10l-4 6.5z" fill="#0f78db" stroke="#0f78db"/>
<path d="M283.9 640.4l4 -5.4l8.2 5.1l-4 5.5zM292.1 645.6l4 -5.5l9.9 5.8l-3.9 5.6zM391.2 701.7l3.9 -6.3l18.7 9.3l-4 6.4zM409.8 711.1l4 -6.4l19.2 9.8l-3.9 6.4z" fill="#0f77db" stroke="#0f77db"/>
<path d="M302.1 651.5l3.9 -5.6l11.5 6.6l-3.9 5.8zM313.6 658.3l3.9 -5.8l13 7.6l-3.9 5.9zM326.6 666l3.9 -5.9l14.4 7.7l-3.9 6zM341 673.8l3.9 -6l15.7 8.6l-4 6.1zM356.6 682.5l4 -6.1l16.8 9.2l-4 6.2zM373.4 691.8l4 -6.2l17.7 9.8l-3.9 6.3z" fill="#0e77db" stroke="#0e77db"/>
<path d="M448.9 731l4 -6.5l20.1 10.5l-3.9 6.5zM469.1 741.5l3.9 -6.5l20.4 10.7l-4 6.5zM587.7 806.8l3.9 -6.5l17.7 10.2l-3.9 6.5zM605.4 817l3.9 -6.5l16.8 9.8l-3.9 6.3zM622.2 826.6l3.9 -6.3l15.7 8.8l-3.9 6.3zM637.9 835.4l3.9 -6.3l14.4 8l-3.9 6.2zM652.3 843.3l3.9 -6.2l13 7.3l-3.9 6.1zM665.3 850.5l3.9 -6.1l11.5 6.3l-3.9 6zM676.8 856.7l3.9 -6l9.9 5.4l-3.9 5.9zM686.7 862l3.9 -5.9l8.2 4.5l-3.9 5.8zM694.9 866.4l3.9 -5.8l6.5 3.7l-3.9 5.7zM701.4 870l3.9 -5.7l4.6 2.7l-3.8 5.6zM706.1 872.6l3.8 -5.6l2.9 1.7l-3.9 5.5zM708.9 874.2l3.9 -5.5l0.9 0.6l-3.9 5.5z" fill="#1078da" stroke="#1078da"/>
<path d="M265.1 636.5l3.9 -5.2l1 0.5l-4 5.2zM465.2 748.1l3.9 -6.6l20.3 10.7l-3.9 6.6zM485.5 758.8l3.9 -6.6l20.4 10.9l-4 6.6zM505.8 769.7l4 -6.6l20.1 11l-3.9 6.6zM526 780.7l3.9 -6.6l19.8 11.1l-3.9 6.6zM545.8 791.8l3.9 -6.6l19.3 11l-3.9 6.5zM565.1 802.7l3.9 -6.5l18.7 10.6l-4 6.5zM583.7 813.3l4 -6.5l17.7 10.2l-3.9 6.4zM601.5 823.4l3.9 -6.4l16.8 9.6l-3.9 6.4zM648.4 849.5l3.9 -6.2l13 7.2l-3.9 6.1zM661.4 856.6l3.9 -6.1l11.5 6.2l-3.9 6zM672.9 862.7l3.9 -6l9.9 5.3l-3.9 5.9zM682.8 867.9l3.9 -5.9l8.2 4.4l-3.9 5.8zM691 872.2l3.9 -5.8l6.5 3.6l-3.9 5.7zM697.5 875.7l3.9 -5.7l4.7 2.6l-3.9 5.6zM702.2 878.2l3.9 -5.6l2.8 1.6l-3.9 5.6zM705 879.8l3.9 -5.6l0.9 0.6l-3.9 5.6z" fill="#0e76dc" stroke="#0e76dc"/>
<path d="M266 637l4 -5.2l2.8 1.7l-4 5.2zM268.8 638.7l4 -5.2l4.7 2.9l-4 5.2zM273.5 641.6l4 -5.2l6.4 4l-3.9 5.4zM280 645.8l3.9 -5.4l8.2 5.2l-3.9 5.5zM288.2 651.1l3.9 -5.5l10 5.9l-4 5.7zM405.9 717.5l3.9 -6.4l19.3 9.8l-3.9 6.5zM425.2 727.4l3.9 -6.5l19.8 10.1l-3.9 6.6zM445 737.6l3.9 -6.6l20.2 10.5l-3.9 6.6zM618.3 833l3.9 -6.4l15.7 8.8l-3.9 6.3zM634 841.7l3.9 -6.3l14.4 7.9l-3.9 6.2z" fill="#0d75dc" stroke="#0d75dc"/>
<path d="M298.1 657.2l4 -5.7l11.5 6.8l-4 5.7zM309.6 664l4 -5.7l13 7.7l-4 5.8zM322.6 671.8l4 -5.8l14.4 7.8l-4 6zM337 679.8l4 -6l15.6 8.7l-3.9 6.1zM352.7 688.6l3.9 -6.1l16.8 9.3l-3.9 6.2zM369.5 698l3.9 -6.2l17.8 9.9l-3.9 6.3zM387.3 708l3.9 -6.3l18.6 9.4l-3.9 6.4z" fill="#0c74dd" stroke="#0c74dd"/>
<path d="M261.1 641.6l4 -5.1l0.9 0.5l-3.9 5.1zM262.1 642.1l3.9 -5.1l2.8 1.7l-3.9 5.2zM264.9 643.9l3.9 -5.2l4.7 2.9l-3.9 5.3zM501.9 776.3l3.9 -6.6l20.2 11l-3.9 6.6zM522.1 787.3l3.9 -6.6l19.8 11.1l-3.9 6.6zM541.9 798.4l3.9 -6.6l19.3 10.9l-3.9 6.5zM669 868.7l3.9 -6l9.9 5.2l-3.9 5.9zM678.9 873.8l3.9 -5.9l8.2 4.3l-3.9 5.8zM687.1 878l3.9 -5.8l6.5 3.5l-3.9 5.7zM693.6 881.4l3.9 -5.7l4.7 2.5l-3.9 5.7zM698.3 883.9l3.9 -5.7l2.8 1.6l-3.9 5.6zM701.1 885.4l3.9 -5.6l0.9 0.6l-3.9 5.5z" fill="#0b74dd" stroke="#0b74dd"/>
<path d="M269.6 646.9l3.9 -5.3l6.5 4.2l-4 5.4zM276 651.2l4 -5.4l8.2 5.3l-4 5.5zM441.1 744.1l3.9 -6.5l20.2 10.5l-4 6.5zM461.2 754.6l4 -6.5l20.3 10.7l-3.9 6.6zM481.6 765.4l3.9 -6.6l20.3 10.9l-3.9 6.6zM561.2 809.2l3.9 -6.5l18.6 10.6l-3.9 6.4zM579.8 819.7l3.9 -6.4l17.8 10.1l-3.9 6.4zM597.6 829.8l3.9 -6.4l16.8 9.6l-3.9 6.4zM614.4 839.4l3.9 -6.4l15.7 8.7l-3.9 6.3zM630.1 848l3.9 -6.3l14.4 7.8l-3.9 6.2zM644.5 855.7l3.9 -6.2l13 7.1l-3.9 6.1zM657.5 862.7l3.9 -6.1l11.5 6.1l-3.9 6z" fill="#0b73dd" stroke="#0b73dd"/>
<path d="M284.2 656.6l4 -5.5l9.9 6.1l-3.9 5.6zM421.2 733.8l4 -6.4l19.8 10.2l-3.9 6.5z" fill="#0a72de" stroke="#0a72de"/>
<path d="M294.2 662.8l3.9 -5.6l11.5 6.8l-3.9 5.8zM305.7 669.8l3.9 -5.8l13 7.8l-3.9 5.9zM318.7 677.7l3.9 -5.9l14.4 8l-3.9 6zM333.1 685.8l3.9 -6l15.7 8.8l-4 6.1zM383.3 714.3l4 -6.3l18.6 9.5l-4 6.4zM401.9 723.9l4 -6.4l19.3 9.9l-4 6.4zM257.2 646.7l3.9 -5.1l1 0.5l-4 5.2zM258.1 647.3l4 -5.2l2.8 1.8l-4 5.2z" fill="#0972de" stroke="#0972de"/>
<path d="M348.7 694.7l4 -6.1l16.8 9.4l-4 6.2zM365.5 704.2l4 -6.2l17.8 10l-4 6.3zM260.9 649.1l4 -5.2l4.7 3l-4 5.3zM265.6 652.2l4 -5.3l6.4 4.3l-3.9 5.4zM665.1 874.7l3.9 -6l9.9 5.1l-3.9 5.9zM675 879.7l3.9 -5.9l8.2 4.2l-3.9 5.8zM683.2 883.8l3.9 -5.8l6.5 3.4l-3.9 5.7zM689.7 887.1l3.9 -5.7l4.7 2.5l-3.9 5.6zM694.4 889.5l3.9 -5.6l2.8 1.5l-3.9 5.6zM697.2 891l3.9 -5.6l0.9 0.5l-3.9 5.6z" fill="#0871de" stroke="#0871de"/>
<path d="M272.1 656.6l3.9 -5.4l8.2 5.4l-3.9 5.5zM477.6 772l4 -6.6l20.3 10.9l-3.9 6.6zM498 782.9l3.9 -6.6l20.2 11l-3.9 6.6zM518.2 793.9l3.9 -6.6l19.8 11.1l-3.9 6.5zM538 804.9l3.9 -6.5l19.3 10.8l-3.9 6.6zM557.3 815.8l3.9 -6.6l18.6 10.5l-3.9 6.5zM575.9 826.2l3.9 -6.5l17.8 10.1l-3.9 6.5zM626.2 854.3l3.9 -6.3l14.4 7.7l-3.9 6.2zM640.6 861.9l3.9 -6.2l13 7l-3.9 6.1zM653.6 868.8l3.9 -6.1l11.5 6l-3.9 6z" fill="#0870df" stroke="#0870df"/>
<path d="M280.3 662.1l3.9 -5.5l10 6.2l-4 5.6zM290.2 668.4l4 -5.6l11.5 7l-4 5.7zM437.1 750.6l4 -6.5l20.1 10.5l-3.9 6.6zM457.3 761.2l3.9 -6.6l20.4 10.8l-4 6.6zM593.7 836.3l3.9 -6.5l16.8 9.6l-3.9 6.3zM610.5 845.7l3.9 -6.3l15.7 8.6l-3.9 6.3z" fill="#0770df" stroke="#0770df"/>
<path d="M301.7 675.5l4 -5.7l13 7.9l-4 5.9zM398 730.3l3.9 -6.4l19.3 9.9l-3.9 6.5zM417.3 740.3l3.9 -6.5l19.9 10.3l-4 6.5zM253.2 651.8l4 -5.1l0.9 0.6l-3.9 5.1zM254.2 652.4l3.9 -5.1l2.8 1.8l-3.9 5.3zM257 654.4l3.9 -5.3l4.7 3.1l-4 5.3zM690.5 895.2l3.9 -5.7l2.8 1.5l-3.9 5.6zM693.3 896.6l3.9 -5.6l0.9 0.5l-3.9 5.5z" fill="#076fdf" stroke="#076fdf"/>
<path d="M314.7 683.6l4 -5.9l14.4 8.1l-4 6zM329.1 691.8l4 -6l15.6 8.9l-3.9 6.1zM344.8 700.8l3.9 -6.1l16.8 9.5l-3.9 6.2zM361.6 710.4l3.9 -6.2l17.8 10.1l-3.9 6.3zM379.4 720.6l3.9 -6.3l18.6 9.6l-3.9 6.4zM261.6 657.5l4 -5.3l6.5 4.4l-4 5.4zM671.1 885.6l3.9 -5.9l8.2 4.1l-3.9 5.8zM679.3 889.6l3.9 -5.8l6.5 3.3l-3.9 5.7zM685.8 892.8l3.9 -5.7l4.7 2.4l-3.9 5.7z" fill="#066edf" stroke="#066edf"/>
<path d="M268.1 662l4 -5.4l8.2 5.5l-4 5.5zM636.7 868.1l3.9 -6.2l13 6.9l-3.9 6zM649.7 874.8l3.9 -6l11.5 5.9l-3.9 6zM661.2 880.7l3.9 -6l9.9 5l-3.9 5.9z" fill="#056ee0" stroke="#056ee0"/>
<path d="M276.3 667.6l4 -5.5l9.9 6.3l-3.9 5.6zM286.3 674l3.9 -5.6l11.5 7.1l-3.9 5.8zM453.4 767.7l3.9 -6.5l20.3 10.8l-3.9 6.5zM473.7 778.5l3.9 -6.5l20.4 10.9l-3.9 6.5zM494.1 789.4l3.9 -6.5l20.2 11l-4 6.5zM514.2 800.4l4 -6.5l19.8 11l-3.9 6.6zM534.1 811.5l3.9 -6.6l19.3 10.9l-3.9 6.5zM553.4 822.3l3.9 -6.5l18.6 10.4l-3.9 6.5zM572 832.7l3.9 -6.5l17.8 10.1l-3.9 6.4zM589.8 842.7l3.9 -6.4l16.8 9.4l-3.9 6.4zM606.6 852.1l3.9 -6.4l15.7 8.6l-3.9 6.2zM622.3 860.5l3.9 -6.2l14.4 7.6l-3.9 6.2zM249.3 656.9l3.9 -5.1l1 0.6l-4 5.2zM250.2 657.6l4 -5.2l2.8 2l-4 5.1z" fill="#056de0" stroke="#056de0"/>
<path d="M297.8 681.3l3.9 -5.8l13 8.1l-3.9 5.8zM310.8 689.4l3.9 -5.8l14.4 8.2l-3.9 6zM325.2 697.8l3.9 -6l15.7 9l-4 6zM340.8 706.8l4 -6l16.8 9.6l-4 6.2zM375.4 726.9l4 -6.3l18.6 9.7l-3.9 6.4zM394.1 736.7l3.9 -6.4l19.3 10l-3.9 6.4zM413.4 746.7l3.9 -6.4l19.8 10.3l-3.9 6.5zM433.2 757.1l3.9 -6.5l20.2 10.6l-3.9 6.5zM253 659.5l4 -5.1l4.6 3.1l-3.9 5.3zM257.7 662.8l3.9 -5.3l6.5 4.5l-3.9 5.3zM264.2 667.3l3.9 -5.3l8.2 5.6l-3.9 5.4zM667.2 891.3l3.9 -5.7l8.2 4l-3.9 5.7zM675.4 895.3l3.9 -5.7l6.5 3.2l-3.9 5.7zM681.9 898.5l3.9 -5.7l4.7 2.4l-3.9 5.5zM686.6 900.7l3.9 -5.5l2.8 1.4l-3.9 5.5zM689.4 902.1l3.9 -5.5l0.9 0.4l-3.9 5.6z" fill="#046ce0" stroke="#046ce0"/>
<path d="M357.6 716.6l4 -6.2l17.8 10.2l-4 6.3zM272.4 673l3.9 -5.4l10 6.4l-4 5.5zM645.8 880.7l3.9 -5.9l11.5 5.9l-3.9 5.7zM657.3 886.4l3.9 -5.7l9.9 4.9l-3.9 5.7z" fill="#036be0" stroke="#036be0"/>
<path d="M282.3 679.5l4 -5.5l11.5 7.3l-4 5.5zM469.8 784.6l3.9 -6.1l20.4 10.9l-4 6.1zM490.1 795.5l4 -6.1l20.1 11l-3.9 6.1zM510.3 806.5l3.9 -6.1l19.9 11.1l-3.9 6zM530.2 817.5l3.9 -6l19.3 10.8l-3.9 6zM549.5 828.3l3.9 -6l18.6 10.4l-3.9 6zM568.1 838.7l3.9 -6l17.8 10l-3.9 6zM585.9 848.7l3.9 -6l16.8 9.4l-3.9 6zM602.7 858.1l3.9 -6l15.7 8.4l-3.9 6zM618.4 866.5l3.9 -6l14.4 7.6l-3.9 5.8zM632.8 873.9l3.9 -5.8l13 6.7l-3.9 5.9zM245.3 662l4 -5.1l0.9 0.7l-3.9 5.1zM246.3 662.7l3.9 -5.1l2.8 1.9l-3.9 5.2zM249.1 664.7l3.9 -5.2l4.7 3.3l-4 5.1z" fill="#036ae1" stroke="#036ae1"/>
<path d="M293.8 686.8l4 -5.5l13 8.1l-4 5.6zM429.3 763l3.9 -5.9l20.2 10.6l-3.9 6zM449.5 773.7l3.9 -6l20.3 10.8l-3.9 6.1zM253.7 667.9l4 -5.1l6.5 4.5l-4 5.1zM678 904l3.9 -5.5l4.7 2.2l-3.9 5.6zM682.7 906.3l3.9 -5.6l2.8 1.4l-3.9 5.5zM685.5 907.6l3.9 -5.5l0.9 0.5l-3.9 5.5z" fill="#026ae1" stroke="#026ae1"/>
<path d="M306.8 695l4 -5.6l14.4 8.4l-4 5.6zM321.2 703.4l4 -5.6l15.6 9l-3.9 5.8zM336.9 712.6l3.9 -5.8l16.8 9.8l-3.9 5.8zM390.1 742.5l4 -5.8l19.3 10l-4 5.9zM409.4 752.6l4 -5.9l19.8 10.4l-3.9 5.9zM260.2 672.4l4 -5.1l8.2 5.7l-4 5.1zM663.3 896.8l3.9 -5.5l8.2 4l-3.9 5.5zM671.5 900.8l3.9 -5.5l6.5 3.2l-3.9 5.5z" fill="#0269e1" stroke="#0269e1"/>
<path d="M353.7 722.4l3.9 -5.8l17.8 10.3l-3.9 5.8zM371.5 732.7l3.9 -5.8l18.7 9.8l-4 5.8zM268.4 678.1l4 -5.1l9.9 6.5l-3.9 5.2zM641.9 886.2l3.9 -5.5l11.5 5.7l-3.9 5.6zM653.4 892l3.9 -5.6l9.9 4.9l-3.9 5.5zM241.4 667.2l3.9 -5.2l1 0.7l-4 5.1zM242.3 667.8l4 -5.1l2.8 2l-4 5.1z" fill="#0268e1" stroke="#0268e1"/>
<path d="M278.4 684.7l3.9 -5.2l11.5 7.3l-3.9 5.2zM465.9 790l3.9 -5.4l20.3 10.9l-3.9 5.5zM486.2 801l3.9 -5.5l20.2 11l-3.9 5.5zM506.4 812l3.9 -5.5l19.9 11l-4 5.6zM526.2 823.1l4 -5.6l19.3 10.8l-4 5.5zM545.5 833.8l4 -5.5l18.6 10.4l-3.9 5.6zM564.2 844.3l3.9 -5.6l17.8 10l-3.9 5.5zM582 854.2l3.9 -5.5l16.8 9.4l-3.9 5.5zM598.8 863.6l3.9 -5.5l15.7 8.4l-3.9 5.5zM614.5 872l3.9 -5.5l14.4 7.4l-3.9 5.6zM628.9 879.5l3.9 -5.6l13 6.8l-3.9 5.5zM245.1 669.8l4 -5.1l4.6 3.2l-3.9 5.1zM249.8 673l3.9 -5.1l6.5 4.5l-3.9 5.2z" fill="#0267e1" stroke="#0267e1"/>
<path d="M289.9 692l3.9 -5.2l13 8.2l-3.9 5.3zM302.9 700.3l3.9 -5.3l14.4 8.4l-3.9 5.3zM317.3 708.7l3.9 -5.3l15.7 9.2l-3.9 5.3zM333 717.9l3.9 -5.3l16.8 9.8l-3.9 5.3zM386.2 747.9l3.9 -5.4l19.3 10.1l-3.9 5.5zM405.5 758.1l3.9 -5.5l19.9 10.4l-4 5.5zM425.3 768.5l4 -5.5l20.2 10.7l-4 5.5zM445.5 779.2l4 -5.5l20.3 10.9l-3.9 5.4zM256.3 677.6l3.9 -5.2l8.2 5.7l-3.9 5.2zM264.5 683.3l3.9 -5.2l10 6.6l-4 5.2zM649.5 897.5l3.9 -5.5l9.9 4.8l-3.9 5.5zM659.4 902.3l3.9 -5.5l8.2 4l-3.9 5.5zM667.6 906.3l3.9 -5.5l6.5 3.2l-3.9 5.5zM674.1 909.5l3.9 -5.5l4.7 2.3l-3.9 5.5zM678.8 911.8l3.9 -5.5l2.8 1.3l-3.9 5.5zM681.6 913.1l3.9 -5.5l0.9 0.5l-3.9 5.5zM237.4 672.3l4 -5.1l0.9 0.6l-3.9 5.1z" fill="#0266e1" stroke="#0266e1"/>
<path d="M349.8 727.7l3.9 -5.3l17.8 10.3l-3.9 5.4zM367.6 738.1l3.9 -5.4l18.6 9.8l-3.9 5.4zM274.4 689.9l4 -5.2l11.5 7.3l-4 5.2zM625 885l3.9 -5.5l13 6.7l-3.9 5.5zM638 891.7l3.9 -5.5l11.5 5.8l-3.9 5.5zM238.4 672.9l3.9 -5.1l2.8 2l-3.9 5.1zM241.2 674.9l3.9 -5.1l4.7 3.2l-4 5.2z" fill="#0265e1" stroke="#0265e1"/>
<path d="M285.9 697.2l4 -5.2l13 8.3l-4 5.2zM441.6 784.6l3.9 -5.4l20.4 10.8l-3.9 5.5zM461.9 795.5l3.9 -5.5l20.3 11l-3.9 5.4zM482.3 806.4l3.9 -5.4l20.2 11l-3.9 5.5zM502.5 817.5l3.9 -5.5l19.8 11.1l-3.9 5.5zM522.3 828.6l3.9 -5.5l19.3 10.7l-3.9 5.5zM541.6 839.3l3.9 -5.5l18.7 10.5l-3.9 5.5zM560.3 849.8l3.9 -5.5l17.8 9.9l-3.9 5.5zM578.1 859.7l3.9 -5.5l16.8 9.4l-3.9 5.5zM594.9 869.1l3.9 -5.5l15.7 8.4l-3.9 5.6zM610.6 877.6l3.9 -5.6l14.4 7.5l-3.9 5.5zM245.8 678.2l4 -5.2l6.5 4.6l-4 5.1zM677.7 918.6l3.9 -5.5l0.9 0.5l-3.9 5.5z" fill="#0364e1" stroke="#0364e1"/>
<path d="M298.9 705.5l4 -5.2l14.4 8.4l-4 5.3zM313.3 714l4 -5.3l15.7 9.2l-4 5.3zM401.6 763.5l3.9 -5.4l19.8 10.4l-3.9 5.4zM421.4 773.9l3.9 -5.4l20.2 10.7l-3.9 5.4zM252.3 682.7l4 -5.1l8.2 5.7l-4 5.2zM663.7 911.8l3.9 -5.5l6.5 3.2l-3.9 5.5zM670.2 915l3.9 -5.5l4.7 2.3l-3.9 5.4zM674.9 917.2l3.9 -5.4l2.8 1.3l-3.9 5.5z" fill="#0363e1" stroke="#0363e1"/>
<path d="M329 723.2l4 -5.3l16.8 9.8l-4 5.3zM345.8 733l4 -5.3l17.8 10.4l-4 5.4zM363.6 743.5l4 -5.4l18.6 9.8l-3.9 5.4zM382.3 753.3l3.9 -5.4l19.3 10.2l-3.9 5.4zM260.5 688.5l4 -5.2l9.9 6.6l-3.9 5.2zM645.6 903l3.9 -5.5l9.9 4.8l-3.9 5.5zM655.5 907.8l3.9 -5.5l8.2 4l-3.9 5.5zM233.5 677.4l3.9 -5.1l1 0.6l-4 5.2zM234.4 678.1l4 -5.2l2.8 2l-4 5.1z" fill="#0462e0" stroke="#0462e0"/>
<path d="M270.5 695.1l3.9 -5.2l11.5 7.3l-3.9 5.3zM621.1 890.5l3.9 -5.5l13 6.7l-3.9 5.5zM634.1 897.2l3.9 -5.5l11.5 5.8l-3.9 5.5zM237.2 680l4 -5.1l4.6 3.3l-3.9 5.1zM241.9 683.3l3.9 -5.1l6.5 4.5l-3.9 5.2z" fill="#0661e0" stroke="#0661e0"/>
<path d="M282 702.5l3.9 -5.3l13 8.3l-3.9 5.3zM295 710.8l3.9 -5.3l14.4 8.5l-3.9 5.3zM437.7 790l3.9 -5.4l20.4 10.9l-4 5.4zM458 800.9l4 -5.4l20.3 10.9l-3.9 5.5zM478.4 811.9l3.9 -5.5l20.2 11.1l-3.9 5.4zM498.6 822.9l3.9 -5.4l19.8 11.1l-3.9 5.4zM518.4 834l3.9 -5.4l19.3 10.7l-3.9 5.5zM537.7 844.8l3.9 -5.5l18.7 10.5l-3.9 5.5zM556.4 855.3l3.9 -5.5l17.8 9.9l-3.9 5.5zM574.2 865.2l3.9 -5.5l16.8 9.4l-3.9 5.6zM591 874.7l3.9 -5.6l15.7 8.5l-3.9 5.5zM606.7 883.1l3.9 -5.5l14.4 7.4l-3.9 5.5zM248.4 687.9l3.9 -5.2l8.2 5.8l-3.9 5.2zM671 922.7l3.9 -5.5l2.8 1.4l-3.9 5.4zM673.8 924l3.9 -5.4l0.9 0.5l-3.9 5.4z" fill="#0860df" stroke="#0860df"/>
<path d="M309.4 719.3l3.9 -5.3l15.7 9.2l-3.9 5.3zM325.1 728.5l3.9 -5.3l16.8 9.8l-3.9 5.4zM378.3 758.7l4 -5.4l19.3 10.2l-3.9 5.4zM397.7 768.9l3.9 -5.4l19.8 10.4l-3.9 5.4zM417.5 779.3l3.9 -5.4l20.2 10.7l-3.9 5.4zM256.6 693.7l3.9 -5.2l10 6.6l-4 5.2zM651.6 913.3l3.9 -5.5l8.2 4l-3.9 5.5zM659.8 917.3l3.9 -5.5l6.5 3.2l-3.9 5.4zM666.3 920.4l3.9 -5.4l4.7 2.2l-3.9 5.5zM229.5 682.5l4 -5.1l0.9 0.7l-4 5.1zM230.4 683.2l4 -5.1l2.8 1.9l-3.9 5.2z" fill="#0a5fdf" stroke="#0a5fdf"/>
<path d="M341.9 738.4l3.9 -5.4l17.8 10.5l-3.9 5.3zM359.7 748.8l3.9 -5.3l18.7 9.8l-4 5.4zM266.5 700.3l4 -5.2l11.5 7.4l-4 5.2zM630.2 902.7l3.9 -5.5l11.5 5.8l-3.9 5.4zM641.7 908.4l3.9 -5.4l9.9 4.8l-3.9 5.5zM233.3 685.2l3.9 -5.2l4.7 3.3l-4 5.2z" fill="#0c5dde" stroke="#0c5dde"/>
<path d="M278 707.7l4 -5.2l13 8.3l-4 5.2zM474.5 817.3l3.9 -5.4l20.2 11l-4 5.5zM494.6 828.4l4 -5.5l19.8 11.1l-3.9 5.5zM602.7 888.6l4 -5.5l14.4 7.4l-3.9 5.5zM617.2 896l3.9 -5.5l13 6.7l-3.9 5.5zM237.9 688.5l4 -5.2l6.5 4.6l-4 5.1z" fill="#0e5cde" stroke="#0e5cde"/>
<path d="M291 716l4 -5.2l14.4 8.5l-3.9 5.2zM305.5 724.5l3.9 -5.2l15.7 9.2l-4 5.3zM413.6 784.7l3.9 -5.4l20.2 10.7l-4 5.4zM433.7 795.4l4 -5.4l20.3 10.9l-3.9 5.5zM454.1 806.4l3.9 -5.5l20.4 11l-3.9 5.4zM514.5 839.5l3.9 -5.5l19.3 10.8l-3.9 5.5zM533.8 850.3l3.9 -5.5l18.7 10.5l-3.9 5.4zM552.5 860.7l3.9 -5.4l17.8 9.9l-3.9 5.5zM570.3 870.7l3.9 -5.5l16.8 9.5l-3.9 5.4zM587.1 880.1l3.9 -5.4l15.7 8.4l-4 5.5zM244.4 693l4 -5.1l8.2 5.8l-4 5.2zM662.4 925.8l3.9 -5.4l4.7 2.3l-3.9 5.4zM667.1 928.1l3.9 -5.4l2.8 1.3l-3.9 5.4zM669.9 929.4l3.9 -5.4l0.9 0.5l-3.9 5.4z" fill="#105bdd" stroke="#105bdd"/>
<path d="M321.1 733.8l4 -5.3l16.8 9.9l-4 5.3zM374.4 764.1l3.9 -5.4l19.4 10.2l-4 5.3zM393.7 774.2l4 -5.3l19.8 10.4l-3.9 5.4zM252.6 698.9l4 -5.2l9.9 6.6l-3.9 5.2zM647.7 918.7l3.9 -5.4l8.2 4l-3.9 5.4zM655.9 922.7l3.9 -5.4l6.5 3.1l-3.9 5.4zM225.5 687.6l4 -5.1l0.9 0.7l-3.9 5.1zM226.5 688.3l3.9 -5.1l2.9 2l-4 5.1zM229.3 690.3l4 -5.1l4.6 3.3l-3.9 5.1z" fill="#135adb" stroke="#135adb"/>
<path d="M337.9 743.7l4 -5.3l17.8 10.4l-4 5.4zM355.7 754.2l4 -5.4l18.6 9.9l-3.9 5.4zM262.6 705.5l3.9 -5.2l11.5 7.4l-3.9 5.2zM626.3 908.1l3.9 -5.4l11.5 5.7l-3.9 5.5zM637.8 913.9l3.9 -5.5l9.9 4.9l-3.9 5.4zM234 693.6l3.9 -5.1l6.5 4.5l-4 5.2z" fill="#1658da" stroke="#1658da"/>
<path d="M274.1 712.9l3.9 -5.2l13 8.3l-3.9 5.3zM450.2 811.8l3.9 -5.4l20.4 10.9l-4 5.4zM470.5 822.7l4 -5.4l20.1 11.1l-3.9 5.4zM490.7 833.8l3.9 -5.4l19.9 11.1l-3.9 5.4zM510.6 844.9l3.9 -5.4l19.3 10.8l-3.9 5.4zM529.9 855.7l3.9 -5.4l18.7 10.4l-4 5.5zM548.5 866.2l4 -5.5l17.8 10l-4 5.5zM583.2 885.6l3.9 -5.5l15.6 8.5l-3.9 5.4zM598.8 894l3.9 -5.4l14.5 7.4l-3.9 5.4zM613.3 901.4l3.9 -5.4l13 6.7l-3.9 5.4zM240.4 698.2l4 -5.2l8.2 5.9l-3.9 5.1z" fill="#1857d8" stroke="#1857d8"/>
<path d="M287.1 721.3l3.9 -5.3l14.5 8.5l-4 5.3zM301.5 729.8l4 -5.3l15.6 9.3l-3.9 5.3zM389.8 779.6l3.9 -5.4l19.9 10.5l-4 5.4zM409.6 790.1l4 -5.4l20.1 10.7l-3.9 5.4zM429.8 800.8l3.9 -5.4l20.4 11l-3.9 5.4zM566.3 876.2l4 -5.5l16.8 9.4l-3.9 5.5zM248.7 704l3.9 -5.1l10 6.6l-4 5.2zM652.1 928l3.8 -5.3l6.5 3.1l-3.9 5.4zM658.5 931.2l3.9 -5.4l4.7 2.3l-3.9 5.3zM663.2 933.4l3.9 -5.3l2.8 1.3l-3.9 5.4zM666 934.8l3.9 -5.4l0.9 0.5l-3.8 5.3zM221.6 692.7l3.9 -5.1l1 0.7l-4 5.1zM222.5 693.4l4 -5.1l2.8 2l-4 5.1z" fill="#1b55d7" stroke="#1b55d7"/>
<path d="M317.2 739.1l3.9 -5.3l16.8 9.9l-3.9 5.3zM334 749l3.9 -5.3l17.8 10.5l-3.9 5.3zM351.8 759.5l3.9 -5.3l18.7 9.9l-3.9 5.3zM370.5 769.4l3.9 -5.3l19.3 10.1l-3.9 5.4zM258.6 710.7l4 -5.2l11.5 7.4l-4 5.2zM633.9 919.3l3.9 -5.4l9.9 4.8l-3.9 5.4zM643.8 924.1l3.9 -5.4l8.2 4l-3.8 5.3zM225.3 695.4l4 -5.1l4.7 3.3l-4 5.1z" fill="#1e54d5" stroke="#1e54d5"/>
<path d="M270.1 718.1l4 -5.2l13 8.4l-4 5.2zM609.4 906.9l3.9 -5.5l13 6.7l-3.9 5.5zM622.4 913.6l3.9 -5.5l11.5 5.8l-3.9 5.4zM230 698.7l4 -5.1l6.4 4.6l-3.9 5.2z" fill="#2053d4" stroke="#2053d4"/>
<path d="M283.1 726.5l4 -5.2l14.4 8.5l-3.9 5.3zM425.9 806.2l3.9 -5.4l20.4 11l-4 5.3zM446.2 817.1l4 -5.3l20.3 10.9l-3.9 5.4zM466.6 828.1l3.9 -5.4l20.2 11.1l-3.9 5.4zM486.8 839.2l3.9 -5.4l19.9 11.1l-4 5.4zM506.6 850.3l4 -5.4l19.3 10.8l-3.9 5.5zM526 861.2l3.9 -5.5l18.6 10.5l-3.9 5.4zM544.6 871.6l3.9 -5.4l17.8 10l-3.9 5.4zM562.4 881.6l3.9 -5.4l16.9 9.4l-3.9 5.4zM579.3 891l3.9 -5.4l15.6 8.4l-3.9 5.5zM594.9 899.5l3.9 -5.5l14.5 7.4l-3.9 5.5zM236.5 703.4l3.9 -5.2l8.3 5.8l-4 5.2zM659.3 938.8l3.9 -5.4l2.8 1.4l-3.9 5.4zM662.1 940.2l3.9 -5.4l1 0.4l-3.9 5.4zM217.6 697.9l4 -5.2l0.9 0.7l-3.9 5.1z" fill="#2251d1" stroke="#2251d1"/>
<path d="M297.6 735.1l3.9 -5.3l15.7 9.3l-4 5.2zM313.2 744.3l4 -5.2l16.8 9.9l-3.9 5.3zM366.5 774.8l4 -5.4l19.3 10.2l-3.9 5.3zM385.9 784.9l3.9 -5.3l19.8 10.5l-3.9 5.3zM405.7 795.4l3.9 -5.3l20.2 10.7l-3.9 5.4zM244.7 709.2l4 -5.2l9.9 6.7l-3.9 5.2zM639.9 929.5l3.9 -5.4l8.3 3.9l-3.9 5.4zM648.2 933.4l3.9 -5.4l6.4 3.2l-3.9 5.3zM654.6 936.5l3.9 -5.3l4.7 2.2l-3.9 5.4zM218.6 698.5l3.9 -5.1l2.8 2l-3.9 5.1zM221.4 700.5l3.9 -5.1l4.7 3.3l-3.9 5.2z" fill="#2450cf" stroke="#2450cf"/>
<path d="M330.1 754.3l3.9 -5.3l17.8 10.5l-3.9 5.4zM347.9 764.9l3.9 -5.4l18.7 9.9l-4 5.4zM254.7 715.9l3.9 -5.2l11.5 7.4l-3.9 5.2zM630 924.7l3.9 -5.4l9.9 4.8l-3.9 5.4zM226.1 703.9l3.9 -5.2l6.5 4.7l-4 5.1z" fill="#264fcd" stroke="#264fcd"/>
<path d="M266.2 723.3l3.9 -5.2l13 8.4l-3.9 5.3zM462.7 833.5l3.9 -5.4l20.2 11.1l-3.9 5.4zM482.9 844.6l3.9 -5.4l19.8 11.1l-3.9 5.4zM605.4 912.3l4 -5.4l13 6.7l-3.9 5.4zM618.5 919l3.9 -5.4l11.5 5.7l-3.9 5.4zM232.5 708.5l4 -5.1l8.2 5.8l-3.9 5.2z" fill="#274dcb" stroke="#274dcb"/>
<path d="M279.2 731.8l3.9 -5.3l14.5 8.6l-4 5.2zM293.6 740.3l4 -5.2l15.6 9.2l-3.9 5.3zM401.8 800.8l3.9 -5.4l20.2 10.8l-3.9 5.4zM422 811.6l3.9 -5.4l20.3 10.9l-3.9 5.4zM442.3 822.5l3.9 -5.4l20.4 11l-3.9 5.4zM502.7 855.7l3.9 -5.4l19.4 10.9l-3.9 5.4zM522.1 866.6l3.9 -5.4l18.6 10.4l-3.9 5.4zM540.7 877l3.9 -5.4l17.8 10l-3.9 5.4zM558.5 887l3.9 -5.4l16.9 9.4l-4 5.5zM575.3 896.5l4 -5.5l15.6 8.5l-3.9 5.4zM591 904.9l3.9 -5.4l14.5 7.4l-4 5.4zM240.8 714.4l3.9 -5.2l10 6.7l-4 5.2zM650.7 941.9l3.9 -5.4l4.7 2.3l-3.9 5.4zM655.4 944.2l3.9 -5.4l2.8 1.4l-3.9 5.3zM658.2 945.5l3.9 -5.3l1 0.4l-3.9 5.4zM213.7 703l3.9 -5.1l1 0.6l-4 5.1zM214.6 703.6l4 -5.1l2.8 2l-4 5.2z" fill="#294cc9" stroke="#294cc9"/>
<path d="M309.3 749.6l3.9 -5.3l16.9 10l-4 5.3zM326.1 759.6l4 -5.3l17.8 10.6l-4 5.3zM343.9 770.2l4 -5.3l18.6 9.9l-3.9 5.3zM362.6 780.1l3.9 -5.3l19.4 10.1l-4 5.4zM381.9 790.3l4 -5.4l19.8 10.5l-3.9 5.4zM250.7 721.1l4 -5.2l11.5 7.4l-4 5.2zM636 934.8l3.9 -5.3l8.3 3.9l-3.9 5.4zM644.3 938.8l3.9 -5.4l6.4 3.1l-3.9 5.4zM217.4 705.7l4 -5.2l4.7 3.4l-4 5.1z" fill="#2b4bc7" stroke="#2b4bc7"/>
<path d="M262.2 728.5l4 -5.2l13 8.5l-3.9 5.2zM614.6 924.4l3.9 -5.4l11.5 5.7l-3.9 5.4zM626.1 930.1l3.9 -5.4l9.9 4.8l-3.9 5.3zM222.1 709l4 -5.1l6.4 4.6l-3.9 5.2z" fill="#2c4ac5" stroke="#2c4ac5"/>
<path d="M275.3 737l3.9 -5.2l14.4 8.5l-3.9 5.3zM438.4 827.9l3.9 -5.4l20.4 11l-3.9 5.4zM458.8 838.9l3.9 -5.4l20.2 11.1l-3.9 5.4zM479 850l3.9 -5.4l19.8 11.1l-3.9 5.5zM498.8 861.2l3.9 -5.5l19.4 10.9l-4 5.4zM518.1 872l4 -5.4l18.6 10.4l-3.9 5.5zM587.1 910.3l3.9 -5.4l14.4 7.4l-3.9 5.4zM601.5 917.7l3.9 -5.4l13.1 6.7l-3.9 5.4zM228.6 713.7l3.9 -5.2l8.3 5.9l-4 5.2zM654.3 950.9l3.9 -5.4l1 0.5l-3.9 5.3zM209.7 708.1l4 -5.1l0.9 0.6l-3.9 5.2z" fill="#2d49c3" stroke="#2d49c3"/>
<path d="M289.7 745.6l3.9 -5.3l15.7 9.3l-3.9 5.3zM305.4 754.9l3.9 -5.3l16.8 10l-3.9 5.3zM378 795.7l3.9 -5.4l19.9 10.5l-4 5.4zM397.8 806.2l4 -5.4l20.2 10.8l-4 5.3zM418 816.9l4 -5.3l20.3 10.9l-3.9 5.4zM536.8 882.5l3.9 -5.5l17.8 10l-3.9 5.5zM554.6 892.5l3.9 -5.5l16.8 9.5l-3.9 5.4zM571.4 901.9l3.9 -5.4l15.7 8.4l-3.9 5.4zM236.8 719.6l4 -5.2l9.9 6.7l-3.9 5.2zM640.4 944.2l3.9 -5.4l6.4 3.1l-3.9 5.4zM646.8 947.3l3.9 -5.4l4.7 2.3l-3.9 5.3zM651.5 949.5l3.9 -5.3l2.8 1.3l-3.9 5.4zM210.7 708.8l3.9 -5.2l2.8 2.1l-3.9 5.1zM213.5 710.8l3.9 -5.1l4.7 3.3l-3.9 5.2z" fill="#2e47c1" stroke="#2e47c1"/>
<path d="M322.2 764.9l3.9 -5.3l17.8 10.6l-3.9 5.3zM340 775.5l3.9 -5.3l18.7 9.9l-3.9 5.3zM358.7 785.4l3.9 -5.3l19.3 10.2l-3.9 5.4zM246.8 726.3l3.9 -5.2l11.5 7.4l-3.9 5.3zM622.2 935.5l3.9 -5.4l9.9 4.7l-3.9 5.4zM632.1 940.2l3.9 -5.4l8.3 4l-3.9 5.4zM218.2 714.2l3.9 -5.2l6.5 4.7l-4 5.1z" fill="#2f46bf" stroke="#2f46bf"/>
<path d="M258.3 733.8l3.9 -5.3l13.1 8.5l-4 5.2zM597.6 923.1l3.9 -5.4l13.1 6.7l-3.9 5.4zM610.7 929.8l3.9 -5.4l11.5 5.7l-3.9 5.4zM224.6 718.8l4 -5.1l8.2 5.9l-3.9 5.1z" fill="#3045bd" stroke="#3045bd"/>
<path d="M271.3 742.2l4 -5.2l14.4 8.6l-4 5.2zM285.7 750.8l4 -5.2l15.7 9.3l-4 5.3zM393.9 811.5l3.9 -5.3l20.2 10.7l-3.9 5.4zM414.1 822.3l3.9 -5.4l20.4 11l-3.9 5.4zM434.5 833.3l3.9 -5.4l20.4 11l-4 5.4zM454.8 844.3l4 -5.4l20.2 11.1l-4 5.4zM475 855.4l4 -5.4l19.8 11.2l-3.9 5.4zM494.9 866.6l3.9 -5.4l19.3 10.8l-3.9 5.4zM514.2 877.4l3.9 -5.4l18.7 10.5l-3.9 5.4zM532.9 887.9l3.9 -5.4l17.8 10l-3.9 5.4zM550.7 897.9l3.9 -5.4l16.8 9.4l-3.9 5.4zM567.5 907.3l3.9 -5.4l15.7 8.4l-3.9 5.4zM583.2 915.7l3.9 -5.4l14.4 7.4l-3.9 5.4zM232.9 724.7l3.9 -5.1l10 6.7l-4 5.1zM642.9 952.6l3.9 -5.3l4.7 2.2l-3.9 5.4zM647.6 954.9l3.9 -5.4l2.8 1.4l-3.9 5.3zM650.4 956.2l3.9 -5.3l1 0.4l-3.9 5.4zM205.8 713.2l3.9 -5.1l1 0.7l-4 5.1zM206.7 713.9l4 -5.1l2.8 2l-4 5.1z" fill="#3144bb" stroke="#3144bb"/>
<path d="M301.4 760.2l4 -5.3l16.8 10l-4 5.3zM318.2 770.2l4 -5.3l17.8 10.6l-3.9 5.3zM354.7 790.8l4 -5.4l19.3 10.3l-3.9 5.3zM374.1 801l3.9 -5.3l19.8 10.5l-3.9 5.3zM242.8 731.4l4 -5.1l11.5 7.5l-4 5.2zM628.2 945.6l3.9 -5.4l8.3 4l-3.9 5.3zM636.5 949.5l3.9 -5.3l6.4 3.1l-3.9 5.3zM209.5 715.9l4 -5.1l4.7 3.4l-4 5.1zM214.2 719.3l4 -5.1l6.4 4.6l-3.9 5.2z" fill="#3243b9" stroke="#3243b9"/>
<path d="M336.1 780.8l3.9 -5.3l18.7 9.9l-4 5.4zM254.3 739l4 -5.2l13 8.4l-3.9 5.3zM618.3 940.8l3.9 -5.3l9.9 4.7l-3.9 5.4zM220.7 724l3.9 -5.2l8.3 5.9l-4 5.2z" fill="#3342b7" stroke="#3342b7"/>
<path d="M267.4 747.5l3.9 -5.3l14.4 8.6l-3.9 5.3zM450.9 849.7l3.9 -5.4l20.2 11.1l-3.9 5.4zM593.7 928.5l3.9 -5.4l13.1 6.7l-3.9 5.4zM606.8 935.2l3.9 -5.4l11.5 5.7l-3.9 5.3zM201.8 718.3l4 -5.1l0.9 0.7l-3.9 5.1zM202.8 719l3.9 -5.1l2.8 2l-3.9 5.1z" fill="#3341b5" stroke="#3341b5"/>
<path d="M281.8 756.1l3.9 -5.3l15.7 9.4l-3.9 5.3zM297.5 765.5l3.9 -5.3l16.8 10l-3.9 5.3zM370.1 806.4l4 -5.4l19.8 10.5l-3.9 5.4zM390 816.9l3.9 -5.4l20.2 10.8l-3.9 5.4zM410.2 827.7l3.9 -5.4l20.4 11l-3.9 5.4zM430.6 838.7l3.9 -5.4l20.3 11l-3.9 5.4zM471.1 860.8l3.9 -5.4l19.9 11.2l-3.9 5.4zM491 872l3.9 -5.4l19.3 10.8l-3.9 5.4zM510.3 882.8l3.9 -5.4l18.7 10.5l-3.9 5.4zM529 893.3l3.9 -5.4l17.8 10l-3.9 5.4zM546.8 903.3l3.9 -5.4l16.8 9.4l-3.9 5.4zM563.6 912.7l3.9 -5.4l15.7 8.4l-3.9 5.5zM579.3 921.2l3.9 -5.5l14.4 7.4l-3.9 5.4zM228.9 729.9l4 -5.2l9.9 6.7l-3.9 5.2zM639 958l3.9 -5.4l4.7 2.3l-3.9 5.3zM643.7 960.2l3.9 -5.3l2.8 1.3l-3.9 5.4zM646.5 961.6l3.9 -5.4l1 0.5l-3.9 5.3zM205.6 721l3.9 -5.1l4.7 3.4l-3.9 5.1z" fill="#3440b3" stroke="#3440b3"/>
<path d="M314.3 775.5l3.9 -5.3l17.9 10.6l-4 5.4zM332.1 786.2l4 -5.4l18.6 10l-3.9 5.3zM350.8 796.1l3.9 -5.3l19.4 10.2l-4 5.4zM238.9 736.6l3.9 -5.2l11.5 7.6l-3.9 5.2zM624.3 951l3.9 -5.4l8.3 3.9l-3.9 5.4zM632.6 954.9l3.9 -5.4l6.4 3.1l-3.9 5.4zM210.3 724.4l3.9 -5.1l6.5 4.7l-4 5.1z" fill="#343fb1" stroke="#343fb1"/>
<path d="M250.4 744.2l3.9 -5.2l13.1 8.5l-4 5.2zM602.9 940.6l3.9 -5.4l11.5 5.6l-3.9 5.4zM614.4 946.2l3.9 -5.4l9.9 4.8l-3.9 5.4zM216.7 729.1l4 -5.1l8.2 5.9l-3.9 5.2z" fill="#353eaf" stroke="#353eaf"/>
<path d="M263.4 752.7l4 -5.2l14.4 8.6l-4 5.3zM277.8 761.4l4 -5.3l15.7 9.4l-4 5.3zM406.2 833.1l4 -5.4l20.4 11l-4 5.4zM426.6 844.1l4 -5.4l20.3 11l-3.9 5.4zM447 855.1l3.9 -5.4l20.2 11.1l-3.9 5.4zM467.2 866.2l3.9 -5.4l19.9 11.2l-3.9 5.4zM487.1 877.4l3.9 -5.4l19.3 10.8l-3.9 5.4zM506.4 888.2l3.9 -5.4l18.7 10.5l-3.9 5.4zM575.4 926.6l3.9 -5.4l14.4 7.3l-3.9 5.4zM589.8 933.9l3.9 -5.4l13.1 6.7l-3.9 5.4zM225 735.1l3.9 -5.2l10 6.7l-4 5.2zM642.6 966.9l3.9 -5.3l1 0.4l-3.9 5.4zM197.9 723.4l3.9 -5.1l1 0.7l-4 5.1zM198.8 724.1l4 -5.1l2.8 2l-4 5.2zM201.6 726.2l4 -5.2l4.7 3.4l-4 5.2z" fill="#353dad" stroke="#353dad"/>
<path d="M293.5 770.8l4 -5.3l16.8 10l-3.9 5.3zM366.2 811.7l3.9 -5.3l19.9 10.5l-4 5.3zM386 822.2l4 -5.3l20.2 10.8l-4 5.4zM525.1 898.7l3.9 -5.4l17.8 10l-3.9 5.4zM542.9 908.7l3.9 -5.4l16.8 9.4l-3.9 5.5zM559.7 918.2l3.9 -5.5l15.7 8.5l-3.9 5.4zM234.9 741.8l4 -5.2l11.5 7.6l-4 5.2zM628.7 960.3l3.9 -5.4l6.4 3.1l-3.9 5.4zM635.1 963.4l3.9 -5.4l4.7 2.2l-3.9 5.4zM639.8 965.6l3.9 -5.4l2.8 1.4l-3.9 5.3zM206.3 729.6l4 -5.2l6.4 4.7l-3.9 5.2z" fill="#353cab" stroke="#353cab"/>
<path d="M310.4 780.8l3.9 -5.3l17.8 10.7l-3.9 5.3zM328.2 791.5l3.9 -5.3l18.7 9.9l-4 5.4zM346.8 801.5l4 -5.4l19.3 10.3l-3.9 5.3zM246.4 749.4l4 -5.2l13 8.5l-3.9 5.3zM610.5 951.6l3.9 -5.4l9.9 4.8l-3.9 5.3zM620.4 956.3l3.9 -5.3l8.3 3.9l-3.9 5.4zM212.8 734.3l3.9 -5.2l8.3 6l-4 5.2z" fill="#353ba9" stroke="#353ba9"/>
<path d="M259.5 758l3.9 -5.3l14.4 8.7l-3.9 5.2zM585.9 939.3l3.9 -5.4l13.1 6.7l-3.9 5.4zM599 946l3.9 -5.4l11.5 5.6l-3.9 5.4zM193.9 728.6l4 -5.2l0.9 0.7l-3.9 5.1zM194.9 729.2l3.9 -5.1l2.8 2.1l-3.9 5.1z" fill="#363aa7" stroke="#363aa7"/>
<path d="M273.9 766.6l3.9 -5.2l15.7 9.4l-3.9 5.2zM382.1 827.6l3.9 -5.4l20.2 10.9l-3.9 5.3zM402.3 838.4l3.9 -5.3l20.4 11l-3.9 5.4zM422.7 849.5l3.9 -5.4l20.4 11l-3.9 5.4zM443.1 860.5l3.9 -5.4l20.2 11.1l-3.9 5.4zM463.3 871.6l3.9 -5.4l19.9 11.2l-4 5.4zM483.1 882.8l4 -5.4l19.3 10.8l-3.9 5.4zM502.5 893.6l3.9 -5.4l18.7 10.5l-3.9 5.4zM521.2 904.1l3.9 -5.4l17.8 10l-3.9 5.4zM539 914.1l3.9 -5.4l16.8 9.5l-3.9 5.4zM555.8 923.6l3.9 -5.4l15.7 8.4l-3.9 5.4zM571.5 932l3.9 -5.4l14.4 7.3l-3.9 5.4zM221 740.3l4 -5.2l9.9 6.7l-3.9 5.2zM631.3 968.7l3.8 -5.3l4.7 2.2l-3.9 5.3zM635.9 970.9l3.9 -5.3l2.8 1.3l-3.9 5.4zM638.7 972.3l3.9 -5.4l1 0.5l-3.9 5.3zM197.7 731.3l3.9 -5.1l4.7 3.4l-4 5.1z" fill="#3639a5" stroke="#3639a5"/>
<path d="M289.6 776l3.9 -5.2l16.9 10l-4 5.3zM306.4 786.1l4 -5.3l17.8 10.7l-4 5.3zM324.2 796.8l4 -5.3l18.6 10l-3.9 5.3zM342.9 806.8l3.9 -5.3l19.4 10.2l-3.9 5.4zM362.3 817.1l3.9 -5.4l19.8 10.5l-3.9 5.4zM231 747l3.9 -5.2l11.5 7.6l-3.9 5.2zM616.5 961.7l3.9 -5.4l8.3 4l-3.9 5.3zM624.8 965.6l3.9 -5.3l6.4 3.1l-3.8 5.3zM202.3 734.7l4 -5.1l6.5 4.7l-4 5.1z" fill="#3638a3" stroke="#3638a3"/>
<path d="M242.5 754.6l3.9 -5.2l13.1 8.6l-4 5.2zM606.6 957l3.9 -5.4l9.9 4.7l-3.9 5.4zM208.8 739.4l4 -5.1l8.2 6l-3.9 5.1zM190 733.7l3.9 -5.1l1 0.6l-4 5.2z" fill="#3637a0" stroke="#3637a0"/>
<path d="M255.5 763.2l4 -5.2l14.4 8.6l-4 5.3zM269.9 771.9l4 -5.3l15.7 9.4l-4 5.3zM439.2 865.9l3.9 -5.4l20.2 11.1l-3.9 5.4zM582 944.7l3.9 -5.4l13.1 6.7l-3.9 5.3zM595.1 951.3l3.9 -5.3l11.5 5.6l-3.9 5.4zM217.1 745.4l3.9 -5.1l10 6.7l-4 5.2zM190.9 734.4l4 -5.2l2.8 2.1l-4 5.1zM193.7 736.4l4 -5.1l4.6 3.4l-3.9 5.1z" fill="#36369f" stroke="#36369f"/>
<path d="M285.6 781.3l4 -5.3l16.8 10.1l-3.9 5.3zM358.3 822.4l4 -5.3l19.8 10.5l-3.9 5.3zM378.2 832.9l3.9 -5.3l20.2 10.8l-3.9 5.4zM398.4 843.8l3.9 -5.4l20.4 11.1l-3.9 5.3zM418.8 854.8l3.9 -5.3l20.4 11l-3.9 5.4zM459.4 877l3.9 -5.4l19.8 11.2l-3.9 5.4zM479.2 888.2l3.9 -5.4l19.4 10.8l-3.9 5.4zM498.6 899l3.9 -5.4l18.7 10.5l-4 5.4zM517.2 909.5l4 -5.4l17.8 10l-3.9 5.4zM535.1 919.5l3.9 -5.4l16.8 9.5l-3.9 5.4zM551.9 929l3.9 -5.4l15.7 8.4l-3.9 5.4zM567.6 937.4l3.9 -5.4l14.4 7.3l-3.9 5.4zM227 752.2l4 -5.2l11.5 7.6l-4 5.2zM620.9 971l3.9 -5.4l6.5 3.1l-3.9 5.3zM627.4 974l3.9 -5.3l4.6 2.2l-3.9 5.3zM632 976.2l3.9 -5.3l2.8 1.4l-3.9 5.3zM634.8 977.6l3.9 -5.3l1 0.4l-3.9 5.3zM198.4 739.8l3.9 -5.1l6.5 4.7l-3.9 5.2z" fill="#36359d" stroke="#36359d"/>
<path d="M302.5 791.4l3.9 -5.3l17.8 10.7l-3.9 5.3zM320.3 802.1l3.9 -5.3l18.7 10l-3.9 5.3zM339 812.1l3.9 -5.3l19.4 10.3l-4 5.3zM238.5 759.8l4 -5.2l13 8.6l-3.9 5.2zM612.6 967.1l3.9 -5.4l8.3 3.9l-3.9 5.4zM204.9 744.6l3.9 -5.2l8.3 6l-4 5.2z" fill="#36349b" stroke="#36349b"/>
<path d="M251.6 768.4l3.9 -5.2l14.4 8.7l-3.9 5.2zM591.2 956.7l3.9 -5.4l11.5 5.7l-3.9 5.3zM602.7 962.3l3.9 -5.3l9.9 4.7l-3.9 5.4zM186 738.8l4 -5.1l0.9 0.7l-4 5.1zM186.9 739.5l4 -5.1l2.8 2l-3.9 5.1z" fill="#363399" stroke="#363399"/>
<path d="M266 777.1l3.9 -5.2l15.7 9.4l-3.9 5.3zM394.5 849.1l3.9 -5.3l20.4 11l-4 5.4zM414.9 860.2l4 -5.4l20.4 11.1l-4 5.4zM435.2 871.3l4 -5.4l20.2 11.1l-4 5.4zM455.4 882.4l4 -5.4l19.8 11.2l-3.9 5.4zM475.3 893.6l3.9 -5.4l19.4 10.8l-3.9 5.4zM563.7 942.8l3.9 -5.4l14.4 7.3l-3.9 5.4zM578.1 950.1l3.9 -5.4l13.1 6.6l-3.9 5.4zM213.1 750.6l4 -5.2l9.9 6.8l-3.9 5.2zM628.1 981.6l3.9 -5.4l2.8 1.4l-3.8 5.3zM631 982.9l3.8 -5.3l1 0.4l-3.9 5.4zM189.8 741.5l3.9 -5.1l4.7 3.4l-4 5.2z" fill="#363297" stroke="#363297"/>
<path d="M281.7 786.6l3.9 -5.3l16.9 10.1l-4 5.3zM298.5 796.7l4 -5.3l17.8 10.7l-3.9 5.4zM335 817.5l4 -5.4l19.3 10.3l-3.9 5.3zM354.4 827.7l3.9 -5.3l19.9 10.5l-3.9 5.4zM374.3 838.3l3.9 -5.4l20.2 10.9l-3.9 5.3zM494.7 904.4l3.9 -5.4l18.6 10.5l-3.9 5.4zM513.3 914.9l3.9 -5.4l17.9 10l-3.9 5.4zM531.2 924.9l3.9 -5.4l16.8 9.5l-3.9 5.4zM548 934.4l3.9 -5.4l15.7 8.4l-3.9 5.4zM223.1 757.4l3.9 -5.2l11.5 7.6l-3.9 5.3zM617 976.3l3.9 -5.3l6.5 3l-3.9 5.4zM623.5 979.4l3.9 -5.4l4.6 2.2l-3.9 5.4zM194.4 745l4 -5.2l6.5 4.8l-4 5.1z" fill="#363195" stroke="#363195"/>
<path d="M316.4 807.5l3.9 -5.4l18.7 10l-4 5.4zM234.6 765.1l3.9 -5.3l13.1 8.6l-4 5.3zM598.8 967.7l3.9 -5.4l9.9 4.8l-3.9 5.3zM608.7 972.4l3.9 -5.3l8.3 3.9l-3.9 5.3zM200.9 749.7l4 -5.1l8.2 6l-3.9 5.2z" fill="#363093" stroke="#363093"/>
<path d="M247.6 773.7l4 -5.3l14.4 8.7l-3.9 5.3zM262.1 782.4l3.9 -5.3l15.7 9.5l-3.9 5.3zM574.2 955.5l3.9 -5.4l13.1 6.6l-3.9 5.4zM587.3 962.1l3.9 -5.4l11.5 5.6l-3.9 5.4zM209.2 755.8l3.9 -5.2l10 6.8l-4 5.2z" fill="#362f91" stroke="#362f91"/>
<path d="M277.8 791.9l3.9 -5.3l16.8 10.1l-3.9 5.3zM370.3 843.6l4 -5.3l20.2 10.8l-4 5.4zM390.5 854.5l4 -5.4l20.3 11.1l-3.9 5.4zM410.9 865.6l3.9 -5.4l20.4 11.1l-3.9 5.3zM431.3 876.6l3.9 -5.3l20.2 11.1l-3.9 5.4zM451.5 887.8l3.9 -5.4l19.9 11.2l-3.9 5.3zM471.4 898.9l3.9 -5.3l19.4 10.8l-4 5.4zM490.7 909.8l4 -5.4l18.6 10.5l-3.9 5.4zM509.4 920.3l3.9 -5.4l17.9 10l-3.9 5.4zM527.3 930.3l3.9 -5.4l16.8 9.5l-3.9 5.4zM544.1 939.8l3.9 -5.4l15.7 8.4l-3.9 5.4zM559.8 948.2l3.9 -5.4l14.4 7.3l-3.9 5.4zM219.1 762.6l4 -5.2l11.5 7.7l-4 5.2zM619.6 984.7l3.9 -5.3l4.6 2.2l-3.9 5.3zM624.2 986.9l3.9 -5.3l2.9 1.3l-3.9 5.3zM627.1 988.2l3.9 -5.3l0.9 0.5l-3.9 5.3z" fill="#362e8f" stroke="#362e8f"/>
<path d="M294.6 802l3.9 -5.3l17.9 10.8l-4 5.3zM312.4 812.8l4 -5.3l18.6 10l-3.9 5.3zM331.1 822.8l3.9 -5.3l19.4 10.2l-3.9 5.4zM350.5 833.1l3.9 -5.4l19.9 10.6l-4 5.3zM230.6 770.3l4 -5.2l13 8.6l-3.9 5.2zM604.8 977.7l3.9 -5.3l8.3 3.9l-3.9 5.3zM613.1 981.6l3.9 -5.3l6.5 3.1l-3.9 5.3z" fill="#352d8d" stroke="#352d8d"/>
<path d="M243.7 778.9l3.9 -5.2l14.5 8.7l-4 5.2zM594.9 973.1l3.9 -5.4l9.9 4.7l-3.9 5.3z" fill="#352c8b" stroke="#352c8b"/>
<path d="M258.1 787.6l4 -5.2l15.7 9.5l-4 5.2zM427.4 882l3.9 -5.4l20.2 11.2l-3.9 5.4zM570.3 960.9l3.9 -5.4l13.1 6.6l-3.9 5.4zM583.4 967.5l3.9 -5.4l11.5 5.6l-3.9 5.4z" fill="#352b89" stroke="#352b89"/>
<path d="M273.8 797.1l4 -5.2l16.8 10.1l-3.9 5.3zM290.7 807.3l3.9 -5.3l17.8 10.8l-3.9 5.3zM308.5 818.1l3.9 -5.3l18.7 10l-3.9 5.3zM327.2 828.1l3.9 -5.3l19.4 10.3l-4 5.3zM346.5 838.4l4 -5.3l19.8 10.5l-3.9 5.4zM366.4 849l3.9 -5.4l20.2 10.9l-3.9 5.4zM386.6 859.9l3.9 -5.4l20.4 11.1l-3.9 5.3zM407 870.9l3.9 -5.3l20.4 11l-3.9 5.4zM447.6 893.2l3.9 -5.4l19.9 11.1l-3.9 5.4zM467.5 904.3l3.9 -5.4l19.3 10.9l-3.9 5.4zM486.8 915.2l3.9 -5.4l18.7 10.5l-3.9 5.4zM505.5 925.7l3.9 -5.4l17.9 10l-4 5.4zM523.3 935.7l4 -5.4l16.8 9.5l-3.9 5.4zM540.2 945.2l3.9 -5.4l15.7 8.4l-3.9 5.4zM555.9 953.6l3.9 -5.4l14.4 7.3l-3.9 5.4z" fill="#352a87" stroke="#352a87"/>
</g>
<g stroke="#262626" stroke-width="1.35" fill="none" stroke-linecap="square">
<path d="M186.0 801.0L186.0 267.0"/>
<path d="M186.0 801.0L628.0 1045.0"/>
<path d="M628.0 1045.0L1203.5 857.5"/>
</g>
<g stroke="#262626" stroke-width="1.3" fill="none" stroke-linecap="butt">
<path d="M628.0 1045.0L640.6 1052.0"/>
<path d="M186.0 801.0L170.0 806.2"/>
<path d="M186.0 801.0L170.2 792.3"/>
<path d="M771.9 998.1L784.5 1005.1"/>
<path d="M296.5 862.0L280.5 867.2"/>
<path d="M186.0 667.5L170.2 658.8"/>
<path d="M915.8 951.2L928.4 958.2"/>
<path d="M407.0 923.0L391.0 928.2"/>
<path d="M186.0 534.0L170.2 525.3"/>
<path d="M1059.6 904.4L1072.2 911.3"/>
<path d="M517.5 984.0L501.5 989.2"/>
<path d="M186.0 400.5L170.2 391.8"/>
<path d="M1203.5 857.5L1216.1 864.5"/>
<path d="M628.0 1045.0L612.0 1050.2"/>
<path d="M186.0 267.0L170.2 258.3"/>
</g>
<g font-family='"Liberation Sans", Arial, Helvetica, sans-serif' font-size="37.3" fill="#2e2e2e" letter-spacing="0.5">
<text x="652.5" y="1098.6">0.01</text>
<text x="796.4" y="1051.7">0.015</text>
<text x="940.2" y="1004.9">0.02</text>
<text x="1084.1" y="958.0">0.025</text>
<text x="1228.0" y="911.1">0.03</text>
<text x="144.7" y="849.1" text-anchor="middle">6</text>
<text x="255.2" y="910.1" text-anchor="middle">5</text>
<text x="365.7" y="971.1" text-anchor="middle">4</text>
<text x="476.2" y="1032.1" text-anchor="middle">3</text>
<text x="586.7" y="1093.1" text-anchor="middle">2</text>
<text x="155.8" y="802.7" text-anchor="end">50</text>
<text x="155.8" y="669.2" text-anchor="end">100</text>
<text x="155.8" y="535.7" text-anchor="end">150</text>
<text x="155.8" y="402.2" text-anchor="end">200</text>
<text x="155.8" y="268.7" text-anchor="end">250</text>
</g>
<g font-family='"Liberation Sans", Arial, Helvetica, sans-serif' fill="#2e2e2e">
<text x="112.5" y="983.6" font-size="46" fill="#6a6a6a">×</text>
<text x="143.2" y="976" font-size="38.5">10</text>
<text x="185.3" y="957.8" font-size="31">-3</text>
</g>
<g font-family='"Liberation Sans", Arial, Helvetica, sans-serif' font-size="40.6" fill="#2e2e2e" letter-spacing="0.4">
<text transform="translate(68 532.5) rotate(-90)" text-anchor="middle" letter-spacing="0.56">First-order modal frequency, H1/Hz</text>
<text transform="translate(568 1165.5) rotate(30.50)" text-anchor="end">Wall thickness, x<tspan font-size="29" dy="20" dx="0">2</tspan><tspan dy="-20" dx="5.5">/mm</tspan></text>
<text transform="translate(1242.5 1001.7) rotate(-16.00)" text-anchor="end">Outer diameter, x<tspan font-size="29" dy="20" dx="0">1</tspan><tspan dy="-20" dx="5.5">/mm</tspan></text>
</g>
<g shape-rendering="crispEdges">
<rect x="1314.8" y="1030.22" width="75.8" height="15.68" fill="#352a87"/>
<rect x="1314.8" y="1015.13" width="75.8" height="15.68" fill="#363093"/>
<rect x="1314.8" y="1000.05" width="75.8" height="15.68" fill="#3637a0"/>
<rect x="1314.8" y="984.97" width="75.8" height="15.68" fill="#353dad"/>
<rect x="1314.8" y="969.89" width="75.8" height="15.68" fill="#3243ba"/>
<rect x="1314.8" y="954.80" width="75.8" height="15.68" fill="#2c4ac7"/>
<rect x="1314.8" y="939.72" width="75.8" height="15.68" fill="#2053d4"/>
<rect x="1314.8" y="924.64" width="75.8" height="15.68" fill="#0f5cdd"/>
<rect x="1314.8" y="909.55" width="75.8" height="15.68" fill="#0363e1"/>
<rect x="1314.8" y="894.47" width="75.8" height="15.68" fill="#0268e1"/>
<rect x="1314.8" y="879.39" width="75.8" height="15.68" fill="#046de0"/>
<rect x="1314.8" y="864.31" width="75.8" height="15.68" fill="#0871de"/>
<rect x="1314.8" y="849.22" width="75.8" height="15.68" fill="#0d75dc"/>
<rect x="1314.8" y="834.14" width="75.8" height="15.68" fill="#1079da"/>
<rect x="1314.8" y="819.06" width="75.8" height="15.68" fill="#127dd8"/>
<rect x="1314.8" y="803.97" width="75.8" height="15.68" fill="#1481d6"/>
<rect x="1314.8" y="788.89" width="75.8" height="15.68" fill="#1485d4"/>
<rect x="1314.8" y="773.81" width="75.8" height="15.68" fill="#1389d3"/>
<rect x="1314.8" y="758.73" width="75.8" height="15.68" fill="#108ed2"/>
<rect x="1314.8" y="743.64" width="75.8" height="15.68" fill="#0c93d2"/>
<rect x="1314.8" y="728.56" width="75.8" height="15.68" fill="#0998d1"/>
<rect x="1314.8" y="713.48" width="75.8" height="15.68" fill="#079ccf"/>
<rect x="1314.8" y="698.40" width="75.8" height="15.68" fill="#06a0cd"/>
<rect x="1314.8" y="683.31" width="75.8" height="15.68" fill="#06a4ca"/>
<rect x="1314.8" y="668.23" width="75.8" height="15.68" fill="#06a7c6"/>
<rect x="1314.8" y="653.15" width="75.8" height="15.68" fill="#07a9c2"/>
<rect x="1314.8" y="638.06" width="75.8" height="15.68" fill="#0aacbe"/>
<rect x="1314.8" y="622.98" width="75.8" height="15.68" fill="#0faeb9"/>
<rect x="1314.8" y="607.90" width="75.8" height="15.68" fill="#15b1b4"/>
<rect x="1314.8" y="592.82" width="75.8" height="15.68" fill="#1db3af"/>
<rect x="1314.8" y="577.73" width="75.8" height="15.68" fill="#25b5a9"/>
<rect x="1314.8" y="562.65" width="75.8" height="15.68" fill="#2eb7a4"/>
<rect x="1314.8" y="547.57" width="75.8" height="15.68" fill="#38b99e"/>
<rect x="1314.8" y="532.48" width="75.8" height="15.68" fill="#42bb98"/>
<rect x="1314.8" y="517.40" width="75.8" height="15.68" fill="#4dbc92"/>
<rect x="1314.8" y="502.32" width="75.8" height="15.68" fill="#59bd8c"/>
<rect x="1314.8" y="487.24" width="75.8" height="15.68" fill="#65be86"/>
<rect x="1314.8" y="472.15" width="75.8" height="15.68" fill="#71bf80"/>
<rect x="1314.8" y="457.07" width="75.8" height="15.68" fill="#7cbf7b"/>
<rect x="1314.8" y="441.99" width="75.8" height="15.68" fill="#87bf77"/>
<rect x="1314.8" y="426.90" width="75.8" height="15.68" fill="#92bf73"/>
<rect x="1314.8" y="411.82" width="75.8" height="15.68" fill="#9cbf6f"/>
<rect x="1314.8" y="396.74" width="75.8" height="15.68" fill="#a5be6b"/>
<rect x="1314.8" y="381.66" width="75.8" height="15.68" fill="#aebe67"/>
<rect x="1314.8" y="366.57" width="75.8" height="15.68" fill="#b7bd64"/>
<rect x="1314.8" y="351.49" width="75.8" height="15.68" fill="#c0bc60"/>
<rect x="1314.8" y="336.41" width="75.8" height="15.68" fill="#c8bc5d"/>
<rect x="1314.8" y="321.33" width="75.8" height="15.68" fill="#d1bb59"/>
<rect x="1314.8" y="306.24" width="75.8" height="15.68" fill="#d9ba56"/>
<rect x="1314.8" y="291.16" width="75.8" height="15.68" fill="#e1b952"/>
<rect x="1314.8" y="276.08" width="75.8" height="15.68" fill="#e9b94e"/>
<rect x="1314.8" y="260.99" width="75.8" height="15.68" fill="#f1b94a"/>
<rect x="1314.8" y="245.91" width="75.8" height="15.68" fill="#f8bb44"/>
<rect x="1314.8" y="230.83" width="75.8" height="15.68" fill="#fdbe3d"/>
<rect x="1314.8" y="215.75" width="75.8" height="15.68" fill="#ffc337"/>
<rect x="1314.8" y="200.66" width="75.8" height="15.68" fill="#fec832"/>
<rect x="1314.8" y="185.58" width="75.8" height="15.68" fill="#fcce2e"/>
<rect x="1314.8" y="170.50" width="75.8" height="15.68" fill="#fad32a"/>
<rect x="1314.8" y="155.41" width="75.8" height="15.68" fill="#f7d826"/>
<rect x="1314.8" y="140.33" width="75.8" height="15.68" fill="#f5de21"/>
<rect x="1314.8" y="125.25" width="75.8" height="15.68" fill="#f5e41d"/>
<rect x="1314.8" y="110.17" width="75.8" height="15.68" fill="#f5eb18"/>
<rect x="1314.8" y="95.08" width="75.8" height="15.68" fill="#f6f313"/>
<rect x="1314.8" y="80.00" width="75.8" height="15.68" fill="#f9fb0e"/>
</g>
<rect x="1314.8" y="80.0" width="75.8" height="965.3" fill="none" stroke="#262626" stroke-width="1.6"/>
<g font-family='"Liberation Sans", Arial, Helvetica, sans-serif' font-size="34.4" fill="#2e2e2e" stroke="#262626" stroke-width="0" letter-spacing="0.4">
<path d="M1381.1 988.6L1390.6 988.6" stroke-width="1.5"/>
<text x="1403.3" y="1002.2">80</text>
<path d="M1381.1 873.8L1390.6 873.8" stroke-width="1.5"/>
<text x="1403.3" y="887.4">100</text>
<path d="M1381.1 758.9L1390.6 758.9" stroke-width="1.5"/>
<text x="1403.3" y="772.5">120</text>
<path d="M1381.1 644.1L1390.6 644.1" stroke-width="1.5"/>
<text x="1403.3" y="657.7">140</text>
<path d="M1381.1 529.3L1390.6 529.3" stroke-width="1.5"/>
<text x="1403.3" y="542.9">160</text>
<path d="M1381.1 414.5L1390.6 414.5" stroke-width="1.5"/>
<text x="1403.3" y="428.1">180</text>
<path d="M1381.1 299.6L1390.6 299.6" stroke-width="1.5"/>
<text x="1403.3" y="313.2">200</text>
<path d="M1381.1 184.8L1390.6 184.8" stroke-width="1.5"/>
<text x="1403.3" y="198.4">220</text>
</g>
</svg>
</body></html>
